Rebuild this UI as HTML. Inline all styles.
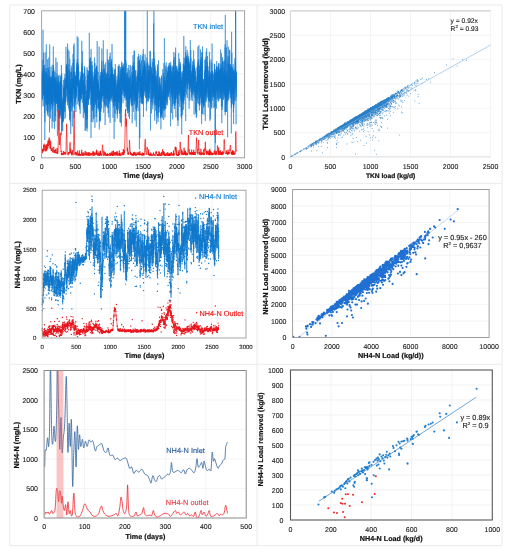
<!DOCTYPE html>
<html lang="en"><head><meta charset="utf-8"><title>Figure</title>
<style>html,body{margin:0;padding:0;background:#fff}svg{display:block}</style></head>
<body>
<svg width="510" height="550" viewBox="0 0 510 550" text-rendering="geometricPrecision" font-family='&quot;Liberation Sans&quot;, sans-serif'>
<rect width="510" height="550" fill="#fff"/>
<line x1="9.8" y1="5" x2="502" y2="5" stroke="#e9e9e9" stroke-width="0.9"/>
<line x1="9.8" y1="183.6" x2="502" y2="183.6" stroke="#e9e9e9" stroke-width="0.9"/>
<line x1="9.8" y1="364.3" x2="502" y2="364.3" stroke="#e9e9e9" stroke-width="0.9"/>
<line x1="9.8" y1="545.6" x2="502" y2="545.6" stroke="#e9e9e9" stroke-width="0.9"/>
<line x1="9.8" y1="5" x2="9.8" y2="545.6" stroke="#e9e9e9" stroke-width="0.9"/>
<line x1="257" y1="5" x2="257" y2="545.6" stroke="#e9e9e9" stroke-width="0.9"/>
<line x1="502" y1="5" x2="502" y2="545.6" stroke="#e9e9e9" stroke-width="0.9"/>
<line x1="75.4" y1="10.8" x2="75.4" y2="157.8" stroke="#ececec" stroke-width="0.7"/>
<line x1="109.3" y1="10.8" x2="109.3" y2="157.8" stroke="#ececec" stroke-width="0.7"/>
<line x1="143.1" y1="10.8" x2="143.1" y2="157.8" stroke="#ececec" stroke-width="0.7"/>
<line x1="176.9" y1="10.8" x2="176.9" y2="157.8" stroke="#ececec" stroke-width="0.7"/>
<line x1="210.8" y1="10.8" x2="210.8" y2="157.8" stroke="#ececec" stroke-width="0.7"/>
<line x1="41.6" y1="136.8" x2="244.6" y2="136.8" stroke="#ececec" stroke-width="0.7"/>
<line x1="41.6" y1="115.8" x2="244.6" y2="115.8" stroke="#ececec" stroke-width="0.7"/>
<line x1="41.6" y1="94.8" x2="244.6" y2="94.8" stroke="#ececec" stroke-width="0.7"/>
<line x1="41.6" y1="73.8" x2="244.6" y2="73.8" stroke="#ececec" stroke-width="0.7"/>
<line x1="41.6" y1="52.8" x2="244.6" y2="52.8" stroke="#ececec" stroke-width="0.7"/>
<line x1="41.6" y1="31.8" x2="244.6" y2="31.8" stroke="#ececec" stroke-width="0.7"/>
<clipPath id="c1"><rect x="41.6" y="10.8" width="203" height="147"/></clipPath>
<path d="M41.6,90.6 41.6,79.1 41.7,101.9 41.7,78.3 41.7,82.6 41.8,90.6 41.8,80.6 41.8,70.8 41.9,102 41.9,106.5 41.9,82 42,79.7 42,72.8 42,89.9 42.1,75.6 42.1,86.6 42.1,71.1 42.2,88.2 42.2,79.7 42.2,83.2 42.3,99.3 42.3,84.6 42.3,75.9 42.4,79.1 42.4,99.5 42.4,95.4 42.5,89.5 42.5,90.4 42.5,95.5 42.6,82.2 42.6,98.7 42.6,79.3 42.7,86.1 42.7,80 42.8,59.8 42.8,84.6 42.8,88.4 42.9,91.1 42.9,94.6 42.9,85.1 43,29.7 43,79.9 43,76.8 43.1,75.2 43.1,81.3 43.1,82.8 43.2,80.4 43.2,68.2 43.2,91.1 43.3,82.3 43.3,76.1 43.3,76.3 43.4,75 43.4,72.1 43.4,65.9 43.5,82.8 43.5,52.8 43.5,64.6 43.6,74.6 43.6,82.9 43.6,94.4 43.7,79.8 43.7,106.3 43.7,90.1 43.8,93.8 43.8,65.7 43.8,84.2 43.9,68.4 43.9,95.7 43.9,81.7 44,77.6 44,70.8 44,82 44.1,88.1 44.1,80.7 44.1,75.3 44.2,73.8 44.2,87.5 44.2,82.5 44.3,90.8 44.3,98.6 44.3,85.4 44.4,70.5 44.4,88.1 44.4,82.2 44.5,95.8 44.5,76.9 44.5,87.1 44.6,100.6 44.6,86.5 44.6,92.8 44.7,64.8 44.7,113 44.7,75.7 44.8,140 44.8,95.2 44.8,81.7 44.9,71.7 44.9,81 44.9,78.3 45,73 45,121.9 45.1,52.4 45.1,88.2 45.1,81.1 45.2,90.5 45.2,84.1 45.2,89 45.3,93.1 45.3,96.4 45.3,92.8 45.4,99.6 45.4,100.6 45.4,103.6 45.5,91.1 45.5,85.3 45.5,85.9 45.6,93.1 45.6,90.6 45.6,99.9 45.7,94.8 45.7,80.4 45.7,81.4 45.8,82.3 45.8,80.1 45.8,89.5 45.9,68.1 45.9,93.7 45.9,84.4 46,80.1 46,91.9 46,105.8 46.1,91.5 46.1,93.7 46.1,93.9 46.2,71.7 46.2,91.4 46.2,87.8 46.3,96.4 46.3,92.2 46.3,44.4 46.4,89.4 46.4,74.5 46.4,77.9 46.5,92.1 46.5,104.3 46.5,75.1 46.6,78 46.6,91.2 46.6,95.7 46.7,90.2 46.7,84.5 46.7,110.8 46.8,85 46.8,102.5 46.8,92.9 46.9,73.4 46.9,82.8 46.9,105 47,88.1 47,73 47,84.1 47.1,87.9 47.1,94.4 47.1,86.6 47.2,91.2 47.2,67.9 47.3,97.9 47.3,89.5 47.3,94.6 47.4,115.1 47.4,85.6 47.4,103.1 47.5,93.2 47.5,75.1 47.5,88.9 47.6,59.2 47.6,96.6 47.6,91.3 47.7,112.9 47.7,102 47.7,105.6 47.8,108.8 47.8,77.1 47.8,90.2 47.9,111.8 47.9,111.4 47.9,95.6 48,103.2 48,88.6 48,93.4 48.1,86.7 48.1,90.9 48.1,104.1 48.2,82.3 48.2,102.2 48.2,85.8 48.3,80.6 48.3,116.6 48.3,106.4 48.4,103.1 48.4,96.9 48.4,103.1 48.5,83.3 48.5,91.5 48.5,102.9 48.6,95 48.6,86.5 48.6,69.3 48.7,81 48.7,67.4 48.7,72.1 48.8,71.2 48.8,57.6 48.8,89.8 48.9,76.7 48.9,82.2 48.9,85 49,88 49,104.4 49,93.2 49.1,78.3 49.1,74.8 49.1,94.4 49.2,91.8 49.2,102 49.2,75.8 49.3,82.8 49.3,98.6 49.3,82.3 49.4,95.2 49.4,83.9 49.4,71.6 49.5,84 49.5,132.4 49.6,87.8 49.6,106.4 49.6,92.1 49.7,92.2 49.7,77.4 49.7,44.4 49.8,92 49.8,86 49.8,85.8 49.9,93.7 49.9,90.2 49.9,101.2 50,101.1 50,80.9 50,94.5 50.1,84.1 50.1,103.1 50.1,112.2 50.2,82 50.2,93.3 50.2,80.7 50.3,78 50.3,89.3 50.3,93.6 50.4,96.9 50.4,118.5 50.4,91.9 50.5,100.7 50.5,86 50.5,95.7 50.6,93.6 50.6,80.5 50.6,81.2 50.7,76.9 50.7,96.4 50.7,94.3 50.8,76.6 50.8,98.2 50.8,79.3 50.9,81.1 50.9,77 50.9,81.5 51,93.4 51,66.8 51,80.8 51.1,103.4 51.1,88.2 51.1,109.5 51.2,100.2 51.2,81.4 51.2,97.5 51.3,98.1 51.3,84.6 51.3,81.7 51.4,83.6 51.4,87.6 51.4,89.4 51.5,96.3 51.5,103.3 51.5,77.3 51.6,86.4 51.6,90 51.6,98.9 51.7,93.8 51.7,84.3 51.8,94.4 51.8,87.3 51.8,87.9 51.9,100.9 51.9,105 51.9,84.6 52,98.1 52,92.2 52,103.9 52.1,96.4 52.1,128.4 52.1,83.1 52.2,81.4 52.2,75.4 52.2,78 52.3,64.9 52.3,81.2 52.3,96.4 52.4,121.1 52.4,89.2 52.4,82.3 52.5,78 52.5,78.3 52.5,107.7 52.6,89.6 52.6,99.1 52.6,70.9 52.7,77.2 52.7,95.1 52.7,97.9 52.8,93.3 52.8,81.5 52.8,92.1 52.9,86.5 52.9,88.4 52.9,71.8 53,105.8 53,98.9 53,78.3 53.1,77.4 53.1,81.7 53.1,74.3 53.2,84.4 53.2,81.1 53.2,86.8 53.3,82 53.3,46.4 53.3,82.1 53.4,87.8 53.4,102.3 53.4,78.3 53.5,71.6 53.5,65.1 53.5,78 53.6,88.6 53.6,83.5 53.6,83.2 53.7,67.5 53.7,82.9 53.7,81.2 53.8,122.1 53.8,73 53.8,70 53.9,75.5 53.9,89.5 53.9,71.4 54,74.7 54,87.4 54.1,79.8 54.1,101.8 54.1,77.4 54.2,88.2 54.2,79.4 54.2,81.4 54.3,93 54.3,75.9 54.3,81 54.4,87.3 54.4,101.5 54.4,86.2 54.5,95.6 54.5,93.3 54.5,81 54.6,82.9 54.6,129 54.6,84.6 54.7,90.8 54.7,95.9 54.7,97.8 54.8,95.2 54.8,101.3 54.8,95.1 54.9,93.6 54.9,91.5 54.9,85.7 55,86.4 55,106 55,71.8 55.1,87.4 55.1,78.9 55.1,83 55.2,84.3 55.2,95.8 55.2,99.1 55.3,93 55.3,116.2 55.3,87.1 55.4,77.5 55.4,95.8 55.4,80.4 55.5,103.1 55.5,94.8 55.5,87.3 55.6,103.4 55.6,99.9 55.6,121.2 55.7,100.4 55.7,90.4 55.7,88.8 55.8,82.5 55.8,85 55.8,90.9 55.9,57.6 55.9,83.3 55.9,87.8 56,85.5 56,88.9 56,92.4 56.1,83.4 56.1,87.9 56.1,89.5 56.2,96.4 56.2,102.5 56.2,93.1 56.3,101.4 56.3,76.9 56.4,97 56.4,94 56.4,84.3 56.5,103.6 56.5,81.5 56.5,94.3 56.6,90.7 56.6,81.4 56.6,103.7 56.7,92.9 56.7,89.6 56.7,93.1 56.8,101.5 56.8,89.1 56.8,88.5 56.9,83.1 56.9,101.9 56.9,97.6 57,103.6 57,73.6 57,103.2 57.1,102.1 57.1,96.9 57.1,62.1 57.2,101.3 57.2,86.7 57.2,96.1 57.3,95.6 57.3,111.5 57.3,85.4 57.4,135.7 57.4,105.3 57.4,106.9 57.5,100.1 57.5,90.4 57.5,106.2 57.6,82.4 57.6,93.6 57.6,101.5 57.7,104 57.7,89.8 57.7,92 57.8,92.2 57.8,89.5 57.8,91.6 57.9,94.1 57.9,95.1 57.9,88.6 58,82.3 58,95.3 58,97.3 58.1,76.3 58.1,101.8 58.1,88.7 58.2,87.1 58.2,78.6 58.2,89.6 58.3,86 58.3,82 58.3,90 58.4,80.6 58.4,81.8 58.4,75.3 58.5,99.8 58.5,91 58.6,92.2 58.6,92.1 58.6,89 58.7,101.4 58.7,100.8 58.7,117.9 58.8,94.6 58.8,108.6 58.8,106.7 58.9,95.4 58.9,90.8 58.9,130.2 59,81.5 59,102.8 59,100.9 59.1,102.5 59.1,95 59.1,97.2 59.2,92.4 59.2,108.7 59.2,95 59.3,92.2 59.3,108.6 59.3,85.5 59.4,107.8 59.4,82.1 59.4,115.9 59.5,90.3 59.5,91.4 59.5,93.5 59.6,91.7 59.6,93.5 59.6,97.5 59.7,108.6 59.7,84.5 59.7,117 59.8,89.1 59.8,74.8 59.8,103.6 59.9,94.3 59.9,100.9 59.9,98.3 60,118.9 60,87.2 60,89.8 60.1,100.9 60.1,113.5 60.1,102.4 60.2,98.8 60.2,102.4 60.2,93.1 60.3,113.5 60.3,104.6 60.3,92.5 60.4,91.2 60.4,100.1 60.4,107.6 60.5,98.8 60.5,106.7 60.5,81.4 60.6,98.4 60.6,102.2 60.6,103.1 60.7,115.7 60.7,92.1 60.7,96.2 60.8,76.3 60.8,81.3 60.9,93.6 60.9,80.3 60.9,107.2 61,101.5 61,101 61,102.9 61.1,100.4 61.1,96.6 61.1,97.8 61.2,76 61.2,95.4 61.2,92.3 61.3,89.3 61.3,76.7 61.3,84.5 61.4,98.8 61.4,65 61.4,82.4 61.5,110.2 61.5,91.7 61.5,96.6 61.6,101.8 61.6,135.4 61.6,101.7 61.7,100.3 61.7,97 61.7,92.4 61.8,87.9 61.8,73.5 61.8,92.2 61.9,103.3 61.9,117.9 61.9,92.2 62,84.4 62,91.3 62,131.1 62.1,106.3 62.1,122 62.1,121.6 62.2,106.6 62.2,109.2 62.2,109.7 62.3,117.8 62.3,111.3 62.3,111.9 62.4,123.5 62.4,100.4 62.4,108.1 62.5,120.3 62.5,102.1 62.5,118.2 62.6,105.3 62.6,118.1 62.6,124.4 62.7,130.9 62.7,122.9 62.7,119.3 62.8,108.5 62.8,105.5 62.8,98.1 62.9,105.8 62.9,121.5 62.9,113.2 63,118 63,117.2 63.1,101.4 63.1,101.9 63.1,112.9 63.2,120.9 63.2,115 63.2,98.2 63.3,95.3 63.3,100.5 63.3,121.8 63.4,111.6 63.4,110.1 63.4,98.9 63.5,87.7 63.5,99.5 63.5,117.2 63.6,114.1 63.6,97.3 63.6,80 63.7,113.3 63.7,106.7 63.7,97 63.8,99.4 63.8,87.9 63.8,110.9 63.9,90 63.9,119.3 63.9,108 64,101.8 64,105.8 64,99.9 64.1,102.8 64.1,92.8 64.1,90.3 64.2,112.2 64.2,102.7 64.2,99.5 64.3,96.8 64.3,93.5 64.3,77.9 64.4,92.2 64.4,86.1 64.4,94.2 64.5,86.4 64.5,100.8 64.5,99.4 64.6,94 64.6,87.5 64.6,104.1 64.7,103.6 64.7,100.4 64.7,102.6 64.8,102.5 64.8,94.5 64.8,92.4 64.9,73.9 64.9,93.8 64.9,83.9 65,96.7 65,91.3 65,101.8 65.1,111.4 65.1,95.8 65.1,86.3 65.2,91.2 65.2,79.8 65.2,81.8 65.3,118.4 65.3,94.6 65.4,80.2 65.4,84.6 65.4,84.4 65.5,100.7 65.5,96.8 65.5,95.2 65.6,92 65.6,102.2 65.6,84 65.7,80.4 65.7,87.5 65.7,96 65.8,84.9 65.8,99.1 65.8,96 65.9,84.1 65.9,101.8 65.9,76 66,46.8 66,75.9 66,79.2 66.1,86.8 66.1,78.7 66.1,90.1 66.2,77.6 66.2,81.8 66.2,69.8 66.3,65.8 66.3,75.2 66.3,81.1 66.4,88.9 66.4,78.8 66.4,81.1 66.5,80.2 66.5,79.1 66.5,63.9 66.6,76 66.6,84.1 66.6,83.5 66.7,70.3 66.7,76 66.7,88.9 66.8,78.3 66.8,76.9 66.8,65.2 66.9,68.8 66.9,96.8 66.9,88.9 67,72.6 67,84.8 67,70.9 67.1,71.3 67.1,67.7 67.1,81.1 67.2,80.3 67.2,66.2 67.2,89.2 67.3,87.4 67.3,78.2 67.3,84.3 67.4,81.9 67.4,76.7 67.4,92.3 67.5,82.2 67.5,105.2 67.6,43.5 67.6,76.1 67.6,72.1 67.7,67.1 67.7,81.1 67.7,74.8 67.8,79.5 67.8,69.7 67.8,76.5 67.9,80.6 67.9,49.1 67.9,81.3 68,94.6 68,81.2 68,64.1 68.1,73.1 68.1,101.9 68.1,76.7 68.2,79.7 68.2,87.7 68.2,87.5 68.3,85.7 68.3,99.5 68.3,90.6 68.4,107.8 68.4,93.1 68.4,84 68.5,81 68.5,86.8 68.5,87.8 68.6,80.8 68.6,86.1 68.6,89 68.7,100.7 68.7,85.3 68.7,82.6 68.8,84.2 68.8,92.4 68.8,80.7 68.9,95.6 68.9,84.3 68.9,90 69,89.7 69,81.2 69,50.8 69.1,101.9 69.1,110.4 69.1,82.9 69.2,103.2 69.2,101.1 69.2,91.3 69.3,96.9 69.3,69.6 69.3,94.6 69.4,89.6 69.4,86.8 69.4,76 69.5,71.9 69.5,84.8 69.5,93.6 69.6,92.2 69.6,71.5 69.6,96.4 69.7,119 69.7,89.7 69.7,119.9 69.8,58.8 69.8,84.5 69.9,91.4 69.9,88.4 69.9,104.7 70,101.3 70,114.8 70,86.4 70.1,93 70.1,101.6 70.1,88.7 70.2,121.7 70.2,97.4 70.2,100.3 70.3,92.3 70.3,88.4 70.3,112 70.4,103.1 70.4,83.8 70.4,79.4 70.5,85.6 70.5,108.6 70.5,102.1 70.6,106.6 70.6,89.6 70.6,71.7 70.7,90.6 70.7,134.1 70.7,96.5 70.8,94.4 70.8,100.7 70.8,101.9 70.9,81.5 70.9,102.2 70.9,89.1 71,95.8 71,91.1 71,102.5 71.1,89.8 71.1,85.6 71.1,94.5 71.2,86.6 71.2,88.9 71.2,65.5 71.3,95.6 71.3,82.6 71.3,80.1 71.4,99.3 71.4,83.4 71.4,76.4 71.5,72.5 71.5,96.4 71.5,88.3 71.6,94.7 71.6,100.3 71.6,72.3 71.7,111.5 71.7,84.2 71.7,93.8 71.8,83.5 71.8,101.6 71.8,67.9 71.9,103.1 71.9,92.3 71.9,87.8 72,86.3 72,107.9 72,108.1 72.1,98.4 72.1,94.5 72.2,85.8 72.2,90.4 72.2,81.2 72.3,106.2 72.3,126.6 72.3,98 72.4,102.6 72.4,81.8 72.4,99.8 72.5,86.7 72.5,88.1 72.5,105.1 72.6,86.9 72.6,105.8 72.6,78.6 72.7,97.6 72.7,89.8 72.7,79.5 72.8,81.2 72.8,82.1 72.8,63 72.9,69.5 72.9,85.1 72.9,83.2 73,54.1 73,69.2 73,86.9 73.1,78.6 73.1,88.9 73.1,87.5 73.2,88.5 73.2,76.5 73.2,84.1 73.3,87.4 73.3,75.6 73.3,94.5 73.4,79.5 73.4,86.7 73.4,74.2 73.5,83.9 73.5,72.2 73.5,79.3 73.6,72.4 73.6,73.6 73.6,84.4 73.7,73.2 73.7,79.9 73.7,45.6 73.8,77.2 73.8,99.8 73.8,106.8 73.9,85.6 73.9,75.2 73.9,59.2 74,79.7 74,84.7 74,87.7 74.1,43.4 74.1,85.5 74.1,89.2 74.2,73.7 74.2,91.3 74.2,98.5 74.3,89 74.3,118.1 74.4,71.8 74.4,90.1 74.4,95.5 74.5,97.9 74.5,94 74.5,101.9 74.6,77.2 74.6,108.9 74.6,84.5 74.7,85.2 74.7,86.5 74.7,98.5 74.8,96.7 74.8,88.4 74.8,81.6 74.9,85.4 74.9,98.4 74.9,89.4 75,83.1 75,83.8 75,71.7 75.1,96.2 75.1,90.8 75.1,95.2 75.2,95.9 75.2,87.9 75.2,82.9 75.3,98.8 75.3,87.7 75.3,99.6 75.4,93.1 75.4,77.8 75.4,87.9 75.5,75.6 75.5,99.6 75.5,102.4 75.6,77.4 75.6,85.8 75.6,75.7 75.7,80.3 75.7,80.2 75.7,104.4 75.8,83.6 75.8,75.7 75.8,82.6 75.9,81.2 75.9,112 75.9,93.1 76,91.9 76,94.7 76,91.7 76.1,89.9 76.1,90.6 76.1,98.5 76.2,79 76.2,78.6 76.2,87 76.3,76.8 76.3,91.7 76.3,86.6 76.4,75.6 76.4,93.1 76.4,88.1 76.5,90 76.5,89.9 76.5,80.4 76.6,96.5 76.6,85 76.7,92.1 76.7,84.4 76.7,82.5 76.8,68.7 76.8,76.3 76.8,84.8 76.9,64.2 76.9,82.7 76.9,76 77,85.5 77,70.2 77,66.7 77.1,82.7 77.1,62.5 77.1,76.2 77.2,68.5 77.2,36.2 77.2,70.8 77.3,59 77.3,83.4 77.3,85.2 77.4,63.2 77.4,74.1 77.4,84.6 77.5,79.3 77.5,70.5 77.5,77.2 77.6,78.1 77.6,70.5 77.6,75.1 77.7,65.9 77.7,76 77.7,73 77.8,104.4 77.8,64.8 77.8,87.1 77.9,68.6 77.9,71.1 77.9,62.3 78,75.5 78,69.5 78,74.7 78.1,69.5 78.1,37.6 78.1,80.7 78.2,76.2 78.2,72 78.2,80 78.3,84.6 78.3,86.7 78.3,81 78.4,85.3 78.4,80.3 78.4,101.3 78.5,65.5 78.5,67.3 78.5,89.7 78.6,86.6 78.6,80.4 78.6,67.2 78.7,93.3 78.7,96.1 78.7,85.6 78.8,77.1 78.8,71.6 78.9,97.6 78.9,82.5 78.9,78.8 79,99.2 79,95.8 79,83.8 79.1,93.4 79.1,91.5 79.1,100.9 79.2,100.6 79.2,80.2 79.2,105.8 79.3,91.5 79.3,101.1 79.3,98.9 79.4,106.9 79.4,95.1 79.4,90.2 79.5,86 79.5,91 79.5,106.4 79.6,91.3 79.6,96.4 79.6,82.7 79.7,96.3 79.7,109.3 79.7,89.1 79.8,98.9 79.8,94.6 79.8,93.5 79.9,95.8 79.9,99 79.9,81.9 80,98.3 80,85.3 80,102.4 80.1,95.3 80.1,93.7 80.1,80.3 80.2,113.8 80.2,95.3 80.2,85.6 80.3,90.5 80.3,90 80.3,87.8 80.4,92.2 80.4,92.7 80.4,92.8 80.5,79.5 80.5,96.8 80.5,89.2 80.6,92.1 80.6,91.4 80.6,85.3 80.7,80.7 80.7,88.1 80.7,76.5 80.8,97.9 80.8,91 80.8,100.5 80.9,93.4 80.9,72.6 80.9,71.7 81,79.5 81,82.7 81,81.6 81.1,96.5 81.1,93.4 81.2,96.2 81.2,94.4 81.2,74.6 81.3,93.2 81.3,84 81.3,90.4 81.4,89.4 81.4,76.3 81.4,99.1 81.5,98.7 81.5,86 81.5,88.7 81.6,83 81.6,99 81.6,66.7 81.7,85 81.7,70.8 81.7,59 81.8,40.8 81.8,69.8 81.8,65.8 81.9,62.9 81.9,87.5 81.9,71.2 82,88.2 82,74.6 82,91.9 82.1,74.6 82.1,90.1 82.1,78.8 82.2,89.5 82.2,65.8 82.2,69.4 82.3,92.4 82.3,102.8 82.3,80.2 82.4,73 82.4,51.2 82.4,71.2 82.5,75.9 82.5,80.9 82.5,88.3 82.6,85.2 82.6,72.4 82.6,86.8 82.7,72.3 82.7,94.4 82.7,84.8 82.8,82.2 82.8,89 82.8,81.3 82.9,82.9 82.9,81.4 82.9,86.2 83,87.4 83,82 83,94.4 83.1,80.8 83.1,90.1 83.1,81.6 83.2,94.4 83.2,91.1 83.2,84.7 83.3,80.4 83.3,118.1 83.4,80.2 83.4,108.4 83.4,101.5 83.5,95.6 83.5,73.8 83.5,94.9 83.6,92.2 83.6,86.8 83.6,85.6 83.7,102.5 83.7,103.4 83.7,104.4 83.8,93.5 83.8,86.7 83.8,95.7 83.9,81.2 83.9,106.5 83.9,87.6 84,87.9 84,87.6 84,86.9 84.1,92.5 84.1,92.8 84.1,103.2 84.2,102.6 84.2,88.8 84.2,103.6 84.3,94 84.3,113.4 84.3,72.6 84.4,110.7 84.4,85.3 84.4,82.5 84.5,99.8 84.5,80.8 84.5,112.3 84.6,79.8 84.6,66.1 84.6,81.7 84.7,97.2 84.7,67.6 84.7,96 84.8,83.6 84.8,101.3 84.8,76.6 84.9,76.9 84.9,90.3 84.9,90.8 85,75.5 85,76.5 85,88.2 85.1,86.6 85.1,131 85.1,90.5 85.2,91.4 85.2,91.1 85.2,94.1 85.3,85.9 85.3,96.2 85.3,101 85.4,102.3 85.4,99.5 85.4,106.2 85.5,105.4 85.5,111.2 85.5,115.3 85.6,100.4 85.6,100 85.7,103.5 85.7,113.5 85.7,98.3 85.8,124.4 85.8,129.9 85.8,111.2 85.9,98.7 85.9,107 85.9,91.4 86,107 86,118.9 86,96.2 86.1,101.8 86.1,101.5 86.1,115.2 86.2,112.5 86.2,127.4 86.2,108.9 86.3,115.4 86.3,107.4 86.3,106.1 86.4,105.8 86.4,100.6 86.4,98.4 86.5,112.1 86.5,103.2 86.5,99.8 86.6,105.7 86.6,102.1 86.6,112.4 86.7,90.6 86.7,109.4 86.7,119.9 86.8,103.6 86.8,114 86.8,93.8 86.9,110.9 86.9,108.3 86.9,107.5 87,67.3 87,131.4 87,92.7 87.1,80 87.1,96.5 87.1,102 87.2,100.8 87.2,92.7 87.2,89.7 87.3,119.9 87.3,128.4 87.3,96.8 87.4,69.7 87.4,83.6 87.4,92.5 87.5,83.8 87.5,104.8 87.5,118.8 87.6,85.8 87.6,75.1 87.6,92.5 87.7,87.4 87.7,78.7 87.7,93.6 87.8,84.7 87.8,85 87.9,81.6 87.9,93.5 87.9,96.8 88,101.1 88,82.1 88,90.6 88.1,91.7 88.1,74 88.1,78.7 88.2,76.3 88.2,90 88.2,99.6 88.3,88.3 88.3,94.7 88.3,98.8 88.4,86.9 88.4,75.7 88.4,77.6 88.5,104.7 88.5,71.1 88.5,84.5 88.6,105 88.6,89.4 88.6,91.8 88.7,83.2 88.7,77.8 88.7,91.3 88.8,88.6 88.8,77 88.8,81.2 88.9,96.3 88.9,75.4 88.9,82.3 89,75 89,82.4 89,97.9 89.1,76.6 89.1,90.4 89.1,70.5 89.2,90 89.2,73.4 89.2,69.9 89.3,69.5 89.3,32.8 89.3,56.4 89.4,94.6 89.4,65.3 89.4,83.3 89.5,99.4 89.5,85 89.5,72.5 89.6,77.1 89.6,74.2 89.6,82.6 89.7,82.5 89.7,82.5 89.7,71.4 89.8,67.5 89.8,88.3 89.8,63.7 89.9,58.8 89.9,79.7 89.9,73 90,71.9 90,58.7 90,82.2 90.1,74.7 90.1,72.9 90.2,73.4 90.2,91.2 90.2,72.3 90.3,78.3 90.3,78.2 90.3,65.8 90.4,76.5 90.4,87.7 90.4,57.3 90.5,79.8 90.5,72.3 90.5,86.3 90.6,84.2 90.6,89.9 90.6,70.8 90.7,78.7 90.7,73.6 90.7,77.4 90.8,62.4 90.8,104.9 90.8,91.9 90.9,61.9 90.9,68.1 90.9,66.9 91,96.8 91,137.9 91,70.7 91.1,76.3 91.1,48.9 91.1,78.5 91.2,74.7 91.2,85 91.2,76.2 91.3,93.1 91.3,79.4 91.3,69.8 91.4,84.6 91.4,82.6 91.4,104.5 91.5,77 91.5,86.2 91.5,84.1 91.6,121.8 91.6,104.8 91.6,70.4 91.7,90.9 91.7,79.2 91.7,85.7 91.8,81.6 91.8,78.9 91.8,80.2 91.9,110.4 91.9,92.5 91.9,85.2 92,61.1 92,73.4 92,91.7 92.1,100.1 92.1,84.9 92.1,76.4 92.2,89.5 92.2,91.9 92.2,90.2 92.3,86.3 92.3,83.8 92.3,89.9 92.4,86 92.4,84.5 92.5,101.1 92.5,84.5 92.5,73.5 92.6,83.3 92.6,75.9 92.6,65.3 92.7,90.9 92.7,111.2 92.7,98.7 92.8,97.2 92.8,88.1 92.8,106.5 92.9,81.9 92.9,100.5 92.9,122.3 93,108.2 93,97.5 93,99.9 93.1,81 93.1,93.1 93.1,102.1 93.2,88.3 93.2,95.9 93.2,86.5 93.3,105.1 93.3,109.8 93.3,85.5 93.4,109 93.4,93.1 93.4,102 93.5,98.9 93.5,87.9 93.5,96.1 93.6,109.7 93.6,118.2 93.6,119.1 93.7,97.5 93.7,89.1 93.7,90.6 93.8,91.8 93.8,82.3 93.8,117.2 93.9,92.1 93.9,79.6 93.9,87.4 94,83.1 94,75.7 94,90.4 94.1,71.9 94.1,89.1 94.1,97.1 94.2,80.1 94.2,76.8 94.2,83.9 94.3,88.1 94.3,77.9 94.3,77.6 94.4,76.2 94.4,91 94.4,87.7 94.5,57.5 94.5,107.5 94.5,92.2 94.6,69.8 94.6,93.4 94.7,91.4 94.7,90 94.7,74 94.8,90.9 94.8,86.7 94.8,77.7 94.9,127.8 94.9,91.6 94.9,85.9 95,96.6 95,93.5 95,63.1 95.1,102.3 95.1,73.9 95.1,83.4 95.2,80.3 95.2,93 95.2,101.8 95.3,86.8 95.3,88.3 95.3,82.7 95.4,80.2 95.4,82.2 95.4,89.1 95.5,87.8 95.5,89 95.5,88.3 95.6,83.5 95.6,103.6 95.6,79.8 95.7,88.4 95.7,91.3 95.7,104.9 95.8,68 95.8,95.4 95.8,83.9 95.9,86.5 95.9,74.7 95.9,102.4 96,92.8 96,90.8 96,74.6 96.1,80.3 96.1,88.2 96.1,97 96.2,117 96.2,69 96.2,72.9 96.3,69.4 96.3,84.6 96.3,65.6 96.4,88.8 96.4,87.7 96.4,90 96.5,113.1 96.5,71.3 96.5,99.2 96.6,99.8 96.6,79.1 96.6,66.4 96.7,79.5 96.7,87.5 96.7,87.6 96.8,66.5 96.8,122.4 96.8,83.4 96.9,83.9 96.9,84.9 97,73.8 97,70.4 97,82.5 97.1,92.1 97.1,92.5 97.1,79.3 97.2,41.1 97.2,72.9 97.2,82.2 97.3,93.5 97.3,99.4 97.3,98.1 97.4,84.3 97.4,80.9 97.4,91.7 97.5,108.5 97.5,90 97.5,95.8 97.6,89 97.6,87 97.6,99.9 97.7,82.1 97.7,84.4 97.7,95.7 97.8,95.8 97.8,79.2 97.8,85.9 97.9,80 97.9,90.5 97.9,89.2 98,85.1 98,87.2 98,86.1 98.1,98.7 98.1,96.6 98.1,86.7 98.2,71.9 98.2,96.1 98.2,96.5 98.3,82.8 98.3,98 98.3,83.3 98.4,92 98.4,97 98.4,88.6 98.5,107.4 98.5,90.2 98.5,83.4 98.6,107.4 98.6,104.2 98.6,101.5 98.7,101.3 98.7,90.3 98.7,95.7 98.8,97.1 98.8,90.9 98.8,96.1 98.9,92.1 98.9,110.1 98.9,94.9 99,111.4 99,106.2 99,104.5 99.1,86.8 99.1,46.5 99.2,93.1 99.2,91.9 99.2,91.4 99.3,89.9 99.3,105 99.3,129.5 99.4,102.9 99.4,103.7 99.4,101.3 99.5,101 99.5,102.7 99.5,105.2 99.6,102.5 99.6,104 99.6,100.9 99.7,120.5 99.7,92.9 99.7,105 99.8,101 99.8,120.8 99.8,104.4 99.9,91 99.9,104.6 99.9,101 100,103.1 100,91.1 100,75.5 100.1,94.8 100.1,121.7 100.1,117.4 100.2,98.1 100.2,87.1 100.2,102.9 100.3,120.5 100.3,108.3 100.3,111.3 100.4,101.4 100.4,95.2 100.4,99.1 100.5,78.4 100.5,95.3 100.5,107.3 100.6,105.1 100.6,98.8 100.6,107.5 100.7,100.5 100.7,87.7 100.7,89.8 100.8,75.2 100.8,98.4 100.8,95.6 100.9,89.2 100.9,94 100.9,71.9 101,111.8 101,90.5 101,87.4 101.1,89.8 101.1,89.4 101.1,72.2 101.2,74.6 101.2,88.7 101.2,96.8 101.3,93.1 101.3,86.8 101.3,84 101.4,101.8 101.4,68.9 101.5,84.3 101.5,95.2 101.5,72.7 101.6,96.2 101.6,90.6 101.6,61.1 101.7,97.9 101.7,77.6 101.7,108.6 101.8,73.6 101.8,87.7 101.8,48.6 101.9,85.7 101.9,95.3 101.9,85.2 102,100.2 102,89.8 102,75.8 102.1,84.3 102.1,76.5 102.1,89.9 102.2,81.1 102.2,86.9 102.2,79.3 102.3,84.7 102.3,91 102.3,72 102.4,92.2 102.4,95.9 102.4,82 102.5,97.6 102.5,79.6 102.5,82.5 102.6,80.3 102.6,83.9 102.6,90.3 102.7,82.8 102.7,84.1 102.7,83.8 102.8,78.3 102.8,86.3 102.8,84.3 102.9,86.2 102.9,92 102.9,78.8 103,71.7 103,70.4 103,91.2 103.1,69 103.1,80.8 103.1,74.1 103.2,81.5 103.2,102 103.2,60.7 103.3,70.4 103.3,40.3 103.3,71.9 103.4,82.6 103.4,74.5 103.4,95.5 103.5,89 103.5,89.5 103.5,80.9 103.6,85.5 103.6,95.1 103.7,82.9 103.7,85.7 103.7,112.8 103.8,85.5 103.8,92.1 103.8,83.8 103.9,84.4 103.9,96 103.9,86.4 104,73.2 104,78.5 104,85 104.1,80.2 104.1,79.8 104.1,75 104.2,90.1 104.2,90.9 104.2,69.6 104.3,84.7 104.3,68.3 104.3,102.9 104.4,99.2 104.4,92.3 104.4,97 104.5,104.9 104.5,104.7 104.5,89.6 104.6,80.6 104.6,77.4 104.6,97.5 104.7,90.7 104.7,97.2 104.7,64.5 104.8,85.3 104.8,94.2 104.8,90.9 104.9,93.7 104.9,86.2 104.9,107.5 105,101.3 105,104.1 105,88.5 105.1,88 105.1,100.9 105.1,125.1 105.2,92.7 105.2,83.9 105.2,71.6 105.3,79.2 105.3,80.8 105.3,85.4 105.4,81.7 105.4,90.2 105.4,92 105.5,84.1 105.5,86.7 105.5,98.8 105.6,96.2 105.6,79.8 105.6,62.5 105.7,97 105.7,99.3 105.7,94.8 105.8,81.3 105.8,86.8 105.8,91.2 105.9,106 105.9,90.1 106,73.4 106,76.1 106,89.4 106.1,82.1 106.1,80.1 106.1,74.1 106.2,81.2 106.2,79.6 106.2,98.1 106.3,94 106.3,82.7 106.3,83.1 106.4,78.9 106.4,97.2 106.4,105.1 106.5,83.5 106.5,93.5 106.5,87.5 106.6,94.7 106.6,84 106.6,78.5 106.7,83.8 106.7,96.5 106.7,81.4 106.8,96.2 106.8,94.1 106.8,87.4 106.9,107.1 106.9,87.8 106.9,87.8 107,95.4 107,88 107,74.9 107.1,96.4 107.1,72.8 107.1,90 107.2,92.1 107.2,80.4 107.2,49.2 107.3,71.3 107.3,78.7 107.3,80.4 107.4,81 107.4,89.7 107.4,71.9 107.5,82.3 107.5,98.8 107.5,92.1 107.6,108.1 107.6,87.4 107.6,80.8 107.7,80.1 107.7,96.2 107.7,92.3 107.8,59.3 107.8,78.4 107.8,88.4 107.9,78.3 107.9,80.6 107.9,101.8 108,96.7 108,76 108,75.3 108.1,87.3 108.1,73 108.2,89.3 108.2,113.4 108.2,96.6 108.3,84.8 108.3,94.2 108.3,88.5 108.4,96.8 108.4,77.9 108.4,104.9 108.5,108 108.5,81.4 108.5,91.5 108.6,60.2 108.6,83.1 108.6,79.3 108.7,94.4 108.7,83.6 108.7,95.2 108.8,85.1 108.8,117.5 108.8,90.8 108.9,89 108.9,98.5 108.9,93.3 109,63 109,102 109,104 109.1,90.7 109.1,82.6 109.1,95.6 109.2,89.3 109.2,87.2 109.2,84.8 109.3,87.1 109.3,82.1 109.3,84.1 109.4,101.9 109.4,90.2 109.4,89.8 109.5,101.1 109.5,91.2 109.5,94 109.6,95.6 109.6,94.7 109.6,98.9 109.7,74.7 109.7,56.6 109.7,91.6 109.8,86.8 109.8,75.6 109.8,82.2 109.9,90.1 109.9,87.5 109.9,78.2 110,81.8 110,94.5 110,97.8 110.1,82.7 110.1,82.4 110.1,122.8 110.2,93.9 110.2,63.4 110.2,52.7 110.3,83.9 110.3,100.4 110.3,77.9 110.4,74.3 110.4,81.9 110.5,80.1 110.5,91.7 110.5,87.6 110.6,77.7 110.6,74.4 110.6,98.4 110.7,90.6 110.7,83 110.7,92.3 110.8,62 110.8,83.6 110.8,74.3 110.9,85.3 110.9,85.1 110.9,81.8 111,89.3 111,85.2 111,82.6 111.1,77.8 111.1,87.4 111.1,100.8 111.2,83.5 111.2,59 111.2,87.6 111.3,89.2 111.3,76.6 111.3,84.7 111.4,80.7 111.4,81.9 111.4,88.6 111.5,60.6 111.5,98.5 111.5,81 111.6,84.6 111.6,95.2 111.6,94.3 111.7,64.6 111.7,95.7 111.7,84.9 111.8,91.6 111.8,96.9 111.8,81.7 111.9,69.5 111.9,93.7 111.9,76.8 112,78.3 112,86.1 112,44.1 112.1,57.5 112.1,81.2 112.1,79.5 112.2,78.5 112.2,70.3 112.2,102.4 112.3,73.2 112.3,88.1 112.3,72.3 112.4,83.9 112.4,85.6 112.4,76.3 112.5,82.5 112.5,85.3 112.5,86.4 112.6,91.4 112.6,80.9 112.7,84.7 112.7,84.7 112.7,89.7 112.8,90.4 112.8,71.9 112.8,67.2 112.9,91.9 112.9,82.2 112.9,76.2 113,74.3 113,117.8 113,89.4 113.1,96.7 113.1,99.1 113.1,78.9 113.2,93.1 113.2,95.4 113.2,92.4 113.3,74.8 113.3,107.4 113.3,87.4 113.4,95.2 113.4,80.8 113.4,85.7 113.5,105.5 113.5,79.6 113.5,88.5 113.6,79.7 113.6,92 113.6,80.4 113.7,74.4 113.7,98.6 113.7,95.1 113.8,88 113.8,87.8 113.8,92.6 113.9,93.5 113.9,77.5 113.9,100.1 114,96.7 114,79.5 114,95.9 114.1,99 114.1,98.9 114.1,138.9 114.2,78 114.2,106 114.2,98.8 114.3,97.3 114.3,103 114.3,100.8 114.4,96 114.4,74.4 114.4,81.8 114.5,92.6 114.5,91.1 114.5,102 114.6,78.2 114.6,82.6 114.6,86.3 114.7,96.8 114.7,84.4 114.7,97.4 114.8,69.4 114.8,79.6 114.8,83.9 114.9,92.6 114.9,71.4 115,121.9 115,69.1 115,84.3 115.1,88.1 115.1,99.7 115.1,108 115.2,113.7 115.2,90.6 115.2,100.8 115.3,81.8 115.3,83.2 115.3,63.9 115.4,96.5 115.4,79.5 115.4,101 115.5,81.4 115.5,81.4 115.5,93.1 115.6,86.9 115.6,88.3 115.6,84.6 115.7,95.7 115.7,101.2 115.7,84.5 115.8,86.5 115.8,94.7 115.8,100.8 115.9,90 115.9,95.5 115.9,85.7 116,96.3 116,89.2 116,93.7 116.1,106.2 116.1,88 116.1,96.2 116.2,92.2 116.2,86.2 116.2,105.7 116.3,105.5 116.3,103.9 116.3,97.5 116.4,92.5 116.4,94.8 116.4,89.8 116.5,102.6 116.5,96.3 116.5,92.1 116.6,102.9 116.6,105.1 116.6,97.2 116.7,109.7 116.7,90 116.7,83.9 116.8,76.2 116.8,102.4 116.8,103.3 116.9,109.6 116.9,104 116.9,94.4 117,96.9 117,83.6 117,107.4 117.1,96.9 117.1,100 117.1,107.3 117.2,114.4 117.2,80.9 117.3,96 117.3,118.5 117.3,92.2 117.4,95.4 117.4,80.4 117.4,90.2 117.5,86.8 117.5,97.4 117.5,93.9 117.6,87 117.6,101.6 117.6,113.4 117.7,84.9 117.7,88.5 117.7,98.5 117.8,87 117.8,109.2 117.8,104.7 117.9,97.2 117.9,110.9 117.9,97.6 118,94.8 118,79.6 118,81.5 118.1,74.1 118.1,85.3 118.1,65.8 118.2,108.4 118.2,84.5 118.2,93.4 118.3,89.9 118.3,86.6 118.3,85.3 118.4,79.1 118.4,92.3 118.4,100.3 118.5,89 118.5,67.1 118.5,84.1 118.6,89.2 118.6,101.7 118.6,84.8 118.7,87.8 118.7,75 118.7,97.1 118.8,71 118.8,86.8 118.8,89.1 118.9,102.7 118.9,88.6 118.9,96.4 119,64.2 119,94.4 119,81.8 119.1,95.1 119.1,82.5 119.1,88.7 119.2,86.6 119.2,97 119.2,70.9 119.3,66 119.3,90.6 119.3,97.3 119.4,78 119.4,85.5 119.5,90.4 119.5,103.1 119.5,80.4 119.6,113.4 119.6,102 119.6,92.7 119.7,92.2 119.7,88.9 119.7,90.6 119.8,97.3 119.8,89.7 119.8,93.6 119.9,87.6 119.9,87.9 119.9,113.9 120,102.5 120,87.1 120,122.3 120.1,94.9 120.1,90.6 120.1,94.7 120.2,83.4 120.2,101.3 120.2,87.2 120.3,89.2 120.3,80.3 120.3,84.2 120.4,69.9 120.4,82.8 120.4,76.6 120.5,73.4 120.5,79.3 120.5,67.1 120.6,82.7 120.6,94.8 120.6,90.6 120.7,107.3 120.7,122.8 120.7,91.7 120.8,87.2 120.8,81.2 120.8,78.1 120.9,100.8 120.9,90.1 120.9,111.4 121,78.7 121,91.6 121,88.7 121.1,107.3 121.1,107.7 121.1,76.5 121.2,79.3 121.2,91 121.2,92.7 121.3,97.3 121.3,89.4 121.3,68.9 121.4,95.7 121.4,109.9 121.4,126.3 121.5,94.8 121.5,76.1 121.5,104.9 121.6,78.1 121.6,100.6 121.6,84.7 121.7,78.8 121.7,61.6 121.8,72.6 121.8,88.1 121.8,92.7 121.9,68.5 121.9,63 121.9,64.4 122,66.5 122,83.6 122,74.8 122.1,75 122.1,79.7 122.1,67.5 122.2,86.6 122.2,70.8 122.2,78.6 122.3,65.5 122.3,77.5 122.3,75.8 122.4,80.5 122.4,75 122.4,94.9 122.5,76.2 122.5,68.5 122.5,70.9 122.6,76.9 122.6,69.7 122.6,86 122.7,90.9 122.7,78.6 122.7,78.6 122.8,73.4 122.8,70.8 122.8,73.2 122.9,89.5 122.9,83 122.9,85.5 123,75.8 123,103.2 123,66.3 123.1,75.4 123.1,68.2 123.1,80 123.2,87.2 123.2,70.8 123.2,81.6 123.3,66.9 123.3,86.4 123.3,87.1 123.4,84 123.4,85.5 123.4,73.7 123.5,73.6 123.5,63.6 123.5,81.1 123.6,67 123.6,73.1 123.6,86.2 123.7,91.1 123.7,88.7 123.7,80.9 123.8,76.6 123.8,87.9 123.8,92.9 123.9,92.4 123.9,79.6 124,77.1 124,96 124,87.5 124.1,67.6 124.1,85.1 124.1,89.9 124.2,77.3 124.2,79.1 124.2,89.4 124.3,78.9 124.3,75.8 124.3,81.1 124.4,79.5 124.4,96.2 124.4,81.1 124.5,90.8 124.5,-1.8 124.5,78.1 124.6,72.2 124.6,79.8 124.6,81.1 124.7,88.4 124.7,97.9 124.7,92.4 124.8,82.6 124.8,93.2 124.8,74.1 124.9,97.7 124.9,96.7 124.9,90.7 125,-8.1 125,92.8 125,85.5 125.1,88.9 125.1,85.7 125.1,100.3 125.2,90.4 125.2,90.6 125.2,94 125.3,95.2 125.3,79.4 125.3,89.3 125.4,-1.8 125.4,90.9 125.4,89.7 125.5,87.7 125.5,74.2 125.5,84.5 125.6,87.1 125.6,89.1 125.6,89.6 125.7,88.6 125.7,80 125.7,87.5 125.8,6.6 125.8,82.9 125.8,60.6 125.9,79.3 125.9,77.5 125.9,85.2 126,63.3 126,70.7 126,79.2 126.1,80.4 126.1,96.5 126.1,74.5 126.2,106.9 126.2,103.1 126.3,92 126.3,81.1 126.3,76.9 126.4,79 126.4,93.7 126.4,81.7 126.5,80 126.5,82.3 126.5,78.4 126.6,95.7 126.6,100.2 126.6,87 126.7,90.3 126.7,90.6 126.7,86.3 126.8,77.3 126.8,73.5 126.8,99.8 126.9,73.5 126.9,86.7 126.9,91.7 127,79.5 127,82.4 127,89.2 127.1,84.8 127.1,103.1 127.1,111.1 127.2,95.1 127.2,83.4 127.2,88.2 127.3,77.2 127.3,90.2 127.3,109.1 127.4,101.4 127.4,89.2 127.4,86.4 127.5,99.2 127.5,101.9 127.5,82.8 127.6,90.6 127.6,72.3 127.6,88.6 127.7,113.4 127.7,95.9 127.7,97 127.8,101.9 127.8,68.1 127.8,109.4 127.9,76.4 127.9,103.9 127.9,89.4 128,97.5 128,108.6 128,93.2 128.1,107.8 128.1,104.4 128.1,86 128.2,84.5 128.2,89.3 128.2,112.7 128.3,92.4 128.3,83.6 128.3,96.4 128.4,78.1 128.4,81.6 128.5,87.8 128.5,96.2 128.5,79.4 128.6,89.4 128.6,80.1 128.6,84.5 128.7,97.2 128.7,87.6 128.7,69.5 128.8,65 128.8,77.9 128.8,116.8 128.9,93.4 128.9,100.3 128.9,88.9 129,112.3 129,101.5 129,89 129.1,104.5 129.1,99.4 129.1,97.9 129.2,96 129.2,94.6 129.2,105.6 129.3,70 129.3,93.7 129.3,92 129.4,79.4 129.4,86.5 129.4,98.9 129.5,96.3 129.5,119.1 129.5,97.3 129.6,77.1 129.6,89.7 129.6,96.9 129.7,82.8 129.7,80.1 129.7,103.9 129.8,87.9 129.8,83.3 129.8,83 129.9,97.3 129.9,81.4 129.9,92.6 130,96.6 130,94.4 130,98.1 130.1,83.8 130.1,78 130.1,96.6 130.2,92.1 130.2,90.7 130.2,88.5 130.3,64.9 130.3,68.1 130.3,92.5 130.4,87.4 130.4,85.6 130.4,92 130.5,91.3 130.5,89.4 130.5,85.1 130.6,87.9 130.6,84.1 130.6,75.6 130.7,75.3 130.7,94.9 130.8,84.2 130.8,87.7 130.8,93.5 130.9,87 130.9,92.7 130.9,96.7 131,94.1 131,78.7 131,99.5 131.1,90.7 131.1,86.2 131.1,102.3 131.2,66.5 131.2,99.5 131.2,92.9 131.3,95.2 131.3,106.1 131.3,94 131.4,88.8 131.4,91.7 131.4,101.8 131.5,87.8 131.5,97.3 131.5,94.4 131.6,89.3 131.6,84.2 131.6,89.1 131.7,91.1 131.7,105 131.7,71.9 131.8,88.3 131.8,93.4 131.8,91.1 131.9,83.1 131.9,98.1 131.9,95.6 132,98.9 132,102.5 132,97 132.1,96.6 132.1,94.3 132.1,93.2 132.2,99.6 132.2,123.3 132.2,88.3 132.3,88.3 132.3,83.3 132.3,106.4 132.4,86.1 132.4,88 132.4,85.9 132.5,94.1 132.5,74.4 132.5,96.5 132.6,99 132.6,92.1 132.6,79.6 132.7,65.2 132.7,86 132.7,78.9 132.8,73.4 132.8,93.5 132.8,93.5 132.9,77.1 132.9,87.6 132.9,84.7 133,84.7 133,55.2 133.1,104.6 133.1,82.4 133.1,74.4 133.2,76.6 133.2,76.3 133.2,94 133.3,111.9 133.3,73.3 133.3,87.5 133.4,66.4 133.4,91 133.4,62 133.5,90.7 133.5,73.1 133.5,89.8 133.6,89.2 133.6,74.3 133.6,82.5 133.7,90.4 133.7,100.6 133.7,68 133.8,94.6 133.8,77.5 133.8,95.3 133.9,80.9 133.9,67.7 133.9,79.3 134,72.4 134,64.6 134,72.7 134.1,77.4 134.1,78.5 134.1,90.9 134.2,51 134.2,85.8 134.2,67.5 134.3,101.5 134.3,85.6 134.3,80.7 134.4,50.4 134.4,90.6 134.4,67.5 134.5,69.4 134.5,68.3 134.5,104.5 134.6,101.2 134.6,78.2 134.6,90.2 134.7,76 134.7,80 134.7,72.1 134.8,89.2 134.8,97.9 134.8,98 134.9,75.8 134.9,80.3 134.9,85 135,89.5 135,120.5 135,83.6 135.1,89.8 135.1,77.6 135.1,78.2 135.2,79.3 135.2,77.9 135.3,96.7 135.3,82.4 135.3,83.8 135.4,90.3 135.4,101 135.4,80.5 135.5,70.6 135.5,73.4 135.5,85.5 135.6,87.8 135.6,90.5 135.6,97.4 135.7,94 135.7,94.3 135.7,101.1 135.8,91.5 135.8,89 135.8,89.7 135.9,109.5 135.9,94.7 135.9,69.9 136,96 136,88 136,84.7 136.1,81 136.1,90.3 136.1,100.7 136.2,77.3 136.2,107.3 136.2,98.9 136.3,93.9 136.3,126.8 136.3,88.6 136.4,83.5 136.4,95.9 136.4,86 136.5,104.7 136.5,89.3 136.5,111.2 136.6,81.8 136.6,83.4 136.6,90.1 136.7,96.9 136.7,101.1 136.7,94.1 136.8,90 136.8,88.7 136.8,94.5 136.9,86.3 136.9,81.4 136.9,75.9 137,86.1 137,81.3 137,96.7 137.1,83.1 137.1,102 137.1,98.8 137.2,94.7 137.2,105.4 137.2,101.5 137.3,97.1 137.3,90.3 137.3,82.8 137.4,83.1 137.4,108 137.4,87.3 137.5,89.8 137.5,79.5 137.6,74.8 137.6,84 137.6,80.3 137.7,91.5 137.7,91.7 137.7,84.7 137.8,90.6 137.8,56.8 137.8,83.2 137.9,90.4 137.9,93.8 137.9,76.4 138,79.9 138,98.1 138,73.2 138.1,83.2 138.1,111.1 138.1,70.8 138.2,85.7 138.2,84.9 138.2,62.7 138.3,78.1 138.3,78.5 138.3,83.7 138.4,86.3 138.4,73.8 138.4,92.5 138.5,72.6 138.5,60.4 138.5,77.5 138.6,53.8 138.6,60.8 138.6,73 138.7,72.3 138.7,69.4 138.7,85.3 138.8,63.4 138.8,65.5 138.8,61.1 138.9,85.3 138.9,56.3 138.9,61.9 139,65.9 139,75.4 139,68.7 139.1,60.7 139.1,62.7 139.1,68.5 139.2,68.3 139.2,61.6 139.2,65.5 139.3,80.3 139.3,72.6 139.3,77.3 139.4,79.1 139.4,69 139.4,149.4 139.5,70.3 139.5,69.7 139.5,73 139.6,69.3 139.6,66.2 139.6,59.5 139.7,84.7 139.7,75.4 139.8,74 139.8,78.9 139.8,80.2 139.9,137.9 139.9,83.8 139.9,91.4 140,91.8 140,85.9 140,78.9 140.1,86.1 140.1,87.1 140.1,72.8 140.2,69.4 140.2,91.8 140.2,69.5 140.3,77.4 140.3,70.8 140.3,81.6 140.4,73.8 140.4,63.4 140.4,76.3 140.5,83.5 140.5,91.4 140.5,69 140.6,97.5 140.6,71.4 140.6,84.6 140.7,76 140.7,81.8 140.7,55 140.8,88.4 140.8,94.9 140.8,85.4 140.9,76.5 140.9,102.7 140.9,82.1 141,72.7 141,83.8 141,89.4 141.1,89.3 141.1,95.5 141.1,90.4 141.2,95.8 141.2,95 141.2,87.5 141.3,76.5 141.3,84.2 141.3,103.1 141.4,103.6 141.4,76.7 141.4,81.3 141.5,98.8 141.5,60.4 141.5,72.9 141.6,85.4 141.6,94.5 141.6,98.7 141.7,78.3 141.7,86.9 141.7,83.6 141.8,90.2 141.8,86.8 141.8,82.8 141.9,75.7 141.9,89.5 141.9,87.4 142,103.4 142,76.5 142.1,82.9 142.1,78.7 142.1,95.4 142.2,97.3 142.2,84.3 142.2,103.1 142.3,86 142.3,65.2 142.3,56.4 142.4,104.2 142.4,77.9 142.4,85.4 142.5,89.5 142.5,95.7 142.5,76.6 142.6,92.1 142.6,79.7 142.6,95.3 142.7,98.5 142.7,70.9 142.7,102.7 142.8,80.1 142.8,83 142.8,100.1 142.9,103.5 142.9,88.2 142.9,86.4 143,75.6 143,85.3 143,53.9 143.1,84.3 143.1,87.7 143.1,88.2 143.2,98.1 143.2,92.3 143.2,70.2 143.3,75.7 143.3,49.1 143.3,95.5 143.4,66.7 143.4,82.6 143.4,69.7 143.5,81.9 143.5,116.8 143.5,81.6 143.6,94.1 143.6,85.4 143.6,82.8 143.7,87.8 143.7,78.8 143.7,79.6 143.8,83.7 143.8,77.7 143.8,75.3 143.9,84.6 143.9,90.3 143.9,88.7 144,92.6 144,87.9 144,91 144.1,88.6 144.1,83.5 144.1,60.2 144.2,95.7 144.2,91.3 144.3,66.1 144.3,86 144.3,86.1 144.4,91.3 144.4,71 144.4,62.7 144.5,72.3 144.5,68.9 144.5,83.6 144.6,83.2 144.6,67.4 144.6,75.5 144.7,67.4 144.7,79 144.7,64.7 144.8,66.4 144.8,77.5 144.8,61.1 144.9,86.9 144.9,64 144.9,76 145,75 145,77.9 145,77.9 145.1,76.1 145.1,54.4 145.1,63.9 145.2,83 145.2,77.2 145.2,70.8 145.3,80.9 145.3,90.3 145.3,69.5 145.4,79.2 145.4,67.6 145.4,76.6 145.5,71.1 145.5,76.8 145.5,73.6 145.6,69.8 145.6,75.1 145.6,84.5 145.7,66.5 145.7,69.6 145.7,97.9 145.8,76.3 145.8,92.7 145.8,97.6 145.9,89.4 145.9,85.8 145.9,87.3 146,84.6 146,91.5 146,91.8 146.1,93.1 146.1,84.9 146.1,90.8 146.2,86.4 146.2,83.3 146.2,92.5 146.3,87.1 146.3,80.3 146.3,88.2 146.4,86.2 146.4,82.6 146.4,111.2 146.5,77.7 146.5,92.6 146.6,84.6 146.6,87.7 146.6,94.1 146.7,85 146.7,103.7 146.7,81.1 146.8,85.8 146.8,57.5 146.8,75.1 146.9,73 146.9,97.8 146.9,86.7 147,79.5 147,74.9 147,63.1 147.1,79.1 147.1,70.1 147.1,78.7 147.2,78 147.2,76.7 147.2,82.6 147.3,75.1 147.3,-1.8 147.3,74.4 147.4,75.6 147.4,85.9 147.4,90.4 147.5,68.4 147.5,87 147.5,78 147.6,88 147.6,70.8 147.6,69.9 147.7,72 147.7,61.9 147.7,73.6 147.8,100.7 147.8,77.8 147.8,75.1 147.9,79.9 147.9,92.8 147.9,86.8 148,63.9 148,97.5 148,102.1 148.1,70.5 148.1,89.6 148.1,79.3 148.2,79.9 148.2,100.9 148.2,85 148.3,73.2 148.3,79.6 148.3,83.3 148.4,96.9 148.4,77.2 148.4,85.3 148.5,87.3 148.5,90.5 148.5,95.7 148.6,66 148.6,98.1 148.6,83.4 148.7,82.3 148.7,83.8 148.8,82 148.8,88.8 148.8,82.5 148.9,74.5 148.9,74.6 148.9,80.9 149,93.3 149,79.9 149,83.2 149.1,87.9 149.1,92.1 149.1,74.1 149.2,70 149.2,73.3 149.2,90.9 149.3,90.9 149.3,98.1 149.3,87 149.4,72.4 149.4,79.5 149.4,92.4 149.5,84.3 149.5,85.2 149.5,89.7 149.6,72.5 149.6,77.3 149.6,89.5 149.7,65.1 149.7,78.5 149.7,77.2 149.8,83.7 149.8,86.1 149.8,82.5 149.9,74 149.9,77.4 149.9,84.1 150,99.4 150,85.5 150,83.7 150.1,72.9 150.1,78.7 150.1,51.5 150.2,83.3 150.2,50.7 150.2,76.5 150.3,69.2 150.3,72.6 150.3,77.5 150.4,65.2 150.4,75 150.4,76.2 150.5,71.9 150.5,62 150.5,130.5 150.6,64 150.6,77.7 150.6,83.6 150.7,75.6 150.7,77.8 150.7,69.7 150.8,67.9 150.8,82.4 150.8,69.9 150.9,71.7 150.9,73.2 150.9,70 151,77 151,67.3 151.1,68.3 151.1,75.2 151.1,66.9 151.2,72.2 151.2,79.3 151.2,87.4 151.3,89.1 151.3,86 151.3,90.5 151.4,102 151.4,85.3 151.4,84 151.5,113.5 151.5,87 151.5,75.4 151.6,79.7 151.6,79.8 151.6,73 151.7,73.1 151.7,83.4 151.7,70.2 151.8,82.4 151.8,75.5 151.8,78 151.9,91 151.9,97.9 151.9,93.3 152,94.1 152,75.5 152,97.7 152.1,87.6 152.1,105.3 152.1,92.1 152.2,74.2 152.2,90.4 152.2,58.7 152.3,88.1 152.3,88.7 152.3,90.5 152.4,85.3 152.4,84.7 152.4,76.8 152.5,91.8 152.5,75.3 152.5,96.2 152.6,82.9 152.6,85.6 152.6,84.4 152.7,62.1 152.7,81.3 152.7,76.2 152.8,97.6 152.8,109.3 152.8,105.7 152.9,81.6 152.9,76.5 152.9,102.8 153,85.3 153,91.8 153,96.9 153.1,83.1 153.1,92.3 153.1,80.5 153.2,87.2 153.2,89.7 153.2,84.9 153.3,98.9 153.3,90.3 153.4,84.5 153.4,83.3 153.4,81 153.5,67.4 153.5,90.5 153.5,75.8 153.6,73.8 153.6,23.4 153.6,91 153.7,84.8 153.7,89.6 153.7,68.3 153.8,88.3 153.8,52.4 153.8,91 153.9,91.7 153.9,83.7 153.9,-1.8 154,87.9 154,89.3 154,78.9 154.1,77.5 154.1,80.3 154.1,83.9 154.2,105.2 154.2,84.8 154.2,69.1 154.3,62 154.3,84.9 154.3,73.3 154.4,80.3 154.4,94.5 154.4,77.6 154.5,80.4 154.5,78.1 154.5,84.1 154.6,77 154.6,58.5 154.6,79.2 154.7,120.7 154.7,94.4 154.7,89.1 154.8,76 154.8,83.8 154.8,75.6 154.9,76.1 154.9,81 154.9,85.3 155,83.7 155,81.2 155,96 155.1,82.1 155.1,65.5 155.1,103.8 155.2,68.7 155.2,97.3 155.2,84.2 155.3,101.3 155.3,84.3 155.3,83.6 155.4,78 155.4,95.7 155.4,80.8 155.5,83.5 155.5,82.5 155.6,92.3 155.6,98.2 155.6,88.7 155.7,84.2 155.7,110.6 155.7,91.8 155.8,91.1 155.8,92.8 155.8,91.1 155.9,99.7 155.9,105.6 155.9,91.4 156,97.6 156,75.8 156,84.4 156.1,87.2 156.1,70.8 156.1,93.8 156.2,98.1 156.2,95.7 156.2,95.2 156.3,88.4 156.3,104.7 156.3,76.4 156.4,93.6 156.4,98.9 156.4,111.8 156.5,114.2 156.5,105.3 156.5,86.2 156.6,99.1 156.6,101.5 156.6,124.2 156.7,111.4 156.7,97.6 156.7,90.4 156.8,104.3 156.8,86 156.8,86.2 156.9,93.7 156.9,84 156.9,80.2 157,91.4 157,81.2 157,115.9 157.1,93.1 157.1,86.8 157.1,93.1 157.2,85.8 157.2,78.2 157.2,80.5 157.3,91.1 157.3,74.4 157.3,92.5 157.4,86.5 157.4,75.6 157.4,64.4 157.5,84 157.5,85.8 157.5,89.3 157.6,83 157.6,92.3 157.6,103.3 157.7,84 157.7,88.9 157.7,66.9 157.8,92.4 157.8,87 157.9,107 157.9,103.5 157.9,92.9 158,92.9 158,122.1 158,104.3 158.1,92.6 158.1,93.9 158.1,118 158.2,109.3 158.2,96.6 158.2,93.1 158.3,113 158.3,94.6 158.3,107.2 158.4,89.2 158.4,98.3 158.4,95.5 158.5,93.9 158.5,60.2 158.5,108.6 158.6,105.3 158.6,100.7 158.6,86.4 158.7,85.3 158.7,93.2 158.7,96 158.8,88.8 158.8,89 158.8,99 158.9,94.3 158.9,96.4 158.9,96.2 159,90.9 159,88.8 159,100.8 159.1,79.5 159.1,94 159.1,93.2 159.2,95.9 159.2,92.7 159.2,87.4 159.3,112.3 159.3,97.6 159.3,100.7 159.4,98.3 159.4,106.8 159.4,89.5 159.5,77.7 159.5,76.6 159.5,86.3 159.6,95 159.6,97.4 159.6,84.1 159.7,94.9 159.7,78.4 159.7,94.9 159.8,94.1 159.8,100.4 159.8,96 159.9,100.8 159.9,92.3 159.9,81.9 160,91 160,78.4 160.1,94.9 160.1,92 160.1,85.9 160.2,88.5 160.2,98.3 160.2,86.6 160.3,95.4 160.3,99.8 160.3,98.2 160.4,93 160.4,100.3 160.4,107.1 160.5,94.3 160.5,118.3 160.5,99 160.6,109.1 160.6,104.8 160.6,96.3 160.7,114.1 160.7,105.5 160.7,111.4 160.8,115.1 160.8,113.7 160.8,101.1 160.9,108.9 160.9,84 160.9,129.4 161,111.3 161,111.8 161,99.2 161.1,93.5 161.1,86.6 161.1,100.1 161.2,108.1 161.2,109.3 161.2,106 161.3,95.6 161.3,113.3 161.3,99.3 161.4,116.7 161.4,76.7 161.4,117.1 161.5,115.4 161.5,95.7 161.5,100.7 161.6,98.6 161.6,75.4 161.6,104 161.7,96.1 161.7,87.4 161.7,107.1 161.8,107.5 161.8,106.8 161.8,103.2 161.9,113 161.9,100 161.9,106.3 162,111.8 162,114.5 162,110.5 162.1,97.3 162.1,103.2 162.1,95.9 162.2,106.6 162.2,110.9 162.2,97.6 162.3,109.9 162.3,100.3 162.4,92.8 162.4,109.4 162.4,100.4 162.5,118.4 162.5,114.6 162.5,103.1 162.6,104.4 162.6,107.8 162.6,95.7 162.7,106.3 162.7,95.5 162.7,91.6 162.8,93.4 162.8,69.2 162.8,75.8 162.9,83.4 162.9,97.1 162.9,104.8 163,107.3 163,89.2 163,92.8 163.1,102.4 163.1,90.4 163.1,92.4 163.2,90.4 163.2,77.6 163.2,88.3 163.3,85.2 163.3,93.6 163.3,88.8 163.4,97.1 163.4,94.3 163.4,73 163.5,97.3 163.5,80.5 163.5,95.8 163.6,108.4 163.6,86.8 163.6,86.5 163.7,81 163.7,120.1 163.7,81.9 163.8,110.8 163.8,92.3 163.8,80.8 163.9,90 163.9,63.2 163.9,79.4 164,84.6 164,85.1 164,98.4 164.1,82.2 164.1,99.1 164.1,105.3 164.2,96.4 164.2,107.5 164.2,107.8 164.3,87 164.3,95.5 164.3,95.7 164.4,108.6 164.4,38.1 164.4,103 164.5,76.2 164.5,101.3 164.6,107.4 164.6,107.8 164.6,93.1 164.7,87.2 164.7,110.2 164.7,107.9 164.8,89 164.8,94 164.8,98.3 164.9,92.2 164.9,96.8 164.9,96.8 165,117.4 165,91 165,88.9 165.1,100.2 165.1,91.9 165.1,101.8 165.2,80 165.2,103.7 165.2,109 165.3,106.6 165.3,108.1 165.3,109 165.4,80.5 165.4,90.8 165.4,89 165.5,86.3 165.5,96.2 165.5,94.3 165.6,94.8 165.6,96.9 165.6,98.5 165.7,101.7 165.7,85.6 165.7,101.1 165.8,108.8 165.8,84.7 165.8,65.5 165.9,92.3 165.9,68.8 165.9,99.1 166,91 166,92.6 166,85.6 166.1,86.3 166.1,94 166.1,96.2 166.2,62.3 166.2,90 166.2,97.8 166.3,85.4 166.3,99.1 166.3,92.8 166.4,87.1 166.4,84.6 166.4,93.9 166.5,82 166.5,93.1 166.5,100.9 166.6,76 166.6,85.2 166.6,104.8 166.7,86.8 166.7,83.1 166.7,93.8 166.8,96.1 166.8,91.7 166.9,85.2 166.9,81.6 166.9,82.3 167,94.1 167,85.9 167,84.3 167.1,97 167.1,77.9 167.1,81.1 167.2,88.7 167.2,77.5 167.2,105.5 167.3,66.9 167.3,85.6 167.3,79.7 167.4,73.9 167.4,89.5 167.4,79.7 167.5,87.2 167.5,93.5 167.5,88.3 167.6,73.4 167.6,74.9 167.6,103.1 167.7,91.8 167.7,71.2 167.7,90.9 167.8,90.4 167.8,91.1 167.8,71.7 167.9,76 167.9,90.9 167.9,93.8 168,82.7 168,81.5 168,89.4 168.1,88.6 168.1,77.1 168.1,74.9 168.2,82.4 168.2,86.8 168.2,70.4 168.3,92.7 168.3,96.6 168.3,85.7 168.4,95.7 168.4,73.3 168.4,65.9 168.5,65.3 168.5,67.9 168.5,78.4 168.6,67.2 168.6,76.6 168.6,92.5 168.7,71.8 168.7,74.9 168.7,87.8 168.8,87.3 168.8,97.4 168.8,74.9 168.9,70.9 168.9,75.6 168.9,71.7 169,76.9 169,80.4 169.1,78.5 169.1,91.2 169.1,62.8 169.2,90.5 169.2,66.6 169.2,79.6 169.3,76.5 169.3,70.2 169.3,67.9 169.4,77.3 169.4,67.3 169.4,78.8 169.5,77.6 169.5,69.7 169.5,85 169.6,71.8 169.6,78.9 169.6,93.9 169.7,71.6 169.7,68 169.7,76.2 169.8,67.7 169.8,78.3 169.8,63.3 169.9,75.8 169.9,81.7 169.9,100.3 170,76.6 170,69.8 170,74.7 170.1,73.4 170.1,91.2 170.1,82.7 170.2,86.9 170.2,84.7 170.2,76.8 170.3,73.7 170.3,74.3 170.3,64.9 170.4,82.4 170.4,83.3 170.4,80.8 170.5,82.7 170.5,69.7 170.5,118.6 170.6,126.3 170.6,66.7 170.6,83.8 170.7,61.7 170.7,70.2 170.7,75.4 170.8,79.6 170.8,74.6 170.8,71.8 170.9,74.6 170.9,81.6 170.9,93.2 171,81.5 171,75.5 171,83.1 171.1,96.7 171.1,86.3 171.1,84.8 171.2,81.1 171.2,66.5 171.2,71.4 171.3,79.6 171.3,76.4 171.4,87 171.4,83.7 171.4,71.6 171.5,71.1 171.5,82.5 171.5,113.1 171.6,82.3 171.6,79 171.6,82.6 171.7,94.2 171.7,93.1 171.7,93.4 171.8,83.4 171.8,88.3 171.8,82.6 171.9,87.5 171.9,80.5 171.9,94.8 172,89.7 172,85.4 172,88.4 172.1,97.9 172.1,86.9 172.1,75.9 172.2,84.6 172.2,71.4 172.2,79.2 172.3,65.4 172.3,74.9 172.3,76.9 172.4,87.6 172.4,84.2 172.4,91.3 172.5,87.5 172.5,86.5 172.5,80.6 172.6,68.1 172.6,82.1 172.6,106.3 172.7,103.3 172.7,84.9 172.7,119.4 172.8,102.9 172.8,78.8 172.8,103.8 172.9,87.4 172.9,86.5 172.9,99.4 173,93.7 173,77.5 173,85.4 173.1,79.9 173.1,92.8 173.1,86.9 173.2,67 173.2,87.2 173.2,83 173.3,75.7 173.3,92.9 173.3,82.4 173.4,72.7 173.4,83.6 173.4,80.7 173.5,70.2 173.5,59.8 173.5,85.7 173.6,76.7 173.6,78.5 173.7,79 173.7,78.8 173.7,85.7 173.8,52 173.8,80.2 173.8,77.6 173.9,83.3 173.9,76.6 173.9,104 174,81.3 174,80.6 174,80.2 174.1,90.6 174.1,96.1 174.1,77.7 174.2,94.7 174.2,101.3 174.2,93.7 174.3,97.2 174.3,57.3 174.3,84.6 174.4,83.6 174.4,86.7 174.4,87.6 174.5,108.9 174.5,85.8 174.5,84.8 174.6,105.8 174.6,79.5 174.6,66.3 174.7,105 174.7,90.7 174.7,105.7 174.8,75.1 174.8,81.2 174.8,84.3 174.9,103.3 174.9,99.6 174.9,75 175,75 175,95.7 175,77.5 175.1,73.7 175.1,77.8 175.1,70.7 175.2,96.7 175.2,85.4 175.2,72.8 175.3,53.1 175.3,76 175.3,87.3 175.4,97 175.4,85.3 175.4,60.5 175.5,89.3 175.5,87.3 175.5,99.3 175.6,47.6 175.6,102.8 175.6,83.9 175.7,84.1 175.7,79.9 175.7,87.3 175.8,98.7 175.8,111.4 175.9,117.3 175.9,87.7 175.9,77.2 176,94.9 176,86 176,97.9 176.1,80.8 176.1,88.3 176.1,77.1 176.2,79.6 176.2,70.3 176.2,79.9 176.3,87.1 176.3,82.4 176.3,71.2 176.4,88.3 176.4,95.5 176.4,85.5 176.5,76 176.5,86.6 176.5,75.7 176.6,79.6 176.6,75.9 176.6,78.6 176.7,65.7 176.7,68 176.7,98.9 176.8,97.6 176.8,91.3 176.8,66.6 176.9,83.4 176.9,68.6 176.9,71.4 177,79.8 177,92.1 177,84.6 177.1,87.5 177.1,69.6 177.1,76.2 177.2,89.4 177.2,88.6 177.2,75.3 177.3,88.8 177.3,81.5 177.3,102.8 177.4,71.4 177.4,75.8 177.4,83 177.5,94 177.5,85.9 177.5,83.7 177.6,87.8 177.6,95.4 177.6,90.9 177.7,88.2 177.7,93.2 177.7,103.3 177.8,120.1 177.8,81.9 177.8,120.5 177.9,91.6 177.9,90.5 177.9,70.5 178,126 178,86.8 178,86.7 178.1,100.2 178.1,104.1 178.2,91.7 178.2,94.3 178.2,89.3 178.3,87.5 178.3,83.5 178.3,80.3 178.4,87.8 178.4,82.1 178.4,72.2 178.5,81.6 178.5,78.2 178.5,85.7 178.6,81.3 178.6,78.7 178.6,75.7 178.7,68.2 178.7,70 178.7,53.1 178.8,90.8 178.8,75.9 178.8,86.3 178.9,91.9 178.9,72 178.9,75.4 179,73.3 179,76.1 179,76.7 179.1,66.3 179.1,64.5 179.1,85.2 179.2,71.1 179.2,83 179.2,93.6 179.3,80.3 179.3,95.6 179.3,84 179.4,74.5 179.4,92.4 179.4,58.8 179.5,91.5 179.5,79.4 179.5,71.2 179.6,77.8 179.6,85.1 179.6,86.3 179.7,82.1 179.7,78.2 179.7,87.8 179.8,106.1 179.8,106.9 179.8,85.5 179.9,82.2 179.9,82.5 179.9,85.5 180,88.6 180,89.8 180,82.9 180.1,83.7 180.1,83.5 180.1,78.7 180.2,68.6 180.2,80.5 180.2,90.9 180.3,81.1 180.3,64.2 180.4,87.1 180.4,99.1 180.4,62 180.5,72.7 180.5,78.1 180.5,77.7 180.6,90 180.6,66 180.6,77.6 180.7,77.4 180.7,87.5 180.7,80.8 180.8,93.1 180.8,77.9 180.8,76.7 180.9,80.8 180.9,91.7 180.9,87.8 181,77.5 181,100.7 181,84.1 181.1,82.3 181.1,116.9 181.1,108.6 181.2,103.3 181.2,93.6 181.2,80.5 181.3,111 181.3,93 181.3,91.1 181.4,104 181.4,92.3 181.4,95.4 181.5,95.5 181.5,118.4 181.5,85 181.6,87.8 181.6,72.3 181.6,91.8 181.7,81 181.7,94.6 181.7,134.4 181.8,110.7 181.8,81.7 181.8,81.5 181.9,95.3 181.9,95 181.9,112.1 182,85.8 182,89 182,83 182.1,93.9 182.1,94.9 182.1,87.9 182.2,93.6 182.2,78 182.2,88.3 182.3,91.1 182.3,97.8 182.3,102 182.4,86.1 182.4,70.9 182.4,76.9 182.5,92.9 182.5,96.9 182.5,81.5 182.6,115.1 182.6,97.9 182.7,96 182.7,77 182.7,98.9 182.8,73 182.8,75.4 182.8,79.7 182.9,87.4 182.9,95.5 182.9,80.9 183,102.2 183,80.5 183,97.5 183.1,85.5 183.1,99.8 183.1,76.2 183.2,73.8 183.2,90.4 183.2,63.6 183.3,84.3 183.3,102.3 183.3,88 183.4,89.7 183.4,101.3 183.4,91 183.5,89.7 183.5,75.6 183.5,64.5 183.6,109.8 183.6,105.3 183.6,83.4 183.7,97.8 183.7,93.4 183.7,84.9 183.8,87.3 183.8,104.3 183.8,36 183.9,72.1 183.9,98.3 183.9,69.1 184,67.9 184,91.4 184,77.6 184.1,84.3 184.1,99.9 184.1,100.5 184.2,92.9 184.2,87.3 184.2,57.5 184.3,70.6 184.3,80.7 184.3,95.3 184.4,65.5 184.4,94.9 184.4,75.6 184.5,78.7 184.5,66.6 184.5,71 184.6,70.7 184.6,85.1 184.6,79.7 184.7,68.7 184.7,90.5 184.7,78.5 184.8,74.5 184.8,80.1 184.9,88.1 184.9,73.2 184.9,85.5 185,97 185,78.7 185,67 185.1,77.7 185.1,69.6 185.1,86.9 185.2,76.9 185.2,80.2 185.2,68.5 185.3,63.3 185.3,82.6 185.3,88 185.4,59.2 185.4,92.3 185.4,58.6 185.5,77 185.5,62.2 185.5,66.7 185.6,69.3 185.6,52.3 185.6,67.3 185.7,64.1 185.7,77.7 185.7,121.1 185.8,58.6 185.8,46.2 185.8,55.4 185.9,58.6 185.9,59 185.9,62.4 186,61.3 186,60.5 186,81.8 186.1,60.8 186.1,59.6 186.1,67.6 186.2,69.2 186.2,63.2 186.2,58.6 186.3,72 186.3,71.6 186.3,73.6 186.4,57.1 186.4,55.7 186.4,83.7 186.5,82 186.5,70 186.5,74.2 186.6,70.5 186.6,79.3 186.6,94.8 186.7,66 186.7,86.6 186.7,79.6 186.8,58.3 186.8,69.8 186.8,56.2 186.9,75.1 186.9,76.8 186.9,67.2 187,75.9 187,64.1 187,67.7 187.1,71.7 187.1,65.2 187.2,79.3 187.2,50 187.2,69.1 187.3,65 187.3,98.1 187.3,73.3 187.4,58.1 187.4,79.6 187.4,89.4 187.5,88.8 187.5,83.1 187.5,82.3 187.6,88.1 187.6,75.7 187.6,61.6 187.7,84.6 187.7,79.5 187.7,73.3 187.8,75.3 187.8,75.1 187.8,53.3 187.9,84 187.9,73.4 187.9,66.7 188,80.1 188,78.4 188,66.1 188.1,64.4 188.1,74.5 188.1,70.2 188.2,59.5 188.2,72.8 188.2,64 188.3,64.5 188.3,77.8 188.3,68.6 188.4,82.2 188.4,78.3 188.4,81.3 188.5,66.1 188.5,66 188.5,68.9 188.6,56.4 188.6,75.2 188.6,64.2 188.7,65.4 188.7,69.3 188.7,73.3 188.8,75.8 188.8,72.7 188.8,71.7 188.9,59.3 188.9,65.6 188.9,61.8 189,84.4 189,71.4 189,73.7 189.1,108.8 189.1,80.7 189.1,67.1 189.2,76.8 189.2,89.7 189.2,62.4 189.3,65.3 189.3,100.4 189.4,64.8 189.4,71.1 189.4,75.8 189.5,73.7 189.5,80.4 189.5,68.1 189.6,77.3 189.6,80.3 189.6,88.2 189.7,79.6 189.7,74.2 189.7,76 189.8,78.6 189.8,81.3 189.8,74.1 189.9,75.3 189.9,79.8 189.9,82.9 190,79.6 190,73.2 190,67.3 190.1,79.9 190.1,80 190.1,92.1 190.2,86.5 190.2,71.6 190.2,83.4 190.3,68.8 190.3,86.1 190.3,40 190.4,84.1 190.4,81 190.4,86.7 190.5,81.7 190.5,84.2 190.5,76.8 190.6,71.6 190.6,81.3 190.6,64.1 190.7,67.8 190.7,84.3 190.7,88.6 190.8,75.3 190.8,50 190.8,80.9 190.9,72.2 190.9,58.3 190.9,78.2 191,83.1 191,84.2 191,73.5 191.1,76.4 191.1,100.5 191.1,73.7 191.2,76 191.2,76.6 191.2,84 191.3,74.1 191.3,79.9 191.3,77.9 191.4,86.1 191.4,89.4 191.4,75.9 191.5,91.8 191.5,84.4 191.5,78.3 191.6,73.2 191.6,92.5 191.7,74.9 191.7,70.6 191.7,97.4 191.8,82.1 191.8,87.6 191.8,80.6 191.9,93.9 191.9,89.9 191.9,92 192,76.3 192,82.3 192,85.3 192.1,78.8 192.1,92.4 192.1,94.7 192.2,73.3 192.2,85.5 192.2,86.1 192.3,90.4 192.3,97.3 192.3,101 192.4,78.5 192.4,80.3 192.4,64.8 192.5,75.1 192.5,84.9 192.5,83.8 192.6,75.7 192.6,85.1 192.6,78.6 192.7,68 192.7,80.3 192.7,66.4 192.8,66.2 192.8,61 192.8,76.4 192.9,82.6 192.9,91.9 192.9,85.6 193,94 193,72.4 193,76.3 193.1,75.2 193.1,67.2 193.1,88.2 193.2,78.8 193.2,84.2 193.2,61.6 193.3,77.5 193.3,87.5 193.3,68.4 193.4,81.5 193.4,90 193.4,78.2 193.5,78.5 193.5,81.3 193.5,69.1 193.6,90.7 193.6,50.3 193.6,72.6 193.7,87.1 193.7,91.8 193.7,76.9 193.8,87.4 193.8,87.1 193.8,86.7 193.9,68.9 193.9,95.5 194,86.7 194,81 194,82.1 194.1,77.9 194.1,114.7 194.1,75.2 194.2,80.1 194.2,66.8 194.2,76.6 194.3,86 194.3,59.4 194.3,68.9 194.4,78.9 194.4,71 194.4,77.8 194.5,65.1 194.5,71.1 194.5,91.2 194.6,75.4 194.6,66.6 194.6,73.7 194.7,75.9 194.7,75.5 194.7,73.4 194.8,79.1 194.8,80.2 194.8,73.1 194.9,74 194.9,71.2 194.9,91.5 195,84.4 195,97.7 195,68.6 195.1,82.6 195.1,77.9 195.1,79.4 195.2,70.6 195.2,79.8 195.2,75.2 195.3,88.9 195.3,98.6 195.3,95.5 195.4,84 195.4,95.2 195.4,85.9 195.5,88.7 195.5,77 195.5,113.6 195.6,96.1 195.6,98 195.6,87.3 195.7,89.3 195.7,89.6 195.7,80.7 195.8,96 195.8,98.4 195.8,110.3 195.9,103.7 195.9,93.6 195.9,84.1 196,98 196,91.4 196,86.3 196.1,86.5 196.1,94 196.2,110.6 196.2,111.6 196.2,109 196.3,118 196.3,97.6 196.3,84.4 196.4,82.9 196.4,82.1 196.4,84.5 196.5,89.6 196.5,81.9 196.5,93.2 196.6,91.9 196.6,84.6 196.6,85.8 196.7,86.7 196.7,95.3 196.7,116.3 196.8,91.1 196.8,91.6 196.8,87.7 196.9,93.2 196.9,82.8 196.9,95.1 197,67.2 197,86.1 197,82.9 197.1,90.4 197.1,76.4 197.1,84.2 197.2,100.7 197.2,95 197.2,79.8 197.3,76.6 197.3,92.9 197.3,82.2 197.4,76.1 197.4,66.4 197.4,89.6 197.5,90 197.5,69.1 197.5,91.4 197.6,78.6 197.6,84.1 197.6,86.8 197.7,78.4 197.7,95.1 197.7,79 197.8,103.4 197.8,81.5 197.8,86.9 197.9,46.6 197.9,90 197.9,76.5 198,88.1 198,79.2 198,61.4 198.1,80.6 198.1,98.9 198.1,93 198.2,64.4 198.2,78.9 198.2,88 198.3,59.3 198.3,85 198.3,78.5 198.4,91.1 198.4,75.8 198.5,92.1 198.5,62.3 198.5,90.6 198.6,81.4 198.6,90.9 198.6,90.5 198.7,76.2 198.7,77.2 198.7,87.7 198.8,71.2 198.8,84 198.8,104.1 198.9,94.5 198.9,80.3 198.9,45.1 199,80.7 199,89.1 199,79 199.1,81.1 199.1,83.7 199.1,66 199.2,93.3 199.2,96.5 199.2,95.4 199.3,92.6 199.3,94.6 199.3,105.9 199.4,96.9 199.4,81.4 199.4,110.5 199.5,78.3 199.5,70 199.5,75.8 199.6,79.8 199.6,100.6 199.6,91.6 199.7,83.4 199.7,78.7 199.7,74.2 199.8,78.2 199.8,79.5 199.8,78.8 199.9,105.4 199.9,83.3 199.9,64.7 200,81.6 200,83.6 200,71.9 200.1,72.4 200.1,82.9 200.1,77.4 200.2,70.1 200.2,75.8 200.2,78.9 200.3,81.8 200.3,59.5 200.3,81.4 200.4,75.3 200.4,65.9 200.4,84.3 200.5,49.6 200.5,77.5 200.5,96 200.6,70.3 200.6,81.4 200.7,98.1 200.7,90.5 200.7,80 200.8,60.8 200.8,79.2 200.8,69.2 200.9,88.1 200.9,76.6 200.9,94.2 201,98.6 201,86.9 201,86.9 201.1,62 201.1,92.2 201.1,103.4 201.2,95 201.2,64.2 201.2,93.8 201.3,78.2 201.3,81.2 201.3,94.8 201.4,74.2 201.4,102.3 201.4,57.4 201.5,88.2 201.5,85.2 201.5,100.2 201.6,91.4 201.6,124.1 201.6,89.4 201.7,78.2 201.7,82.4 201.7,103.3 201.8,85.1 201.8,114.2 201.8,86.4 201.9,87.4 201.9,52.1 201.9,94 202,80.4 202,52.3 202,84.8 202.1,80.9 202.1,89.2 202.1,101.6 202.2,84.1 202.2,86.1 202.2,88.4 202.3,93.8 202.3,96.9 202.3,84.2 202.4,101.7 202.4,57 202.4,100.7 202.5,68.5 202.5,46.5 202.5,114.1 202.6,95.5 202.6,99.3 202.6,98.4 202.7,96.9 202.7,94.2 202.7,90.3 202.8,82.9 202.8,104.5 202.8,104.4 202.9,94.5 202.9,83.4 203,97.3 203,88.2 203,104.1 203.1,88.2 203.1,101.5 203.1,99.6 203.2,94.3 203.2,94.6 203.2,81 203.3,87.4 203.3,79.3 203.3,99.9 203.4,96.3 203.4,89.6 203.4,79.2 203.5,84.3 203.5,89.7 203.5,81.9 203.6,94.4 203.6,96.1 203.6,94.5 203.7,101.6 203.7,107.8 203.7,104.4 203.8,96.1 203.8,97.8 203.8,104.2 203.9,104.9 203.9,106 203.9,100.8 204,91.4 204,114.6 204,78.9 204.1,96.2 204.1,83.7 204.1,103.3 204.2,87.6 204.2,84 204.2,92.8 204.3,90.2 204.3,106.2 204.3,86 204.4,77.2 204.4,70 204.4,81.6 204.5,84.7 204.5,89.7 204.5,94.7 204.6,95.4 204.6,73.8 204.6,91.3 204.7,87 204.7,86.6 204.7,96.5 204.8,90.2 204.8,95.7 204.8,101.8 204.9,88.9 204.9,83.6 204.9,87.4 205,91.3 205,60.2 205,75.3 205.1,91 205.1,83.8 205.2,78.4 205.2,59.4 205.2,79.1 205.3,88.8 205.3,88.9 205.3,120.9 205.4,82.7 205.4,87 205.4,87.8 205.5,96.1 205.5,87.6 205.5,86.7 205.6,86.9 205.6,97.3 205.6,69 205.7,75.1 205.7,85.5 205.7,75.4 205.8,56.9 205.8,94.7 205.8,91.1 205.9,66.7 205.9,97.2 205.9,100.5 206,83.7 206,87.6 206,102.4 206.1,66.2 206.1,71.2 206.1,99.6 206.2,51.5 206.2,90.1 206.2,75.5 206.3,91.5 206.3,75.7 206.3,87 206.4,85.5 206.4,78.3 206.4,77.3 206.5,94.8 206.5,94.9 206.5,85.4 206.6,81.4 206.6,91.8 206.6,79.8 206.7,89.4 206.7,76.1 206.7,48.3 206.8,88.1 206.8,93.1 206.8,78.6 206.9,83.2 206.9,65.9 206.9,75.3 207,86.1 207,72.3 207,83.5 207.1,80.5 207.1,75.6 207.1,86 207.2,67.8 207.2,67 207.2,97.1 207.3,78.2 207.3,79.4 207.3,88.5 207.4,62.1 207.4,70.7 207.5,56 207.5,81.6 207.5,68.1 207.6,71.9 207.6,77.5 207.6,76.8 207.7,87.5 207.7,88.9 207.7,66 207.8,75.5 207.8,80.8 207.8,71.4 207.9,66.6 207.9,67.9 207.9,92.5 208,98.5 208,90.3 208,92.9 208.1,71.5 208.1,83.4 208.1,70.4 208.2,79.1 208.2,83.1 208.2,84.3 208.3,107.6 208.3,81.3 208.3,77.4 208.4,86.3 208.4,78.3 208.4,86.8 208.5,77.9 208.5,79.5 208.5,100.3 208.6,98.7 208.6,95.6 208.6,76.7 208.7,86.6 208.7,85.3 208.7,85.4 208.8,84.8 208.8,91 208.8,80.2 208.9,96.4 208.9,84.8 208.9,87.7 209,79.5 209,93.1 209,87.8 209.1,102 209.1,99.2 209.1,82.9 209.2,75.8 209.2,84.5 209.2,91.4 209.3,101.3 209.3,98.1 209.3,92.6 209.4,88 209.4,51.8 209.4,78.2 209.5,96.5 209.5,91.5 209.5,96.4 209.6,75.9 209.6,86.4 209.7,93.3 209.7,74.5 209.7,73.1 209.8,81.5 209.8,120.7 209.8,61.5 209.9,76 209.9,81.3 209.9,71.7 210,92 210,79.9 210,90.9 210.1,101.5 210.1,90.7 210.1,96.6 210.2,90.1 210.2,91.9 210.2,72.8 210.3,102.4 210.3,95.4 210.3,88.6 210.4,77.9 210.4,98.1 210.4,77.3 210.5,93.3 210.5,119.2 210.5,102.1 210.6,88.5 210.6,77.4 210.6,77.4 210.7,94.1 210.7,91.8 210.7,89.6 210.8,90.6 210.8,86.1 210.8,104.7 210.9,79.2 210.9,97.9 210.9,93.6 211,85 211,87.9 211,96.9 211.1,72.1 211.1,69 211.1,59.4 211.2,90.8 211.2,94.5 211.2,87.9 211.3,75.1 211.3,73.9 211.3,78.6 211.4,82.4 211.4,78.6 211.4,78.4 211.5,88.8 211.5,91.1 211.5,89.9 211.6,93.1 211.6,76.5 211.6,74.1 211.7,108.8 211.7,78.7 211.7,81.1 211.8,107.1 211.8,89.4 211.8,92.1 211.9,90 211.9,63 212,85.3 212,78 212,69.7 212.1,43.6 212.1,86.4 212.1,82.6 212.2,70.9 212.2,83.3 212.2,78 212.3,78.3 212.3,89.1 212.3,70.9 212.4,84.3 212.4,79.3 212.4,75.1 212.5,85 212.5,79.5 212.5,85.7 212.6,86.8 212.6,90.6 212.6,72 212.7,81.1 212.7,100.7 212.7,73.7 212.8,93.4 212.8,81.7 212.8,86.3 212.9,96.6 212.9,88.3 212.9,89 213,87.2 213,91.8 213,84.3 213.1,84.8 213.1,73.6 213.1,97.5 213.2,95.7 213.2,81.6 213.2,90.1 213.3,87.1 213.3,82.6 213.3,92.7 213.4,92.1 213.4,91.4 213.4,88.7 213.5,90.1 213.5,89.1 213.5,84.8 213.6,90.8 213.6,82.8 213.6,80.1 213.7,80.8 213.7,88 213.7,84 213.8,98.7 213.8,108.1 213.8,99.1 213.9,90.2 213.9,77 213.9,74.3 214,91.2 214,95.4 214,89.6 214.1,83.4 214.1,94.3 214.2,93 214.2,81.8 214.2,96.7 214.3,71.5 214.3,73.8 214.3,73.8 214.4,64 214.4,81.2 214.4,99.4 214.5,73.2 214.5,82.3 214.5,75.8 214.6,73.9 214.6,63.8 214.6,76.8 214.7,82 214.7,97.6 214.7,92.3 214.8,72.1 214.8,84 214.8,83.8 214.9,78.7 214.9,107.3 214.9,87 215,151.5 215,69.2 215,76.8 215.1,70 215.1,69.7 215.1,78 215.2,89 215.2,82.7 215.2,77.5 215.3,95.2 215.3,87.8 215.3,86.3 215.4,82.1 215.4,82.9 215.4,76.8 215.5,107.2 215.5,143.1 215.5,72.2 215.6,82.9 215.6,84.9 215.6,94.7 215.7,75.3 215.7,98.3 215.7,78.9 215.8,88 215.8,84.9 215.8,90.3 215.9,78.7 215.9,85 215.9,81.5 216,76.1 216,89.6 216,84.1 216.1,84.7 216.1,84.3 216.1,74.7 216.2,74.6 216.2,89.3 216.2,80.8 216.3,88.7 216.3,73.8 216.3,74.3 216.4,66.3 216.4,82.5 216.5,75.3 216.5,80.6 216.5,108.6 216.6,68.8 216.6,92.3 216.6,75.1 216.7,65.9 216.7,65 216.7,61 216.8,78.7 216.8,74.5 216.8,90.9 216.9,67 216.9,69.7 216.9,70.1 217,75.2 217,73 217,72.4 217.1,85.8 217.1,83.2 217.1,71.3 217.2,68.8 217.2,66.7 217.2,99.2 217.3,70.6 217.3,71.7 217.3,82.8 217.4,72.3 217.4,78.3 217.4,94.3 217.5,76.3 217.5,83 217.5,92.2 217.6,92.7 217.6,79.7 217.6,90 217.7,97.6 217.7,94 217.7,74.3 217.8,90.7 217.8,74.6 217.8,77.2 217.9,72.4 217.9,85.7 217.9,80.1 218,88 218,99.9 218,93 218.1,77 218.1,71 218.1,79 218.2,101.8 218.2,71.3 218.2,77.1 218.3,83.5 218.3,88.7 218.3,65.4 218.4,83.8 218.4,79.4 218.4,74.9 218.5,63.2 218.5,86 218.5,77.1 218.6,78.7 218.6,88.9 218.6,73.1 218.7,81 218.7,77.3 218.8,84.1 218.8,85.9 218.8,67 218.9,100.7 218.9,91.5 218.9,74.8 219,91 219,82.1 219,83.4 219.1,76.6 219.1,80.5 219.1,87.8 219.2,84.7 219.2,63.4 219.2,85.4 219.3,94.2 219.3,79.4 219.3,75.1 219.4,81.3 219.4,74.1 219.4,82.4 219.5,85.1 219.5,70.8 219.5,74.1 219.6,71.1 219.6,86.9 219.6,68.9 219.7,87.7 219.7,74.6 219.7,83.1 219.8,85.6 219.8,73.9 219.8,85.1 219.9,86.5 219.9,74.8 219.9,98.2 220,94.9 220,83.4 220,69.4 220.1,98.6 220.1,81 220.1,98.6 220.2,86.9 220.2,80.7 220.2,93.9 220.3,94.8 220.3,97.5 220.3,75.4 220.4,89.9 220.4,85.4 220.4,69.7 220.5,78.7 220.5,93.5 220.5,75.1 220.6,49.6 220.6,78.1 220.6,72.6 220.7,78.8 220.7,91.9 220.7,70.8 220.8,80.6 220.8,87.9 220.8,68.9 220.9,73.2 220.9,68.1 221,80.6 221,63.8 221,78.2 221.1,74.1 221.1,72.3 221.1,70 221.2,77.6 221.2,76.2 221.2,86.6 221.3,92.8 221.3,71.3 221.3,90.9 221.4,72 221.4,106.3 221.4,84.5 221.5,85.9 221.5,92.4 221.5,53.3 221.6,90.2 221.6,83.3 221.6,90 221.7,97.6 221.7,76.7 221.7,76.5 221.8,89.7 221.8,123.2 221.8,65.6 221.9,91.5 221.9,84.2 221.9,83.9 222,81.5 222,92.1 222,83.1 222.1,80.1 222.1,109.9 222.1,71.9 222.2,89.1 222.2,87.8 222.2,76.6 222.3,69.7 222.3,73.1 222.3,106.7 222.4,68.7 222.4,70 222.4,67 222.5,57.2 222.5,71 222.5,84.1 222.6,62 222.6,73.2 222.6,81.2 222.7,75.1 222.7,60.7 222.7,63.8 222.8,73.7 222.8,73.2 222.8,62.6 222.9,77.1 222.9,93.6 222.9,80.5 223,77.6 223,98.6 223,100 223.1,85.2 223.1,82.5 223.1,74.1 223.2,89.3 223.2,84.9 223.3,85.1 223.3,84.5 223.3,73.9 223.4,80.7 223.4,87.3 223.4,74.8 223.5,88.7 223.5,75.1 223.5,71.4 223.6,79.1 223.6,89.4 223.6,82 223.7,87 223.7,99.8 223.7,83.2 223.8,91.2 223.8,61.3 223.8,90.6 223.9,93.8 223.9,74.7 223.9,87.2 224,91.7 224,93 224,80.4 224.1,84.7 224.1,90 224.1,66.9 224.2,97.5 224.2,81.6 224.2,71.8 224.3,65.9 224.3,59.9 224.3,74.6 224.4,87.2 224.4,77.1 224.4,95.6 224.5,84.5 224.5,84.5 224.5,75.7 224.6,73.7 224.6,85.3 224.6,72 224.7,70.6 224.7,84.4 224.7,77.6 224.8,94 224.8,74.3 224.8,77.4 224.9,81.1 224.9,84.2 224.9,85.9 225,94.1 225,75.3 225,111.9 225.1,80.8 225.1,82.9 225.1,44.3 225.2,115.1 225.2,47.6 225.2,88.2 225.3,90.7 225.3,15 225.3,76.3 225.4,94.4 225.4,71 225.5,87.5 225.5,95.1 225.5,77.6 225.6,112.1 225.6,77.1 225.6,82.8 225.7,81.8 225.7,88.7 225.7,93.5 225.8,90.8 225.8,95.7 225.8,75.9 225.9,97.2 225.9,85.7 225.9,83.8 226,77.1 226,83.6 226,61.2 226.1,85.3 226.1,81.7 226.1,99.3 226.2,89.7 226.2,107 226.2,112 226.3,80.7 226.3,82.1 226.3,101.8 226.4,112 226.4,79.8 226.4,82.1 226.5,73.3 226.5,80.2 226.5,86.8 226.6,47.5 226.6,77 226.6,88.2 226.7,77.5 226.7,74.8 226.7,81.1 226.8,80.8 226.8,104.7 226.8,77 226.9,85.7 226.9,102 226.9,95.3 227,80.5 227,40.2 227,74.2 227.1,72.8 227.1,88.8 227.1,84.8 227.2,79.9 227.2,95.7 227.2,88 227.3,75.7 227.3,96.5 227.3,70.4 227.4,90.1 227.4,80.9 227.4,95.1 227.5,83 227.5,99.7 227.5,88.6 227.6,89 227.6,137.2 227.6,87.3 227.7,84.2 227.7,98.7 227.8,101.2 227.8,85.6 227.8,96.7 227.9,97.2 227.9,87.9 227.9,77.8 228,85.9 228,55.9 228,85.3 228.1,97.8 228.1,64.1 228.1,74.3 228.2,57.3 228.2,89.5 228.2,85.7 228.3,82.2 228.3,87.8 228.3,92.4 228.4,46.7 228.4,82.3 228.4,63.8 228.5,74.8 228.5,83.7 228.5,72.5 228.6,94.2 228.6,77.1 228.6,64 228.7,82.3 228.7,77.6 228.7,100.1 228.8,94.2 228.8,94.3 228.8,84.6 228.9,87.1 228.9,94.2 228.9,93 229,78.6 229,84.1 229,76.3 229.1,69.3 229.1,65.2 229.1,77.7 229.2,63.6 229.2,67.6 229.2,67.5 229.3,85.6 229.3,76.6 229.3,82.3 229.4,81.4 229.4,91.6 229.4,77.8 229.5,85.7 229.5,70.7 229.5,49.8 229.6,75.3 229.6,88.8 229.6,76.1 229.7,85.1 229.7,76.7 229.7,86.6 229.8,63 229.8,50.2 229.8,89.5 229.9,76.5 229.9,82.7 230,88.6 230,77.1 230,82.3 230.1,95.5 230.1,98.4 230.1,96.6 230.2,74.3 230.2,86.9 230.2,66.8 230.3,75.1 230.3,71.8 230.3,88.6 230.4,70.9 230.4,88 230.4,93.6 230.5,64.3 230.5,90.3 230.5,78.7 230.6,84.8 230.6,83 230.6,94.4 230.7,87.8 230.7,79.2 230.7,74.8 230.8,67.3 230.8,76.1 230.8,69.3 230.9,79.1 230.9,67.5 230.9,97.6 231,64.8 231,91.8 231,76.7 231.1,67.4 231.1,87.2 231.1,89.4 231.2,102.5 231.2,92.5 231.2,77.6 231.3,96.5 231.3,91.1 231.3,133.5 231.4,94 231.4,108.2 231.4,98.4 231.5,87.6 231.5,104.8 231.5,105.6 231.6,68.6 231.6,31.8 231.6,84.3 231.7,102.2 231.7,80.4 231.7,104.1 231.8,100 231.8,105.3 231.8,93.6 231.9,88.2 231.9,98.2 231.9,52.9 232,90 232,80.3 232,74 232.1,83.1 232.1,92.3 232.1,86.4 232.2,103.7 232.2,70.3 232.3,82.9 232.3,81.9 232.3,72 232.4,80.5 232.4,85.4 232.4,77.9 232.5,89.7 232.5,67.1 232.5,70.1 232.6,73.5 232.6,88.5 232.6,71.3 232.7,77.4 232.7,81.7 232.7,94 232.8,69 232.8,84.3 232.8,75.9 232.9,95 232.9,92.7 232.9,100 233,85.4 233,90.9 233,71.3 233.1,75.6 233.1,78.5 233.1,92.6 233.2,64.2 233.2,81.6 233.2,81.8 233.3,85.5 233.3,85.1 233.3,80.5 233.4,89.6 233.4,112.6 233.4,102.6 233.5,84.1 233.5,79.7 233.5,105.7 233.6,88.1 233.6,70 233.6,124.2 233.7,82.6 233.7,86.3 233.7,108.1 233.8,78.4 233.8,84.8 233.8,86.4 233.9,92.2 233.9,88.3 233.9,89.1 234,88.1 234,79.3 234,88.2 234.1,71.1 234.1,85.3 234.1,94.5 234.2,82.9 234.2,75.6 234.2,104.8 234.3,100.3 234.3,90.2 234.3,82.7 234.4,84.8 234.4,84.6 234.4,72.3 234.5,77 234.5,71.8 234.6,82.6 234.6,82.1 234.6,75.7 234.7,101 234.7,74.7 234.7,75.5 234.8,85.3 234.8,82.8 234.8,90.7 234.9,66.5 234.9,58.1 234.9,60 235,72.8 235,67.2 235,78.9 235.1,69.1 235.1,85.3 235.1,81 235.2,77.7 235.2,93.1 235.2,74.9 235.3,82.9 235.3,79.2 235.3,75.7 235.4,63.3 235.4,61.1 235.4,64.9 235.5,68.3 235.5,70 235.5,10.8 235.6,78.8 235.6,81.3 235.6,63.3 235.7,72.2 235.7,72.1 235.7,-6 235.8,55.9 235.8,100.7 235.8,90.7 235.9,85.2 235.9,77.5 235.9,88.8 236,81 236,79.5 236,99.2 236.1,124.2 236.1,84.7 236.1,72.9 236.2,79.5 236.2,78.9 236.2,81.3 236.3,82 236.3,82.3 236.3,72.9 236.4,97.3 236.4,71.4 236.4,79" fill="none" stroke="#1078ce" stroke-width="0.5" stroke-linejoin="round" clip-path="url(#c1)"/>
<path d="M41.6,152.5 41.7,152.7 41.9,149 42,150.7 42.1,149.7 42.3,151.7 42.4,153.1 42.5,151.9 42.7,149.1 42.8,151 43,148.5 43.1,150.9 43.2,151.6 43.4,151.5 43.5,148.5 43.6,146.3 43.8,145 43.9,148.5 44,149.9 44.2,143.7 44.3,146.4 44.4,145.5 44.6,145.9 44.7,147.3 44.8,150.5 45,151.3 45.1,150.8 45.3,150 45.4,145.5 45.5,146.7 45.7,148.9 45.8,150.5 45.9,151.3 46.1,149.1 46.2,150.4 46.3,144.3 46.5,144.6 46.6,150.4 46.7,150.5 46.9,147.2 47,149.4 47.1,146.6 47.3,144.5 47.4,143.5 47.6,146.6 47.7,146.2 47.8,148.4 48,140.6 48.1,144.7 48.2,146 48.4,145.5 48.5,146.1 48.6,140.8 48.8,142.3 48.9,139.3 49,138.4 49.2,137.6 49.3,144.1 49.4,145.2 49.6,144 49.7,139.4 49.9,140.6 50,145.8 50.1,148.9 50.3,145.8 50.4,147.9 50.5,146.4 50.7,141.2 50.8,145.4 50.9,149.2 51.1,149.1 51.2,150.9 51.3,149.9 51.5,150.6 51.6,149.5 51.8,148.4 51.9,150.2 52,149.7 52.2,147.7 52.3,150.7 52.4,150.9 52.6,151.1 52.7,152.2 52.8,151.2 53,150.3 53.1,152.5 53.2,150.3 53.4,150.4 53.5,149.4 53.6,148.2 53.8,146.8 53.9,150.6 54.1,150.1 54.2,152.7 54.3,151.1 54.5,150.7 54.6,150.8 54.7,152.6 54.9,151.7 55,150.4 55.1,150.2 55.3,153.3 55.4,152.2 55.5,152.9 55.7,148.8 55.8,150.9 55.9,149.7 56.1,151.2 56.2,151.5 56.4,152.8 56.5,152.4 56.6,153 56.8,152.1 56.9,153.8 57,153.5 57.2,147.9 57.3,150.4 57.4,152 57.6,151.7 57.7,153.9 57.8,152.4 58,150.8 58.1,150.3 58.2,145.8 58.4,135.7 58.5,127.8 58.7,118.7 58.8,110 58.9,110.1 59.1,116.8 59.2,126.1 59.3,136.5 59.5,140.4 59.6,145 59.7,144 59.9,139.2 60,138 60.1,133.9 60.3,132.8 60.4,137.3 60.5,141.7 60.7,143.8 60.8,148.2 61,149.1 61.1,151.7 61.2,150.7 61.4,154.5 61.5,153 61.6,155.1 61.8,154.6 61.9,154 62,153.9 62.2,154.8 62.3,154.1 62.4,154.5 62.6,153.2 62.7,154.9 62.8,153.9 63,153.6 63.1,154.5 63.3,151.1 63.4,153.4 63.5,153.8 63.7,154.3 63.8,155.2 63.9,154.3 64.1,151.7 64.2,153.7 64.3,152.8 64.5,153.4 64.6,152.1 64.7,152.2 64.9,152.6 65,152.9 65.1,154.3 65.3,152.4 65.4,153.5 65.6,154.2 65.7,154.7 65.8,154.5 66,151.5 66.1,148.5 66.2,140.5 66.4,136.2 66.5,124.6 66.6,123.8 66.8,126.1 66.9,134.6 67,142.3 67.2,149.4 67.3,152.6 67.4,153.4 67.6,153 67.7,154 67.9,154 68,154.3 68.1,155.3 68.3,153.6 68.4,152.3 68.5,153.9 68.7,152.4 68.8,153.3 68.9,154.2 69.1,153.5 69.2,152.9 69.3,152.2 69.5,153.1 69.6,150.2 69.7,146.6 69.9,143.9 70,142.8 70.2,142.3 70.3,146.8 70.4,151.3 70.6,153.1 70.7,148.8 70.8,149 71,152.4 71.1,151.5 71.2,153.5 71.4,151.9 71.5,154.6 71.6,153.6 71.8,155.3 71.9,155.1 72,154.7 72.2,152.6 72.3,153.6 72.5,152.4 72.6,150.1 72.7,151.7 72.9,153.2 73,154.1 73.1,155.3 73.3,152.3 73.4,152 73.5,148.2 73.7,138.9 73.8,127.8 73.9,113.8 74.1,110.8 74.2,116.4 74.4,128.6 74.5,139 74.6,146.7 74.8,152.4 74.9,153.2 75,154.8 75.2,152.7 75.3,154.1 75.4,152.2 75.6,153.1 75.7,152.3 75.8,153.4 76,152.9 76.1,154.5 76.2,155.5 76.4,153.7 76.5,152.5 76.7,152.8 76.8,154.4 76.9,154.4 77.1,154.6 77.2,154.8 77.3,151.5 77.5,150.7 77.6,153.6 77.7,155.6 77.9,155.1 78,154.2 78.1,153.6 78.3,153.1 78.4,155.6 78.5,154.7 78.7,154.5 78.8,153.7 79,155.6 79.1,153.9 79.2,151.4 79.4,150.5 79.5,155.4 79.6,154.6 79.8,154 79.9,155.1 80,155.3 80.2,154.5 80.3,155.4 80.4,154.3 80.6,155.6 80.7,154.3 80.8,154.2 81,154.8 81.1,155.6 81.3,153.2 81.4,152.1 81.5,152.6 81.7,149.7 81.8,153.6 81.9,152.4 82.1,154.6 82.2,155.6 82.3,153.5 82.5,153.9 82.6,155.5 82.7,154.9 82.9,155.2 83,155.2 83.1,152.6 83.3,154.7 83.4,154 83.6,155.7 83.7,152.7 83.8,155.2 84,155.5 84.1,155 84.2,154.7 84.4,153.9 84.5,154.2 84.6,153.6 84.8,153.9 84.9,154.7 85,153.7 85.2,151.1 85.3,155.1 85.4,154.9 85.6,154.5 85.7,154.7 85.9,154.3 86,151.8 86.1,155.7 86.3,155.7 86.4,154.4 86.5,154.5 86.7,152.7 86.8,153.4 86.9,155 87.1,154.5 87.2,154.2 87.3,154.4 87.5,155.2 87.6,154 87.7,154.2 87.9,152.6 88,155.7 88.2,152.5 88.3,154.2 88.4,155.4 88.6,154.7 88.7,155.5 88.8,155.5 89,153.2 89.1,154.2 89.2,152 89.4,154.3 89.5,155.4 89.6,155.7 89.8,155.5 89.9,155.1 90,153.6 90.2,153.9 90.3,155.4 90.5,153.6 90.6,153.4 90.7,153.6 90.9,154.2 91,152.9 91.1,155.4 91.3,154.8 91.4,154.8 91.5,155 91.7,153.3 91.8,153.3 91.9,153.6 92.1,154.3 92.2,153.8 92.3,155.1 92.5,155.4 92.6,155.5 92.8,155.2 92.9,151.8 93,154.1 93.2,151 93.3,154.3 93.4,155.8 93.6,155.7 93.7,155.7 93.8,153.6 94,155.2 94.1,152.1 94.2,154.6 94.4,155.6 94.5,155.5 94.7,153.2 94.8,153.3 94.9,153.7 95.1,153.2 95.2,152.9 95.3,153.7 95.5,154.2 95.6,155.1 95.7,154.3 95.9,154.3 96,152.2 96.1,152.3 96.3,151 96.4,153.4 96.5,154.6 96.7,149.7 96.8,154.3 97,153.6 97.1,153.3 97.2,154.8 97.4,153.7 97.5,155.3 97.6,155.1 97.8,155.4 97.9,155.7 98,151.5 98.2,153 98.3,154.6 98.4,154.5 98.6,154.7 98.7,155.6 98.8,153.2 99,154.7 99.1,155.5 99.3,155 99.4,155.6 99.5,152.7 99.7,154.8 99.8,153.9 99.9,154.6 100.1,155.5 100.2,150.7 100.3,153.8 100.5,151 100.6,155.1 100.7,154.3 100.9,155.1 101,154.7 101.1,154.8 101.3,155.1 101.4,153.6 101.6,155.8 101.7,154.9 101.8,154.5 102,153.1 102.1,152.5 102.2,148.8 102.4,146.9 102.5,144.8 102.6,146.3 102.8,147.6 102.9,152.1 103,153.5 103.2,155.2 103.3,155.3 103.4,155.7 103.6,154.8 103.7,154.6 103.9,150.7 104,153.9 104.1,155.5 104.3,155 104.4,153.8 104.5,154.9 104.7,152.1 104.8,153.5 104.9,155.2 105.1,154 105.2,152.8 105.3,152.4 105.5,155.3 105.6,154.8 105.7,154.4 105.9,155.7 106,155.7 106.2,154.4 106.3,153.8 106.4,155.4 106.6,154.8 106.7,155.7 106.8,155.5 107,155.4 107.1,153.7 107.2,154.6 107.4,155.8 107.5,153.4 107.6,154.7 107.8,154.3 107.9,155.6 108,155 108.2,154 108.3,154.8 108.5,154.2 108.6,154.6 108.7,154.6 108.9,154.7 109,155.7 109.1,154.6 109.3,154.7 109.4,153.2 109.5,154.1 109.7,155.2 109.8,155.3 109.9,155.2 110.1,154.5 110.2,155.3 110.3,152.7 110.5,154.3 110.6,155.7 110.8,155 110.9,155.1 111,154 111.2,153.4 111.3,155 111.4,153.6 111.6,154 111.7,153.3 111.8,151.6 112,155.6 112.1,154.2 112.2,155.4 112.4,153.7 112.5,155.8 112.7,153.7 112.8,154.3 112.9,153.9 113.1,150.9 113.2,154.1 113.3,150.7 113.5,155.4 113.6,154.6 113.7,155.1 113.9,155.1 114,155.7 114.1,154.5 114.3,154.1 114.4,153.4 114.5,153.9 114.7,154.7 114.8,151.9 115,154.4 115.1,154.9 115.2,152.5 115.4,152.3 115.5,153.4 115.6,153.5 115.8,155.7 115.9,154 116,152.5 116.2,153.6 116.3,153.7 116.4,154.9 116.6,151.5 116.7,155.3 116.8,155.5 117,154.6 117.1,153.4 117.3,152.5 117.4,151.5 117.5,154 117.7,155.7 117.8,154.9 117.9,153.9 118.1,154.5 118.2,153.8 118.3,153.3 118.5,153.5 118.6,155.3 118.7,154.6 118.9,154.9 119,155.1 119.1,153.9 119.3,150.5 119.4,155.4 119.6,153 119.7,155.3 119.8,153.9 120,153.8 120.1,155.6 120.2,154.3 120.4,155.1 120.5,155.5 120.6,154.7 120.8,155 120.9,154.5 121,152.6 121.2,155.2 121.3,155 121.4,155.2 121.6,155.5 121.7,155.4 121.9,155.3 122,154.6 122.1,154.5 122.3,153.9 122.4,152.1 122.5,154.9 122.7,154.6 122.8,155.1 122.9,153.1 123.1,152.3 123.2,153.4 123.3,149 123.5,154.6 123.6,153.3 123.7,155.1 123.9,154.8 124,154.7 124.2,152.7 124.3,150.1 124.4,153.2 124.6,149.8 124.7,148 124.8,142.4 125,136.6 125.1,130.3 125.2,120.5 125.4,112.3 125.5,109.3 125.6,115.3 125.8,114.2 125.9,124.5 126,126.3 126.2,126.6 126.3,118.7 126.5,124.1 126.6,123.4 126.7,129 126.9,137.7 127,143.9 127.1,148.1 127.3,151.4 127.4,147.8 127.5,150 127.7,152.1 127.8,152.8 127.9,154.4 128.1,152.6 128.2,154.4 128.3,152.7 128.5,153.6 128.6,154.6 128.8,153.6 128.9,151.3 129,151.3 129.2,149.5 129.3,145.4 129.4,140 129.6,140.5 129.7,142.6 129.8,146.1 130,149.3 130.1,152.6 130.2,151.8 130.4,154.2 130.5,152 130.6,152.8 130.8,154.7 130.9,153.1 131.1,155.3 131.2,155.2 131.3,153.2 131.5,153.4 131.6,154.9 131.7,155.2 131.9,155 132,155.2 132.1,155.4 132.3,154.5 132.4,153.9 132.5,155.1 132.7,155.6 132.8,153.7 132.9,155 133.1,154.7 133.2,155.6 133.4,153.1 133.5,152 133.6,155.4 133.8,153.1 133.9,155.1 134,153.3 134.2,154.3 134.3,153.7 134.4,151.8 134.6,151.9 134.7,154.6 134.8,153.4 135,155.3 135.1,155.3 135.3,155 135.4,152.6 135.5,154.8 135.7,155.3 135.8,154.4 135.9,155.6 136.1,154.4 136.2,155.4 136.3,155.2 136.5,155.1 136.6,154.4 136.7,155.1 136.9,153.8 137,154.9 137.1,152.1 137.3,154.6 137.4,154.1 137.6,154.3 137.7,154.3 137.8,154.8 138,153.2 138.1,153.6 138.2,154.6 138.4,154.1 138.5,154.2 138.6,155 138.8,151.8 138.9,153.1 139,155.1 139.2,154.1 139.3,153.1 139.4,153.3 139.6,155.3 139.7,152.3 139.9,151.5 140,151.3 140.1,154.5 140.3,155 140.4,155.1 140.5,154 140.7,154.2 140.8,154.9 140.9,153.3 141.1,154.3 141.2,154.2 141.3,155.2 141.5,155.2 141.6,155 141.7,155.3 141.9,154 142,154.6 142.2,155 142.3,152.7 142.4,155.6 142.6,153.6 142.7,152.9 142.8,154.4 143,153.5 143.1,153.7 143.2,153 143.4,155.3 143.5,154.2 143.6,153.2 143.8,155.2 143.9,154.7 144,155.4 144.2,155 144.3,154.7 144.5,152.8 144.6,150.7 144.7,147.6 144.9,142.7 145,142 145.1,141 145.3,139.1 145.4,143.1 145.5,148 145.7,151.7 145.8,151.8 145.9,152.2 146.1,152.6 146.2,154.8 146.3,154 146.5,152.5 146.6,150.6 146.8,149.9 146.9,146.9 147,147.1 147.2,147.2 147.3,147.3 147.4,147.6 147.6,149.2 147.7,148.8 147.8,150.3 148,153.7 148.1,154.9 148.2,153.4 148.4,149.7 148.5,154.5 148.6,151.4 148.8,154.1 148.9,155 149.1,155.1 149.2,154.1 149.3,155.7 149.5,155.6 149.6,154.3 149.7,155.1 149.9,153.5 150,154.4 150.1,155.2 150.3,153.8 150.4,154 150.5,155.7 150.7,154.9 150.8,152.6 150.9,153.2 151.1,155.5 151.2,153.9 151.4,153.8 151.5,154.1 151.6,155.7 151.8,155.6 151.9,155.8 152,155.4 152.2,155.1 152.3,155.1 152.4,155.7 152.6,154.9 152.7,154.5 152.8,153.8 153,155 153.1,155.1 153.2,155.3 153.4,154.3 153.5,152.4 153.7,155.4 153.8,154.8 153.9,153.8 154.1,154.8 154.2,154.5 154.3,154.2 154.5,154.6 154.6,154.6 154.7,154.7 154.9,155.7 155,154.8 155.1,155.4 155.3,155.6 155.4,155.7 155.6,154.7 155.7,153.3 155.8,151.5 156,153.2 156.1,153.7 156.2,154 156.4,151.5 156.5,153.5 156.6,154.1 156.8,154.4 156.9,155.3 157,155.7 157.2,154.5 157.3,154.7 157.4,154.6 157.6,155.5 157.7,154.1 157.9,155.8 158,155.9 158.1,155.4 158.3,154.4 158.4,155.6 158.5,154.5 158.7,154.5 158.8,155.6 158.9,151.2 159.1,155.3 159.2,155.7 159.3,152.2 159.5,153.9 159.6,154.2 159.7,155.6 159.9,154.3 160,154.3 160.2,155.3 160.3,155.3 160.4,155.6 160.6,155.5 160.7,155.5 160.8,154.7 161,155.9 161.1,153 161.2,155.5 161.4,151.9 161.5,153.8 161.6,154.7 161.8,155.6 161.9,154.5 162,154.2 162.2,154.4 162.3,154.4 162.5,152 162.6,149.3 162.7,153.2 162.9,154.7 163,155.3 163.1,152.6 163.3,151.8 163.4,151.1 163.5,154 163.7,154.2 163.8,152.9 163.9,154.9 164.1,155.3 164.2,151.8 164.3,155.4 164.5,155.8 164.6,155.2 164.8,153.8 164.9,154.8 165,155.4 165.2,153.8 165.3,155.5 165.4,155.3 165.6,155 165.7,155.8 165.8,154.7 166,155.8 166.1,155.6 166.2,155.5 166.4,153.6 166.5,154.5 166.6,153.2 166.8,153.9 166.9,153.8 167.1,153.7 167.2,155.7 167.3,155.7 167.5,156 167.6,155.5 167.7,152 167.9,154.8 168,155.7 168.1,153.2 168.3,156 168.4,155.7 168.5,154.9 168.7,154.3 168.8,156 168.9,154.1 169.1,154.6 169.2,155.8 169.4,153.1 169.5,153.6 169.6,155.4 169.8,154.6 169.9,156 170,154 170.2,154.5 170.3,153.2 170.4,154.7 170.6,155.5 170.7,155.5 170.8,155.5 171,152.6 171.1,154.4 171.2,154.2 171.4,155.2 171.5,152 171.7,153.8 171.8,153.9 171.9,155 172.1,154.7 172.2,155.2 172.3,155.4 172.5,154.8 172.6,154.7 172.7,153.9 172.9,155.3 173,154 173.1,153.3 173.3,155.3 173.4,154.2 173.5,150.5 173.7,153.2 173.8,155.8 174,153.2 174.1,153.7 174.2,154.3 174.4,154.5 174.5,154.9 174.6,154.6 174.8,154 174.9,154 175,153.3 175.2,146.7 175.3,150.1 175.4,149.7 175.6,147.5 175.7,149.9 175.9,150.2 176,151.2 176.1,147.4 176.3,154.3 176.4,154.3 176.5,155.3 176.7,151.1 176.8,154.1 176.9,155.3 177.1,155.5 177.2,154.4 177.3,155 177.5,155.7 177.6,154.8 177.7,154.3 177.9,154.1 178,154.6 178.2,155.8 178.3,154.4 178.4,155.9 178.6,152.7 178.7,152.2 178.8,154.7 179,150.1 179.1,153.7 179.2,154.7 179.4,154 179.5,154.1 179.6,154.8 179.8,152.8 179.9,152.2 180,148.7 180.2,141.9 180.3,146.7 180.5,146.8 180.6,149.5 180.7,149.6 180.9,153.1 181,153.4 181.1,154.1 181.3,154.7 181.4,154.2 181.5,154.4 181.7,149.5 181.8,153.6 181.9,154.1 182.1,151.1 182.2,151.5 182.3,153.1 182.5,154.7 182.6,154.2 182.8,154.8 182.9,155 183,152.4 183.2,152.7 183.3,155.1 183.4,153.8 183.6,154.9 183.7,154.8 183.8,154.7 184,152.9 184.1,147.7 184.2,153.5 184.4,154.9 184.5,152.3 184.6,153.5 184.8,154 184.9,153 185.1,150.4 185.2,153.7 185.3,154.7 185.5,150.9 185.6,153.4 185.7,155.2 185.9,154.5 186,152.6 186.1,155.2 186.3,154.9 186.4,153.6 186.5,152.8 186.7,155.1 186.8,153.6 186.9,154.5 187.1,153.3 187.2,155.1 187.4,155 187.5,154.3 187.6,154.9 187.8,152.7 187.9,149.1 188,146.9 188.2,141.8 188.3,138.8 188.4,135.1 188.6,139.1 188.7,143.1 188.8,149.3 189,152.3 189.1,149.2 189.2,153.8 189.4,152.3 189.5,154.4 189.7,153.6 189.8,153.3 189.9,154.2 190.1,153.4 190.2,153.3 190.3,153 190.5,154.2 190.6,153.7 190.7,152.1 190.9,153.6 191,154.4 191.1,155.1 191.3,152.6 191.4,154.4 191.5,153.7 191.7,149.6 191.8,152.4 192,154 192.1,153.6 192.2,154.1 192.4,154.6 192.5,152.1 192.6,154.1 192.8,154.1 192.9,154.1 193,154.6 193.2,152.3 193.3,153.8 193.4,154.5 193.6,154.1 193.7,149.8 193.8,154.8 194,153.1 194.1,154.7 194.3,154.1 194.4,154.7 194.5,153.5 194.7,151.9 194.8,154 194.9,152.1 195.1,154.3 195.2,154.1 195.3,154.6 195.5,154.7 195.6,153.4 195.7,151.9 195.9,151.8 196,149.2 196.2,145.6 196.3,144.1 196.4,139.9 196.6,137.7 196.7,141.5 196.8,143.2 197,144.9 197.1,150.2 197.2,152.8 197.4,152.3 197.5,152.1 197.6,152.1 197.8,154.5 197.9,149 198,150 198.2,150.5 198.3,146.4 198.5,142.8 198.6,141.5 198.7,140 198.9,147.4 199,149.1 199.1,153.4 199.3,151.8 199.4,153.2 199.5,152.1 199.7,154.9 199.8,152.4 199.9,153.4 200.1,153.8 200.2,154.5 200.3,155.1 200.5,153.7 200.6,153.7 200.8,154.2 200.9,148.9 201,154.8 201.2,154.5 201.3,154.3 201.4,153.8 201.6,155.1 201.7,154.7 201.8,151.9 202,154.3 202.1,153.2 202.2,153.5 202.4,153 202.5,152.8 202.6,153.5 202.8,154.2 202.9,154.3 203.1,153.9 203.2,153 203.3,155.2 203.5,150.8 203.6,149.4 203.7,151.8 203.9,152.5 204,153.5 204.1,153.8 204.3,154.4 204.4,153 204.5,154.7 204.7,152.6 204.8,148.2 204.9,150.9 205.1,147.2 205.2,144.3 205.4,141.8 205.5,146.2 205.6,148.5 205.8,148.8 205.9,149.2 206,153 206.2,152.9 206.3,152.2 206.4,151.1 206.6,155 206.7,154.3 206.8,153.5 207,150.7 207.1,153.4 207.2,151.6 207.4,153.1 207.5,151.8 207.7,152.3 207.8,152.7 207.9,153.5 208.1,153 208.2,155 208.3,153.3 208.5,154.4 208.6,151.5 208.7,151.5 208.9,150.8 209,153 209.1,155 209.3,149.9 209.4,155.2 209.5,154.1 209.7,154.8 209.8,148.9 210,154.3 210.1,155.1 210.2,154.2 210.4,153.9 210.5,151.4 210.6,153.5 210.8,152.8 210.9,151.7 211,155 211.2,152.8 211.3,153.8 211.4,155.1 211.6,154.9 211.7,153.1 211.8,152.5 212,153.6 212.1,155 212.3,153.6 212.4,155.1 212.5,154 212.7,153.5 212.8,155 212.9,152.9 213.1,153.6 213.2,153.7 213.3,154.2 213.5,153.9 213.6,154.1 213.7,154.2 213.9,153.5 214,153.8 214.2,154.1 214.3,150.9 214.4,152.6 214.6,151.4 214.7,154.2 214.8,152.3 215,150.6 215.1,151.3 215.2,152.9 215.4,154.6 215.5,155 215.6,153.1 215.8,152.7 215.9,154.2 216,155.1 216.2,153 216.3,151.1 216.5,153.3 216.6,154 216.7,153.1 216.9,154.5 217,152.7 217.1,151.6 217.3,149.5 217.4,146.6 217.5,145.4 217.7,147.2 217.8,149.6 217.9,151.3 218.1,151.7 218.2,152.5 218.3,150.2 218.5,154.8 218.6,151.9 218.8,147.4 218.9,154.7 219,155 219.2,154 219.3,154.1 219.4,154.3 219.6,151 219.7,153.7 219.8,152.1 220,154.2 220.1,154.6 220.2,154.6 220.4,153.4 220.5,154.4 220.6,150.4 220.8,154.1 220.9,154.2 221.1,154.4 221.2,152.9 221.3,154 221.5,154.8 221.6,152.2 221.7,153.7 221.9,154.6 222,155.1 222.1,152.1 222.3,154.7 222.4,151.7 222.5,153.8 222.7,153.9 222.8,151.9 222.9,151.4 223.1,153.4 223.2,154.3 223.4,154.5 223.5,153.9 223.6,152.3 223.8,152.8 223.9,146.5 224,140 224.2,140.2 224.3,139.4 224.4,140.5 224.6,144.4 224.7,147.7 224.8,149.8 225,151.2 225.1,151.9 225.2,152.2 225.4,154 225.5,153.9 225.7,154 225.8,153.8 225.9,153.4 226.1,153.9 226.2,152.4 226.3,151.6 226.5,152.8 226.6,150.5 226.7,152.9 226.9,153.8 227,152.9 227.1,154.1 227.3,154.3 227.4,153 227.5,154.3 227.7,154 227.8,152.1 228,154.5 228.1,149.7 228.2,153.5 228.4,154.2 228.5,152.2 228.6,153.5 228.8,152 228.9,153.4 229,153.3 229.2,152.4 229.3,153.2 229.4,153.7 229.6,152.5 229.7,151.8 229.8,149.6 230,150.8 230.1,146.3 230.3,146.3 230.4,145 230.5,146.2 230.7,146.3 230.8,150.5 230.9,150.8 231.1,153.1 231.2,153.8 231.3,153.1 231.5,151.7 231.6,154.5 231.7,152.8 231.9,152.5 232,154.2 232.1,152.7 232.3,154.5 232.4,154.7 232.6,150.3 232.7,154.9 232.8,154.9 233,150.6 233.1,154.5 233.2,154.2 233.4,154.3 233.5,151.8 233.6,154.1 233.8,153.5 233.9,151.3 234,154.3 234.2,154.6 234.3,154.4 234.4,154.3 234.6,152.8 234.7,154.4 234.9,154.5 235,154.5 235.1,154.1 235.3,153.7 235.4,150.1 235.5,145.2 235.7,136.3 235.8,131.5 235.9,136.5 236.1,144.8 236.2,151.5 236.3,150.7" fill="none" stroke="#ee1010" stroke-width="0.7" stroke-linejoin="round" clip-path="url(#c1)"/>
<rect x="41.6" y="10.8" width="203" height="147" fill="none" stroke="#9c9c9c" stroke-width="0.9"/>
<text x="35" y="161" font-size="7" text-anchor="end" fill="#222" stroke="#222" stroke-width="0.12">0</text>
<text x="35" y="140" font-size="7" text-anchor="end" fill="#222" stroke="#222" stroke-width="0.12">100</text>
<text x="35" y="119" font-size="7" text-anchor="end" fill="#222" stroke="#222" stroke-width="0.12">200</text>
<text x="35" y="98" font-size="7" text-anchor="end" fill="#222" stroke="#222" stroke-width="0.12">300</text>
<text x="35" y="77" font-size="7" text-anchor="end" fill="#222" stroke="#222" stroke-width="0.12">400</text>
<text x="35" y="56" font-size="7" text-anchor="end" fill="#222" stroke="#222" stroke-width="0.12">500</text>
<text x="35" y="35" font-size="7" text-anchor="end" fill="#222" stroke="#222" stroke-width="0.12">600</text>
<text x="35" y="14" font-size="7" text-anchor="end" fill="#222" stroke="#222" stroke-width="0.12">700</text>
<text x="41.6" y="169.3" font-size="7" text-anchor="middle" fill="#222" stroke="#222" stroke-width="0.12">0</text>
<text x="75.4" y="169.3" font-size="7" text-anchor="middle" fill="#222" stroke="#222" stroke-width="0.12">500</text>
<text x="109.3" y="169.3" font-size="7" text-anchor="middle" fill="#222" stroke="#222" stroke-width="0.12">1000</text>
<text x="143.1" y="169.3" font-size="7" text-anchor="middle" fill="#222" stroke="#222" stroke-width="0.12">1500</text>
<text x="176.9" y="169.3" font-size="7" text-anchor="middle" fill="#222" stroke="#222" stroke-width="0.12">2000</text>
<text x="210.8" y="169.3" font-size="7" text-anchor="middle" fill="#222" stroke="#222" stroke-width="0.12">2500</text>
<text x="244.6" y="169.3" font-size="7" text-anchor="middle" fill="#222" stroke="#222" stroke-width="0.12">3000</text>
<text x="20.6" y="84" font-size="7.3" text-anchor="middle" fill="#111" font-weight="bold" stroke="#111" stroke-width="0.2" transform="rotate(-90 20.6 84)">TKN (mg/L)</text>
<text x="143.2" y="178" font-size="7.3" text-anchor="middle" fill="#111" font-weight="bold" stroke="#111" stroke-width="0.2">Time (days)</text>
<text x="208" y="28.9" font-size="7.3" text-anchor="middle" fill="#1080d4" stroke="#1080d4" stroke-width="0.15">TKN inlet</text>
<text x="206" y="135.2" font-size="7.3" text-anchor="middle" fill="#ee1414" stroke="#ee1414" stroke-width="0.15">TKN outlet</text>
<line x1="330.4" y1="10.9" x2="330.4" y2="156.9" stroke="#efefef" stroke-width="0.7"/>
<line x1="370.5" y1="10.9" x2="370.5" y2="156.9" stroke="#efefef" stroke-width="0.7"/>
<line x1="410.5" y1="10.9" x2="410.5" y2="156.9" stroke="#efefef" stroke-width="0.7"/>
<line x1="450.6" y1="10.9" x2="450.6" y2="156.9" stroke="#efefef" stroke-width="0.7"/>
<line x1="490.6" y1="10.9" x2="490.6" y2="156.9" stroke="#efefef" stroke-width="0.7"/>
<line x1="290.4" y1="132.6" x2="490.6" y2="132.6" stroke="#efefef" stroke-width="0.7"/>
<line x1="290.4" y1="108.2" x2="490.6" y2="108.2" stroke="#efefef" stroke-width="0.7"/>
<line x1="290.4" y1="83.9" x2="490.6" y2="83.9" stroke="#efefef" stroke-width="0.7"/>
<line x1="290.4" y1="59.6" x2="490.6" y2="59.6" stroke="#efefef" stroke-width="0.7"/>
<line x1="290.4" y1="35.2" x2="490.6" y2="35.2" stroke="#efefef" stroke-width="0.7"/>
<line x1="290.4" y1="10.9" x2="290.4" y2="156.9" stroke="#c8c8c8" stroke-width="0.8"/>
<line x1="290.4" y1="156.9" x2="490.6" y2="156.9" stroke="#d0d0d0" stroke-width="0.8"/>
<line x1="290.4" y1="10.9" x2="490.6" y2="10.9" stroke="#c2c2c2" stroke-width="1"/>
<path d="M376.4,112.1h0M404.7,92.5h0M382.5,113.8h0M345,124.7h0M353.9,122.5h0M380.7,104.9h0M364.1,113.3h0M386.8,99.1h0M329.1,135.2h0M403.8,90.8h0M399.6,93.4h0M338.2,131.2h0M359.4,115.5h0M353.8,119.7h0M358.1,118.6h0M383.2,106.1h0M355.9,119.1h0M348.5,121.9h0M378.8,140.8h0M390.8,97.1h0M357.7,128.7h0M371.5,114.8h0M339.3,128.6h0M384.8,102.8h0M408.9,96.2h0M377.5,115.6h0M365.2,112.8h0M328,134.2h0M360.4,117.4h0M327.6,134.4h0M381,106.7h0M400,92.7h0M392.7,106.7h0M369.5,115h0M375.7,122.2h0M353.5,120.2h0M370.6,109.2h0M370.6,108.2h0M366,119.8h0M315.5,141.8h0M371,112.4h0M374.5,107h0M351.4,121.4h0M373.8,113.2h0M380.9,104.5h0M324.5,136.9h0M382.5,105.3h0M355.3,118.6h0M342.7,126.4h0M367.3,123.9h0M349.1,129.7h0M354.9,121.5h0M344.5,127h0M350.9,125.1h0M340.6,129.1h0M352.4,121.1h0M342.9,126.1h0M338,129.4h0M384.2,103.9h0M364.5,117.7h0M372.1,115.9h0M397,96.7h0M376.9,104.8h0M364.5,112.5h0M343.4,124.5h0M379.5,105.3h0M373.4,122.4h0M384.1,102h0M362,114.9h0M357.4,116.3h0M324.6,136.3h0M374.9,109.9h0M334.9,131.9h0M354.7,119h0M373.4,111.2h0M365.2,112.6h0M362.1,117.1h0M372.4,118.1h0M330,133.5h0M364.7,121.4h0M387.8,99.9h0M385.8,101.3h0M335.2,130.5h0M381.8,101.8h0M372.1,110.2h0M344.9,123.6h0M337.8,130.1h0M360.9,115.8h0M390.1,99.8h0M372.9,108.8h0M345.6,124.1h0M365.7,113.1h0M383.7,101h0M362,113.9h0M354.9,120h0M372.5,114.6h0M323.9,139.6h0M372,112.1h0M337.6,128.1h0M362,114.7h0M370.5,137.8h0M360.9,126h0M349.3,121.1h0M356.3,117.1h0M379.2,107.6h0M337.8,128.2h0M346.6,132.6h0M369.7,109.7h0M378.9,108.4h0M363.4,131.5h0M353.6,123.7h0M377.1,112.2h0M356.3,118.8h0M402.8,102.6h0M389.1,99.7h0M399.7,94h0M345.6,124h0M354.7,122.8h0M358.6,116.2h0M340.1,127.9h0M353.8,121.5h0M382,101.5h0M344.6,132.2h0M358.3,119.2h0M392.5,96.3h0M369.8,114h0M373.6,110.2h0M364.3,114.7h0M352,122.4h0M357,116.5h0M369,111.3h0M352.8,121.2h0M364.9,116.7h0M355.4,118.5h0M362.4,115h0M393.9,107.1h0M375.8,111.7h0M339.2,127.2h0M360.5,117h0M399.2,96.8h0M398.8,92.3h0M341.9,126.8h0M372.5,115.3h0M364.3,116.2h0M316.1,142.7h0M369.8,112.3h0M402.2,100.7h0M350.5,127h0M358.4,127.8h0M382.4,118h0M355.7,123.5h0M355.7,117.1h0M369.5,111.7h0M336.7,147.4h0M373.6,112.4h0M339.1,127.6h0M365.2,111.6h0M379.8,105.4h0M395.8,98.9h0M349.4,123.2h0M368.7,110.6h0M368.9,110.1h0M329.9,135.1h0M362.4,117.5h0M368.7,110.8h0M374.7,114.4h0M402,91h0M366.5,112.8h0M363.3,113h0M362.8,115.7h0M364.1,114.2h0M373.5,108.1h0M394.3,101.4h0M344.5,126.5h0M364.8,114.5h0M318.9,140.1h0M332.6,136.7h0M367.2,114.7h0M324,137.7h0M370.5,107.6h0M388.6,99.2h0M347.8,125.3h0M350.5,124.1h0M364.2,115.1h0M354.1,121.8h0M362.9,122.1h0M350.6,120.9h0M380.4,105.1h0M369.8,110.9h0M362.7,115.9h0M321.3,140.7h0M350.6,122h0M364.7,116.7h0M377.2,107.5h0M351.4,123h0M375.3,111.7h0M379.9,104.9h0M352.6,126.3h0M377.7,108.9h0M360.5,115h0M343,128.5h0M363,114h0M388.6,101.9h0M371.3,114.9h0M364.3,120.6h0M379.7,102.7h0M377.4,108.3h0M367.7,112.7h0M329.3,134.8h0M316.3,144.5h0M333.1,134.2h0M394.7,96.8h0M376.5,105.8h0M334.2,130.2h0M378,104.6h0M336.7,130h0M366.5,110.8h0M380.2,104.4h0M360.6,118.8h0M377.8,111.7h0M379,109.5h0M330.9,134.2h0M360.8,115.1h0M371.3,111.6h0M352.5,119.5h0M336.5,128.7h0M389.1,98.3h0M366.6,115.2h0M350.9,121.5h0M345,127.2h0M360.7,114.3h0M383.6,103.9h0M352.6,120.6h0M371.1,116.7h0M367.4,110.2h0M357.9,117.2h0M362.3,115.3h0M363.3,116.4h0M344.6,123.7h0M335.6,130.1h0M375.2,106.1h0M389,100h0M373.1,111.9h0M346.8,126.7h0M363.1,117.8h0M352.8,119.2h0M337,130.8h0M343.9,124.9h0M352.2,130.8h0M372.7,107.8h0M341.8,130.4h0M383.7,100.9h0M363.4,114.9h0M384.9,100.9h0M381.2,102.6h0M366.6,113.6h0M365.3,113.5h0M369,115.4h0M368.8,110.1h0M376.6,120.2h0M397.3,93.4h0M375.3,106.1h0M392.8,97.4h0M381.3,102.6h0M357.2,118.2h0M373.1,108.6h0M375.7,105.1h0M380,104.2h0M356.9,118.3h0M383.8,100.4h0M352.9,121.9h0M360.6,114.8h0M375.8,109h0M366.8,111.9h0M347.9,123.7h0M340.1,129h0M354.2,119.3h0M350.8,121.4h0M402.9,91.4h0M344.4,122.9h0M337.5,130.3h0M404,95.6h0M332.9,134.6h0M352.7,125.2h0M372.7,106.9h0M363.8,115.6h0M369.3,135h0M392,100.9h0M406.5,88h0M367.6,111h0M370.2,120.3h0M357.8,118.2h0M353.6,121.1h0M355.2,120.3h0M367.2,112.2h0M354.1,120.4h0M368.3,116.6h0M354.2,120.3h0M342.7,125.8h0M356.2,117.5h0M357.6,117.4h0M352.8,121.3h0M354.2,119.5h0M371.8,110h0M338,129.2h0M378.8,106.6h0M350.8,119.6h0M359.4,117.3h0M384.8,101h0M379,109.2h0M328.2,136h0M368.2,113.3h0M386.7,99.6h0M344.4,125.1h0M353.5,128.9h0M386.7,105.3h0M338.4,129.2h0M394.4,95.4h0M337.4,130.9h0M348.8,125h0M351.9,123h0M354,121.7h0M376.1,108.2h0M369.7,119h0M365.2,111h0M366,111.7h0M332.2,133.2h0M350.3,122.3h0M381.9,117.3h0M339.9,126.7h0M387.8,103.4h0M358.7,115.7h0M343,125.5h0M376.4,107.2h0M375.8,120h0M349.6,122.1h0M351.4,128.3h0M346.1,124.1h0M350.4,120.2h0M319.3,139.4h0M349.3,123.5h0M385.4,110.1h0M352.6,121.4h0M369.1,108.8h0M377.3,106.1h0M365.1,119.7h0M353.2,125.1h0M352.1,120.5h0M352,120.7h0M368.2,114.7h0M355.3,121.4h0M376.2,112.5h0M395.2,94.1h0M371.9,110.7h0M336.2,129.4h0M368.9,108.7h0M359,115.7h0M355.1,120.5h0M349,125.2h0M357.7,117.8h0M422,83.7h0M420.4,79.6h0M395.2,93.3h0M346.1,124.7h0M366,111.5h0M382.9,103.3h0M356.8,117h0M374.4,112.4h0M383.6,102.8h0M391.8,95h0M371.3,122h0M369.3,110h0M358.6,120.1h0M356.8,118.9h0M365.5,115h0M360.7,118.1h0M377.3,107.2h0M368.7,111.1h0M358.7,118.1h0M390.1,99.8h0M356.7,117.3h0M373.9,106.4h0M372,110.6h0M351.9,142.1h0M362.6,115.7h0M367.2,110h0M352.3,124h0M338.4,129h0M411.2,87.9h0M350.8,135.6h0M356.6,117.7h0M357.8,116.6h0M362.3,124.3h0M378.4,114.4h0M377.3,109h0M351.7,120.9h0M369.1,115.3h0M374.9,105.6h0M359.1,115.7h0M383.2,106.2h0M367.5,111.7h0M379.7,106.2h0M344,126.6h0M395.7,93.7h0M360.3,115.4h0M345.1,124.7h0M347.4,124.6h0M349.6,124.2h0M369.9,109.2h0M322.7,137.2h0M346.5,127.9h0M384.5,101.7h0M387.3,100h0M345.1,128.4h0M367.7,109h0M369.4,126h0M361.2,116h0M355.2,121.3h0M380.7,126.2h0M361,117.3h0M369.7,110h0M380.6,112.1h0M348.8,121.7h0M349.5,124.2h0M407.3,87.1h0M347.8,125.9h0M387.1,107.5h0M388.2,99h0M368.3,112.4h0M360.7,114.6h0M365,111h0M352.8,121.3h0M366.8,112.2h0M362.5,114.1h0M356.7,121.3h0M359.8,118.1h0M381.8,102.4h0M366.6,113.4h0M362.5,115.6h0M401.5,90.7h0M366,112.1h0M377.7,107.1h0M350.3,121.6h0M347.1,124h0M375.1,109.6h0M384,103.8h0M311.6,146h0M378.6,104.9h0M380.4,105.4h0M366.6,116.9h0M377.8,107.5h0M346.7,123.7h0M373,114.4h0M345.4,124.6h0M361.2,116.8h0M358.6,119.5h0M368.2,111.8h0M340.7,126.4h0M370.2,109.7h0M371.8,114.3h0M386.1,100h0M354.4,119.5h0M374.1,106.1h0M352.9,121.1h0M374.2,108.4h0M353.1,138.6h0M345.2,124.3h0M353.9,118h0M393.3,100.4h0M391.4,97.8h0M366.3,117.2h0M367,111h0M371.9,108.1h0M337.8,128.7h0M401.2,90.2h0M347.9,123.5h0M343,131.2h0M361.8,115.9h0M347.4,124.8h0M370.8,110.1h0M376.8,109.7h0M359,117.7h0M368,111.1h0M353.9,122h0M334.1,131.1h0M342.1,126.8h0M401.2,95.9h0M362.9,117.1h0M331.5,133.5h0M344.4,125.6h0M349.3,122.4h0M378.4,103.9h0M367,111.9h0M391.1,103.1h0M399.5,97.7h0M376.1,123h0M374.9,106.3h0M387.6,128.1h0M357.6,122.9h0M360.1,116.2h0M334.7,137.5h0M379.3,130.6h0M349.1,121.5h0M370.1,111.1h0M409,90.9h0M340.5,126.7h0M355.9,119.2h0M346.2,123.9h0M344,124.7h0M377.8,104.7h0M335.2,132.7h0M370,111.6h0M366.1,119.7h0M383.8,104h0M331.9,132.1h0M341.4,126.5h0M382.4,105.2h0M330.7,133.3h0M367.3,113.2h0M384.7,101.7h0M336.1,131h0M344.4,126.7h0M380,108.7h0M340.5,127.9h0M379,111.3h0M385.3,103.2h0M364.4,124.1h0M362.2,121.4h0M362.8,120.4h0M351.3,120.7h0M378.3,107.3h0M376.7,113.6h0M363.4,116.2h0M369,110.2h0M338,128.9h0M345.9,126.3h0M323.9,136.6h0M352.5,122.2h0M379.1,104.9h0M368.2,112.4h0M353.8,119.9h0M356,119.8h0M355.7,121.2h0M382.5,101h0M341.8,129.2h0M385.5,99.9h0M373,107.9h0M336.1,130.5h0M374.7,115.8h0M377,115.2h0M356.1,122.3h0M396.7,95.4h0M349,122.6h0M356.7,119.6h0M367.7,113.3h0M373.2,110.6h0M360.6,116.1h0M380.7,118.6h0M352.6,126.9h0M373.3,112.7h0M361.1,126.6h0M364.2,115.5h0M345.7,124.5h0M361.6,114.1h0M335.8,130.9h0M337,132.1h0M360.6,118.8h0M378.6,105.2h0M344.6,125h0M372.1,107.2h0M404.5,89.1h0M373.6,106.7h0M374.7,123.2h0M360.7,115.8h0M328,134.4h0M355.7,121.6h0M364.7,113.1h0M342.9,125.3h0M366.9,113.4h0M350,128.1h0M379.1,103.1h0M365.5,117.4h0M368.2,112h0M371,119h0M360.8,125.3h0M392.8,96.8h0M343.3,125.2h0M348.6,122.1h0M362.8,115.8h0M366.2,112.9h0M339.4,129.3h0M381.9,103.7h0M360.2,115.8h0M375.7,105h0M353.4,120.1h0M354.7,119.2h0M369.1,110.9h0M355.9,119.5h0M351.8,121.9h0M369.5,113.8h0M378.2,104.3h0M359.8,115.5h0M371.8,114.8h0M349.5,123.2h0M371.4,108.6h0M348.4,125.3h0M369.9,109.1h0M345.1,123.3h0M368.2,115.8h0M381.6,101.8h0M365.6,111.1h0M333.8,135.9h0M390.2,95.9h0M351.9,123.3h0M323.5,139.6h0M397,97.7h0M352,120.4h0M375.7,137.3h0M367.8,112.6h0M397.9,95.7h0M392.4,99.2h0M331.6,137h0M371.4,108.6h0M343.8,128.7h0M361.7,115.3h0M359.5,118.3h0M359.9,115.3h0M340.8,127.8h0M374.6,105.9h0M378,106.4h0M377.7,107.4h0M397.5,95.3h0M359.8,120.5h0M346.6,125.7h0M364.8,111.8h0M316.6,141.2h0M358,120.2h0M340.3,127.2h0M342,128.8h0M338.6,128.8h0M339.9,131.7h0M366.9,116h0M330.9,132.4h0M343.5,130.8h0M362.7,114.5h0M356.5,117.3h0M385.4,99.5h0M362.7,113.8h0M397.8,108.9h0M376.8,107h0M342.1,129h0M358.4,118.2h0M389.7,113.3h0M337.1,129.2h0M343.7,125h0M327.8,136.2h0M359.5,116.2h0M378.8,110.1h0M382.1,104.6h0M358.2,121.5h0M337.1,140.6h0M365.9,115.3h0M358.6,117.5h0M376.3,105.5h0M366,115h0M383.8,100.5h0M351.5,122.2h0M363,113.8h0M360.2,118.6h0M354.2,121.6h0M370.6,107.5h0M331.2,132.2h0M334.8,131.3h0M316.8,143.7h0M363.2,115.3h0M376.9,106.4h0M370.3,110.7h0M391.8,100.9h0M364.9,112.1h0M346.3,126.7h0M369.2,110.4h0M366.5,117.4h0M366.6,115.4h0M383.4,107.8h0M347.8,123.2h0M348.9,122.1h0M362.5,121.4h0M385.5,106.3h0M349.7,123.7h0M388.1,110.9h0M388.8,100h0M357,121.6h0M352.6,122.2h0M362.5,125.3h0M335.8,129.1h0M392.3,95.7h0M367.5,112.8h0M384.3,106.5h0M352.7,124.7h0M367.8,110.2h0M361.4,114.5h0M393.9,94.2h0M344.8,124h0M386.4,106.6h0M365.1,113.1h0M363.6,129h0M332.5,132.5h0M361.6,119.7h0M356.6,116.7h0M374.7,106h0M355.2,120.9h0M352.7,120.9h0M380.8,109.3h0M368.2,113.3h0M356,120.4h0M367.7,125.3h0M373.7,131.2h0M360.9,118.6h0M362.5,114h0M391.9,106.5h0M363.3,114.6h0M324.5,136.8h0M379.3,104.9h0M388.1,98.8h0M382.9,105.5h0M381.3,102.8h0M326.9,135.8h0M347.5,124.2h0M365.3,116.1h0M366.5,110.7h0M363,120.1h0M340,132.1h0M350.8,128h0M356.4,119.5h0M380.2,112.1h0M401.8,92.8h0M334.3,130.6h0M364.4,115.8h0M345.9,125.3h0M380.2,104.4h0M367.2,112.1h0M371.1,110h0M364.6,116.1h0M350.6,124.9h0M350,126.4h0M357.5,117.7h0M379.7,102.9h0M399,93h0M381.8,126.9h0M359,118.2h0M391.8,96.9h0M369.4,123.8h0M364.1,115.7h0M364.5,117.1h0M346,124.1h0M336.3,129.5h0M350.1,120.8h0M359.2,116.9h0M366.2,111.8h0M340.5,128.2h0M359.3,117.9h0M330.7,134.1h0M386.4,110.6h0M352.9,120h0M344.2,126.8h0M375.4,106.1h0M364,116.2h0M344.6,126.2h0M394.8,96.6h0M348.3,122.8h0M371.6,108.5h0M353.4,121.5h0M377.8,104.6h0M377.9,114h0M351.3,123.7h0M350.8,122.8h0M385.2,101h0M368.5,112.5h0M380.8,108h0M370.5,109.4h0M384.3,108.4h0M375.5,114.6h0M355.8,120.6h0M393.2,95.1h0M364.1,113.3h0M366.9,111.9h0M370.1,110h0M387.5,98.4h0M351.2,122.8h0M366.1,112.8h0M363,117.1h0M360.6,121.1h0M345.8,124.9h0M315.5,142.9h0M351,120.9h0M382.3,107.5h0M362.6,116.6h0M356.7,122h0M360.8,118.5h0M380,108.1h0M361.8,130h0M358.7,118.2h0M373.2,115.6h0M383.4,101.5h0M371,124.6h0M367.9,114h0M333.8,131.1h0M334.6,131.1h0M364.6,116.7h0M353.7,119.7h0M353.7,120.7h0M368,110.8h0M376.5,110.3h0M414.6,82.2h0M347.1,123.6h0M367.4,114.4h0M406.2,93.6h0M350,129.3h0M374.4,112.3h0M344.4,126.5h0M386.1,103h0M350.8,123.2h0M374.8,108.2h0M378.7,106.9h0M356,119.2h0M337.9,128.6h0M349.1,122.6h0M366.7,113.1h0M373.9,108.9h0M378.1,106.4h0M348,122.9h0M388.8,97.6h0M372.8,110.7h0M364,116h0M352.8,119.4h0M346.3,122.3h0M324.4,136.7h0M353.7,124.8h0M362.3,114h0M391.4,97.1h0M377.3,103.5h0M342.7,125.7h0M375.5,108.1h0M344.4,125.2h0M401.9,90.4h0M411.6,84.2h0M371.4,108.6h0M355.1,119.3h0M389.8,98.8h0M373.1,110.6h0M375,107.2h0M370.3,122.7h0M353.3,122.8h0M377.2,107.8h0M387.9,100h0M369.5,111.7h0M359.6,115.7h0M359,116.1h0M378.6,105.3h0M384,103.8h0M360.5,117.4h0M343.2,126.5h0M372.6,111.1h0M359.7,116.2h0M368.9,117h0M400.7,95.5h0M390.3,98.1h0M330.1,134h0M348.6,124.8h0M366,114.7h0M334.6,131.9h0M329.3,134.5h0M357.5,121.3h0M355.8,119.4h0M358.4,118.5h0M368.7,114.3h0M351,122.7h0M359.5,115.4h0M360.5,122.5h0M381.4,103.4h0M327,136.9h0M370.8,109.1h0M328.5,135.3h0M335.1,132.4h0M368.4,118.1h0M368.8,112.7h0M368.1,115.2h0M361,115.1h0M363.4,113h0M348.5,123.3h0M365.5,115.6h0M386.9,100.7h0M324.5,137.8h0M357.5,121.5h0M348.5,123.3h0M333.6,129.8h0M356.5,119.1h0M359.7,116.2h0M311.4,146.7h0M320.9,139.1h0M361.6,116.6h0M358.3,121.6h0M388,99.4h0M355.4,119.4h0M384.8,106.8h0M355.5,118h0M342,126.8h0M367.6,112.1h0M356.9,118.4h0M361.7,121.4h0M318.2,141.8h0M370.9,111.6h0M361.6,123.2h0M368.2,115h0M371.6,111.6h0M394.4,97.6h0M362.8,114h0M361.7,117.1h0M381.5,107.1h0M384.7,100.8h0M370.2,117.7h0M358.9,116h0M355.5,117.9h0M352.7,128.3h0M351.4,122h0M379.6,103.9h0M355.2,128.2h0M375.3,106.9h0M349.5,121.7h0M381.6,102.6h0M362.9,113.5h0M389.1,101.7h0M375.1,121.1h0M371.2,108.3h0M353.2,119.2h0M355.1,120.9h0M358.1,116.4h0M360.8,116.8h0M351.3,123.3h0M374.9,111.2h0M375.9,112.6h0M360,118.1h0M394,98.6h0M364.7,113.8h0M338.4,134.3h0M360.4,115h0M366.1,111.6h0M358.5,119h0M369.3,112.7h0M347.6,126.2h0M361.6,114.7h0M362.2,113.5h0M370.1,111.3h0M354.9,123.3h0M351.3,120.4h0M362.4,113.7h0M369,109.6h0M358.5,115.8h0M360.4,115.3h0M341.6,127.2h0M390.1,108.6h0M344.7,128.1h0M411.9,84.4h0M360.7,115.2h0M388.3,97.8h0M356.1,117.7h0M373,108.1h0M367.5,118.6h0M358.5,116.6h0M342.1,125.5h0M355.9,119h0M338.7,128.9h0M391.1,96.7h0M347,123.2h0M396.5,95.9h0M360.9,115h0M332.9,132.4h0M399.8,95.7h0M384.9,101.8h0M357.9,122.8h0M354.6,118.7h0M353.6,126.8h0M383.8,103.6h0M339.9,127.8h0M355.2,117.7h0M383.4,102.6h0M400.4,96.1h0M353.4,125.6h0M355.6,127.1h0M350.8,123.9h0M381.5,101.7h0M350,123.2h0M360.3,117h0M373.1,109.9h0M376.5,108h0M379.3,108h0M350.1,121.6h0M367.1,110.5h0M371.4,108.9h0M379.8,105.5h0M391.6,100h0M382.1,101.5h0M351.7,124.8h0M369.2,116.3h0M345.2,124.5h0M391,104.1h0M361.9,117.5h0M362.8,112.9h0M371.2,110.1h0M355.7,127.6h0M378.3,106.8h0M378.8,104.5h0M369.7,109.3h0M366.1,116.8h0M305.1,148.6h0M357.6,120.1h0M374.6,110.2h0M370.1,110.4h0M300.5,151.6h0M376.5,115.2h0M381.8,103.3h0M351.4,123.6h0M346.8,124.2h0M365,118.5h0M344.3,124h0M343.7,124.4h0M338,128.3h0M385.6,99.9h0M363.4,116.6h0M350.6,121h0M341.2,129.2h0M373.3,135.7h0M354,120.9h0M356.1,117.3h0M359.4,119.3h0M355.2,118.4h0M369.2,110.4h0M381.8,105.4h0M338.3,128.4h0M344.5,126h0M370.1,109.3h0M346.3,129.2h0M361.6,115.7h0M389.2,110.9h0M372.4,107.5h0M383.3,101.8h0M384.8,115.9h0M384,107.6h0M369,112.3h0M392,97.9h0M353.5,120.1h0M353.5,125.9h0M375.7,106.4h0M349.2,131.7h0M366.8,115.4h0M355.5,120.2h0M384,106.4h0M375.4,107.9h0M385,101.7h0M355.9,121.3h0M332.5,131.6h0M386.7,104h0M394.5,95.1h0M349.9,125.2h0M344.8,128.3h0M331.8,131.7h0M386,105.9h0M341.7,128.1h0M368.8,110.6h0M368.7,113h0M353.5,123.1h0M359.9,116.7h0M355.1,118.4h0M378.3,104.3h0M389.4,109.4h0M388.2,98.2h0M337,129.9h0M340.5,127.1h0M354.3,118.5h0M370.7,110.2h0M376.8,104.7h0M324.9,136.2h0M365.4,114h0M379,105.5h0M363.8,117h0M361.2,118.5h0M329.9,133.4h0M390.4,102.2h0M372.7,112.7h0M356.6,119h0M354.4,130.9h0M378.7,108.6h0M386.5,99.9h0M359.8,115.1h0M339.1,132.3h0M373.1,109.8h0M350.6,121.3h0M361.2,115h0M358.5,121.2h0M343.5,126.7h0M387.3,104.5h0M341.2,137.8h0M389.5,104.7h0M348.1,121.7h0M359.8,131.2h0M364,114.8h0M371.8,113.2h0M345.9,123.9h0M397.8,91h0M361.7,114.3h0M395.2,96.6h0M381.1,101.3h0M365.2,113.4h0M352.1,122.3h0M374.1,116.3h0M373.9,116.3h0M351.8,127.5h0M363.8,114h0M378.6,105.2h0M386,102.5h0M364.3,116.4h0M363.2,116.9h0M351.3,120.5h0M343.2,126.5h0M382.9,118.3h0M369.9,111.5h0M360.7,120.6h0M388,103.8h0M381.6,101.2h0M334.7,130.5h0M323,137.8h0M366.7,110.9h0M354.7,118.5h0M381.8,105.5h0M342.7,126.8h0M376.5,107.2h0M375.1,106.4h0M344.2,129.4h0M403.7,93.2h0M350.8,120.8h0M366.6,111.1h0M356.3,122.1h0M357,116.7h0M347.6,125.4h0M351.2,121.3h0M372.3,108.5h0M334.1,132h0M361.9,115.2h0M364.6,114.5h0M365.7,111.2h0M364.7,112.9h0M400.3,90.6h0M365.1,112.3h0M362.6,114.4h0M351.5,122.4h0M389.5,107.9h0M388.5,101.2h0M347.2,126.9h0M345.9,123.2h0M346,123.7h0M382.5,103.2h0M368.9,110.3h0M378.1,130h0M347,123.6h0M363.7,114.3h0M364.8,114.3h0M384.7,101h0M349.8,131.4h0M316,142.2h0M359.5,119.3h0M384.7,101.4h0M397.5,92.5h0M325.9,135.2h0M374.2,107.1h0M379.7,117.1h0M368.7,109.2h0M356.8,116.7h0M373.7,107.6h0M364.2,119.4h0M393.3,102.5h0M353.8,119.6h0M398.8,105h0M364.9,114.5h0M354.8,119.3h0M384.4,101.2h0M365.8,111.8h0M381.2,102.5h0M375.6,106.1h0M357.3,118.3h0M360.9,114.3h0M401.8,89.6h0M345.2,126.6h0M373.1,107.9h0M387.3,99.7h0M377.9,107.9h0M388.6,98.8h0M349.9,121.7h0M380.2,111.5h0M385.9,101.9h0M335.2,131.4h0M374,107.7h0M357.2,117.2h0M353.8,120.8h0M380.1,104.2h0M371.7,108.6h0M389.8,103.4h0M373.1,106.7h0M332.6,133.1h0M354.4,118.9h0M371.8,107.8h0M379.1,104.5h0M354.2,119.7h0M375.2,110.8h0M352.6,120.2h0M387.8,106.9h0M369.8,111.1h0M372.4,107.8h0M316.3,143.6h0M365.9,112.3h0M368,111.7h0M350.6,121.9h0M354,120h0M377.6,113.6h0M352.6,133.8h0M367.7,112.9h0M326.7,134.8h0M375.3,105.8h0M328.6,133.2h0M328.3,135.8h0M364,113.6h0M349,124h0M339.7,132h0M369.9,114.7h0M357.4,117.7h0M389.1,99.4h0M365.3,113.6h0M385.1,101.4h0M347.3,121.5h0M368.1,111.5h0M417.2,81.3h0M372.8,109.9h0M349.4,124.8h0M355.7,117.6h0M357.7,116.7h0M374,109.7h0M326.2,137h0M379.9,113.2h0M371,118.5h0M358.8,119.6h0M379.5,107.7h0M321.3,142.8h0M396.1,95.9h0M367.3,112.2h0M382.2,103.5h0M347.8,122.6h0M372.3,107h0M364.9,112.8h0M383.1,112.3h0M341.7,126.4h0M405.4,87.9h0M371.2,112.4h0M395.6,103.6h0M369.2,111.7h0M367,112.5h0M367.3,114.4h0M384.5,101.7h0M378.7,105.4h0M349.6,122.3h0M355.4,119.2h0M375.1,109.9h0M344.8,124.9h0M374.5,108.8h0M353.5,124.1h0M383.2,105.9h0M374.8,112.2h0M375.8,111.3h0M361.6,113.9h0M386,103.4h0M360.6,117.1h0M392.9,97.7h0M344.7,125.6h0M371.8,109.3h0M357.7,123.1h0M393.8,102.6h0M380.8,102.2h0M380.9,106.9h0M354.9,117.7h0M365.7,111.7h0M347.2,125.2h0M351.6,120.9h0M391.4,96.2h0M345.1,127.3h0M372.6,107.6h0M383.3,101.5h0M378.6,107.2h0M396.3,97.2h0M335.5,131.4h0M385.4,99.8h0M397.4,95.3h0M347.4,130h0M365.1,113.3h0M360.8,115.8h0M352.2,121.8h0M379.1,104.4h0M351,120.6h0M370.7,109.1h0M374.6,106.9h0M336.4,129.8h0M349.9,123.8h0M360.4,115.7h0M390.2,98.5h0M364.2,112.6h0M369.6,112.3h0M333.6,131.8h0M406.8,93h0M369.7,111.8h0M379.3,107.3h0M391,101.9h0M376.1,122h0M354.4,119.6h0M350.4,122.8h0M394.5,96.6h0M338.4,128h0M386.4,100.3h0M402.4,91.3h0M358.5,116.5h0M359.7,122.5h0M380.5,108h0M379,103.8h0M373,111h0M422.2,78.1h0M361.4,117.8h0M393.7,96.7h0M418.1,94.5h0M373.7,109.7h0M356,121.6h0M412.9,83.2h0M363,112.6h0M393,102.1h0M342.6,126.2h0M373.8,109.1h0M327.3,143.3h0M339.2,128.3h0M341.3,127.8h0M363.7,126.2h0M380.2,103.8h0M387.5,103.5h0M357.4,118h0M331.9,132.8h0M300.9,150.7h0M369.9,116.5h0M358.5,117.3h0M354.7,118.7h0M382.7,106.7h0M380.8,107.7h0M395.9,96.3h0M394.1,107.5h0M395.3,101.5h0M367.4,111.7h0M352.5,128.7h0M348.8,122.5h0M361.8,115.9h0M371.8,112.7h0M333.7,131.7h0M361,115.1h0M372,112.9h0M393.9,98.2h0M359.3,116.1h0M359,117h0M357.7,117.9h0M389.6,98.2h0M331.4,133.4h0M379,105.2h0M340.7,130.1h0M360.6,140.3h0M385.6,105.9h0M359.4,116.6h0M365.6,113.1h0M348.2,125.9h0M335.7,129h0M393,96.8h0M361.4,123h0M370.6,111.4h0M358.4,117.3h0M364.8,113.7h0M368.1,124.6h0M374.8,109.5h0M347.4,123.7h0M357,118.3h0M372.7,115.3h0M362.4,120.3h0M368.1,131.6h0M357.2,117h0M372.5,107.2h0M361.1,116.3h0M327.3,142.3h0M348.5,122.5h0M377,107.5h0M418.2,96.6h0M353.3,119.5h0M330.5,138.2h0M379.9,103.8h0M412.1,88.4h0M354.1,118.9h0M363.3,113.3h0M363.1,113.5h0M393.1,96.3h0M330.5,136.3h0M383.4,101.6h0M368.9,109.4h0M367.2,113.9h0M364.2,112.2h0M380.8,103.2h0M387.2,102.2h0M341.3,126.5h0M362.4,116.3h0M382.9,107.6h0M342.8,125.2h0M385.5,100.2h0M383.9,104h0M367.2,111.4h0M338.8,130h0M348.8,123h0M357.7,141.7h0M375.3,107.3h0M367.3,119.6h0M366.6,114.8h0M381.2,104.1h0M365.9,113.9h0M362.9,114h0M366.7,113.7h0M370.2,117.6h0M357.4,117.7h0M349.5,121.6h0M359.2,115.4h0M368,113.1h0M335.3,138.2h0M358.2,122.8h0M353.5,120.5h0M338.4,127.8h0M384.1,101.5h0M357,121.8h0M320,140h0M387.1,105.6h0M372,113.7h0M312.2,143.8h0M375.2,105.7h0M372.3,111.7h0M363.9,113h0M380,111.3h0M353.5,120.8h0M383.2,109.9h0M350.8,121.4h0M366.3,114.6h0M358.8,118.1h0M365,115.6h0M359.6,115.5h0M343.2,125.8h0M367.5,110.8h0M356.4,116.9h0M367.8,123.4h0M336.2,129.7h0M377.5,107.5h0M337.5,132.1h0M337.6,129h0M350.4,121.9h0M382.6,104.8h0M363.9,114.9h0M360.5,115.1h0M369.2,112.7h0M349.8,121.4h0M363.1,116.5h0M375.2,113.3h0M361.5,120.2h0M338.4,127.7h0M394.3,97h0M365.4,116.7h0M333.7,131.1h0M348.5,121.5h0M428.5,78.9h0M369.3,110.1h0M345.1,125.6h0M332,133.1h0M337.6,130.3h0M363.7,112.6h0M382.5,105.2h0M378.3,105.4h0M369.4,110.1h0M372.4,112.5h0M369.6,110.7h0M364.9,116h0M380.7,102.8h0M359.8,115.3h0M377.5,111.8h0M318.8,141h0M331.6,133.2h0M375.1,106.8h0M361.1,114.7h0M335.9,131.3h0M396.4,93.5h0M404,90.7h0M363.7,116.4h0M367.8,116.1h0M347.1,131.1h0M329.3,135.7h0M358.5,117.7h0M346.4,124.9h0M360.9,117.6h0M356.8,118.3h0M352.7,122.9h0M362.2,115.4h0M390,97.9h0M341.1,126.9h0M363,113h0M385.9,105.6h0M371.3,109.1h0M364.5,112.5h0M357.7,121.6h0M345.3,134.1h0M349.1,121.6h0M379.4,105.2h0M355.7,119.1h0M391.8,97.3h0M384.4,99.7h0M374.5,105.7h0M384.9,103h0M363,114.3h0M401.1,101.6h0M357.9,121.3h0M380.1,105.6h0M369.4,109.7h0M368.1,119.7h0M354.1,121.6h0M370.8,113.1h0M352.4,121.3h0M387,104.3h0M368.6,110.8h0M379.8,109.3h0M360.3,115.9h0M366,113.8h0M366.7,116h0M354.5,119.6h0M364.3,114h0M341.6,126.4h0M350.9,120.5h0M375.6,113.1h0M336.6,132.5h0M315.8,141.9h0M366.2,125.2h0M391.9,97.6h0M353.3,125.1h0M359.8,116.3h0M359.5,118h0M380.4,102.8h0M340.5,127.2h0M362,129.5h0M361.7,114.5h0M395.5,98.9h0M366.1,117.9h0M355,120.1h0M345.1,125.9h0M342.9,127.3h0M326.9,136.1h0M337.9,130h0M351.8,123.7h0M361.9,115.1h0M345.6,122.7h0M373.5,113.8h0M359.2,115.3h0M365,113.2h0M402.3,89.3h0M353,124.1h0M369.7,110.3h0M383.7,103.5h0M346.9,126.9h0M352.4,119.8h0M363.8,115.1h0M362.6,117.1h0M367.3,118h0M366.9,111.1h0M375.8,114.2h0M354.3,124.9h0M346.6,123.9h0M364,115.3h0M375.6,112.7h0M346,126.5h0M369.3,109.5h0M364.6,113.9h0M359.5,116.5h0M359.2,115.4h0M373.3,106.6h0M370.9,126.2h0M373.6,108.4h0M356.9,117.3h0M367.1,110.8h0M369.6,109.7h0M365.8,111.6h0M344.9,123.8h0M384.3,105h0M382.4,110.5h0M362.6,114h0M386.3,105.1h0M346,125.8h0M364.2,114.1h0M345,132.4h0M328.5,137h0M363.3,113h0M353.1,119.1h0M360.6,117.1h0M381,103.9h0M387.8,98.3h0M367.7,110.7h0M371.2,112.8h0M378.3,110.5h0M367.8,114.6h0M349,122.2h0M372.5,109.3h0M366.2,112.2h0M405.4,88.4h0M352.8,120.5h0M384,103.3h0M384.8,100.8h0M358.8,116.7h0M396.2,94.1h0M390.7,102.5h0M394.2,95.2h0M392.6,95.1h0M369.7,114.4h0M341.9,126.5h0M385.9,102.4h0M376.9,106.9h0M336.3,133.1h0M336.2,144h0M347.7,127.5h0M353.9,121.5h0M347.5,124.9h0M342.5,130.4h0M346.3,126.1h0M366.7,111.2h0M372.7,107.2h0M349.7,121.9h0M372.6,107.5h0M341.6,128.4h0M325.4,135.8h0M364.4,114.5h0M353.1,118.7h0M349,122.2h0M357.9,119.4h0M378.8,105.1h0M384,100.6h0M362.5,116.7h0M361.3,114.6h0M386.1,103.9h0M369.4,118h0M356.3,128.6h0M349.8,123.1h0M353.5,120.2h0M354.7,121h0M356.9,119.2h0M342.9,125.2h0M387.6,100.6h0M404.3,100.6h0M362.2,115.6h0M346.6,125.5h0M373.8,112.5h0M319.1,140h0M341.5,128.7h0M355.3,120.6h0M375.9,105.4h0M382.3,102.3h0M365,118.2h0M379.5,104.6h0M350,123.5h0M351.8,123.5h0M359.3,116.8h0M378,105h0M363.6,118.5h0M384.2,104.4h0M346.3,126h0M372.1,108.1h0M381.6,122.6h0M352.1,123.3h0M385.5,100.4h0M363.9,115.5h0M353,120.8h0M377.2,105.5h0M358.3,117h0M379.3,104.1h0M329.1,138h0M365.2,115.2h0M381.6,127.3h0M334.7,130.9h0M397.9,98.4h0M358.2,117.7h0M391.5,104h0M358.3,122.3h0M381.5,107.8h0M379.5,103.2h0M374.1,106.7h0M337.3,129.5h0M376.3,106.3h0M335,131.4h0M370.4,111h0M369.1,115.4h0M360.1,114.5h0M364.6,113.1h0M347.9,122.4h0M387.5,100.9h0M363,114.5h0M387.3,98.6h0M403.6,89h0M383.3,110.2h0M390.2,105.2h0M349.1,126.3h0M344.8,126.5h0M378.9,108.6h0M344.7,125.3h0M388.1,99.3h0M360.9,115.3h0M401.1,90.3h0M370.8,125.2h0M371.3,108.1h0M406.5,90.9h0M385.6,103.5h0M380.8,102.5h0M386.2,105.1h0M354.6,121.6h0M341.7,127.5h0M399.2,93.2h0M354.5,117.7h0M365,120.1h0M343.1,128.9h0M379.3,106.2h0M332.2,134.6h0M365.1,111.5h0M379.8,104.3h0M383.9,101.5h0M384.4,103h0M359.8,115.1h0M374.4,113.9h0M351.2,121.4h0M379.2,103h0M390.7,111.4h0M365.1,112.5h0M387.9,98.3h0M373,107.1h0M361.8,123.1h0M372.1,112.9h0M364.3,116.9h0M363,116.8h0M362.4,125.1h0M411,84.7h0M356.4,118.5h0M366.1,112.2h0M387.7,104.5h0M353.3,122.4h0M362.6,116.5h0M379.1,109.1h0M357.5,116.6h0M365,116.4h0M354.1,121.5h0M355.5,122.3h0M350.6,122.6h0M332.1,131.9h0M377.9,105h0M361.7,115.9h0M354.8,118.5h0M342.4,125.2h0M352,120h0M355.1,117.9h0M320.2,138.7h0M377.6,109.1h0M359.3,115.3h0M344,127.7h0M356.2,118.2h0M359.1,118.7h0M371,111.3h0M356.8,117.3h0M381.5,102.8h0M351,121.7h0M376.2,109.1h0M354.5,119.1h0M357.4,119.9h0M376.4,108.1h0M370.8,116h0M360.5,117h0M373.2,117h0M356.1,117.9h0M345.9,126.5h0M382.9,100.8h0M363.9,120.8h0M325.8,136h0M366.1,136.4h0M358.3,120.7h0M379.2,103.1h0M364.5,114.4h0M386.7,101h0M378.8,107h0M328.9,133.7h0M399.8,93.1h0M373,110.3h0M373.7,107.6h0M394.4,95.8h0M353.6,118.2h0M364.1,119.1h0M345.6,125.1h0M388.7,105.8h0M382.1,109h0M385.7,103h0M332.1,132.2h0M326.2,135.1h0M372.1,128.6h0M402.7,96.4h0M378,108.3h0M365.1,113.9h0M365.7,119h0M338.7,129.1h0M386.6,99.5h0M360,115.2h0M356.7,117.6h0M362.6,117.7h0M351.8,122.3h0M339,135h0M354.2,122.2h0M369.1,110.8h0M353,122.7h0M355,117.8h0M386.7,98.7h0M383.6,101.1h0M364.5,114.5h0M368.6,113.4h0M414.3,82.9h0M321.1,138.8h0M421.9,79h0M379,103.7h0M357.9,119.8h0M353.6,119.1h0M346.8,123.6h0M350.3,132.8h0M360,115.3h0M389.9,106.7h0M380.3,104.7h0M364.8,115.1h0M392.5,97.9h0M352.4,119.4h0M380.7,117.5h0M362.5,113.9h0M386.6,101.3h0M342.7,128.2h0M351.5,123h0M393.8,97h0M360.3,115h0M377.9,109.4h0M371.5,117.8h0M377.9,105.9h0M331.2,133.2h0M337.8,129.1h0M322.1,138.1h0M362.6,122.9h0M321.3,139.8h0M376.4,107.3h0M339.7,128.7h0M342.4,126.8h0M370.4,107.6h0M394.7,95.1h0M370.1,110h0M354.2,123h0M391.2,98.6h0M357.5,120.8h0M352.8,121.3h0M343.7,124.9h0M352.2,122.4h0M376.7,107.3h0M343.8,135.2h0M367.1,115.7h0M341.7,125.7h0M372.5,107.1h0M331.6,132.2h0M365.8,120.9h0M377.4,106.9h0M331.4,131.5h0M353.3,119h0M346.7,123.5h0M361.2,119.8h0M379.5,109.8h0M352.2,120.5h0M337.7,128h0M417.7,81.4h0M359,117.5h0M361.2,114.2h0M368.4,109.8h0M384.4,100.8h0M349.2,124.1h0M368.8,112.4h0M365,112.2h0M378.4,111.4h0M349.3,122.2h0M351.3,119.9h0M342.5,128.9h0M378.3,108h0M361.9,115h0M392,98.2h0M345.4,124.9h0M400.7,96.7h0M345.4,126.4h0M365.6,111.6h0M386.3,99.9h0M351.8,119.5h0M376.9,105.2h0M391.4,103.5h0M317.2,142.5h0M338.7,131.9h0M362.6,114.3h0M358.5,120.5h0M370.1,109.9h0M376.2,106.4h0M328.9,133.8h0M378.7,104.9h0M372.6,140h0M348.8,122.6h0M373.8,107.6h0M379.9,112.9h0M354.4,119h0M352.1,122.8h0M370.1,110.7h0M369.5,112.2h0M396.4,93.8h0M346.4,123.9h0M344.4,126.1h0M353.1,120.3h0M391.2,99.5h0M379,106.6h0M401.5,106.8h0M340.9,126.8h0M350.4,122.9h0M362.4,115h0M384.5,105.3h0M344.5,125.4h0M366.8,113.1h0M365,114.7h0M360.9,116.9h0M361.6,115.7h0M375.9,110.5h0M381,103.8h0M352.2,122.1h0M382,103.2h0M378.7,104.3h0M371.5,116.1h0M347.5,125.4h0M379.5,104.6h0M351.1,121.3h0M356,127.4h0M388.6,97.8h0M385.1,105.5h0M378,109.5h0M372.7,125.3h0M387.8,101.4h0M371.7,111.2h0M381,111.4h0M340.9,126.6h0M326.9,134.3h0M363.4,114.7h0M360,116.1h0M346.9,144h0M379,108.5h0M351.7,130.5h0M379.5,108.1h0M398.2,99.2h0M355.9,121.9h0M361.9,114.6h0M355.5,117.4h0M323.2,137.6h0M356.7,120.1h0M351.5,120.8h0M354.2,118h0M350.5,120.7h0M351.8,121.4h0M381.2,118.3h0M359,116.5h0M327.7,136.3h0M380.8,103.2h0M379.3,104.6h0M387.9,103.6h0M367.2,115.8h0M363.2,119.6h0M379,129.3h0M377.9,109h0M362.6,113.8h0M375.6,104.9h0M381.7,102.1h0M407.4,90.6h0M372.1,109.5h0M377.3,108.2h0M335.1,136.2h0M356.4,122.6h0M349.9,124.4h0M343.4,126.4h0M327.8,137.6h0M390.4,115.8h0M391.5,96.9h0M370.4,109.1h0M354.3,122.1h0M359.9,115.9h0M379.1,105.7h0M363.7,114.2h0M340.5,126.8h0M359.9,115.6h0M347.5,123.4h0M363.8,114.6h0M362,116.1h0M377.7,104.8h0M376.5,108.5h0M354.3,120h0M367.2,116.2h0M358.6,119h0M392,101h0M379.7,110.4h0M370.8,114h0M366.5,115.2h0M348.1,123.7h0M353.2,118.8h0M341.9,127.8h0M390.8,106h0M391.7,96.8h0M386,101.3h0M356.6,120.2h0M327.4,135.5h0M390.1,106.3h0M371.9,107.7h0M361.1,117h0M356.7,119.5h0M383.2,101h0M363.5,116h0M377.3,106.1h0M324.7,137.1h0M370,122.5h0M351.7,119.4h0M371.8,109.3h0M381.1,101.8h0M393.2,94.9h0M358.5,115.8h0M368.6,116.3h0M382.7,101.3h0M355.9,119.5h0M371.5,115.5h0M354.8,121.6h0M345.6,124h0M388.9,101.7h0M357,119h0M359.4,116.3h0M373.8,107.1h0M364,114.4h0M351.4,127.1h0M416.7,83.8h0M387.3,99.6h0M358,116.7h0M375.7,105.9h0M333.8,131.5h0M337.8,130.2h0M384.9,101.2h0M381.1,104.4h0M372.1,114.4h0M365,112.1h0M373.5,106.9h0M360.6,114.4h0M379.9,103.3h0M385.2,104.2h0M354.5,119.3h0M381.2,112h0M365.4,113.1h0M362.3,114.8h0M357.7,118.3h0M377.4,105.1h0M361.1,114.7h0M370.1,112h0M366.3,113.9h0M341.7,131.7h0M339.3,131.7h0M387.1,104.2h0M358.2,115.7h0M378.1,114.7h0M360.7,115.3h0M378.5,105.6h0M364.4,114h0M373.4,111.2h0M373.2,108.3h0M384.7,104.7h0M388.5,108.5h0M398.9,93.3h0M341,129.5h0M384.2,105.4h0M341.5,127.1h0M357.9,119.3h0M357,120h0M379.3,115.3h0M389.8,98.8h0M367,119.2h0M387.9,98.2h0M368.1,115.9h0M377.8,113h0M355.4,119.5h0M371.1,110.1h0M361.8,114.7h0M327.7,134.1h0M378.2,111.8h0M384.6,105h0M325.8,138.5h0M369.7,111.1h0M376.3,154.3h0M393.5,100.8h0M357.9,123.4h0M390.7,98.6h0M377.9,108.3h0M398.3,91.9h0M364.1,145.5h0M346.8,124.7h0M372.3,114.8h0M367.3,112.6h0M343.8,128.7h0M349.9,120.6h0M374.8,107.9h0M367.9,114.5h0M377.6,106.5h0M389.2,101.4h0M358.4,116.9h0M344.3,126.5h0M341.3,128.1h0M369,112.8h0M378.8,110.1h0M361.8,113.8h0M365.6,114.1h0M347.4,133.7h0M319.3,140.6h0M344,126.1h0M378.7,107.1h0M378.5,103.3h0M357.4,117.8h0M380.3,115.3h0M403.9,94.5h0M387.9,99.2h0M379.8,104.7h0M419.1,103.4h0M357.1,126.9h0M369.7,109.4h0M384.4,104.5h0M327,135h0M342.9,126.4h0M368.2,109.7h0M404.7,92.8h0M380.8,113.2h0M367.8,109.9h0M376.9,122.9h0M359.6,118h0M356.3,118.2h0M353,120.6h0M397.2,95.5h0M365.9,111.4h0M373,107.6h0M339.6,126.4h0M355.7,119.6h0M350.8,121.9h0M372,108.2h0M375,109.4h0M355.2,123.7h0M368.2,110.5h0M366.3,112.3h0M342,128.6h0M353.8,119.8h0M371.4,122.7h0M391.7,98.7h0M356.3,119.8h0M348.1,122.7h0M381.7,104.8h0M366.3,113.2h0M393.3,95h0M358.2,116.2h0M392.3,96.9h0M380.6,104.9h0M351.9,122.9h0M378,105.2h0M369.3,111.1h0M369.7,112.5h0M391.9,96.9h0M326.5,135.9h0M342.3,126.9h0M364.9,113.2h0M344.2,126.6h0M363.5,114.5h0M347.4,126h0M383,107.6h0M340.1,127.1h0M374.1,110.8h0M378.9,104.3h0M368.4,118.5h0M390.7,101.1h0M351.5,120.7h0M350.2,123.5h0M363.7,115.5h0M338.3,130.2h0M407.7,89.2h0M355.9,116.8h0M363,124.8h0M345.1,127.8h0M334.2,130.7h0M381.5,105h0M361.1,124.1h0M353.2,118.9h0M400.1,96.5h0M373.1,109.7h0M384.3,103.1h0M344.6,127.2h0M401.8,93.5h0M361.5,119.1h0M370,110.2h0M374.8,106.5h0M350.2,128.3h0M364.3,115.5h0M377.1,110.3h0M353.1,142.5h0M381.5,109.7h0M393.3,112.3h0M338.9,128.2h0M373.6,109.2h0M340.2,126.5h0M369.6,109.1h0M366.8,111.5h0M395.2,108.7h0M376.2,106.6h0M382.4,109.6h0M391.9,98h0M374.4,107.4h0M362,121h0M391.9,97.3h0M324.2,139h0M348.7,125.2h0M363,112.6h0M410,85.6h0M407.9,86.5h0M363.1,119.7h0M364,113.9h0M355.3,120.4h0M384.3,101.8h0M358.1,117.9h0M370.2,112.9h0M359.9,125.8h0M363.8,112.2h0M340.3,135.1h0M381.3,104.3h0M355.1,118.6h0M392.9,96h0M381.9,104.9h0M401.4,90.2h0M382.3,101.6h0M361.1,115.7h0M351.2,126.5h0M336.5,144.5h0M357,116.9h0M374.7,109.9h0M383,104.8h0M373.4,110.1h0M376,108.5h0M338,129.5h0M346.1,124.6h0M361,116.7h0M364.1,117.9h0M371.7,109.3h0M373.9,107.7h0M371.5,107.8h0M366.9,119.2h0M389.1,98h0M382.1,109.8h0M345.2,128.6h0M324.6,137h0M380.1,107.4h0M325,136.2h0M376.7,110.7h0M392.8,95.7h0M375.7,107h0M358,115.9h0M368.1,113.8h0M381.1,106.9h0M357.1,118h0M384.5,105.8h0M358.7,119.3h0M347.8,123h0M339,128.3h0M352.6,120.3h0M390.4,99.7h0M359.3,118.5h0M377.8,107h0M400.1,96.1h0M336.3,130.2h0M353.1,120.5h0M360,117.1h0M372.3,137.3h0M380.2,104.8h0M338.7,129.4h0M372,109.1h0M345.3,126.3h0M370.5,109.6h0M334.3,132.8h0M347.3,124.3h0M381.2,105.2h0M362.7,116.2h0M367.6,110.5h0M350.1,121.6h0M394.3,94.6h0M355,119h0M346.1,127.4h0M369.8,109.3h0M400.1,95.9h0M355.7,124.2h0M359.8,115.2h0M336.1,130.5h0M355.9,119.9h0M379.5,106.1h0M333.8,131.1h0M408.1,87.4h0M387.9,100.7h0M346.8,124.7h0M359.7,118h0M377.6,106.2h0M367.2,120.5h0M379.9,109.4h0M363.8,115.1h0M341,128.7h0M369.7,109.2h0M376.8,107.4h0M368,120.8h0M370.3,109.2h0M391.6,95.5h0M373.2,109.1h0M356.7,118.5h0M387.6,119.3h0M391.7,96.8h0M383.7,102.4h0M334.3,131.2h0M336.8,132.5h0M381.7,101.4h0M348.1,124.3h0M385.3,107.4h0M357.9,116.9h0M402.1,94.1h0M359.1,118.4h0M359.1,121.3h0M353.5,123.3h0M359.4,119.6h0M356.2,120.4h0M369.9,116.8h0M369.2,111.2h0M363.2,114h0M378,109.2h0M378,104.4h0M385.8,102h0M382.9,105.8h0M382.1,102.5h0M354.2,117.9h0M362.9,123.6h0M332.8,133.1h0M362.8,114h0M363.3,121.2h0M385,104.3h0M360.8,115.3h0M356.9,118.2h0M362.9,118.6h0M356.3,118.8h0M352,121.5h0M331.9,132.8h0M358.2,116.8h0M395,97.3h0M375.4,124.4h0M344.2,126.7h0M402,91.2h0M359.8,118.2h0M359.6,115.2h0M366.6,117.5h0M386.4,107.4h0M351,123.2h0M399.7,135.1h0M390.6,98.3h0M331.6,133.2h0M364.4,116.5h0M381.3,103.7h0M408.2,85.4h0M379.1,108.2h0M351.4,121.7h0M333.9,130.7h0M330.4,133.3h0M401.7,112.2h0M335.1,135.2h0M370.8,109h0M369.7,112.3h0M382.2,108.3h0M357.8,121h0M365.3,115.8h0M348.6,123.3h0M335.8,133.1h0M352,134.2h0M340.2,128.6h0M384.2,101.8h0M375.9,105.7h0M334.2,134.1h0M359,115.4h0M382.3,101.7h0M351.6,122.9h0M327.1,135.7h0M360.1,114.6h0M362,121.2h0M357.3,119.8h0M374,107.7h0M362.6,114.2h0M362.5,118.7h0M349.3,122h0M369.9,110.7h0M383.1,104.2h0M375.7,105.7h0M385.9,100.4h0M363.9,113.5h0M361.1,116.7h0M344.6,125.5h0M381,102.8h0M357.1,121h0M378.3,111.5h0M354.2,119.9h0M376,106.3h0M352.9,120h0M360,116.6h0M356.3,137.5h0M348.4,123.7h0M355.3,118.9h0M354,119.9h0M386.7,115.2h0M356.7,120.7h0M357,118.2h0M360.7,116.6h0M372.8,106.6h0M343.2,125.1h0M372,114.8h0M359.2,117.5h0M398.3,92.1h0M359.1,121.8h0M358.2,118.6h0M336.5,131h0M376.2,106.7h0M349.6,122.4h0M342.9,127h0M331.7,131.6h0M343,127.4h0M366.4,111.5h0M349.4,120.9h0M382.8,101.5h0M386.7,100h0M350.3,122.9h0M351.9,121h0M379.6,113.4h0M405.8,92.5h0M379.2,104.6h0M385.8,111.7h0M323,139.6h0M337.8,137.9h0M360.6,117.4h0M351.6,121h0M357.2,124.9h0M373,109.1h0M356.1,129h0M374.5,112.6h0M388.1,100h0M366.6,113.4h0M352.5,120h0M342.5,127h0M356.4,123.5h0M371.8,112.5h0M361.8,122h0M390.6,107h0M321.5,141.6h0M346.2,124.2h0M386,102.3h0M343.2,126.3h0M339.2,134.2h0M355.6,118.9h0M365.7,114.3h0M361.1,116.1h0M357.2,117.7h0M331.9,134.5h0M396,102.7h0M392,96h0M343.1,125.6h0M375.1,109h0M362.3,114.7h0M354.6,118.1h0M381,102.4h0M347.8,122.6h0M357.4,118.1h0M385.1,99.8h0M376.5,106h0M353.8,120.9h0M377.6,108.3h0M411,89.7h0M356.3,122.6h0M360.3,117h0M378.9,104.3h0M364.3,111.8h0M375.5,111h0M341.9,126.4h0M373.8,106.5h0M357.7,117.2h0M348.5,121.5h0M384.3,111.4h0M353.4,120.3h0M398.2,92h0M371,108.2h0M348.2,124.3h0M356,117h0M353.5,120.8h0M361.1,116.7h0M372.8,108.7h0M368.3,120.3h0M380.1,105.4h0M348.9,121.6h0M377.7,108.7h0M368.7,111.7h0M386,101h0M376.9,105.2h0M400.9,93h0M357.5,120.2h0M393.6,100.8h0M360.6,120h0M386.6,106.1h0M377.7,103.5h0M338,142.5h0M400.5,91.9h0M384.1,102.2h0M348.7,122.9h0M347.6,134.1h0M322.6,139h0M394.6,96.8h0M355.7,123.3h0M369.9,108.9h0M338.3,128.6h0M373.7,110.8h0M386.4,101.8h0M387.6,98.1h0M370.2,110.6h0M355.6,117h0M367.1,114h0M351.2,120.9h0M333.5,134.2h0M329.4,133.3h0M370.4,108.4h0M392.3,95.2h0M369.2,115.1h0M374.2,109.8h0M367.7,127.7h0M342.9,125.1h0M390.8,106.4h0M349.2,123h0M393.8,95.7h0M353.8,121.7h0M332.4,132.1h0M371.6,118h0M347.1,123.3h0M397.5,94.3h0M363.3,117.2h0M354.7,118.6h0M375.4,106.3h0M388.8,104.4h0M349.2,121.9h0M376.2,107.1h0M353.7,125.7h0M368.9,112.8h0M355.7,118.1h0M350.5,123.2h0M363.6,113.7h0M371.6,109.8h0M350.7,125.3h0M359.3,115.5h0M350,121.3h0M346.5,127.6h0M320.9,139.1h0M341.8,126h0M387.5,102h0M377.6,125.3h0M399.9,94.9h0M349.7,121.3h0M375.1,109.5h0M361.2,118.9h0M376.1,105.5h0M355.8,119h0M389.2,97.4h0M389.7,98.8h0M318.7,146.5h0M400.6,91.6h0M399.1,96.1h0M338.5,130.9h0M369.8,116.3h0M345.2,123.7h0M362.6,115.9h0M379,108.2h0M367.7,111.4h0M358.3,117.2h0M366.5,143.1h0M398.9,91.7h0M345,125.1h0M344.8,125.6h0M376.7,106.2h0M374.7,108.3h0M368.7,114.3h0M386.6,105.6h0M363.1,115.2h0M340.8,128.6h0M337.6,129.3h0M374.7,150.3h0M367.1,117.1h0M348.7,121.5h0M363.3,115.1h0M374,110.6h0M375.3,105.5h0M342.4,125.4h0M345.1,125.2h0M364.9,112.7h0M367.1,114.5h0M387.8,100.3h0M363.4,113.2h0M354.7,120.7h0M366,115h0M358,118.5h0M384.2,101.3h0M357.5,120.8h0M379,104.3h0M381.9,102.4h0M344.1,124.4h0M380.6,102.1h0M367.3,111.3h0M362.2,118.8h0M398.9,95.8h0M359.3,116.6h0M367,110.8h0M337.3,130.5h0M380.5,106h0M361.4,115.6h0M354.6,121.6h0M380,105.9h0M397.6,96h0M366,112.1h0M407.3,86.6h0M376,105h0M359.6,124.4h0M386.6,104.1h0M358.7,118.8h0M392.3,99.9h0M372.7,112.3h0M356.1,120.2h0M360.6,116.2h0M363.3,113.5h0M380.9,102.9h0M354.3,120.5h0M379.7,113.7h0M371.8,109h0M363.5,113.8h0M386.8,100.8h0M362.3,113.9h0M378.9,105.8h0M360.8,119.1h0M372.4,110.6h0M344.6,127.4h0M358.6,117.7h0M367.5,112.1h0M363.6,112.8h0M337.4,129.3h0M351.3,119.8h0M364.8,115.5h0M352.4,119.6h0M369.6,109.4h0M329.2,135.5h0M358.9,117.1h0M379.3,104.9h0M367.1,111.3h0M381.5,103.6h0M343.1,130.2h0M357.7,122.4h0M354.3,119.5h0M363.8,113.8h0M340.1,128.8h0M365.4,120.4h0M382.8,105.1h0M392,97.5h0M400,95.1h0M342.2,125.6h0M353.3,119h0M344.3,129.4h0M345.4,123.9h0M368.7,111h0M395.6,93.3h0M369.7,116.6h0M371,111.9h0M374.2,110h0M369.8,110.4h0M364.8,130.3h0M353.4,123h0M361,115h0M345.5,123.7h0M352.8,120.3h0M380.3,101.9h0M349.3,121.4h0M341,126.5h0M375.4,105.8h0M351.8,122.2h0M369.2,112.5h0M357.2,121h0M365.9,111.7h0M349.7,122.8h0M347,123.2h0M357.7,118.2h0M389.7,100.5h0M374.4,110.3h0M354.2,120.5h0M369.1,109.7h0M366.2,115h0M348.1,122.9h0M363.9,119.1h0M379.7,103.7h0M350.7,120.5h0M350.7,129.6h0M340.2,128.5h0M330.1,133.5h0M347.2,124h0M347.4,126.1h0M348.1,122h0M345.1,125h0M383.6,102.9h0M362.2,114h0M359.4,118.4h0M361.1,115.5h0M382.4,106.5h0M374.6,106.5h0M346.5,123.4h0M381.6,105.7h0M348.8,122.2h0M375.7,113.4h0M372.9,107.1h0M332.2,132.6h0M341.9,126.1h0M389.2,98.1h0M369.4,113.1h0M363.3,115.6h0M383.6,104.6h0M383.4,101.7h0M359.8,116.8h0M388.1,100.5h0M370.7,119.2h0M336.7,143.4h0M384.9,101.5h0M342.8,125.6h0M348.4,121.6h0M380.2,106.5h0M338.4,127.6h0M365.9,112.5h0M377.3,110.6h0M358.1,120.7h0M374.6,107.4h0M354.2,130.1h0M376.9,104.6h0M383.8,102.8h0M378.7,102.9h0M365.6,115.1h0M344.5,124.8h0M356.8,119.9h0M341.5,127.5h0M344.5,127.5h0M350.2,121.4h0M372.6,109.9h0M372.8,111.2h0M324,136.8h0M375.4,107.4h0M362.6,118.7h0M360.3,115.9h0M357.9,117.1h0M373.4,107.3h0M342.4,125.6h0M377.9,107.1h0M386.5,99.1h0M348.2,125.7h0M360.2,117.3h0M350.9,123.3h0M355.5,154h0M334.1,134.1h0M377,107.6h0M387.6,100.5h0M344.5,125.3h0M386.3,105.2h0M336.2,132.9h0M331.6,132h0M386.1,104.3h0M381.6,103.9h0M347.6,130.7h0M370.7,112.1h0M344,127.1h0M370.8,111.7h0M395.9,98.1h0M357.1,118.4h0M311.6,145.2h0M292,156.1h0M297.6,152.8h0M299.8,151.5h0M292.9,155.4h0M306.6,147.8h0M300.2,151.5h0M311.5,145.4h0M296.3,153.6h0M309,146.2h0M301.1,150.6h0M307.9,146.9h0M301.9,150.3h0M300.1,151.6h0M307.6,148.5h0M311.3,144.8h0M291.6,156.6h0M291.8,156.1h0M297.3,152.8h0M294.7,154.5h0M306,148.5h0M308.9,147.3h0M306.5,148.5h0M309.7,145.4h0M295.1,154.7h0M290.8,156.7h0M314.1,142.7h0M294.8,154.3h0M294.9,154.3h0M306.3,149h0M305.4,148h0M308.5,146h0M303.8,149h0M311.1,145.5h0M296.7,153.1h0M303.9,148.8h0M306.6,149.2h0M296,153.6h0M310.1,145.2h0M312.2,143.9h0M326.4,136.5h0M327.9,137.1h0M312.4,144h0M345.6,126h0M337.5,131.9h0M325.4,137h0M318.6,143.2h0M319.7,140h0M316.9,141.7h0M331.4,134.4h0M340.3,128.7h0M337.4,129h0M315.9,142.1h0M324.4,136.5h0M338.7,135.5h0M345.9,126.4h0M331.2,136.1h0M322.8,138.4h0M320.7,140.1h0M340.6,127.5h0M337.2,130.6h0M313.1,144.8h0M338.1,128.6h0M317.5,140.9h0M341.2,127.4h0M314.2,143h0M326,136.6h0M334.1,133.5h0M330.9,132.5h0M325.8,136.1h0M325.4,136.4h0M316.6,142.1h0M319.5,140.4h0M341.1,133.5h0M315.2,142.7h0M339.8,127.9h0M335.4,131.1h0M344.5,127.3h0M311.6,151h0M329.3,137.3h0M327.9,135.4h0M342.7,127.5h0M336.2,133h0M343.3,130.8h0M338,129.1h0M344.1,125.8h0M321.4,140.1h0M334.3,129.8h0M321.4,138.2h0M316.6,141.2h0M322.3,139h0M315.6,141.7h0M321.3,146.2h0M336.6,130.7h0M320.5,138.9h0M336.1,131h0M329.6,134.5h0M312.1,144.8h0M324.5,137.4h0M338.4,129h0M338.4,130.2h0M310.5,146.8h0M336.4,131.6h0M325.3,138.8h0M336.7,131.7h0M312.3,145.2h0M324.1,139h0M311.8,144.2h0M312.1,144.7h0M315.5,143.2h0M333.9,131.3h0M334.2,130.5h0M311.9,144.6h0M314.2,144.8h0M334.6,130.7h0M328.4,135.2h0M336.5,133h0M324.4,137.5h0M340.1,128h0M327.8,139.2h0M319.7,139.9h0M335.1,130.9h0M326.3,135.6h0M342.9,127.7h0M329.2,137.1h0M332.1,132.1h0M326.8,135.8h0M336.4,131.3h0M329,133.7h0M333,133.3h0M341.3,128h0M339.8,131.5h0M335.6,129.8h0M322.2,140.8h0M328.6,138.3h0M327.1,135.4h0M315.7,143.1h0M329.2,136.2h0M312.4,144h0M337.3,128.3h0M345.5,123.5h0M313.2,144.2h0M344.6,127.2h0M329.7,136.2h0M338.2,129.1h0M332.1,132.9h0M340.7,127.7h0M310.6,144.9h0M332.6,132.7h0M327.4,147.6h0M319.2,142.2h0M339.5,130.6h0M313.2,145.6h0M315.5,144h0M345.6,123.5h0M322.3,152.7h0M317.2,141.3h0M342.9,127.3h0M342.5,128.1h0M326.1,140.5h0M325.2,137.1h0M343.8,128.6h0M319.2,139.9h0M323.7,142.4h0M338.1,130.6h0M321.5,138.6h0M329.5,133.7h0M315.7,141.2h0M336.1,130.8h0M344.4,125.9h0M341.6,126h0M342.6,137.1h0M335.6,129.6h0M336.4,131.7h0M331,135.6h0M340.2,125.9h0M322.3,139h0M341.3,127.6h0M311.4,146.4h0M314.8,142.7h0M330.1,134.5h0M337.4,132.8h0M318.6,140.8h0M326.2,137.1h0M315.8,142.5h0M341.5,126.2h0M313.5,143.7h0M323.3,137.8h0M340.5,128.5h0M311.8,144.1h0M316,143.6h0M342.4,128.8h0M334.2,136.5h0M345.7,127.3h0M337.5,130.9h0M331.4,133.1h0M327.9,134.3h0M334.5,131.4h0M328,139.9h0M311.7,144.6h0M317.3,141.8h0M337.9,132.6h0M327,135.8h0M317.1,140.8h0M334.7,131.9h0M337.4,129.1h0M318.3,142.6h0M341,131.5h0M316.9,150.6h0M319.2,140h0M313.5,147.1h0M315.3,142.2h0M324.6,138.5h0M327.9,136.1h0M313.9,142.9h0M336.3,133.6h0M344.1,129.6h0M310.5,145h0M326.3,136.4h0M322.8,137.6h0M319.8,140.1h0M338.6,128.7h0M329.6,133.9h0M320,138.7h0M335.1,130.5h0M314.5,142.5h0M333.2,132.2h0M345.1,123.5h0M338.8,132.2h0M339.7,129.5h0M312.7,144.1h0M313.6,144.9h0M336.5,130.5h0M317.3,140.8h0M313.7,143.2h0M310.7,145.4h0M319.7,140.7h0M339,127.9h0M331.2,132.9h0M337.7,128.3h0M390.7,96.5h0M407.3,86h0M406.2,89.6h0M405.8,87.2h0M395.3,106.7h0M398.2,91.2h0M395.6,94.8h0M414.8,101h0M414.1,90.3h0M409,90.6h0M387,110.9h0M386.8,106.4h0M409.2,87.1h0M401.7,89.6h0M398.4,91.7h0M408.8,88.2h0M410.5,93.6h0M414.7,84.2h0M418.3,80.8h0M402.3,112.9h0M399.2,106h0M417.1,79.8h0M387,98.8h0M408.2,91.4h0M401.9,89.9h0M400.6,95.5h0M400.4,95.1h0M388.2,99.2h0M407.2,95.2h0M387,99.4h0M392.3,99.1h0M415.8,85.5h0M387.1,100.2h0M415.8,90.7h0M396.2,93.5h0M395.1,100.9h0M396.8,103.2h0M396.5,96.2h0M412.5,85.6h0M392.8,98.5h0M388.2,100.6h0M416.8,86.6h0M417.3,80.2h0M415.4,89.8h0M392.8,96.9h0M415.1,82.9h0M400.8,100.3h0M416,81h0M390.4,97h0M388.3,100.6h0M404.8,87.4h0M405.7,87.9h0M394.9,97.9h0M402.6,95h0M387,99.5h0M388.8,103.6h0M417.9,83.1h0M399.8,95.3h0M396.9,92.1h0M403.9,88.2h0M446.6,64.9h0M453,59h0M457,66.1h0M462.6,59.6h0M466.6,60.2h0M434.5,72.5h0M430.5,82.1h0M426.5,79.5h0" fill="none" stroke="#2b82c8" stroke-width="0.90" stroke-linecap="round" opacity="0.9"/>
<line x1="290.4" y1="156.9" x2="490.6" y2="45" stroke="#7fb2de" stroke-width="0.6"/>
<text x="285.2" y="160" font-size="7" text-anchor="end" fill="#222" stroke="#222" stroke-width="0.12">0</text>
<text x="285.2" y="135" font-size="7" text-anchor="end" fill="#222" stroke="#222" stroke-width="0.12">500</text>
<text x="285.2" y="111" font-size="7" text-anchor="end" fill="#222" stroke="#222" stroke-width="0.12">1000</text>
<text x="285.2" y="87" font-size="7" text-anchor="end" fill="#222" stroke="#222" stroke-width="0.12">1500</text>
<text x="285.2" y="62" font-size="7" text-anchor="end" fill="#222" stroke="#222" stroke-width="0.12">2000</text>
<text x="285.2" y="38" font-size="7" text-anchor="end" fill="#222" stroke="#222" stroke-width="0.12">2500</text>
<text x="285.2" y="14" font-size="7" text-anchor="end" fill="#222" stroke="#222" stroke-width="0.12">3000</text>
<text x="290.4" y="169" font-size="7" text-anchor="middle" fill="#222" stroke="#222" stroke-width="0.12">0</text>
<text x="330.4" y="169" font-size="7" text-anchor="middle" fill="#222" stroke="#222" stroke-width="0.12">500</text>
<text x="370.5" y="169" font-size="7" text-anchor="middle" fill="#222" stroke="#222" stroke-width="0.12">1000</text>
<text x="410.5" y="169" font-size="7" text-anchor="middle" fill="#222" stroke="#222" stroke-width="0.12">1500</text>
<text x="450.6" y="169" font-size="7" text-anchor="middle" fill="#222" stroke="#222" stroke-width="0.12">2000</text>
<text x="490.6" y="169" font-size="7" text-anchor="middle" fill="#222" stroke="#222" stroke-width="0.12">2500</text>
<text x="267.7" y="83.8" font-size="7.55" text-anchor="middle" fill="#111" font-weight="bold" stroke="#111" stroke-width="0.2" transform="rotate(-90 267.7 83.8)">TKN Load removed (kg/d)</text>
<text x="390.6" y="178" font-size="6.7" text-anchor="middle" fill="#111" font-weight="bold" stroke="#111" stroke-width="0.2">TKN load (kg/d)</text>
<text x="450.6" y="22.5" font-size="6.7" text-anchor="start" fill="#222" stroke="#222" stroke-width="0.12">y = 0.92x</text>
<text x="450.6" y="30.6" font-size="6.7" text-anchor="start" fill="#222" stroke="#222" stroke-width="0.12">R<tspan dy="-2.6" font-size="4.4">2</tspan><tspan dy="2.6"> = 0.93</tspan></text>
<line x1="76.2" y1="190.2" x2="76.2" y2="338" stroke="#ececec" stroke-width="0.7"/>
<line x1="110.1" y1="190.2" x2="110.1" y2="338" stroke="#ececec" stroke-width="0.7"/>
<line x1="144.1" y1="190.2" x2="144.1" y2="338" stroke="#ececec" stroke-width="0.7"/>
<line x1="178.1" y1="190.2" x2="178.1" y2="338" stroke="#ececec" stroke-width="0.7"/>
<line x1="212" y1="190.2" x2="212" y2="338" stroke="#ececec" stroke-width="0.7"/>
<line x1="42.2" y1="308.4" x2="246" y2="308.4" stroke="#ececec" stroke-width="0.7"/>
<line x1="42.2" y1="278.9" x2="246" y2="278.9" stroke="#ececec" stroke-width="0.7"/>
<line x1="42.2" y1="249.3" x2="246" y2="249.3" stroke="#ececec" stroke-width="0.7"/>
<line x1="42.2" y1="219.8" x2="246" y2="219.8" stroke="#ececec" stroke-width="0.7"/>
<clipPath id="c3"><rect x="42.2" y="190.2" width="203.8" height="147.8"/></clipPath>
<path d="M42.2,307.5 42.3,307.5 42.3,299.2 42.4,302.2 42.5,297.3 42.5,300.5 42.6,298 42.7,303.3 42.7,299.7 42.8,299.7 42.9,300.2 42.9,303.2 43,298.7 43.1,295.6 43.2,296.1 43.2,286.2 43.3,287.3 43.4,287.2 43.4,285.5 43.5,283.7 43.6,286.9 43.6,290.3 43.7,286 43.8,273.3 43.8,277.3 43.9,278 44,287 44,285.7 44.1,282.9 44.2,283.1 44.2,273.1 44.3,275 44.4,270.7 44.4,275.6 44.5,276.5 44.6,282.9 44.6,282.9 44.7,277.8 44.8,278.9 44.8,277.8 44.9,274.7 45,282.1 45.1,281 45.1,277.8 45.2,285.6 45.3,285.4 45.3,281.4 45.4,275.3 45.5,276 45.5,272.5 45.6,276.7 45.7,281.7 45.7,277.5 45.8,285.1 45.9,283.1 45.9,281.8 46,281.5 46.1,283.4 46.1,278.3 46.2,278.4 46.3,275.9 46.3,279.7 46.4,278.6 46.5,273.9 46.5,275.6 46.6,282.1 46.7,279 46.8,278.3 46.8,281.6 46.9,284.4 47,285.8 47,272.8 47.1,275.4 47.2,274.7 47.2,277.8 47.3,276.6 47.4,278.6 47.4,281.8 47.5,275.4 47.6,271.6 47.6,278.7 47.7,276 47.8,271.1 47.8,270.6 47.9,278.3 48,280.4 48,275.7 48.1,280 48.2,286.9 48.2,280.1 48.3,284.2 48.4,273.3 48.4,273.4 48.5,281.4 48.6,276.8 48.7,282.9 48.7,288.2 48.8,279.9 48.9,282.2 48.9,290.6 49,288.7 49.1,285.4 49.1,290.9 49.2,288.1 49.3,286.2 49.3,282.4 49.4,287.1 49.5,286.2 49.5,281 49.6,280.6 49.7,282.8 49.7,287.5 49.8,276 49.9,276.2 49.9,268.9 50,268.3 50.1,277.7 50.1,276.5 50.2,281.3 50.3,275.8 50.4,271.7 50.4,267.5 50.5,268.8 50.6,266.4 50.6,274.3 50.7,269.8 50.8,278.3 50.8,276.6 50.9,282.4 51,277 51,284.6 51.1,276.5 51.2,285.7 51.2,278.6 51.3,277.5 51.4,279 51.4,276.9 51.5,276.9 51.6,277.9 51.6,282.4 51.7,283.5 51.8,281.4 51.8,280.3 51.9,281.7 52,274.8 52.1,279.2 52.1,284.5 52.2,290.4 52.3,282.3 52.3,281.3 52.4,276.5 52.5,285.5 52.5,287.9 52.6,288.5 52.7,283.4 52.7,278.1 52.8,281.4 52.9,283.8 52.9,272.9 53,268.9 53.1,269 53.1,272.3 53.2,276.5 53.3,275.9 53.3,279.8 53.4,282.4 53.5,283.1 53.5,281.9 53.6,276.8 53.7,284.2 53.7,283.6 53.8,283.6 53.9,283.3 54,292.7 54,291 54.1,290.8 54.2,292 54.2,283.4 54.3,288 54.4,287.3 54.4,289.9 54.5,285.5 54.6,291.7 54.6,287.7 54.7,287.7 54.8,287.5 54.8,287.9 54.9,282.6 55,281.8 55,283.4 55.1,277.1 55.2,278.1 55.2,277.1 55.3,276.3 55.4,278.1 55.4,276.6 55.5,274.6 55.6,281.8 55.7,287.8 55.7,287.3 55.8,293.9 55.9,286.9 55.9,286 56,292.7 56.1,293.8 56.1,290.7 56.2,295.5 56.3,292.5 56.3,294.6 56.4,286.4 56.5,292.4 56.5,280 56.6,271.7 56.7,270 56.7,269.8 56.8,270.8 56.9,274.1 56.9,279.9 57,278.7 57.1,283.1 57.1,276 57.2,276.6 57.3,285.4 57.3,280.2 57.4,290.3 57.5,290.5 57.6,288.3 57.6,287.3 57.7,284.1 57.8,284.2 57.8,290.5 57.9,291.9 58,291.9 58,293.5 58.1,281.6 58.2,288 58.2,294.3 58.3,283.5 58.4,283.6 58.4,279.9 58.5,281.2 58.6,282 58.6,278.7 58.7,285.4 58.8,273.4 58.8,273.5 58.9,283.7 59,287 59,285.2 59.1,285.3 59.2,278.5 59.3,283.7 59.3,286 59.4,289.4 59.5,288.7 59.5,281.5 59.6,287.9 59.7,285.7 59.7,291.1 59.8,296.4 59.9,293.8 59.9,288.6 60,288 60.1,280.3 60.1,285.9 60.2,285 60.3,284.6 60.3,283 60.4,288.7 60.5,295.9 60.5,288.7 60.6,294.4 60.7,290.6 60.7,283.8 60.8,288.3 60.9,285.2 60.9,284.8 61,278.4 61.1,273.3 61.2,275.7 61.2,270.3 61.3,270.3 61.4,277.3 61.4,282.3 61.5,279.2 61.6,282.4 61.6,279.2 61.7,286.4 61.8,283.8 61.8,284.6 61.9,287.7 62,286 62,283.1 62.1,284.7 62.2,284.7 62.2,282.5 62.3,284.4 62.4,290.3 62.4,298.6 62.5,301.7 62.6,300.7 62.6,302.6 62.7,304.4 62.8,299.9 62.9,296.4 62.9,290.1 63,287.4 63.1,286.2 63.1,282 63.2,278 63.3,284.6 63.3,281.4 63.4,288.1 63.5,281.8 63.5,291.5 63.6,289.1 63.7,282.7 63.7,285.8 63.8,286.8 63.9,285.4 63.9,292.8 64,293.2 64.1,288 64.1,287.6 64.2,293.6 64.3,290.2 64.3,286.9 64.4,279.7 64.5,284.7 64.6,274.4 64.6,276 64.7,280.5 64.8,274.9 64.8,271.1 64.9,263.1 65,273.5 65,269.1 65.1,261.9 65.2,266.7 65.2,255.1 65.3,259.9 65.4,257.3 65.4,267.5 65.5,269.3 65.6,269.3 65.6,273.9 65.7,270 65.8,270.9 65.8,273.2 65.9,275.6 66,272 66,282.5 66.1,280.5 66.2,278.5 66.2,274.6 66.3,284.6 66.4,276 66.5,279.5 66.5,275.7 66.6,279.2 66.7,279.2 66.7,275.5 66.8,286.9 66.9,289.5 66.9,278.3 67,275.4 67.1,279.6 67.1,269.9 67.2,268.7 67.3,268.8 67.3,272.3 67.4,266.1 67.5,267.9 67.5,277.2 67.6,271.4 67.7,269.4 67.7,273.3 67.8,278.4 67.9,271.8 67.9,268.7 68,269.2 68.1,259.4 68.2,271.7 68.2,273 68.3,265.6 68.4,268.5 68.4,272.7 68.5,272.7 68.6,277.9 68.6,270.2 68.7,270.9 68.8,263.6 68.8,267 68.9,271.1 69,266.4 69,277.1 69.1,273.2 69.2,274.5 69.2,276.6 69.3,284.6 69.4,268.7 69.4,274.2 69.5,268.2 69.6,266 69.6,261.1 69.7,266.3 69.8,271.9 69.8,268 69.9,264.8 70,260.3 70.1,270.1 70.1,260 70.2,257.1 70.3,266.4 70.3,269.8 70.4,276.8 70.5,283.7 70.5,277.3 70.6,277.4 70.7,280.2 70.7,284 70.8,283.8 70.9,279 70.9,272.1 71,270 71.1,267.5 71.1,264.6 71.2,276 71.3,263.3 71.3,261.2 71.4,270.4 71.5,272.2 71.5,279 71.6,277.3 71.7,272.1 71.8,278.5 71.8,270.3 71.9,266.2 72,272.6 72,274.4 72.1,284.3 72.2,281.4 72.2,265.5 72.3,265.5 72.4,257.8 72.4,270.9 72.5,269.7 72.6,259.7 72.6,272.5 72.7,271.2 72.8,264.9 72.8,265.2 72.9,265.3 73,279.8 73,272.1 73.1,275.2 73.2,272.9 73.2,262 73.3,263.4 73.4,268 73.4,259.4 73.5,276.7 73.6,271.1 73.7,263.6 73.7,260.7 73.8,269.9 73.9,260.2 73.9,259.2 74,269 74.1,268.8 74.1,269.4 74.2,270.9 74.3,267.7 74.3,265.8 74.4,264.6 74.5,265.4 74.5,270.2 74.6,269.5 74.7,260.3 74.7,271.3 74.8,266.3 74.9,270.1 74.9,281.6 75,271.3 75.1,267.4 75.1,261.3 75.2,266.5 75.3,255.2 75.4,260.7 75.4,258.6 75.5,264.7 75.6,265.8 75.6,260.7 75.7,253.7 75.8,260.9 75.8,256.1 75.9,252.9 76,260.7 76,264.4 76.1,263.3 76.2,270.8 76.2,264.1 76.3,263.8 76.4,272.9 76.4,276.6 76.5,267 76.6,263.5 76.6,269.1 76.7,268.8 76.8,269 76.8,263.6 76.9,259.8 77,258.8 77,269 77.1,262.9 77.2,257.5 77.3,259.6 77.3,270.8 77.4,261.9 77.5,261.1 77.5,261.9 77.6,261.4 77.7,253.2 77.7,252.5 77.8,259.8 77.9,263.2 77.9,256.1 78,261.5 78.1,260.6 78.1,260.6 78.2,258.8 78.3,260.7 78.3,258.1 78.4,255 78.5,254.6 78.5,254 78.6,260 78.7,255.2 78.7,256.9 78.8,254.1 78.9,254.3 79,255.3 79,261.1 79.1,261 79.2,257.5 79.2,260.4 79.3,261.1 79.4,263.4 79.4,261.7 79.5,262.1 79.6,261.1 79.6,262 79.7,258.2 79.8,261 79.8,258.9 79.9,261.7 80,261.7 80,261.9 80.1,263.3 80.2,261.9 80.2,260.2 80.3,258 80.4,258.9 80.4,258.8 80.5,259.1 80.6,259.1 80.7,260.1 80.7,260.8 80.8,262.4 80.9,263.1 80.9,261.3 81,259.6 81.1,260.1 81.1,258.7 81.2,257.2 81.3,257.4 81.3,259.3 81.4,260.5 81.5,260.9 81.5,260 81.6,259.9 81.7,257.9 81.7,256.8 81.8,259.3 81.9,258.1 81.9,258.5 82,255.5 82.1,258.6 82.1,258 82.2,261.6 82.3,260.1 82.3,260.4 82.4,259.2 82.5,260 82.6,259 82.6,260.5 82.7,262.9 82.8,261.6 82.8,262.6 82.9,259.6 83,259.1 83,257.3 83.1,258.4 83.2,258.2 83.2,259 83.3,262.2 83.4,260.8 83.4,260.3 83.5,260.9 83.6,258.7 83.6,260.5 83.7,258.9 83.8,259.9 83.8,258.9 83.9,257.9 84,258.2 84,258.2 84.1,259.2 84.2,259.3 84.3,260.7 84.3,260.6 84.4,258.5 84.5,257.5 84.5,258.3 84.6,257.4 84.7,259.3 84.7,260.7 84.8,260.8 84.9,258.6 84.9,258.8 85,257.8 85.1,256.5 85.1,257.5 85.2,257.3 85.3,255.9 85.3,256.2 85.4,255.6 85.5,256 85.5,256.1 85.6,256.6 85.7,258.5 85.7,256.1 85.8,256.5 85.9,257.9 85.9,253.9 86,254.9 86.1,257.9 86.2,257.8 86.2,247.7 86.3,246.9 86.4,245.5 86.4,254.7 86.5,244.8 86.6,246.1 86.6,247.2 86.7,237.8 86.8,234.9 86.8,231.5 86.9,235.7 87,234 87,229.6 87.1,237.6 87.2,235.4 87.2,231.4 87.3,231.7 87.4,230.4 87.4,241.9 87.5,230 87.6,227.4 87.6,228 87.7,239.6 87.8,241.4 87.9,225.7 87.9,219.4 88,221.6 88.1,233.7 88.1,231.7 88.2,236.8 88.3,232.3 88.3,218.7 88.4,231.4 88.5,229.3 88.5,220.5 88.6,237 88.7,238.5 88.7,238.1 88.8,244.3 88.9,255.7 88.9,246.1 89,249.9 89.1,234 89.1,228.9 89.2,232.6 89.3,235.6 89.3,247.5 89.4,255.3 89.5,260 89.5,248.5 89.6,231 89.7,225.4 89.8,225 89.8,234.9 89.9,232.3 90,223.9 90,216.5 90.1,217.3 90.2,222.8 90.2,225.4 90.3,222.6 90.4,242.5 90.4,230.6 90.5,237.5 90.6,228.1 90.6,215.6 90.7,227.9 90.8,228.9 90.8,247.8 90.9,238.5 91,226.3 91,228.4 91.1,239.5 91.2,250.7 91.2,241.7 91.3,245.7 91.4,235.4 91.5,228.1 91.5,223 91.6,217.9 91.7,225 91.7,230.6 91.8,222.8 91.9,215.6 91.9,210.7 92,206.5 92.1,222.2 92.1,219.4 92.2,235.3 92.3,216.5 92.3,219.9 92.4,235.7 92.5,236.9 92.5,228.7 92.6,230.7 92.7,226.2 92.7,227.3 92.8,235.3 92.9,231.7 92.9,235.7 93,241.5 93.1,239.9 93.2,248.2 93.2,228 93.3,248.2 93.4,251.7 93.4,258.8 93.5,253.1 93.6,243.3 93.6,251.2 93.7,248.6 93.8,248.2 93.8,252.4 93.9,254.9 94,242.9 94,248 94.1,249.3 94.2,253.4 94.2,248.7 94.3,246.3 94.4,253.2 94.4,265.2 94.5,261.8 94.6,250.7 94.6,255.5 94.7,244.6 94.8,253.8 94.8,234.6 94.9,245.2 95,244.7 95.1,246.7 95.1,239.7 95.2,250.8 95.3,244.5 95.3,243.2 95.4,245.6 95.5,255.6 95.5,253 95.6,255.6 95.7,243.4 95.7,243 95.8,246.8 95.9,253.3 95.9,237.4 96,246.1 96.1,233.8 96.1,233.5 96.2,212.4 96.3,237.1 96.3,241.7 96.4,244.2 96.5,250.9 96.5,244.1 96.6,246.2 96.7,228.5 96.8,231.4 96.8,230.2 96.9,228.7 97,223.8 97,245.7 97.1,233.9 97.2,233.8 97.2,245.2 97.3,259.9 97.4,254 97.4,257 97.5,257.7 97.6,256.9 97.6,255.6 97.7,255.9 97.8,243.5 97.8,251.2 97.9,253 98,255.5 98,257.1 98.1,263 98.2,263.2 98.2,256 98.3,255.5 98.4,245.7 98.4,239.1 98.5,241.2 98.6,235.7 98.7,234.1 98.7,251.8 98.8,253.1 98.9,257 98.9,247 99,243.2 99.1,248.8 99.1,256.9 99.2,246.4 99.3,252 99.3,254.3 99.4,249.1 99.5,252 99.5,238.5 99.6,258.6 99.7,273.3 99.7,272.9 99.8,260.9 99.9,262.5 99.9,254 100,259.6 100.1,257.8 100.1,240.4 100.2,254.5 100.3,251.9 100.4,252.7 100.4,262.1 100.5,254.4 100.6,268.7 100.6,270.4 100.7,290.4 100.8,287.8 100.8,297.7 100.9,284.6 101,288.2 101,298.1 101.1,279.7 101.2,276.6 101.2,274.8 101.3,263.5 101.4,269.8 101.4,270.1 101.5,273.6 101.6,271.1 101.6,268 101.7,273.5 101.8,283.5 101.8,280.5 101.9,282.7 102,216.8 102,274.1 102.1,285.7 102.2,271.2 102.3,268.7 102.3,271.4 102.4,263.2 102.5,272.8 102.5,278.4 102.6,269.4 102.7,271 102.7,252.9 102.8,262.8 102.9,261.5 102.9,267.8 103,242.7 103.1,245.1 103.1,248.2 103.2,243 103.3,236.5 103.3,238.9 103.4,245.6 103.5,248.8 103.5,240.1 103.6,242.5 103.7,236.3 103.7,241.1 103.8,241.8 103.9,249.6 104,241.7 104,247.6 104.1,234.6 104.2,252.1 104.2,235.2 104.3,243.2 104.4,249.1 104.4,240 104.5,245.6 104.6,238.4 104.6,241 104.7,234.9 104.8,244.5 104.8,235.9 104.9,259 105,235 105,231.5 105.1,241 105.2,234.4 105.2,227.8 105.3,238.9 105.4,234 105.4,237.8 105.5,229.9 105.6,228.7 105.6,231.8 105.7,233.3 105.8,238.5 105.9,246 105.9,243.4 106,239.4 106.1,243.9 106.1,250.6 106.2,251.2 106.3,236.1 106.3,242.5 106.4,253.7 106.5,249.2 106.5,258.1 106.6,248.1 106.7,235.8 106.7,220.4 106.8,225.1 106.9,227.7 106.9,224.9 107,230.3 107.1,225.2 107.1,228.1 107.2,216.8 107.3,223.7 107.3,228.3 107.4,219.8 107.5,225.4 107.6,232.3 107.6,234.1 107.7,228.7 107.8,233.7 107.8,246.8 107.9,244.6 108,253.1 108,237.4 108.1,239.5 108.2,242 108.2,238.7 108.3,233.8 108.4,239.6 108.4,231.4 108.5,231.5 108.6,233.2 108.6,240.7 108.7,228.6 108.8,231 108.8,237.6 108.9,248.8 109,241.6 109,255.2 109.1,254.2 109.2,276.2 109.3,263.3 109.3,267.5 109.4,268.7 109.5,262.7 109.5,250.3 109.6,271.4 109.7,253.2 109.7,254.9 109.8,259.1 109.9,267 109.9,261.9 110,261.1 110.1,256.2 110.1,266.6 110.2,258.4 110.3,263 110.3,265.9 110.4,248.1 110.5,244.6 110.5,249.8 110.6,260.1 110.7,276.1 110.7,287.8 110.8,274.9 110.9,262.8 110.9,268.3 111,267.9 111.1,267.9 111.2,273.8 111.2,277.7 111.3,277.8 111.4,273.4 111.4,270.7 111.5,264.5 111.6,264.9 111.6,267 111.7,257 111.8,251.6 111.8,257.1 111.9,255.7 112,249.6 112,240.2 112.1,234.8 112.2,244.3 112.2,233.8 112.3,250.6 112.4,251.1 112.4,236.4 112.5,249.9 112.6,235.3 112.6,247.9 112.7,254.5 112.8,260.1 112.9,270.8 112.9,273 113,256 113.1,270.7 113.1,250.5 113.2,257.6 113.3,253.7 113.3,256.6 113.4,253.2 113.5,262.6 113.5,251 113.6,242.7 113.7,242.1 113.7,237.9 113.8,236.2 113.9,231.5 113.9,237.1 114,262.6 114.1,264.1 114.1,274.4 114.2,272.1 114.3,254.1 114.3,238.1 114.4,244.9 114.5,243.5 114.5,230.8 114.6,237.5 114.7,249.1 114.8,252.3 114.8,253.1 114.9,234.6 115,230.4 115,234.4 115.1,232.3 115.2,235 115.2,230.1 115.3,235 115.4,236.1 115.4,240.2 115.5,230.8 115.6,225.6 115.6,230.6 115.7,229 115.8,245.9 115.8,244.4 115.9,253.4 116,256.6 116,234.1 116.1,230.4 116.2,231.3 116.2,233.4 116.3,227.9 116.4,248.6 116.5,228 116.5,243.1 116.6,240.8 116.7,244.5 116.7,254 116.8,251.9 116.9,250.8 116.9,251.3 117,251.1 117.1,246.3 117.1,239.7 117.2,238.6 117.3,219.8 117.3,237.5 117.4,252.6 117.5,243.1 117.5,247.7 117.6,243.5 117.7,237.8 117.7,229.2 117.8,224.8 117.9,228.9 117.9,228.9 118,244.5 118.1,245.7 118.1,232.4 118.2,243.7 118.3,244.2 118.4,230.9 118.4,237.1 118.5,252 118.6,242.8 118.6,229.4 118.7,228.1 118.8,229.6 118.8,237.9 118.9,232 119,230.6 119,240.3 119.1,249.7 119.2,241.3 119.2,244 119.3,245.7 119.4,258.5 119.4,240.4 119.5,249.2 119.6,244.4 119.6,246 119.7,240.3 119.8,249.2 119.8,233.8 119.9,226.8 120,237.7 120.1,242.4 120.1,229 120.2,239.3 120.3,245.6 120.3,261.6 120.4,271.1 120.5,253.4 120.5,254.3 120.6,255.2 120.7,242.5 120.7,239.2 120.8,241.6 120.9,245.5 120.9,240.6 121,248 121.1,244.9 121.1,226.3 121.2,227.6 121.3,225 121.3,214.4 121.4,228.7 121.5,241 121.5,233.3 121.6,233.5 121.7,248.4 121.7,232.9 121.8,239.5 121.9,235.5 122,222.1 122,239.8 122.1,236.1 122.2,238.6 122.2,237.7 122.3,234.3 122.4,228.7 122.4,239.6 122.5,245.8 122.6,245.4 122.6,251.6 122.7,237.4 122.8,236.3 122.8,231.1 122.9,237.9 123,239.2 123,241.7 123.1,243.7 123.2,248.2 123.2,252.3 123.3,263.4 123.4,252 123.4,267.2 123.5,260.5 123.6,257.9 123.7,270.7 123.7,253.5 123.8,261.5 123.9,238.4 123.9,234.1 124,248.4 124.1,252.5 124.1,254.4 124.2,245.5 124.3,210.9 124.3,254.3 124.4,254 124.5,260.6 124.5,260.3 124.6,250 124.7,257.1 124.7,256.5 124.8,258.8 124.9,252 124.9,243.8 125,247.5 125.1,256 125.1,253.9 125.2,254.2 125.3,248.1 125.4,241.6 125.4,260.6 125.5,244 125.6,280.1 125.6,261.7 125.7,259 125.8,269.3 125.8,260.3 125.9,256.9 126,269.5 126,266.8 126.1,266.5 126.2,275.6 126.2,271.4 126.3,264.1 126.4,260.7 126.4,270.6 126.5,265 126.6,281.3 126.6,271 126.7,262.6 126.8,252.9 126.8,262.7 126.9,258.9 127,258.3 127,261.7 127.1,268.9 127.2,254.9 127.3,270.6 127.3,259.7 127.4,251.6 127.5,252.9 127.5,242.9 127.6,240.1 127.7,232.3 127.7,249 127.8,247.1 127.9,243 127.9,232.1 128,236.3 128.1,243.4 128.1,238.8 128.2,239.6 128.3,252 128.3,251.6 128.4,250.2 128.5,244.8 128.5,251.3 128.6,247.7 128.7,243.2 128.7,253.9 128.8,253.7 128.9,250 129,251.7 129,256.1 129.1,258.3 129.2,243.6 129.2,228.8 129.3,232.8 129.4,233.5 129.4,241.1 129.5,252 129.6,254.8 129.6,249.1 129.7,246.8 129.8,245.1 129.8,231.1 129.9,239.7 130,243.7 130,249.5 130.1,235 130.2,256.9 130.2,239 130.3,245.3 130.4,230.5 130.4,249.7 130.5,246 130.6,229.5 130.6,235.4 130.7,237.8 130.8,237.3 130.9,255.5 130.9,244.1 131,244.9 131.1,238 131.1,231.7 131.2,242.5 131.3,243.6 131.3,240.3 131.4,259.6 131.5,259.3 131.5,240.4 131.6,251.1 131.7,248.3 131.7,253 131.8,245.1 131.9,240.1 131.9,231.9 132,233.1 132.1,244 132.1,222.9 132.2,232 132.3,243.8 132.3,244.6 132.4,244.4 132.5,231.8 132.6,229.7 132.6,232.3 132.7,238.1 132.8,232.7 132.8,236.6 132.9,240.1 133,233.9 133,240.5 133.1,244.8 133.2,233.9 133.2,235.5 133.3,233.7 133.4,236 133.4,234.7 133.5,249.6 133.6,237.9 133.6,242.3 133.7,243.5 133.8,251.1 133.8,227.4 133.9,230 134,231.3 134,244.7 134.1,237.7 134.2,238.5 134.2,242.9 134.3,229.9 134.4,244.5 134.5,235.9 134.5,239.9 134.6,241.1 134.7,256.7 134.7,237.7 134.8,245.6 134.9,250.9 134.9,252.7 135,242.3 135.1,260.7 135.1,261.3 135.2,261.2 135.3,253.4 135.3,255.9 135.4,256.5 135.5,236 135.5,238 135.6,239.7 135.7,232.4 135.7,231.8 135.8,238.3 135.9,225.6 135.9,237.4 136,219.9 136.1,227.2 136.2,226.9 136.2,236.8 136.3,242.7 136.4,250.1 136.4,259.5 136.5,265.1 136.6,262.7 136.6,254.7 136.7,248 136.8,241.6 136.8,251.9 136.9,258.9 137,266.2 137,259.4 137.1,263.7 137.2,247.3 137.2,257.1 137.3,264 137.4,249.3 137.4,241.9 137.5,246.6 137.6,240 137.6,237.7 137.7,252.8 137.8,239.1 137.9,252.8 137.9,239.1 138,238.9 138.1,242.7 138.1,232.5 138.2,230.1 138.3,232.7 138.3,235.1 138.4,246.1 138.5,244.6 138.5,235.5 138.6,238 138.7,244.7 138.7,243.4 138.8,253.1 138.9,257.7 138.9,251.1 139,252.3 139.1,252.5 139.1,235.5 139.2,236.1 139.3,240.9 139.3,251.8 139.4,256.3 139.5,251.3 139.5,258.6 139.6,259.6 139.7,258.6 139.8,262.9 139.8,251.8 139.9,246.1 140,254.8 140,259.1 140.1,262.3 140.2,267.9 140.2,277.8 140.3,266.8 140.4,263 140.4,250.7 140.5,255.4 140.6,250.4 140.6,236.9 140.7,242.5 140.8,244.9 140.8,249.8 140.9,246.2 141,239.1 141,232.7 141.1,240.9 141.2,240.6 141.2,256.6 141.3,255.6 141.4,263.1 141.5,256.1 141.5,257.4 141.6,254.2 141.7,250.3 141.7,251.1 141.8,250.1 141.9,241.5 141.9,263.2 142,256.1 142.1,262.8 142.1,255.5 142.2,262 142.3,240.4 142.3,241.2 142.4,252.8 142.5,249.1 142.5,247.4 142.6,254.4 142.7,246.2 142.7,234.2 142.8,255.9 142.9,257.9 142.9,261.6 143,256.2 143.1,253.8 143.1,248.9 143.2,268 143.3,263 143.4,261.1 143.4,253.9 143.5,252.9 143.6,266.8 143.6,274.1 143.7,267.8 143.8,263.3 143.8,267.3 143.9,247.6 144,241.5 144,244 144.1,256.8 144.2,250.6 144.2,246.5 144.3,238.4 144.4,234.7 144.4,237.4 144.5,249.2 144.6,240.2 144.6,236.7 144.7,235.6 144.8,257.6 144.8,249.9 144.9,253.6 145,254.6 145.1,257.6 145.1,267 145.2,247.7 145.3,245.8 145.3,257.3 145.4,259.7 145.5,259.9 145.5,271.3 145.6,245.6 145.7,270.8 145.7,264 145.8,271.9 145.9,271.5 145.9,276.4 146,275.8 146.1,262.9 146.1,259.8 146.2,267.8 146.3,255.5 146.3,245.7 146.4,272.4 146.5,253 146.5,239.9 146.6,247 146.7,247.7 146.7,261.1 146.8,261.6 146.9,251.7 147,243.6 147,245.7 147.1,245.2 147.2,239.3 147.2,243.3 147.3,236.4 147.4,243 147.4,244.8 147.5,249.9 147.6,228.3 147.6,231.4 147.7,227.1 147.8,221.3 147.8,232.7 147.9,234 148,239.9 148,242.8 148.1,259.9 148.2,244.3 148.2,248.2 148.3,245.8 148.4,248.9 148.4,248.8 148.5,252.9 148.6,246.2 148.7,236.5 148.7,257.1 148.8,263.2 148.9,259.3 148.9,268 149,261.3 149.1,256.3 149.1,254 149.2,264.3 149.3,260.8 149.3,261.7 149.4,260.9 149.5,273 149.5,260.3 149.6,244.1 149.7,252.4 149.7,255.7 149.8,260.7 149.9,261.6 149.9,269.6 150,264.3 150.1,257.7 150.1,259.2 150.2,250.9 150.3,256.3 150.3,244.5 150.4,247.5 150.5,248.1 150.6,246 150.6,243.3 150.7,256.3 150.8,260.2 150.8,256.8 150.9,262.2 151,265.6 151,250.8 151.1,255.5 151.2,244.5 151.2,255.1 151.3,253.7 151.4,235.2 151.4,243.1 151.5,248 151.6,243.4 151.6,245.3 151.7,235.9 151.8,236 151.8,238.2 151.9,235.7 152,252.5 152,241.2 152.1,260.4 152.2,240.4 152.3,244.8 152.3,263.8 152.4,239.7 152.5,244 152.5,243.4 152.6,234.7 152.7,250.3 152.7,252.5 152.8,265.5 152.9,263.1 152.9,258.2 153,256.1 153.1,262.4 153.1,243.2 153.2,252.1 153.3,245.7 153.3,250.6 153.4,254.7 153.5,239.7 153.5,251.1 153.6,245.3 153.7,244.7 153.7,255.7 153.8,257.9 153.9,250.8 154,233.6 154,240.4 154.1,231 154.2,232.5 154.2,239.6 154.3,226.5 154.4,235.5 154.4,231.1 154.5,241.1 154.6,238 154.6,235.3 154.7,234.8 154.8,227.6 154.8,242.6 154.9,249.9 155,247.7 155,237.3 155.1,233.1 155.2,239.8 155.2,229 155.3,238.1 155.4,245.1 155.4,246.3 155.5,253.5 155.6,265 155.6,265.8 155.7,250.2 155.8,256.2 155.9,251.2 155.9,248.1 156,247.5 156.1,230.3 156.1,234.2 156.2,245 156.3,241.7 156.3,263.8 156.4,245.3 156.5,256.8 156.5,259.3 156.6,258 156.7,256.7 156.7,263.4 156.8,256.1 156.9,264.5 156.9,257.9 157,264.6 157.1,255.3 157.1,255.5 157.2,251.7 157.3,254 157.3,263 157.4,277.4 157.5,266.5 157.6,274.5 157.6,270.5 157.7,264 157.8,262.5 157.8,270.9 157.9,253.3 158,265.3 158,249.9 158.1,249.4 158.2,252.3 158.2,247.7 158.3,244.3 158.4,245.1 158.4,250.1 158.5,248.8 158.6,223.7 158.6,222.5 158.7,231.8 158.8,240.4 158.8,242.5 158.9,246.7 159,246.5 159,245.8 159.1,239.5 159.2,234.1 159.2,237.5 159.3,231.6 159.4,233.5 159.5,253.1 159.5,262.1 159.6,248.1 159.7,235.2 159.7,245.2 159.8,235.5 159.9,240.4 159.9,237.1 160,242.3 160.1,231.6 160.1,245.8 160.2,238.7 160.3,248 160.3,256.7 160.4,241 160.5,247.6 160.5,257.7 160.6,245.3 160.7,235.9 160.7,254.6 160.8,241.5 160.9,240.4 160.9,258.2 161,251.3 161.1,240.6 161.2,239.5 161.2,237.8 161.3,253.8 161.4,243.3 161.4,252.1 161.5,237.3 161.6,235.7 161.6,239.1 161.7,241.6 161.8,230.6 161.8,235 161.9,234.7 162,228.1 162,224.5 162.1,236.6 162.2,237 162.2,216.1 162.3,242.8 162.4,245.8 162.4,241.7 162.5,223 162.6,235 162.6,243.4 162.7,238.4 162.8,240.9 162.8,240.4 162.9,225.9 163,236.2 163.1,224.3 163.1,231.8 163.2,239.5 163.3,233.4 163.3,236.2 163.4,243.3 163.5,252.9 163.5,247.3 163.6,253.1 163.7,254 163.7,242.3 163.8,203.8 163.9,207.9 163.9,243.3 164,243.4 164.1,240.6 164.1,251.4 164.2,255 164.3,242.4 164.3,249.8 164.4,246.3 164.5,276.6 164.5,262.4 164.6,243.2 164.7,245.3 164.8,236.5 164.8,232.1 164.9,240 165,257.2 165,245.8 165.1,234.8 165.2,235.8 165.2,229.6 165.3,220.9 165.4,246.7 165.4,230.3 165.5,232.9 165.6,234.3 165.6,240.6 165.7,254.1 165.8,239 165.8,246.1 165.9,250 166,242.3 166,232.6 166.1,243.6 166.2,243.4 166.2,247.2 166.3,260.2 166.4,254.2 166.5,248.4 166.5,249.5 166.6,253.7 166.7,254.7 166.7,251.8 166.8,251.4 166.9,243.1 166.9,244.8 167,239.8 167.1,247.9 167.1,261.3 167.2,255.5 167.3,247.7 167.3,246.1 167.4,251.3 167.5,244.6 167.5,253.7 167.6,261.5 167.7,256.5 167.7,262.1 167.8,252.4 167.9,248 167.9,238.7 168,250.9 168.1,254.7 168.1,267.8 168.2,270.8 168.3,266.2 168.4,254.2 168.4,257.3 168.5,264.8 168.6,246.5 168.6,240 168.7,243.1 168.8,245.1 168.8,231.5 168.9,251 169,242.2 169,258.2 169.1,236.5 169.2,244.6 169.2,239.1 169.3,246.6 169.4,254 169.4,263.2 169.5,270.5 169.6,267.9 169.6,254.3 169.7,273.4 169.8,268.4 169.8,262.6 169.9,254.8 170,263.3 170.1,248.8 170.1,258.2 170.2,269.7 170.3,275.7 170.3,284.5 170.4,285.7 170.5,284.2 170.5,285 170.6,286.7 170.7,281.6 170.7,286.9 170.8,283.9 170.9,288.7 170.9,283.3 171,297.7 171.1,290.9 171.1,259.6 171.2,254.9 171.3,259.9 171.3,274.3 171.4,268.1 171.5,266.8 171.5,271.6 171.6,267.1 171.7,267.9 171.7,266.4 171.8,263.3 171.9,262.2 172,272.9 172,277.8 172.1,277.3 172.2,270.4 172.2,270 172.3,270.6 172.4,266.4 172.4,267 172.5,266.3 172.6,257.7 172.6,245.9 172.7,250.8 172.8,249.1 172.8,246.4 172.9,235 173,257 173,260.9 173.1,266.4 173.2,273.1 173.2,260.9 173.3,263.3 173.4,257.3 173.4,247.8 173.5,247.9 173.6,263.5 173.7,251.8 173.7,254.4 173.8,247.8 173.9,243.6 173.9,250.4 174,259.8 174.1,255.2 174.1,244.8 174.2,247.9 174.3,239.6 174.3,252.3 174.4,237 174.5,248 174.5,251.6 174.6,232.2 174.7,235.9 174.7,233.6 174.8,223.3 174.9,227.8 174.9,234.9 175,251.2 175.1,251.5 175.1,253.9 175.2,249.1 175.3,236.6 175.3,232.9 175.4,235 175.5,244.2 175.6,236.7 175.6,230.2 175.7,224.6 175.8,213.8 175.8,218.6 175.9,223.5 176,223.5 176,241.9 176.1,226.6 176.2,240.6 176.2,243.7 176.3,257.5 176.4,252.5 176.4,239.9 176.5,227 176.6,250.4 176.6,249 176.7,245.6 176.8,234.5 176.8,227.5 176.9,248 177,243.5 177,248.7 177.1,251.1 177.2,232.6 177.3,232.9 177.3,245.6 177.4,249.2 177.5,244.1 177.5,236.9 177.6,235.2 177.7,236 177.7,257.9 177.8,266.8 177.9,263.4 177.9,263.6 178,274.8 178.1,261.6 178.1,247.8 178.2,243.2 178.3,249.1 178.3,243.1 178.4,246.6 178.5,245.6 178.5,251.5 178.6,244.6 178.7,252.7 178.7,247.3 178.8,232.3 178.9,235.1 178.9,233.5 179,215.4 179.1,223.7 179.2,222.4 179.2,236.4 179.3,251 179.4,256.2 179.4,261.9 179.5,256 179.6,252.4 179.6,259.4 179.7,249.4 179.8,263.3 179.8,259.9 179.9,260.8 180,259.4 180,266.9 180.1,255.6 180.2,263.2 180.2,258.7 180.3,263.7 180.4,269.2 180.4,264 180.5,260.4 180.6,251 180.6,256.2 180.7,263 180.8,250.3 180.9,252.3 180.9,254.6 181,244.7 181.1,254.7 181.1,248.4 181.2,250.9 181.3,251.4 181.3,238.8 181.4,232.8 181.5,233.8 181.5,223.5 181.6,225.9 181.7,224.8 181.7,239.9 181.8,227.8 181.9,247.8 181.9,242.8 182,262.1 182.1,250.6 182.1,242.6 182.2,235.1 182.3,252.2 182.3,248.1 182.4,251.7 182.5,246.5 182.6,247.4 182.6,228.4 182.7,219.4 182.8,211.7 182.8,228.5 182.9,239.2 183,244.5 183,246.2 183.1,239.6 183.2,238.9 183.2,254.8 183.3,259.2 183.4,250.1 183.4,256.1 183.5,248.1 183.6,240.8 183.6,242.5 183.7,235.6 183.8,243.3 183.8,234 183.9,238.7 184,231.9 184,250.4 184.1,234.3 184.2,245.4 184.2,238.5 184.3,238.5 184.4,225.9 184.5,236.5 184.5,247.7 184.6,257.1 184.7,265.2 184.7,262.9 184.8,264.4 184.9,269.3 184.9,253.8 185,231.2 185.1,235.9 185.1,226.5 185.2,233.3 185.3,231.1 185.3,228.9 185.4,228.9 185.5,234.4 185.5,236.5 185.6,240.6 185.7,249.8 185.7,224 185.8,238.2 185.9,246.2 185.9,229 186,238.9 186.1,240.3 186.2,231.5 186.2,225.2 186.3,235.2 186.4,235.2 186.4,224 186.5,232.6 186.6,237.4 186.6,242.9 186.7,273 186.8,249.2 186.8,259.8 186.9,244.1 187,235.7 187,231.3 187.1,228.4 187.2,241.9 187.2,250 187.3,253.8 187.4,248.7 187.4,245.2 187.5,240.4 187.6,230.1 187.6,212.5 187.7,209.5 187.8,221.7 187.8,218 187.9,223.7 188,232.6 188.1,237.6 188.1,235.4 188.2,231.2 188.3,238.2 188.3,238.6 188.4,231.9 188.5,222.5 188.5,220 188.6,229.7 188.7,227.6 188.7,224.9 188.8,217.7 188.9,223.3 188.9,240.4 189,238.8 189.1,225.5 189.1,225.6 189.2,233.5 189.3,233.7 189.3,235.5 189.4,220.7 189.5,222.4 189.5,218.2 189.6,223.7 189.7,220.7 189.8,222.1 189.8,217 189.9,212.9 190,208.3 190,209.2 190.1,211 190.2,217.9 190.2,216.5 190.3,224.6 190.4,230.3 190.4,215.3 190.5,216 190.6,229 190.6,235.5 190.7,241.1 190.8,249.9 190.8,235.3 190.9,244.6 191,242.5 191,241 191.1,251.9 191.2,252.8 191.2,250.5 191.3,250.2 191.4,247.9 191.4,249.3 191.5,239.6 191.6,226.4 191.7,223.2 191.7,227.2 191.8,230.6 191.9,223.7 191.9,214.5 192,230.2 192.1,226.5 192.1,234.2 192.2,239.5 192.3,229.2 192.3,235.5 192.4,233.2 192.5,234.5 192.5,233.8 192.6,222.4 192.7,215.1 192.7,220.8 192.8,235.3 192.9,226.4 192.9,244.5 193,227.4 193.1,240.9 193.1,227.7 193.2,217.8 193.3,242.9 193.4,231.6 193.4,223.7 193.5,242.3 193.6,261.7 193.6,250.2 193.7,236.7 193.8,246.9 193.8,241.1 193.9,239.6 194,237.1 194,231.7 194.1,225.3 194.2,230.1 194.2,229.8 194.3,225.5 194.4,224.5 194.4,230.8 194.5,237.8 194.6,241.3 194.6,234 194.7,232.4 194.8,220.4 194.8,223 194.9,234.9 195,235.9 195.1,219.6 195.1,219.3 195.2,216 195.3,223.2 195.3,225.8 195.4,223.8 195.5,224.8 195.5,227.7 195.6,236.9 195.7,227.2 195.7,247.7 195.8,231.9 195.9,224.8 195.9,244.3 196,236.3 196.1,229.9 196.1,229.2 196.2,223.9 196.3,213.3 196.3,218.9 196.4,231.7 196.5,243.8 196.5,230.5 196.6,253.1 196.7,245.5 196.7,228.6 196.8,223.5 196.9,226.5 197,234.1 197,245.4 197.1,245.7 197.2,237.5 197.2,220.6 197.3,229.3 197.4,229.9 197.4,240.1 197.5,240.7 197.6,244.2 197.6,234.5 197.7,247 197.8,252.5 197.8,239.2 197.9,239.6 198,241.9 198,251.2 198.1,220.2 198.2,227.3 198.2,224.4 198.3,223.3 198.4,218.3 198.4,217.3 198.5,225.8 198.6,239.1 198.7,232.3 198.7,225.9 198.8,243 198.9,251.6 198.9,249.8 199,252.6 199.1,253.1 199.1,262.8 199.2,254.5 199.3,257.8 199.3,251.3 199.4,246.8 199.5,235.8 199.5,242.9 199.6,260.9 199.7,244.5 199.7,234 199.8,239.7 199.9,256.6 199.9,252.9 200,253.1 200.1,250.8 200.1,256.1 200.2,257 200.3,251.8 200.3,244.6 200.4,247.8 200.5,251.6 200.6,259.2 200.6,230.8 200.7,236.8 200.8,251.4 200.8,227.4 200.9,225 201,241.8 201,240.4 201.1,238.1 201.2,237.2 201.2,240.6 201.3,243 201.4,241.5 201.4,245.1 201.5,243.7 201.6,251.3 201.6,247.6 201.7,248.5 201.8,251.3 201.8,242.9 201.9,247.1 202,242.5 202,239.5 202.1,243.5 202.2,239.6 202.3,229.8 202.3,237.4 202.4,247 202.5,244.2 202.5,245.6 202.6,231.3 202.7,233.2 202.7,221.5 202.8,236.3 202.9,258.3 202.9,235.4 203,242 203.1,238 203.1,230.3 203.2,226.4 203.3,233.3 203.3,221.9 203.4,229 203.5,232.5 203.5,223.5 203.6,225 203.7,229.8 203.7,240.2 203.8,225.3 203.9,236.5 203.9,234.8 204,241.6 204.1,229.9 204.2,231.7 204.2,239.6 204.3,245.2 204.4,256.2 204.4,236.6 204.5,251.8 204.6,253.2 204.6,243.1 204.7,245 204.8,238.3 204.8,248.4 204.9,247 205,245.4 205,249.6 205.1,243.1 205.2,249.9 205.2,241.1 205.3,236.8 205.4,229.7 205.4,231.5 205.5,233.4 205.6,246.1 205.6,249.8 205.7,254.8 205.8,240 205.9,243.5 205.9,250.2 206,245.3 206.1,246.8 206.1,258.8 206.2,242.9 206.3,253.1 206.3,241 206.4,235.9 206.5,233.4 206.5,225.5 206.6,229 206.7,226.5 206.7,238.1 206.8,248.8 206.9,251.3 206.9,257.9 207,256.2 207.1,250.8 207.1,246.1 207.2,231.2 207.3,233.1 207.3,223.1 207.4,217.7 207.5,232.4 207.5,246.6 207.6,239.3 207.7,230.8 207.8,233.1 207.8,238.9 207.9,239.7 208,232.7 208,231.2 208.1,230.9 208.2,233.8 208.2,238.1 208.3,230.1 208.4,228.2 208.4,232.9 208.5,229.4 208.6,226.4 208.6,239.4 208.7,232.3 208.8,225.6 208.8,217.7 208.9,213 209,217.6 209,216.2 209.1,224.1 209.2,209.2 209.2,215.7 209.3,208 209.4,208.1 209.5,211.7 209.5,221.6 209.6,219.4 209.7,234.6 209.7,226.1 209.8,236.3 209.9,234.5 209.9,233.4 210,232.3 210.1,233.7 210.1,237.2 210.2,237.1 210.3,241.1 210.3,243 210.4,241.2 210.5,243.3 210.5,252.3 210.6,249 210.7,246.6 210.7,242 210.8,232.5 210.9,236.8 210.9,218.5 211,217.6 211.1,216.8 211.2,224.7 211.2,217.2 211.3,235.8 211.4,239.4 211.4,242.6 211.5,235 211.6,233.6 211.6,236.4 211.7,247.1 211.8,243.8 211.8,251.7 211.9,249.6 212,245.1 212,244.6 212.1,228.2 212.2,240.1 212.2,226.2 212.3,220.4 212.4,245.8 212.4,234.9 212.5,242.4 212.6,246.8 212.6,248.4 212.7,234.5 212.8,245.3 212.8,254 212.9,251.2 213,235.7 213.1,237.5 213.1,235 213.2,241.9 213.3,232.4 213.3,228.8 213.4,228.9 213.5,220.1 213.5,223 213.6,236.5 213.7,235.9 213.7,250.4 213.8,250.2 213.9,252.9 213.9,240.1 214,259.7 214.1,244.6 214.1,248.6 214.2,238.8 214.3,240.8 214.3,260.6 214.4,264.9 214.5,262 214.5,256.7 214.6,245.6 214.7,266.2 214.8,253 214.8,244.2 214.9,253.8 215,260.2 215,246.3 215.1,240.6 215.2,241.4 215.2,239.6 215.3,231.1 215.4,230.9 215.4,235.5 215.5,226.3 215.6,233.7 215.6,240.6 215.7,227.7 215.8,251.1 215.8,244.2 215.9,233.6 216,243.1 216,243.2 216.1,245.8 216.2,225.9 216.2,229.8 216.3,239.9 216.4,242.7 216.4,232.3 216.5,241.5 216.6,235.4 216.7,231 216.7,234.1 216.8,233.5 216.9,245.2 216.9,247.6 217,235.1 217.1,232.1 217.1,228.3 217.2,222.8 217.3,237.2 217.3,247.7 217.4,236.2 217.5,229.5 217.5,227 217.6,233.1 217.7,224.2 217.7,231.2 217.8,220.6 217.9,212.4 217.9,220.9 218,215 218.1,227.2 218.1,239.9 218.2,241.7 218.3,227.3 218.4,229.7 218.4,253.6 218.5,250.9 218.6,245.2 218.6,259 218.7,247.1 218.8,236" fill="none" stroke="#0f78cd" stroke-width="0.6" stroke-linejoin="round" clip-path="url(#c3)"/>
<path d="M42.2,304.4h0M42.3,310.4h0M42.3,295.6h0M42.4,299h0M42.5,303h0M42.8,301h0M42.9,301.7h0M43,293.3h0M43.1,293.1h0M43.2,283.4h0M43.2,278.7h0M43.4,283.9h0M43.4,279.8h0M43.6,290.6h0M43.6,294.7h0M43.7,282.4h0M43.8,308.6h0M43.8,286.9h0M44,287.4h0M44,291.1h0M44.2,285.9h0M44.2,274.8h0M44.3,277.2h0M44.4,266.1h0M44.4,277.5h0M44.6,285h0M44.6,282.7h0M44.7,279.8h0M44.8,276h0M44.9,297.9h0M45,280.1h0M45.1,281.2h0M45.2,284.3h0M45.3,283h0M45.3,288.1h0M45.4,271.1h0M45.5,267.6h0M45.6,276.8h0M45.7,284.7h0M45.7,278.4h0M45.8,283.7h0M45.9,273.8h0M45.9,273.6h0M46,277.9h0M46.1,281.4h0M46.2,280.4h0M46.3,276.8h0M46.3,271.9h0M46.5,281.5h0M46.6,279.9h0M46.8,276h0M46.8,295h0M46.9,283.8h0M47,256.3h0M47,277.5h0M47.1,277.7h0M47.2,273.3h0M47.2,277.6h0M47.4,250.8h0M47.4,283.8h0M47.5,273.5h0M47.7,281.3h0M47.8,272.9h0M47.8,270.1h0M47.9,278.8h0M48,272.7h0M48.1,290.1h0M48.2,285h0M48.2,283.3h0M48.4,270.4h0M48.5,292.9h0M48.6,279.8h0M48.7,283.3h0M48.7,285.1h0M48.8,279.9h0M48.9,271.3h0M48.9,293.7h0M49,281.5h0M49.1,283.4h0M49.3,285.2h0M49.3,273.4h0M49.4,298h0M49.5,290.8h0M49.6,279.1h0M49.7,281.6h0M49.7,280.9h0M49.9,266.9h0M50,261.5h0M50.1,277.6h0M50.2,284.7h0M50.3,277.7h0M50.4,277.1h0M50.5,280.4h0M50.6,259h0M50.6,276.2h0M50.7,274.2h0M50.8,275.8h0M50.9,277.4h0M51,268.4h0M51.1,284.1h0M51.2,290.7h0M51.2,276.9h0M51.3,287.6h0M51.4,281.8h0M51.4,290.3h0M51.5,281.9h0M51.6,284.5h0M51.6,298h0M51.7,280.2h0M51.8,278.3h0M51.9,285.3h0M52.1,281.7h0M52.1,285.4h0M52.2,281.3h0M52.3,254.9h0M52.4,276.9h0M52.6,280.8h0M52.7,279.3h0M52.8,278.6h0M52.9,291.7h0M52.9,277.6h0M53,263.7h0M53.1,282.9h0M53.1,271h0M53.2,285h0M53.3,272.8h0M53.3,284.7h0M53.4,276.2h0M53.5,276.2h0M53.6,279.3h0M53.7,286.7h0M53.7,291.4h0M53.8,280.6h0M53.9,289h0M54,293.7h0M54,294.9h0M54.2,295.5h0M54.2,281.8h0M54.3,287.2h0M54.4,292.5h0M54.6,288.1h0M54.6,294.9h0M54.8,290.3h0M54.8,292.3h0M54.9,282.9h0M55,281.7h0M55,280.3h0M55.1,279.6h0M55.2,274.1h0M55.2,278.4h0M55.3,264.8h0M55.4,273.2h0M55.5,276.9h0M55.6,280.9h0M55.7,300.3h0M55.7,292.8h0M55.9,284.2h0M55.9,284.7h0M56,299.7h0M56.1,287.8h0M56.1,290.4h0M56.2,296.1h0M56.3,287.7h0M56.3,288.1h0M56.4,284.9h0M56.5,285.2h0M56.5,273.8h0M56.6,272.5h0M56.7,266.3h0M56.8,267h0M56.9,272.3h0M57,279.3h0M57.1,285.3h0M57.1,280.4h0M57.3,295.4h0M57.3,277.2h0M57.4,300.6h0M57.5,280.8h0M57.6,293.6h0M57.6,293.6h0M57.7,288.3h0M57.8,287.2h0M57.9,294.5h0M58,296.2h0M58.1,283.7h0M58.2,300.8h0M58.2,304.8h0M58.3,277.8h0M58.4,292.8h0M58.6,273.2h0M58.7,285.6h0M58.8,272.7h0M58.9,276.6h0M59,286.9h0M59,286.7h0M59.1,290.3h0M59.2,281.1h0M59.3,282.3h0M59.3,286.4h0M59.4,294.8h0M59.5,280.9h0M59.6,293.3h0M59.7,285.4h0M59.9,291.9h0M59.9,286.8h0M60,282.1h0M60.1,274.3h0M60.1,290h0M60.2,282h0M60.3,286.5h0M60.3,283.2h0M60.4,286.4h0M60.5,297.1h0M60.5,282.5h0M60.6,294.9h0M60.7,284.2h0M60.8,293.4h0M60.9,290.6h0M60.9,276.5h0M61.1,278.6h0M61.2,275.2h0M61.2,273.3h0M61.3,278.6h0M61.4,281.2h0M61.5,283.7h0M61.6,279.2h0M61.6,278.3h0M61.7,290.8h0M61.8,279.5h0M62,290.1h0M62,288.6h0M62.1,281.7h0M62.2,277.6h0M62.2,281.7h0M62.3,285.2h0M62.4,291.6h0M62.5,308.8h0M62.6,301h0M62.6,298.4h0M62.8,295.8h0M62.9,295.7h0M63.1,278.6h0M63.1,292.4h0M63.2,269.3h0M63.3,282.9h0M63.4,284.3h0M63.5,282.6h0M63.5,296.2h0M63.6,297.9h0M63.7,282.8h0M63.7,292.7h0M63.8,282.7h0M63.9,298.9h0M64,289.4h0M64.1,291.5h0M64.1,283.4h0M64.3,288.8h0M64.3,284.2h0M64.4,284.7h0M64.5,288h0M64.6,274.6h0M64.7,284h0M64.8,278.6h0M64.9,263.3h0M65,275.8h0M65,275.1h0M65.2,254.9h0M65.3,260.6h0M65.4,251.9h0M65.4,274.5h0M65.5,272.9h0M65.6,263.8h0M65.6,267.9h0M65.7,270.3h0M65.8,290.2h0M65.8,273.9h0M66.1,293.9h0M66.2,277h0M66.3,290.7h0M66.5,283.5h0M66.5,278.4h0M66.7,287.4h0M66.7,274.6h0M66.8,280h0M66.9,286.7h0M67,282.3h0M67.1,285.9h0M67.1,279.6h0M67.2,261.3h0M67.3,277.7h0M67.4,263.7h0M67.5,267.9h0M67.5,277.2h0M67.6,261.8h0M67.7,268.2h0M67.8,275.1h0M68,276.7h0M68.1,263.5h0M68.2,267.4h0M68.2,280.8h0M68.3,270h0M68.4,269.8h0M68.4,268h0M68.5,272h0M68.6,288.5h0M68.7,274.4h0M68.8,269.1h0M68.8,268.6h0M68.9,267.9h0M69,264.3h0M69.1,274.3h0M69.2,273.3h0M69.3,275.9h0M69.4,284h0M69.4,267.1h0M69.5,270.7h0M69.6,272.8h0M69.6,254.1h0M69.8,264.1h0M69.8,267.2h0M70.1,272.7h0M70.1,254.5h0M70.3,279.1h0M70.3,274.4h0M70.5,282h0M70.5,275.7h0M70.6,279.7h0M70.7,280.3h0M70.7,287h0M70.8,293h0M70.9,278.6h0M70.9,277.8h0M71,262.1h0M71.3,258.6h0M71.3,253.2h0M71.4,271h0M71.5,276.6h0M71.5,280.1h0M71.7,267.2h0M71.8,274.1h0M71.9,308.9h0M72,278.1h0M72,281h0M72.1,286.9h0M72.2,283h0M72.2,266.9h0M72.4,261.4h0M72.5,274.6h0M72.6,261.6h0M72.7,259.4h0M72.8,267.9h0M72.8,271.8h0M72.9,271.1h0M73,278.5h0M73.1,280.1h0M73.2,264.4h0M73.3,270h0M73.4,260.1h0M73.4,260h0M73.5,274h0M73.6,272.9h0M73.7,270.2h0M73.8,258h0M73.9,253h0M73.9,260.2h0M74.1,268.6h0M74.1,265.3h0M74.3,272.2h0M74.3,265.3h0M74.4,265.6h0M74.5,261.8h0M74.7,255.4h0M74.7,267.5h0M74.8,270.1h0M74.9,276.7h0M74.9,276.2h0M75,268.5h0M75.1,268.1h0M75.1,259.6h0M75.2,265.3h0M75.3,248.9h0M75.4,261h0M75.5,263.1h0M75.6,279.3h0M75.6,248.7h0M75.7,250.1h0M75.8,263.3h0M75.8,257.8h0M75.9,202.4h0M76,256h0M76,265h0M76.1,264.5h0M76.2,265.3h0M76.2,274.5h0M76.3,269.3h0M76.4,274h0M76.6,271.1h0M76.6,262.5h0M76.7,267.2h0M77,252.8h0M77,272.1h0M77.1,260.8h0M77.4,263.1h0M77.5,259.1h0M77.5,261h0M77.6,261.4h0M77.7,255.6h0M77.8,261.6h0M77.9,262.6h0M78,258.5h0M78.1,264.7h0M78.1,263h0M78.2,260.8h0M78.3,262.4h0M78.3,263.4h0M78.4,253.9h0M78.5,252.1h0M78.5,252.2h0M78.6,254.9h0M78.7,256.9h0M79,255.6h0M79,261h0M79.1,260.4h0M79.2,265.6h0M79.3,262.5h0M79.4,255.8h0M79.4,259h0M79.5,264.2h0M79.6,261.9h0M79.6,262.2h0M79.7,262.1h0M79.8,257.3h0M79.9,261.3h0M80,264.9h0M80,262.9h0M80.1,264.6h0M80.2,260.1h0M80.3,283.2h0M80.4,258.9h0M80.4,258.6h0M80.5,258.6h0M80.6,258.7h0M80.7,260.5h0M80.8,261.6h0M80.9,263.6h0M81.1,262h0M81.1,261h0M81.2,257.1h0M81.3,258h0M81.3,259.8h0M81.5,261.3h0M81.6,260.9h0M81.7,260h0M81.8,259.6h0M81.9,260.9h0M81.9,259.5h0M82,255.5h0M82.1,259.6h0M82.1,257.9h0M82.2,260.5h0M82.3,259.2h0M82.3,261h0M82.4,260.5h0M82.6,260.3h0M82.7,255h0M82.8,264.5h0M82.9,259.9h0M83,262.3h0M83,255.6h0M83.1,257.2h0M83.2,257.7h0M83.2,258.4h0M83.3,261.5h0M83.4,259.8h0M83.4,259.6h0M83.5,264.7h0M83.6,259h0M83.7,256.8h0M83.8,260.1h0M84,259.3h0M84,259.2h0M84.3,260.3h0M84.6,258h0M84.7,259.6h0M84.7,259.8h0M84.8,261.9h0M84.9,257.9h0M85.1,258.1h0M85.2,258.1h0M85.3,256h0M85.3,255.7h0M85.4,253.8h0M85.5,254.5h0M85.5,255.9h0M85.6,256.1h0M85.7,259.3h0M85.9,256.7h0M85.9,257.4h0M86,256.4h0M86.2,254.3h0M86.2,247.3h0M86.4,243.6h0M86.4,258.5h0M86.6,241.1h0M86.7,232.8h0M86.8,229.1h0M86.8,230.9h0M86.9,216.7h0M87,238h0M87,229.5h0M87.2,219.1h0M87.3,227.7h0M87.4,234.2h0M87.4,250.8h0M87.5,227.7h0M87.6,224.2h0M87.7,230.4h0M87.8,246.2h0M87.9,211.8h0M88,236.8h0M88.1,233.4h0M88.1,221.5h0M88.2,238.5h0M88.3,216.2h0M88.4,227.4h0M88.5,241.9h0M88.5,212.7h0M88.6,232.5h0M88.7,223.7h0M88.7,249.9h0M88.9,251.6h0M88.9,250.1h0M89,225.9h0M89.1,232h0M89.3,227.3h0M89.4,255.8h0M89.5,254.8h0M89.5,237.5h0M89.6,227.1h0M89.7,225.4h0M89.8,234.6h0M89.8,233.6h0M89.9,231.5h0M90,241.7h0M90.1,220.7h0M90.2,209.5h0M90.2,221.4h0M90.4,248.2h0M90.5,262.1h0M90.6,223.4h0M90.7,244.7h0M90.8,252.6h0M90.9,250h0M91,224h0M91,219.1h0M91.1,236.2h0M91.2,241.8h0M91.2,244.4h0M91.3,239.8h0M91.4,229.6h0M91.5,225.7h0M91.6,217.9h0M91.7,214h0M91.7,217.8h0M91.8,215.3h0M91.9,196.2h0M92,199.5h0M92.1,222.3h0M92.2,238.4h0M92.3,201.3h0M92.3,218.7h0M92.4,239h0M92.5,225.8h0M92.5,233.2h0M92.6,233.5h0M92.7,231.7h0M92.7,229.6h0M92.8,233.5h0M92.9,227.2h0M92.9,250.6h0M93,231.9h0M93.1,245.2h0M93.2,265.2h0M93.2,223.3h0M93.3,246.2h0M93.4,262.9h0M93.4,235.4h0M93.5,253.7h0M93.6,243.9h0M93.6,244.5h0M93.7,246.6h0M93.8,249.2h0M93.8,258.2h0M93.9,252.1h0M94,251.9h0M94,243.1h0M94.2,246.1h0M94.2,242.4h0M94.3,260.4h0M94.4,265h0M94.4,293.9h0M94.5,273.5h0M94.6,269.1h0M94.6,266.5h0M94.7,239.4h0M94.8,262h0M94.8,230h0M95,238.4h0M95.1,244.9h0M95.1,236h0M95.3,245.4h0M95.6,244.3h0M95.7,241.8h0M95.7,238.8h0M95.8,240.7h0M95.9,257.5h0M95.9,230.9h0M96,255.1h0M96.1,239h0M96.2,213.8h0M96.3,243h0M96.3,255.5h0M96.4,248.2h0M96.5,257.3h0M96.8,236.7h0M96.8,241.7h0M96.9,221.7h0M97,236.1h0M97,237.9h0M97.1,241.4h0M97.2,236.3h0M97.3,254.8h0M97.4,249.2h0M97.4,239.7h0M97.5,262.8h0M97.6,258.8h0M97.6,261.4h0M97.7,259.6h0M97.8,240.9h0M97.8,257.9h0M97.9,230.1h0M98,229.5h0M98.1,259.1h0M98.2,270.2h0M98.2,285.5h0M98.3,258.8h0M98.4,242.6h0M98.4,234.5h0M98.6,238h0M98.7,254.8h0M98.7,251h0M98.8,258.5h0M98.9,282.1h0M99,256.6h0M99.1,246.8h0M99.2,252.8h0M99.3,273h0M99.4,266.5h0M99.5,245.7h0M99.5,251.3h0M99.7,270.1h0M99.8,235.1h0M100,268.2h0M100.1,269.7h0M100.1,242.3h0M100.2,256.7h0M100.3,243.1h0M100.4,253.8h0M100.4,266.4h0M100.5,246.4h0M100.6,258.2h0M100.6,258.5h0M100.7,296.5h0M100.8,277.4h0M100.9,279.5h0M101.1,286.3h0M101.2,285h0M101.2,277.8h0M101.4,283.5h0M101.5,273.7h0M101.6,269.3h0M101.7,284.8h0M101.8,279h0M101.9,279.5h0M102,272.4h0M102.3,289.8h0M102.3,275.7h0M102.5,286.4h0M102.6,278.7h0M102.7,277.1h0M102.7,254.8h0M102.9,258.6h0M102.9,255h0M103,242.8h0M103.2,232.5h0M103.3,248.6h0M103.3,250h0M103.4,260.5h0M103.5,247.7h0M103.5,246.2h0M103.6,235.4h0M103.7,231.9h0M103.8,247h0M103.9,235.7h0M104,246.9h0M104,233.8h0M104.1,235.4h0M104.2,254.8h0M104.2,247.8h0M104.4,236.7h0M104.6,242h0M104.7,237.5h0M104.8,266.9h0M104.8,240h0M104.9,273.4h0M105.1,253.4h0M105.2,239.5h0M105.2,233.1h0M105.3,238.6h0M105.4,223.4h0M105.5,228.2h0M105.6,219.2h0M105.6,228.5h0M105.7,233.3h0M105.8,221.9h0M105.9,256.3h0M106,251.8h0M106.1,254.5h0M106.2,254.8h0M106.3,243.5h0M106.3,235.6h0M106.5,249.5h0M106.5,244.8h0M106.6,248.2h0M106.7,229.7h0M106.8,234.2h0M106.9,219.5h0M107,217.8h0M107.1,216.7h0M107.1,217.3h0M107.3,226.1h0M107.4,231.6h0M107.6,244.7h0M107.6,259.2h0M107.7,226.9h0M107.8,244h0M107.8,232.1h0M107.9,234.5h0M108,256.4h0M108,231.3h0M108.1,234.5h0M108.2,257.4h0M108.2,231.6h0M108.4,241.7h0M108.4,221.2h0M108.5,224.5h0M108.6,222.1h0M108.6,235.8h0M108.8,240h0M108.9,247.5h0M109,228.6h0M109.1,265h0M109.2,279h0M109.3,256.3h0M109.5,280.8h0M109.5,248.2h0M109.6,263.1h0M109.7,275.7h0M109.7,253h0M109.9,267.9h0M109.9,255.7h0M110.1,252.6h0M110.1,273.3h0M110.2,249.8h0M110.3,258.9h0M110.3,278.7h0M110.4,236.6h0M110.5,255.7h0M110.6,248.4h0M110.7,285h0M110.7,271.5h0M110.9,255.1h0M110.9,271.2h0M111,285h0M111.1,271.7h0M111.2,285.8h0M111.3,274h0M111.4,273.1h0M111.4,281h0M111.5,267.2h0M111.6,257.8h0M111.6,261.3h0M111.7,263.1h0M111.8,256.4h0M111.9,264h0M112,254.3h0M112.1,224h0M112.2,232.8h0M112.2,221.7h0M112.3,264.8h0M112.4,245.3h0M112.4,244.2h0M112.5,255.3h0M112.6,239.5h0M112.6,237.2h0M112.7,270.6h0M112.8,266.2h0M113,250.2h0M113.1,277.7h0M113.1,241.2h0M113.3,246.1h0M113.3,259.8h0M113.5,274.7h0M113.5,268.3h0M113.6,260.4h0M113.7,244.6h0M113.7,244.9h0M113.9,238.3h0M114,250.9h0M114.1,265.2h0M114.1,269.1h0M114.3,243.4h0M114.3,231.1h0M114.4,233.1h0M114.5,260.2h0M114.5,216.9h0M114.6,229.8h0M114.7,253.3h0M114.8,238.8h0M114.9,247.1h0M115,220.2h0M115,239.9h0M115.1,219h0M115.2,241h0M115.3,234.6h0M115.4,219.1h0M115.4,229.3h0M115.5,234.8h0M115.6,213.1h0M115.6,224.9h0M115.7,230.3h0M115.8,228.6h0M115.8,244.2h0M116,263.8h0M116,233.2h0M116.1,236h0M116.2,230.3h0M116.2,220.8h0M116.3,216.7h0M116.4,246.5h0M116.5,243.1h0M116.5,233.4h0M116.7,246.4h0M116.9,248.3h0M116.9,253.5h0M117,241.9h0M117.1,257.4h0M117.1,235.8h0M117.3,206.4h0M117.3,242.5h0M117.4,245.9h0M117.5,241.7h0M117.5,262.8h0M117.7,234.8h0M117.8,233.4h0M117.9,229.4h0M117.9,222.2h0M118,234.3h0M118.1,238.3h0M118.1,231.5h0M118.2,256.3h0M118.4,246.8h0M118.4,239.5h0M118.6,224.7h0M118.8,241h0M118.8,231.2h0M119,229.9h0M119.1,256h0M119.2,245.8h0M119.3,233.4h0M119.4,245.8h0M119.4,230.7h0M119.6,239.1h0M119.6,240.3h0M119.7,246.4h0M119.8,245.6h0M119.8,225.2h0M119.9,224.5h0M120,230.4h0M120.1,227.1h0M120.1,233.1h0M120.2,240.6h0M120.3,230.5h0M120.3,258.1h0M120.4,261.6h0M120.5,269.2h0M120.5,265.2h0M120.7,243.3h0M120.7,256.2h0M120.8,260.5h0M120.9,248.3h0M120.9,237.6h0M121.1,243.2h0M121.1,256.8h0M121.2,232.7h0M121.3,222.4h0M121.3,222.4h0M121.4,228.3h0M121.5,229.6h0M121.6,221.8h0M121.7,220h0M121.8,260.2h0M121.9,225.2h0M122,234.7h0M122.2,241.1h0M122.3,229.3h0M122.4,257h0M122.5,244h0M122.6,251.2h0M122.8,241.7h0M122.9,240.1h0M123,233.5h0M123,250.4h0M123.1,242.3h0M123.2,239.2h0M123.3,261.3h0M123.5,253h0M123.7,261.5h0M123.7,257.1h0M123.8,271.7h0M123.9,230.7h0M123.9,235.4h0M124,239.6h0M124.1,256.2h0M124.1,248.7h0M124.3,205.7h0M124.3,240h0M124.5,263.6h0M124.5,249.6h0M124.6,250.1h0M124.7,249.5h0M124.7,254.2h0M125,240.7h0M125.1,258.1h0M125.1,247.7h0M125.2,267.4h0M125.3,254h0M125.4,240.9h0M125.4,265.7h0M125.5,240.8h0M125.6,284.1h0M125.6,263.3h0M125.7,257.3h0M125.8,256.6h0M125.8,266.1h0M125.9,241.1h0M126,272h0M126,263.1h0M126.1,269.8h0M126.2,275.6h0M126.2,266.8h0M126.3,264.8h0M126.4,264.7h0M126.4,279.3h0M126.5,255.9h0M126.6,276.8h0M126.8,260.1h0M126.8,259.9h0M126.9,259.7h0M127,262.4h0M127.2,269h0M127.3,271.1h0M127.3,259.9h0M127.4,263h0M127.5,230.6h0M127.6,233.5h0M127.7,246.3h0M127.7,257.6h0M127.9,232.3h0M128,239.7h0M128.1,245h0M128.2,261.6h0M128.3,259.9h0M128.3,245.5h0M128.5,228.3h0M128.5,250.9h0M128.6,251.6h0M128.7,246.1h0M128.7,263.7h0M129.1,267.9h0M129.2,249.9h0M129.2,233.4h0M129.3,255.1h0M129.5,258.4h0M129.6,261.4h0M129.6,258.8h0M129.7,235.3h0M129.9,231.5h0M130,247.2h0M130,253.2h0M130.1,226.4h0M130.2,260.3h0M130.2,243.2h0M130.3,241h0M130.4,225.1h0M130.5,243.5h0M130.6,230.5h0M130.7,237h0M130.9,249.4h0M130.9,233.2h0M131.1,224.3h0M131.1,224h0M131.2,243h0M131.4,260.5h0M131.5,248.3h0M131.5,248h0M131.6,251.3h0M131.7,258.8h0M131.7,270.5h0M131.8,238.8h0M132.1,255.1h0M132.1,218.8h0M132.2,226.5h0M132.3,241.5h0M132.3,241.1h0M132.5,215h0M132.6,243.2h0M132.8,230.6h0M132.9,219.7h0M133,231.6h0M133,246.9h0M133.1,229.7h0M133.2,251.4h0M133.2,230.6h0M133.3,245.4h0M133.4,236h0M133.5,258.3h0M133.6,228.8h0M133.6,263.2h0M133.7,233.5h0M133.8,241.2h0M133.8,224.5h0M133.9,230.8h0M134,224.7h0M134,235.1h0M134.1,222.6h0M134.2,239h0M134.2,255.9h0M134.3,230.8h0M134.5,229h0M134.5,235.6h0M134.6,234.5h0M134.7,242h0M134.8,248.6h0M134.9,261h0M134.9,254h0M135.1,266.2h0M135.1,276.3h0M135.2,286.4h0M135.3,250h0M135.4,248.2h0M135.5,241.2h0M135.6,222.5h0M135.7,237h0M135.7,237.1h0M135.9,215.8h0M136,222.5h0M136.1,218.6h0M136.2,228.1h0M136.2,241.7h0M136.4,233.8h0M136.4,264.6h0M136.6,286.3h0M136.6,261.4h0M136.7,253.7h0M136.9,253.2h0M137,277.3h0M137,247.6h0M137.2,265.6h0M137.4,237.7h0M137.4,233.2h0M137.6,240.2h0M137.6,240.4h0M137.7,248.7h0M137.8,236.4h0M137.9,239.4h0M137.9,235.8h0M138,247.1h0M138.2,221.2h0M138.3,232.7h0M138.4,231.1h0M138.5,237h0M138.6,246.3h0M138.7,249.7h0M138.7,246h0M138.8,254.7h0M138.9,252.2h0M138.9,254.7h0M139,253.5h0M139.1,260h0M139.1,241.3h0M139.2,239.9h0M139.3,234.7h0M139.3,251.9h0M139.4,260.8h0M139.5,262.9h0M139.5,258.1h0M139.6,241h0M139.7,251.1h0M139.8,270.9h0M139.8,275.4h0M139.9,248.8h0M140,260.5h0M140.1,272.7h0M140.2,287.1h0M140.2,285.6h0M140.3,251.3h0M140.4,273.7h0M140.5,242.9h0M140.6,260.2h0M140.6,231.9h0M140.8,234.1h0M140.8,225.8h0M141,250.5h0M141,219.2h0M141.2,245h0M141.3,269.6h0M141.4,266.6h0M141.5,250.3h0M141.5,268.5h0M141.6,266.6h0M141.7,254.9h0M141.8,246.8h0M141.9,246.2h0M141.9,251.7h0M142.1,273.8h0M142.1,247.8h0M142.2,264h0M142.3,235.1h0M142.4,245.7h0M142.5,252.4h0M142.5,245.6h0M142.7,240.6h0M142.7,234.7h0M142.8,260.3h0M142.9,275.3h0M143,254.4h0M143.1,261.6h0M143.1,254h0M143.2,278.6h0M143.3,255.8h0M143.4,258.9h0M143.4,255h0M143.5,261h0M143.6,290.6h0M143.6,282.8h0M143.7,254.3h0M143.8,243.2h0M143.9,246.7h0M144,247.9h0M144,246.4h0M144.2,235.2h0M144.2,244.3h0M144.3,230.4h0M144.4,223.7h0M144.5,247.6h0M144.6,220.2h0M144.7,223h0M144.8,264.2h0M144.8,245.4h0M144.9,248h0M145,236.4h0M145.1,248.6h0M145.1,269.9h0M145.2,250.9h0M145.3,238.1h0M145.3,262.6h0M145.4,262.6h0M145.5,257.2h0M145.5,267.6h0M145.7,268.6h0M145.8,267h0M145.9,270.6h0M145.9,277.2h0M146,265.7h0M146.3,250.4h0M146.4,259.1h0M146.5,257.5h0M146.5,249.3h0M146.6,264.7h0M146.7,245.1h0M146.7,254.8h0M146.8,258.7h0M146.9,264.6h0M147,231.2h0M147,224.4h0M147.2,236.3h0M147.3,225h0M147.4,276.7h0M147.4,249.7h0M147.5,255.3h0M147.8,223.2h0M148,246.7h0M148,248.4h0M148.1,265.2h0M148.2,249.3h0M148.2,251h0M148.3,240.4h0M148.4,270h0M148.4,255.1h0M148.5,265.1h0M148.6,237.7h0M148.7,238.7h0M148.7,270.3h0M148.8,255.3h0M148.9,275.8h0M148.9,245.7h0M149,265.8h0M149.1,256.7h0M149.1,243.4h0M149.2,270.8h0M149.3,247.8h0M149.3,259.7h0M149.5,248.5h0M149.6,251.9h0M149.7,253.4h0M149.8,247.4h0M149.9,262.4h0M149.9,272.2h0M150,277.7h0M150.1,259.1h0M150.1,272.3h0M150.2,247.3h0M150.3,267.8h0M150.4,240.4h0M150.5,246.6h0M150.6,267.3h0M150.7,253.8h0M150.8,272.9h0M150.9,261.7h0M151,270h0M151.2,255.8h0M151.2,236.3h0M151.3,253.8h0M151.4,237.9h0M151.6,236.4h0M151.7,237.2h0M151.8,234.4h0M151.8,229.3h0M151.9,237.3h0M152,250.2h0M152,230.6h0M152.1,248.4h0M152.2,246.7h0M152.3,242.4h0M152.3,265.8h0M152.5,246.9h0M153,256.2h0M153.1,271.2h0M153.1,227.1h0M153.2,259.2h0M153.3,268.2h0M153.3,240.8h0M153.4,248.8h0M153.5,250.1h0M153.5,247.1h0M153.6,229.6h0M153.7,234.2h0M153.7,262h0M153.8,252.4h0M153.9,245.7h0M154,231.4h0M154,228.2h0M154.1,236.1h0M154.2,246h0M154.3,237.2h0M154.4,228.7h0M154.6,236.2h0M154.6,238.2h0M154.7,229.3h0M154.8,218.5h0M154.8,241.9h0M154.9,227.8h0M155,235.5h0M155,239.7h0M155.1,244.7h0M155.2,218.7h0M155.3,229.8h0M155.4,254h0M155.6,266.1h0M155.6,263.9h0M155.7,263.1h0M155.8,254.5h0M155.9,238.1h0M156,244.2h0M156.1,235.8h0M156.1,236.7h0M156.3,245.6h0M156.5,256.8h0M156.5,267h0M156.7,258.8h0M156.7,256h0M156.8,240h0M156.9,255.3h0M157,270.7h0M157.1,247.2h0M157.1,243.7h0M157.3,254.3h0M157.3,254.4h0M157.4,291.3h0M157.6,274.5h0M157.6,266.9h0M157.7,277.8h0M157.8,253h0M157.8,284h0M157.9,234.8h0M158,265.4h0M158,247.2h0M158.1,242.5h0M158.2,250.2h0M158.2,236.7h0M158.4,230.8h0M158.4,228.6h0M158.6,232.1h0M158.6,223.2h0M158.7,244.5h0M158.8,224.9h0M159,251.8h0M159,242.1h0M159.1,245h0M159.2,261.3h0M159.2,240.7h0M159.3,238h0M159.4,250.5h0M159.5,269.9h0M159.6,250.3h0M159.7,241.2h0M159.8,225.4h0M160,210.6h0M160.1,224.5h0M160.1,245h0M160.2,235.4h0M160.3,265.3h0M160.4,251.3h0M160.5,272.9h0M160.5,260.6h0M160.6,235.9h0M160.7,249.7h0M160.8,241.1h0M160.9,254.1h0M160.9,252.2h0M161,257.4h0M161.2,237.7h0M161.4,233.1h0M161.5,220.6h0M161.7,248.5h0M161.8,224.5h0M161.8,240.3h0M161.9,228.9h0M162.1,266.1h0M162.2,230.6h0M162.3,243.8h0M162.4,240.3h0M162.5,226.4h0M162.6,239.7h0M162.6,247.5h0M162.7,238.3h0M162.8,235.7h0M162.8,249.4h0M162.9,229.9h0M163,239.1h0M163.1,228.4h0M163.2,242.1h0M163.3,229.8h0M163.3,250.6h0M163.4,239h0M163.5,238h0M163.7,248.4h0M163.7,238.3h0M163.8,196.5h0M163.9,204h0M163.9,238.2h0M164,246.7h0M164.2,240h0M164.3,253.8h0M164.3,256.2h0M164.4,254.4h0M164.5,261.5h0M164.6,249.7h0M164.7,225.4h0M164.8,236.3h0M164.9,232.9h0M165,259.1h0M165,254.7h0M165.1,233.5h0M165.2,240.7h0M165.2,209.1h0M165.3,204h0M165.4,249.9h0M165.4,236.7h0M165.5,234.6h0M165.6,239.4h0M165.6,240.9h0M165.7,263.5h0M165.8,265.6h0M166,250.4h0M166,232h0M166.2,234.8h0M166.3,252.1h0M166.4,244.1h0M166.5,261h0M166.5,266.2h0M166.6,259.6h0M166.7,248h0M166.7,263.9h0M166.8,256.2h0M166.9,232.6h0M166.9,264.8h0M167,248.1h0M167.1,264.5h0M167.1,276.8h0M167.3,246.1h0M167.3,223.4h0M167.4,251.5h0M167.5,230.8h0M167.5,271h0M167.6,260.5h0M167.7,239.5h0M167.7,273.7h0M167.8,244.6h0M167.9,255.7h0M167.9,244.7h0M168,248.6h0M168.1,251.3h0M168.1,285.5h0M168.2,265.9h0M168.3,267h0M168.4,271.5h0M168.5,268.3h0M168.6,254.6h0M168.6,233.8h0M168.7,263.7h0M168.8,247.6h0M168.8,216.5h0M168.9,250.9h0M169,204.4h0M169,252h0M169.1,226.2h0M169.2,258.7h0M169.3,242.7h0M169.4,260.6h0M169.4,251.4h0M169.5,282.8h0M169.6,247.8h0M169.7,276.9h0M169.8,279.8h0M169.8,276.9h0M169.9,248.2h0M170.1,242.2h0M170.1,242.6h0M170.2,265.6h0M170.3,282.2h0M170.6,300.4h0M170.7,268.9h0M170.7,273.1h0M170.8,291.8h0M170.9,286.5h0M171,290.9h0M171.1,292.7h0M171.2,251.7h0M171.3,266.5h0M171.3,262.1h0M171.4,253.4h0M171.5,270.6h0M171.7,254.6h0M171.8,261h0M171.9,240.3h0M172,280h0M172.2,276.4h0M172.2,264.2h0M172.3,272.4h0M172.4,260.9h0M172.4,264h0M172.5,267.7h0M172.6,251.7h0M172.6,242.7h0M172.7,257.3h0M172.8,231h0M172.9,224h0M173,258.7h0M173.1,266.8h0M173.2,270.2h0M173.2,265.8h0M173.3,257.9h0M173.4,277.1h0M173.4,254.8h0M173.5,251.6h0M173.7,259.8h0M173.8,256.5h0M173.9,236.6h0M173.9,252.2h0M174.1,248.6h0M174.1,253.6h0M174.2,237.1h0M174.3,226.9h0M174.4,237.5h0M174.5,237.2h0M174.5,241.3h0M174.6,241h0M174.7,246.1h0M174.9,228.1h0M175,234.9h0M175.1,236.9h0M175.3,234.1h0M175.3,226.6h0M175.4,246.1h0M175.5,241.5h0M175.6,237.2h0M175.6,224.5h0M175.7,224.6h0M175.8,239.1h0M175.9,243.5h0M176,219.4h0M176,251.8h0M176.1,228.1h0M176.2,240.1h0M176.2,240.5h0M176.3,260.2h0M176.4,250.5h0M176.4,238.6h0M176.5,216.8h0M176.6,260.5h0M176.6,228.8h0M176.7,250.2h0M176.8,234.7h0M176.9,248h0M177,254.4h0M177,248.5h0M177.2,257.8h0M177.3,246.3h0M177.3,238.9h0M177.4,264.1h0M177.5,240.4h0M177.6,235.9h0M177.7,224.4h0M177.9,274.5h0M177.9,269.1h0M178.1,266.5h0M178.1,288.6h0M178.2,247.6h0M178.3,259.3h0M178.4,250.2h0M178.5,261.7h0M178.6,243.4h0M178.7,246.6h0M178.8,232.7h0M178.9,230.9h0M178.9,234.3h0M179,205.5h0M179.1,224.5h0M179.2,245.3h0M179.3,248.6h0M179.6,249.5h0M179.8,270h0M179.9,257.9h0M180,292.9h0M180,266.9h0M180.2,263.9h0M180.4,270.3h0M180.4,248.3h0M180.5,258.2h0M180.6,253.4h0M180.8,247.5h0M180.9,248.5h0M181,246.4h0M181.1,253.8h0M181.2,248.7h0M181.3,248.7h0M181.3,256.9h0M181.5,220.3h0M181.6,221h0M181.7,233.5h0M181.7,246.7h0M181.8,240.1h0M181.9,246.3h0M182,263.7h0M182.1,259.3h0M182.1,236.4h0M182.2,227.9h0M182.3,249.3h0M182.3,253.4h0M182.4,261.5h0M182.5,270.7h0M182.6,244.6h0M182.6,213.3h0M182.7,244h0M182.8,219.3h0M183,233.7h0M183,259.9h0M183.1,238.2h0M183.2,254.1h0M183.3,250.2h0M183.4,257.6h0M183.5,236.3h0M183.6,245.2h0M183.6,244.5h0M183.8,227.4h0M183.9,227h0M184,222.3h0M184.1,228h0M184.2,256.6h0M184.2,238.2h0M184.3,230.6h0M184.5,250.3h0M184.5,249.9h0M184.6,262h0M184.7,262.5h0M184.7,256.5h0M184.9,263.4h0M185,233.3h0M185.3,235.7h0M185.3,240.1h0M185.4,221.9h0M185.5,222h0M185.5,226.7h0M185.6,238.6h0M185.7,253.5h0M185.7,221.4h0M185.9,231.3h0M186,250.6h0M186.2,241.5h0M186.3,238.2h0M186.4,252h0M186.4,221.5h0M186.5,247.2h0M186.7,282.9h0M186.8,252.2h0M186.8,281.5h0M186.9,242.4h0M187,233.7h0M187,226.7h0M187.1,236.1h0M187.2,242.1h0M187.2,255.4h0M187.3,271.5h0M187.4,259.5h0M187.4,254.2h0M187.5,235h0M187.6,228h0M187.7,208.9h0M188,238.8h0M188.2,232.1h0M188.3,222h0M188.3,233.6h0M188.4,227.3h0M188.5,232.5h0M188.7,238.7h0M188.7,248.1h0M188.8,237.9h0M188.9,219.9h0M188.9,228.6h0M189,248.9h0M189.1,221.3h0M189.1,228.1h0M189.3,232.8h0M189.4,225.7h0M189.6,229.7h0M189.7,240.4h0M189.8,215.6h0M189.8,239.9h0M190,209.4h0M190,222.1h0M190.2,214.7h0M190.2,208.3h0M190.4,239.5h0M190.5,224.7h0M190.6,230.5h0M190.6,241.9h0M190.7,249.8h0M190.8,237.5h0M191,235.5h0M191,237.6h0M191.1,262.4h0M191.2,236.2h0M191.3,233.3h0M191.4,225.3h0M191.4,263.8h0M191.6,243.6h0M191.7,218.3h0M191.7,238.6h0M191.8,240.3h0M191.9,226.5h0M191.9,215h0M192,229.2h0M192.2,254.3h0M192.3,230.7h0M192.6,241.8h0M192.7,217.9h0M192.7,222.6h0M192.8,237.2h0M192.9,241.6h0M193,221.2h0M193.1,238.6h0M193.2,234.6h0M193.3,250.7h0M193.4,229.5h0M193.6,261.1h0M193.6,246.9h0M193.7,238.8h0M193.8,247.3h0M193.9,248.6h0M194,241.4h0M194,234.6h0M194.1,230h0M194.2,235.1h0M194.3,228.7h0M194.4,231.5h0M194.4,232.4h0M194.5,217.2h0M194.7,236.3h0M194.8,227.7h0M194.8,224h0M195,238h0M195.1,226.7h0M195.2,211.4h0M195.3,213.1h0M195.3,234.4h0M195.4,207.6h0M195.5,238h0M195.6,236.6h0M195.7,232.8h0M195.9,217.5h0M196,240.6h0M196.1,230.1h0M196.1,226.8h0M196.2,220.5h0M196.3,232.2h0M196.3,226.9h0M196.4,240.3h0M196.5,225.2h0M196.7,257.3h0M196.7,233h0M196.8,222.2h0M196.9,210.6h0M197,236.8h0M197,231.6h0M197.1,247.6h0M197.2,220.1h0M197.3,231.4h0M197.4,232.6h0M197.4,238.4h0M197.5,229.7h0M197.6,239.1h0M197.7,258.3h0M197.8,256.4h0M197.9,228.6h0M198,237.7h0M198.1,214.8h0M198.2,237.3h0M198.2,218.3h0M198.4,217.3h0M198.4,215.7h0M198.5,239.9h0M198.6,235.7h0M198.8,242.6h0M198.9,252.4h0M198.9,247h0M199,265.6h0M199.1,238.7h0M199.1,265.4h0M199.4,259h0M199.5,244.5h0M199.7,256.7h0M199.7,246h0M199.8,255.5h0M199.9,244.9h0M199.9,240h0M200.1,247.1h0M200.1,245.2h0M200.2,248.3h0M200.3,268.2h0M200.3,239.3h0M200.5,244.5h0M200.6,243.7h0M200.6,213.8h0M200.8,252.5h0M200.9,218.4h0M201,240.6h0M201.2,242.2h0M201.2,242h0M201.3,240.7h0M201.4,229.4h0M201.4,221.9h0M201.5,246h0M201.6,263h0M201.6,235.4h0M201.8,244.9h0M201.8,246h0M201.9,248.9h0M202,254.8h0M202.2,242.7h0M202.3,250.2h0M202.4,252.5h0M202.5,236.2h0M202.5,236.1h0M202.6,226.3h0M202.7,232.1h0M202.7,214h0M202.8,239.9h0M202.9,247.3h0M202.9,232.9h0M203,238.9h0M203.1,230.4h0M203.2,227h0M203.3,225.8h0M203.4,229.2h0M203.5,238h0M203.5,218.1h0M203.6,225.8h0M203.7,252.1h0M203.9,231.3h0M203.9,241.1h0M204,245.1h0M204.1,212.6h0M204.2,228.4h0M204.2,242.1h0M204.3,256.2h0M204.4,251.9h0M204.6,252.1h0M204.7,241.1h0M204.8,224.7h0M204.8,240h0M205,247.3h0M205,260.9h0M205.1,232.9h0M205.2,246h0M205.2,239.9h0M205.3,253h0M205.4,211.5h0M205.5,233.2h0M205.6,269.1h0M205.7,256.6h0M205.8,231.3h0M205.9,247.2h0M205.9,252h0M206,236.4h0M206.1,254h0M206.3,258h0M206.3,239.3h0M206.4,236.9h0M206.5,233.6h0M206.5,214.4h0M206.6,237.9h0M206.7,224.4h0M206.7,246.1h0M206.8,229.3h0M206.9,252.3h0M207,268.8h0M207.1,245.2h0M207.2,223.7h0M207.3,239.8h0M207.3,211.5h0M207.4,220.6h0M207.5,238.8h0M207.6,227.4h0M207.7,250.5h0M207.8,230.6h0M207.8,255.1h0M207.9,236.2h0M208,231.1h0M208,220.7h0M208.2,245.1h0M208.2,248h0M208.3,258.9h0M208.4,233.2h0M208.4,242.4h0M208.5,223.7h0M208.6,221h0M208.6,247.2h0M208.7,263.4h0M208.8,238.6h0M208.8,214.7h0M209,214.4h0M209,212.5h0M209.1,239.9h0M209.2,218.8h0M209.3,208.4h0M209.5,213.3h0M209.6,216.4h0M209.8,251.6h0M209.9,240.5h0M209.9,246h0M210.1,250h0M210.3,249.4h0M210.3,245.6h0M210.4,252.4h0M210.5,259h0M210.5,252.2h0M210.6,246.4h0M210.7,247.2h0M210.7,245.5h0M210.8,240.2h0M210.9,241.3h0M211,222.1h0M211.2,221.5h0M211.3,212.5h0M211.4,231h0M211.5,243.2h0M211.6,228h0M211.6,233.5h0M211.8,250.8h0M212,242h0M212.1,244.5h0M212.2,248.8h0M212.3,223.7h0M212.4,248.1h0M212.5,248.2h0M212.6,238.4h0M212.7,228.1h0M212.8,240.2h0M212.8,250h0M212.9,246.5h0M213,240.6h0M213.1,242.5h0M213.1,242.6h0M213.2,237h0M213.3,236.6h0M213.4,216h0M213.5,209.5h0M213.6,246.4h0M213.9,254.8h0M213.9,235.7h0M214,275.5h0M214.3,257h0M214.4,258h0M214.5,258.3h0M214.5,251.8h0M214.6,245.5h0M214.7,263.6h0M214.8,252.4h0M215,251.6h0M215,258.8h0M215.2,219.2h0M215.3,238h0M215.4,225.4h0M215.4,220.6h0M215.5,242.2h0M215.7,227.1h0M215.8,231.5h0M215.8,233.6h0M215.9,241.3h0M216,228.3h0M216.1,246.6h0M216.2,226.2h0M216.3,245.6h0M216.4,237.6h0M216.4,235.3h0M216.5,260.8h0M216.7,235.6h0M216.8,235.4h0M217.1,217.6h0M217.1,215.4h0M217.2,225.6h0M217.3,212.8h0M217.3,247.8h0M217.4,233.6h0M217.5,218.3h0M217.6,231.5h0M217.7,231.4h0M217.7,230.5h0M218,209h0M218.1,225.1h0M218.1,243.7h0M218.2,233.9h0M218.4,238.1h0M218.5,260.4h0M218.6,255.7h0M218.7,235.7h0M218.8,231.6h0" fill="none" stroke="#0f78cd" stroke-width="1.4" stroke-linecap="round"/>
<path d="M42.2,334.5 42.3,332.4 42.3,331.4 42.4,332.8 42.5,331.9 42.5,331.8 42.6,332.7 42.7,332.6 42.7,334.1 42.8,333.9 42.9,333.1 42.9,335.3 43,336.6 43.1,333.9 43.2,333.9 43.2,335.5 43.3,334.4 43.4,334.8 43.4,333.7 43.5,334.1 43.6,334 43.6,334 43.7,334 43.8,331.7 43.8,333.1 43.9,333 44,332.8 44,332.4 44.1,331 44.2,332 44.2,332.3 44.3,332.5 44.4,330.6 44.4,332 44.5,330.4 44.6,332.5 44.6,331.9 44.7,332.4 44.8,332.3 44.8,333.1 44.9,332.8 45,333.4 45.1,331.2 45.1,330.9 45.2,331.4 45.3,331.9 45.3,333 45.4,334.6 45.5,333.3 45.5,332.2 45.6,333.2 45.7,332.6 45.7,332.2 45.8,334.6 45.9,334 45.9,332.2 46,332.3 46.1,335.5 46.1,335.6 46.2,335.4 46.3,335.6 46.3,335 46.4,333 46.5,332.7 46.5,331.3 46.6,332.2 46.7,334.2 46.8,335.1 46.8,333.4 46.9,332.4 47,333.6 47,330.9 47.1,332.7 47.2,331.8 47.2,331.5 47.3,333.2 47.4,332.8 47.4,332.1 47.5,331.5 47.6,332.3 47.6,333.1 47.7,332.9 47.8,332.7 47.8,332.8 47.9,335 48,335.4 48,334.4 48.1,334.2 48.2,335 48.2,334 48.3,332.4 48.4,331.7 48.4,331.6 48.5,331.7 48.6,330.7 48.7,332.8 48.7,330.5 48.8,332.4 48.9,331.5 48.9,331.2 49,330.6 49.1,331.2 49.1,330.5 49.2,331.5 49.3,331.9 49.3,332.5 49.4,331.2 49.5,328.2 49.5,328.1 49.6,328.4 49.7,329.4 49.7,329.5 49.8,330.1 49.9,332.1 49.9,330.1 50,330.1 50.1,329.9 50.1,330.5 50.2,328.3 50.3,328.5 50.4,330.4 50.4,331.7 50.5,332.3 50.6,332 50.6,330.1 50.7,328.1 50.8,328.1 50.8,327.9 50.9,329.4 51,329.8 51,329.7 51.1,331.8 51.2,332.3 51.2,334 51.3,333 51.4,330.4 51.4,333.1 51.5,332.9 51.6,332.3 51.6,329.7 51.7,328.5 51.8,328 51.8,330.8 51.9,330.5 52,328.8 52.1,329.6 52.1,328.9 52.2,329.3 52.3,329.1 52.3,327.9 52.4,328.3 52.5,326.5 52.5,326.1 52.6,326.7 52.7,328.8 52.7,329.4 52.8,329.1 52.9,328.5 52.9,328.4 53,329.2 53.1,327.3 53.1,326.2 53.2,327.8 53.3,329.2 53.3,329.9 53.4,330.7 53.5,332.5 53.5,331 53.6,331 53.7,329.5 53.7,330.1 53.8,332.1 53.9,332.2 54,330.8 54,331.2 54.1,331.7 54.2,330.2 54.2,331.8 54.3,330.7 54.4,331 54.4,329.4 54.5,328.6 54.6,330.4 54.6,330 54.7,329.5 54.8,329.3 54.8,329.8 54.9,331 55,332 55,331.8 55.1,331.1 55.2,329.3 55.2,330.9 55.3,331.1 55.4,330.3 55.4,329.1 55.5,328.9 55.6,328.3 55.7,329.1 55.7,329.4 55.8,329.6 55.9,329.5 55.9,330.2 56,330.5 56.1,331.2 56.1,330.3 56.2,329.4 56.3,329.7 56.3,331.9 56.4,330.5 56.5,331.7 56.5,332.1 56.6,333.1 56.7,332.3 56.7,332.2 56.8,330.6 56.9,330.1 56.9,328.1 57,328.7 57.1,328 57.1,328.1 57.2,326 57.3,326.5 57.3,327.3 57.4,327.7 57.5,330.8 57.6,332.1 57.6,331.7 57.7,330 57.8,328.6 57.8,327.9 57.9,327.8 58,326.8 58,329.9 58.1,329 58.2,330.1 58.2,330.8 58.3,331.4 58.4,330.4 58.4,330 58.5,329.3 58.6,329.3 58.6,329.2 58.7,327.9 58.8,330 58.8,330.9 58.9,332.2 59,329.6 59,328.1 59.1,331.5 59.2,332.2 59.3,332 59.3,329.6 59.4,330.9 59.5,330.3 59.5,331.8 59.6,329.9 59.7,328.8 59.7,325.9 59.8,326.5 59.9,327 59.9,327.5 60,328 60.1,326.8 60.1,326.6 60.2,328.3 60.3,329.4 60.3,330.3 60.4,331.3 60.5,330.3 60.5,330.8 60.6,330.8 60.7,330.8 60.7,330.2 60.8,330.8 60.9,328.9 60.9,329.2 61,331.9 61.1,331.8 61.2,332.1 61.2,332.2 61.3,331.2 61.4,332.8 61.4,331.1 61.5,331.1 61.6,331.3 61.6,330.9 61.7,332.9 61.8,334.3 61.8,334.4 61.9,332 62,334.6 62,332 62.1,332.1 62.2,329.6 62.2,331.4 62.3,327.5 62.4,328.5 62.4,325.2 62.5,327.2 62.6,327.8 62.6,325.2 62.7,327 62.8,326.3 62.9,327.6 62.9,328.2 63,328.2 63.1,330.2 63.1,328.2 63.2,330.3 63.3,328.8 63.3,328.4 63.4,328.1 63.5,328.4 63.5,328 63.6,326.8 63.7,327 63.7,328.4 63.8,326.3 63.9,326.1 63.9,327.2 64,326.5 64.1,326.2 64.1,324.9 64.2,323.9 64.3,322.4 64.3,323.5 64.4,324.9 64.5,325.8 64.6,324.6 64.6,326.1 64.7,324.6 64.8,326 64.8,324.7 64.9,325.8 65,326.6 65,328 65.1,327.6 65.2,327.5 65.2,327.1 65.3,325.4 65.4,325 65.4,325.9 65.5,325.3 65.6,326.7 65.6,325.3 65.7,325.4 65.8,326.6 65.8,325.9 65.9,327.2 66,327.9 66,325.2 66.1,325.8 66.2,326.1 66.2,324.7 66.3,325.3 66.4,326.6 66.5,325.6 66.5,324.7 66.6,324.5 66.7,325.9 66.7,326.8 66.8,326.9 66.9,325.6 66.9,325.9 67,325.9 67.1,324.9 67.1,324.6 67.2,324.7 67.3,326 67.3,326.7 67.4,325.9 67.5,324.2 67.5,326.5 67.6,326.8 67.7,326.5 67.7,327.4 67.8,328.5 67.9,325.1 67.9,325.7 68,326.5 68.1,326.4 68.2,325.8 68.2,325.6 68.3,324.4 68.4,324 68.4,325.1 68.5,325.2 68.6,322.9 68.6,321.7 68.7,321 68.8,323.5 68.8,323.5 68.9,323.7 69,324.4 69,324.4 69.1,325.2 69.2,324.2 69.2,323.1 69.3,323.3 69.4,323.8 69.4,322.8 69.5,323.2 69.6,322.2 69.6,322.5 69.7,321.8 69.8,324 69.8,322.5 69.9,322.3 70,321.9 70.1,322.4 70.1,322.5 70.2,323.3 70.3,323.6 70.3,323.4 70.4,324 70.5,323.7 70.5,324 70.6,325.2 70.7,327.5 70.7,328.3 70.8,325.8 70.9,324.6 70.9,324.6 71,326 71.1,324.1 71.1,324.3 71.2,324.3 71.3,322.9 71.3,324.7 71.4,324.9 71.5,323.5 71.5,326.3 71.6,326.5 71.7,328 71.8,326.7 71.8,325 71.9,323.2 72,324.4 72,325.5 72.1,323.4 72.2,320.9 72.2,321.6 72.3,323.5 72.4,323.8 72.4,322.1 72.5,321.4 72.6,322.3 72.6,320.4 72.7,322.6 72.8,324.3 72.8,324.3 72.9,324.7 73,324.1 73,324.9 73.1,323.6 73.2,323.8 73.2,322.4 73.3,321.8 73.4,321.9 73.4,323.3 73.5,324.4 73.6,324.6 73.7,326.3 73.7,328 73.8,328.1 73.9,329.3 73.9,328.4 74,328.8 74.1,330.5 74.1,331.1 74.2,330.2 74.3,328.8 74.3,327.3 74.4,328.6 74.5,326.1 74.5,328.2 74.6,328.9 74.7,330.7 74.7,330.2 74.8,330 74.9,329.2 74.9,329.7 75,328.6 75.1,326.6 75.1,327.6 75.2,328.6 75.3,329 75.4,329.4 75.4,329.6 75.5,329.3 75.6,329.2 75.6,329.5 75.7,326.4 75.8,325.8 75.8,326.7 75.9,327 76,328.2 76,328.3 76.1,327.9 76.2,329.6 76.2,330.4 76.3,331.2 76.4,331.5 76.4,332.6 76.5,333.5 76.6,334 76.6,332.6 76.7,333.1 76.8,333.8 76.8,333.2 76.9,333.3 77,333.9 77,334.6 77.1,333.7 77.2,334.7 77.3,333.8 77.3,333.7 77.4,333 77.5,330.7 77.5,331.2 77.6,332.8 77.7,333 77.7,332.9 77.8,330.7 77.9,330.8 77.9,330.7 78,329.8 78.1,329.9 78.1,331.4 78.2,329.7 78.3,329.1 78.3,329.2 78.4,329.4 78.5,329.1 78.5,329.8 78.6,330.6 78.7,330.5 78.7,331.3 78.8,331.9 78.9,333.4 79,332.9 79,333.4 79.1,332.9 79.2,333.1 79.2,332.3 79.3,332.2 79.4,332.2 79.4,332 79.5,331.9 79.6,331.7 79.6,331.7 79.7,331 79.8,331.1 79.8,331.5 79.9,331.6 80,331.5 80,331.2 80.1,331.2 80.2,331.9 80.2,331.6 80.3,331.7 80.4,331.5 80.4,331 80.5,330.7 80.6,331 80.7,331.4 80.7,331.8 80.8,331.9 80.9,332.2 80.9,332.6 81,332 81.1,331.6 81.1,330.9 81.2,331.2 81.3,330.9 81.3,330.7 81.4,331 81.5,331 81.5,330.9 81.6,330.8 81.7,331.8 81.7,331.9 81.8,331.1 81.9,330.7 81.9,331.3 82,331.9 82.1,331.8 82.1,331.3 82.2,331 82.3,332 82.3,331.6 82.4,332.1 82.5,331.9 82.6,332.5 82.6,332.1 82.7,331.6 82.8,333.1 82.8,332.7 82.9,331.6 83,331.4 83,330.9 83.1,331.2 83.2,331.1 83.2,331.4 83.3,331.8 83.4,331.4 83.4,330.8 83.5,330.4 83.6,329.9 83.6,330.3 83.7,331.4 83.8,330.9 83.8,330.4 83.9,330.9 84,331.6 84,331.2 84.1,330.8 84.2,329.5 84.3,330.1 84.3,329.6 84.4,330.5 84.5,331.8 84.5,331.4 84.6,331.5 84.7,330.8 84.7,329.9 84.8,330.7 84.9,330.3 84.9,331.6 85,331 85.1,331.1 85.1,331.2 85.2,331.9 85.3,332.5 85.3,332.4 85.4,332 85.5,332.6 85.5,331.4 85.6,331.3 85.7,329.6 85.7,331.1 85.8,330.8 85.9,332.4 85.9,332.6 86,332.2 86.1,330.9 86.2,330.6 86.2,332.2 86.3,332 86.4,330.4 86.4,329.2 86.5,328.1 86.6,330.2 86.6,330 86.7,329.8 86.8,330.6 86.8,330.5 86.9,329.1 87,328.9 87,329.2 87.1,329.3 87.2,329 87.2,330 87.3,329.9 87.4,330.4 87.4,330.6 87.5,330.5 87.6,330.1 87.6,330 87.7,329.4 87.8,329.7 87.9,330.2 87.9,330.7 88,331 88.1,330.1 88.1,329.5 88.2,328.4 88.3,329.2 88.3,330.6 88.4,331.2 88.5,331.3 88.5,329.2 88.6,328.1 88.7,327.6 88.7,326.6 88.8,326.2 88.9,327.1 88.9,325.4 89,325.5 89.1,324.9 89.1,327.4 89.2,326.9 89.3,328.7 89.3,328.1 89.4,328.7 89.5,329.1 89.5,329.3 89.6,328.6 89.7,328.2 89.8,328.1 89.8,327.7 89.9,326.4 90,325.3 90,325.6 90.1,325.6 90.2,326.2 90.2,325.9 90.3,327.5 90.4,328.6 90.4,327.6 90.5,327.5 90.6,328.2 90.6,327.4 90.7,326.8 90.8,327.8 90.8,328.2 90.9,327.3 91,328.1 91,328.3 91.1,329.2 91.2,329.5 91.2,329.8 91.3,329.6 91.4,329.4 91.5,329.3 91.5,328.1 91.6,327 91.7,327.6 91.7,326.5 91.8,327.4 91.9,329.1 91.9,329 92,328.1 92.1,329.1 92.1,327.2 92.2,327.1 92.3,326.7 92.3,326.9 92.4,327.5 92.5,327.4 92.5,327.8 92.6,328.7 92.7,328.4 92.7,327.2 92.8,327.4 92.9,328 92.9,328.3 93,327.9 93.1,328.9 93.2,329 93.2,329.6 93.3,328.9 93.4,329.5 93.4,328.5 93.5,328.7 93.6,328.6 93.6,330 93.7,329.1 93.8,329.5 93.8,329.5 93.9,328.5 94,328.2 94,328.3 94.1,327.7 94.2,327.2 94.2,328 94.3,327.7 94.4,328.1 94.4,326.4 94.5,325.6 94.6,325.8 94.6,326.3 94.7,326.9 94.8,326.5 94.8,327.5 94.9,328.3 95,327.4 95.1,327.3 95.1,328.1 95.2,327.1 95.3,327.6 95.3,326.6 95.4,326.1 95.5,326.5 95.5,325.1 95.6,325.7 95.7,326.2 95.7,324.4 95.8,325.2 95.9,324.2 95.9,325.2 96,326 96.1,326.9 96.1,325.4 96.2,325.3 96.3,325.6 96.3,326.8 96.4,327.7 96.5,327.3 96.5,327.5 96.6,327.6 96.7,327.3 96.8,327.8 96.8,329 96.9,328.5 97,328 97,327.8 97.1,327 97.2,327.8 97.2,327.5 97.3,327.8 97.4,327.4 97.4,328.1 97.5,327.5 97.6,328.4 97.6,327.9 97.7,328.3 97.8,328.9 97.8,327.3 97.9,328.7 98,329.2 98,328.5 98.1,329.1 98.2,329.4 98.2,329.5 98.3,329.1 98.4,328.5 98.4,327.8 98.5,328.7 98.6,327.9 98.7,327.5 98.7,327.3 98.8,327.3 98.9,329 98.9,329.7 99,329.4 99.1,328.1 99.1,328 99.2,328 99.3,328.8 99.3,330 99.4,330 99.5,328.2 99.5,328.5 99.6,328.3 99.7,329.1 99.7,328.3 99.8,327.8 99.9,327.4 99.9,327.4 100,326.8 100.1,328.1 100.1,328.6 100.2,329 100.3,328.7 100.4,328.7 100.4,329.1 100.5,329.5 100.6,329.5 100.6,329.5 100.7,330 100.8,329.3 100.8,328.6 100.9,330 101,329.7 101,330.9 101.1,330 101.2,330.1 101.2,329.6 101.3,329.4 101.4,330.2 101.4,330.6 101.5,329.7 101.6,330.5 101.6,331.5 101.7,332.3 101.8,331.7 101.8,333.4 101.9,333.5 102,332.8 102,330.8 102.1,330.4 102.2,331.5 102.3,330.7 102.3,331 102.4,331.2 102.5,331.3 102.5,331 102.6,331.2 102.7,331.2 102.7,331.2 102.8,331 102.9,332.5 102.9,331.6 103,331.8 103.1,331.3 103.1,331.3 103.2,331 103.3,331.6 103.3,331.7 103.4,331.7 103.5,331.8 103.5,332 103.6,331.6 103.7,331.9 103.7,331.6 103.8,331.6 103.9,331.5 104,331.8 104,332.1 104.1,332 104.2,332.2 104.2,332.3 104.3,332.6 104.4,332.5 104.4,331.9 104.5,331.9 104.6,331.9 104.6,332.2 104.7,332.1 104.8,332.2 104.8,332.2 104.9,332.1 105,332 105,332 105.1,331.6 105.2,331.9 105.2,332 105.3,332.1 105.4,332.1 105.4,332 105.5,331.7 105.6,331.6 105.6,331.6 105.7,331.8 105.8,332 105.9,332.2 105.9,331.8 106,331.5 106.1,331.6 106.1,331.7 106.2,332 106.3,331.6 106.3,331.3 106.4,331.4 106.5,331.6 106.5,331.8 106.6,331.9 106.7,331.8 106.7,331.9 106.8,331.7 106.9,331.6 106.9,331.4 107,331.3 107.1,331.3 107.1,331.2 107.2,331.5 107.3,331.3 107.3,331.3 107.4,331.2 107.5,331.1 107.6,331.5 107.6,331.4 107.7,331.7 107.8,331.3 107.8,331.6 107.9,331.8 108,331.6 108,331.8 108.1,332 108.2,332.3 108.2,332.2 108.3,332 108.4,331.9 108.4,331.4 108.5,331.8 108.6,331.9 108.6,331.7 108.7,331.8 108.8,331.7 108.8,331.5 108.9,331.4 109,331.4 109,331.5 109.1,331.4 109.2,331.7 109.3,331.8 109.3,331.9 109.4,331.8 109.5,331.7 109.5,331.6 109.6,331.5 109.7,331.7 109.7,331.9 109.8,332.1 109.9,331.6 109.9,331.4 110,331.4 110.1,331.4 110.1,331.4 110.2,331.3 110.3,331.1 110.3,331.3 110.4,331.2 110.5,331.1 110.5,331 110.6,331.3 110.7,331 110.7,330.9 110.8,330.8 110.9,330.9 110.9,331.1 111,330.7 111.1,330.5 111.2,330.6 111.2,330.6 111.3,330.7 111.4,330.7 111.4,330.8 111.5,330.3 111.6,330 111.6,330.3 111.7,330.5 111.8,330.1 111.8,330.4 111.9,330.2 112,330 112,329.9 112.1,329.4 112.2,329.6 112.2,329.9 112.3,329.8 112.4,329.8 112.4,329.9 112.5,329.9 112.6,330.3 112.6,330 112.7,330.4 112.8,329.9 112.9,329.3 112.9,328.3 113,327.2 113.1,326.4 113.1,325.5 113.2,324.7 113.3,323.4 113.3,322.6 113.4,322.2 113.5,321.7 113.5,320.3 113.6,319.6 113.7,318.8 113.7,318 113.8,317.7 113.9,316.8 113.9,315.8 114,315.2 114.1,313.9 114.1,313 114.2,312.2 114.3,311.4 114.3,310.6 114.4,309.7 114.5,308.9 114.5,308.1 114.6,308.5 114.7,308.3 114.8,308.7 114.8,308.6 114.9,308.8 115,308.5 115,308.6 115.1,308.9 115.2,309 115.2,309 115.3,309 115.4,308.8 115.4,308.9 115.5,309.5 115.6,309.9 115.6,310.5 115.7,311.1 115.8,311.6 115.8,312.6 115.9,313.4 116,314.2 116,314.9 116.1,315.8 116.2,316.3 116.2,316.9 116.3,317.4 116.4,317.5 116.5,318 116.5,318.7 116.6,319.9 116.7,320.5 116.7,321.1 116.8,321.7 116.9,322.1 116.9,322.9 117,323.8 117.1,324.4 117.1,325 117.2,325.7 117.3,326.1 117.3,326.6 117.4,327.4 117.5,328.5 117.5,329.1 117.6,329.7 117.7,330.1 117.7,329.6 117.8,329.7 117.9,329.7 117.9,330.1 118,329.9 118.1,330.3 118.1,330.2 118.2,330.3 118.3,329.8 118.4,330 118.4,330.3 118.5,330.3 118.6,330 118.6,329.7 118.7,329.7 118.8,329.7 118.8,329.8 118.9,330.3 119,330.2 119,330.1 119.1,330.1 119.2,330.6 119.2,330.4 119.3,330.5 119.4,330.2 119.4,330 119.5,330.2 119.6,330.1 119.6,330.5 119.7,330.4 119.8,330.4 119.8,330 119.9,330 120,330 120.1,329.9 120.1,330.2 120.2,330.3 120.3,329.9 120.3,330.3 120.4,330.5 120.5,330.4 120.5,330.5 120.6,330.6 120.7,330.5 120.7,330.7 120.8,330.4 120.9,330.6 120.9,330.8 121,331 121.1,330.9 121.1,330.4 121.2,330.8 121.3,330.6 121.3,330.7 121.4,330.6 121.5,330.7 121.5,330.6 121.6,330.6 121.7,330.2 121.7,330 121.8,330.4 121.9,330.5 122,330.4 122,330.6 122.1,330.9 122.2,330.8 122.2,330.8 122.3,331 122.4,331 122.4,330.8 122.5,330.6 122.6,330.5 122.6,330.7 122.7,330.6 122.8,330.6 122.8,330.3 122.9,330.1 123,330.2 123,330.3 123.1,330.2 123.2,330.4 123.2,330.6 123.3,330.5 123.4,330.5 123.4,330.5 123.5,330.6 123.6,330.6 123.7,330.8 123.7,330.8 123.8,330.6 123.9,330.7 123.9,330.8 124,330.7 124.1,331 124.1,330.9 124.2,331.1 124.3,331.3 124.3,331.1 124.4,330.9 124.5,330.8 124.5,330.6 124.6,330.5 124.7,330.7 124.7,330.9 124.8,330.7 124.9,330.8 124.9,330.6 125,330.4 125.1,330.9 125.1,331 125.2,331 125.3,330.8 125.4,331.4 125.4,330.9 125.5,331.3 125.6,330.9 125.6,330.8 125.7,330.6 125.8,330.3 125.8,330.5 125.9,330.3 126,330.5 126,330.5 126.1,330.1 126.2,329.7 126.2,330.1 126.3,330.3 126.4,330.7 126.4,330.8 126.5,330.9 126.6,330.9 126.6,331 126.7,330.7 126.8,330.5 126.8,330.6 126.9,330.5 127,330.6 127,330.7 127.1,330.9 127.2,330.6 127.3,330.7 127.3,330.1 127.4,330.1 127.5,330.2 127.5,330.3 127.6,330.3 127.7,330.6 127.7,330.7 127.8,330.7 127.9,330.7 127.9,330.4 128,330.6 128.1,330.9 128.1,330.7 128.2,331 128.3,330.9 128.3,331.3 128.4,331 128.5,331 128.5,330.9 128.6,331 128.7,331.4 128.7,331.1 128.8,330.9 128.9,330.9 129,330.8 129,330.7 129.1,330.4 129.2,330.6 129.2,330.5 129.3,330.2 129.4,330.5 129.4,330.9 129.5,331.1 129.6,330.9 129.6,330.9 129.7,330.7 129.8,330.5 129.8,330.6 129.9,330.5 130,330.4 130,330.7 130.1,330.4 130.2,330.4 130.2,330.6 130.3,330.3 130.4,330.3 130.4,330.1 130.5,330.3 130.6,330.1 130.6,330.1 130.7,330 130.8,330.5 130.9,330.9 130.9,330.8 131,331.1 131.1,330.9 131.1,331.1 131.2,331 131.3,331.2 131.3,331.1 131.4,331 131.5,331 131.5,330.9 131.6,331 131.7,330.6 131.7,330.9 131.8,331.1 131.9,331.1 131.9,331 132,331.2 132.1,331.2 132.1,331.5 132.2,331.4 132.3,331 132.3,331 132.4,331.3 132.5,331.2 132.6,331 132.6,330.6 132.7,330.5 132.8,330.3 132.8,330.4 132.9,330.9 133,331 133,330.9 133.1,331 133.2,331.4 133.2,331.1 133.3,330.9 133.4,331.2 133.4,331.1 133.5,330.6 133.6,330.7 133.6,330.9 133.7,330.9 133.8,330.7 133.8,330.6 133.9,330.6 134,330.6 134,330.5 134.1,330.6 134.2,330.7 134.2,330.8 134.3,330.9 134.4,331 134.5,330.8 134.5,330.8 134.6,331.1 134.7,331.3 134.7,331 134.8,330.9 134.9,330.8 134.9,330.8 135,330.8 135.1,330.8 135.1,330.7 135.2,330.4 135.3,330.5 135.3,330.3 135.4,330.5 135.5,330.5 135.5,330.4 135.6,330.5 135.7,330.5 135.7,330.6 135.8,331.1 135.9,331.3 135.9,330.9 136,330.8 136.1,330.8 136.2,330.7 136.2,330.6 136.3,330.7 136.4,330.5 136.4,330.9 136.5,330.9 136.6,330.7 136.6,330.7 136.7,330.8 136.8,330.7 136.8,330.5 136.9,330.5 137,330.3 137,330.4 137.1,330.1 137.2,330.3 137.2,329.9 137.3,330 137.4,330.1 137.4,330.1 137.5,330.1 137.6,330.5 137.6,330.4 137.7,330.5 137.8,330.4 137.9,330.7 137.9,331.1 138,331.3 138.1,331.4 138.1,331.4 138.2,331.2 138.3,331.2 138.3,331.2 138.4,331.3 138.5,330.9 138.5,330.6 138.6,330.8 138.7,330.7 138.7,330.7 138.8,330.7 138.9,330.6 138.9,331 139,331 139.1,331 139.1,331.1 139.2,330.9 139.3,331.1 139.3,331.1 139.4,331.4 139.5,331.3 139.5,331 139.6,331 139.7,330.9 139.8,331 139.8,331 139.9,330.9 140,331.1 140,331.1 140.1,331.3 140.2,330.9 140.2,331 140.3,330.8 140.4,330.8 140.4,330.6 140.5,330.2 140.6,330.5 140.6,330.9 140.7,331.1 140.8,330.4 140.8,330.4 140.9,330.3 141,330.2 141,330.4 141.1,330.7 141.2,330.2 141.2,330.6 141.3,330.8 141.4,330.6 141.5,330.7 141.5,331 141.6,330.6 141.7,330.2 141.7,330.4 141.8,330.5 141.9,330.7 141.9,330.5 142,330.4 142.1,330.3 142.1,330.1 142.2,330.2 142.3,330.6 142.3,330.8 142.4,330.8 142.5,330.4 142.5,330.5 142.6,331.1 142.7,330.9 142.7,331.1 142.8,330.9 142.9,331.1 142.9,330.8 143,331 143.1,330.9 143.1,330.8 143.2,330.8 143.3,330.8 143.4,331 143.4,331.1 143.5,331.1 143.6,331.1 143.6,330.9 143.7,330.9 143.8,330.8 143.8,330.7 143.9,330.7 144,330.5 144,330.3 144.1,330.1 144.2,330.1 144.2,330.3 144.3,330.4 144.4,330.8 144.4,331 144.5,331.4 144.6,331.3 144.6,331.2 144.7,331 144.8,330.6 144.8,330.5 144.9,330.5 145,330.7 145.1,330.8 145.1,330.7 145.2,331 145.3,330.8 145.3,330.8 145.4,331 145.5,330.9 145.5,330.8 145.6,331.3 145.7,331.3 145.7,331.1 145.8,330.9 145.9,331.1 145.9,331.3 146,331.1 146.1,331 146.1,330.5 146.2,330.8 146.3,330.9 146.3,330.9 146.4,330.7 146.5,330.9 146.5,330.8 146.6,331.3 146.7,331.2 146.7,330.9 146.8,330.7 146.9,330.8 147,330.4 147,330.5 147.1,330.4 147.2,330.5 147.2,330.6 147.3,330.8 147.4,330.8 147.4,330.9 147.5,331.1 147.6,330.7 147.6,331.3 147.7,331.1 147.8,331 147.8,330.8 147.9,330.8 148,330.7 148,330.7 148.1,331.2 148.2,331.7 148.2,331.4 148.3,331.2 148.4,331.5 148.4,331.6 148.5,331.4 148.6,331.4 148.7,331.1 148.7,330.9 148.8,330.8 148.9,330.7 148.9,330.9 149,330.9 149.1,330.8 149.1,330.9 149.2,330.6 149.3,330.5 149.3,330.7 149.4,330.5 149.5,330.3 149.5,330.2 149.6,330.7 149.7,330.5 149.7,330.7 149.8,330.7 149.9,330.9 149.9,330.8 150,330.8 150.1,330.9 150.1,330.9 150.2,330.9 150.3,331.1 150.3,330.9 150.4,331.1 150.5,331 150.6,330.6 150.6,330.8 150.7,330.7 150.8,330.6 150.8,331 150.9,331.1 151,330.8 151,330.9 151.1,331 151.2,331.1 151.2,331.2 151.3,331.4 151.4,330.9 151.4,331.2 151.5,331 151.6,330.6 151.6,330.5 151.7,330.5 151.8,330.8 151.8,330.3 151.9,330.5 152,330.3 152,329.9 152.1,330.2 152.2,330.1 152.3,330.2 152.3,330.1 152.4,330.2 152.5,330.3 152.5,330.2 152.6,330.4 152.7,330 152.7,330.4 152.8,331 152.9,330.7 152.9,331.1 153,331.1 153.1,331.1 153.1,331 153.2,331 153.3,331.1 153.3,331 153.4,330.6 153.5,330.3 153.5,330.5 153.6,330.2 153.7,330.2 153.7,330.2 153.8,330.3 153.9,330.4 154,330.6 154,330.5 154.1,330.4 154.2,330 154.2,329.9 154.3,329.9 154.4,330 154.4,330.2 154.5,330.2 154.6,330.1 154.6,330 154.7,329.9 154.8,330 154.8,329.3 154.9,329.7 155,329.7 155,329.4 155.1,329.5 155.2,329.3 155.2,329.2 155.3,329.3 155.4,329.3 155.4,329.4 155.5,329.9 155.6,330.2 155.6,330 155.7,330.1 155.8,329.7 155.9,329.6 155.9,329.6 156,329.9 156.1,329.9 156.1,329.3 156.2,329.7 156.3,329.5 156.3,329.1 156.4,329.2 156.5,329.1 156.5,329.2 156.6,329 156.7,328.8 156.7,328.5 156.8,328.3 156.9,328.1 156.9,328.1 157,328 157.1,328.4 157.1,328.5 157.2,328.4 157.3,328.4 157.3,328.5 157.4,328.9 157.5,328.8 157.6,328.5 157.6,328.8 157.7,328.6 157.8,328.1 157.8,328 157.9,327.9 158,328.4 158,328 158.1,327.6 158.2,327.1 158.2,326.2 158.3,326.1 158.4,325.6 158.4,326.1 158.5,326.2 158.6,325.7 158.6,326.3 158.7,326.1 158.8,325.2 158.8,325.1 158.9,325.6 159,325.7 159,324.7 159.1,324.2 159.2,322.9 159.2,323.8 159.3,324.6 159.4,323.8 159.5,323.8 159.5,322.6 159.6,323.1 159.7,324.3 159.7,323.4 159.8,321.5 159.9,321.7 159.9,320.3 160,321.3 160.1,321.8 160.1,322.2 160.2,322.9 160.3,322.8 160.3,323 160.4,322.7 160.5,323.1 160.5,322.1 160.6,322.7 160.7,322.7 160.7,321.2 160.8,319.7 160.9,318.8 160.9,319.3 161,320.8 161.1,320.1 161.2,321 161.2,320.7 161.3,322.2 161.4,319.7 161.4,315.6 161.5,317.8 161.6,315.9 161.6,317.1 161.7,315.5 161.8,316.5 161.8,317 161.9,318.3 162,315.8 162,317.4 162.1,316.9 162.2,317.3 162.2,316.5 162.3,317.5 162.4,319.1 162.4,319.8 162.5,319 162.6,320.3 162.6,321 162.7,319 162.8,320 162.8,319.6 162.9,319.8 163,321.3 163.1,321.2 163.1,321.3 163.2,320.8 163.3,320.5 163.3,319 163.4,321.9 163.5,322 163.5,322 163.6,322.9 163.7,321.9 163.7,323.9 163.8,324.7 163.9,324.1 163.9,324.7 164,321.4 164.1,323 164.1,321.6 164.2,322.9 164.3,321.9 164.3,321.5 164.4,324 164.5,324.2 164.5,321.3 164.6,323 164.7,321.8 164.8,321.6 164.8,319.3 164.9,319.4 165,321.7 165,322.1 165.1,321.2 165.2,324 165.2,321.7 165.3,320.9 165.4,321 165.4,319.9 165.5,318.4 165.6,320.4 165.6,318.3 165.7,316.5 165.8,317.4 165.8,315.7 165.9,316.8 166,317.5 166,318.1 166.1,315.5 166.2,315.5 166.2,315.2 166.3,315.4 166.4,315.5 166.5,313.8 166.5,315.1 166.6,314.6 166.7,313.6 166.7,319.8 166.8,320.1 166.9,318.5 166.9,316.8 167,319.1 167.1,317 167.1,317.3 167.2,317.9 167.3,317.2 167.3,313.7 167.4,315 167.5,315.9 167.5,312.3 167.6,314.1 167.7,313.3 167.7,312.9 167.8,310.6 167.9,309.3 167.9,309.7 168,309.9 168.1,312.1 168.1,315.5 168.2,311.7 168.3,311.7 168.4,310.8 168.4,313.4 168.5,312.3 168.6,309.6 168.6,307.6 168.7,307.8 168.8,308.8 168.8,308.2 168.9,309.3 169,309.6 169,307.2 169.1,305.7 169.2,305.5 169.2,307.1 169.3,311.4 169.4,309 169.4,309.8 169.5,311.5 169.6,309 169.6,308.2 169.7,307.2 169.8,306.3 169.8,305.8 169.9,308.1 170,307.3 170.1,306.4 170.1,307.7 170.2,307.1 170.3,308 170.3,309.8 170.4,311.3 170.5,312.2 170.5,310.6 170.6,311.7 170.7,315.7 170.7,312.7 170.8,313.3 170.9,314.7 170.9,312.1 171,312.5 171.1,310.5 171.1,311.4 171.2,314.2 171.3,312.9 171.3,315.2 171.4,317.2 171.5,315.2 171.5,315 171.6,316.7 171.7,316.1 171.7,319.6 171.8,321.7 171.9,319.2 172,319 172,319.8 172.1,317.1 172.2,316.6 172.2,318.8 172.3,321.2 172.4,323.4 172.4,320 172.5,320.5 172.6,322.7 172.6,322.5 172.7,322.2 172.8,321 172.8,320 172.9,320.9 173,321.4 173,322.6 173.1,323.6 173.2,322.9 173.2,322.6 173.3,323.2 173.4,325.1 173.4,324.7 173.5,326.4 173.6,326.1 173.7,324.9 173.7,324.6 173.8,327.2 173.9,324.8 173.9,322.9 174,325.8 174.1,328.6 174.1,326.5 174.2,327 174.3,325.3 174.3,324.1 174.4,324.5 174.5,325.9 174.5,326.4 174.6,329.9 174.7,330 174.7,331.4 174.8,329.4 174.9,327.9 174.9,325 175,324.3 175.1,323.6 175.1,323.1 175.2,324.6 175.3,326 175.3,323.9 175.4,324.6 175.5,326.1 175.6,324.9 175.6,326 175.7,327.8 175.8,329.4 175.8,330.1 175.9,331.2 176,330.5 176,329.1 176.1,327 176.2,326.7 176.2,326 176.3,326.1 176.4,329 176.4,327.5 176.5,327.8 176.6,329 176.6,329.7 176.7,330.1 176.8,327.6 176.8,328.3 176.9,329.5 177,329.9 177,328.8 177.1,328.4 177.2,328.9 177.3,329.2 177.3,327.8 177.4,327.4 177.5,327.7 177.5,327.9 177.6,327.4 177.7,327 177.7,326.6 177.8,326.7 177.9,327.4 177.9,327.5 178,327.5 178.1,328 178.1,328.2 178.2,327.8 178.3,327.9 178.3,328.3 178.4,328.2 178.5,327.9 178.5,329 178.6,328.8 178.7,329 178.7,328.5 178.8,328.5 178.9,328.5 178.9,328.6 179,328.2 179.1,328 179.2,327.3 179.2,327.6 179.3,328.8 179.4,328.5 179.4,328.6 179.5,329.1 179.6,329.4 179.6,328.4 179.7,328.4 179.8,328.4 179.8,328.9 179.9,328.7 180,328.5 180,328.8 180.1,328.3 180.2,327.9 180.2,328.1 180.3,329 180.4,328.3 180.4,328.6 180.5,328.2 180.6,328.8 180.6,329.1 180.7,329.5 180.8,329.9 180.9,329.4 180.9,329.8 181,331 181.1,330.9 181.1,331 181.2,331.1 181.3,330.9 181.3,331.8 181.4,332.6 181.5,332.5 181.5,331.4 181.6,330.6 181.7,330 181.7,330.4 181.8,330.6 181.9,331.5 181.9,331.2 182,330.7 182.1,330.2 182.1,330.6 182.2,331.3 182.3,330.6 182.3,331.2 182.4,330.8 182.5,330.6 182.6,330.7 182.6,330.6 182.7,329.3 182.8,329.4 182.8,329.8 182.9,330 183,331.1 183,331 183.1,331.1 183.2,330.2 183.2,330.4 183.3,331.2 183.4,331.4 183.4,331.4 183.5,330.7 183.6,331.1 183.6,331.4 183.7,330.9 183.8,331 183.8,330.5 183.9,330.8 184,330.3 184,330.7 184.1,330.6 184.2,331.8 184.2,331.6 184.3,330.9 184.4,330 184.5,331.2 184.5,330.7 184.6,330.7 184.7,330.4 184.7,331 184.8,330 184.9,329.7 184.9,329.6 185,329.7 185.1,329.6 185.1,329.3 185.2,329.4 185.3,330.1 185.3,329.5 185.4,330 185.5,330.3 185.5,330.6 185.6,330.4 185.7,331.1 185.7,330.8 185.8,331.1 185.9,331 185.9,331.1 186,331.1 186.1,331.3 186.2,330.2 186.2,329.7 186.3,330.5 186.4,329.6 186.4,330.2 186.5,329.5 186.6,330.4 186.6,330.4 186.7,329.8 186.8,329.7 186.8,329.7 186.9,329.8 187,329.2 187,328.1 187.1,328.7 187.2,327.7 187.2,328 187.3,328.3 187.4,328.7 187.4,327.6 187.5,327.9 187.6,328.7 187.6,329.1 187.7,329.7 187.8,329.6 187.8,328.9 187.9,329.5 188,329.9 188.1,330.2 188.1,329.8 188.2,329.8 188.3,329.8 188.3,328.2 188.4,328.9 188.5,329.6 188.5,329.2 188.6,330.2 188.7,330.4 188.7,330.6 188.8,329.8 188.9,329.9 188.9,329.6 189,328.9 189.1,329.1 189.1,329.9 189.2,329.9 189.3,329.2 189.3,328.7 189.4,328.7 189.5,329.4 189.5,329.7 189.6,330 189.7,330.4 189.8,330.3 189.8,330.1 189.9,330 190,329.6 190,329.1 190.1,328.8 190.2,329.7 190.2,329 190.3,329.3 190.4,329.4 190.4,329.2 190.5,329 190.6,328.9 190.6,328.8 190.7,329.4 190.8,330.3 190.8,330.7 190.9,329.7 191,328.1 191,328.3 191.1,327.9 191.2,328.2 191.2,329.1 191.3,329.2 191.4,329 191.4,329.1 191.5,329.4 191.6,329.3 191.7,328.6 191.7,328.4 191.8,328.1 191.9,328 191.9,328.1 192,327.8 192.1,328.3 192.1,328.5 192.2,328.8 192.3,329 192.3,329.6 192.4,329.2 192.5,329.1 192.5,328.6 192.6,328.6 192.7,328.3 192.7,327.9 192.8,327 192.9,327.4 192.9,326.9 193,327.9 193.1,327.8 193.1,328.3 193.2,328.2 193.3,327.5 193.4,328 193.4,327.2 193.5,327.6 193.6,327.2 193.6,327.1 193.7,326.6 193.8,326.7 193.8,324.8 193.9,325.5 194,325.6 194,326.3 194.1,326.3 194.2,326.6 194.2,327.2 194.3,327.2 194.4,326.8 194.4,326.8 194.5,327.2 194.6,327.8 194.6,328.2 194.7,327.2 194.8,326.8 194.8,326.7 194.9,326.5 195,326.1 195.1,325 195.1,325.9 195.2,326.4 195.3,326.5 195.3,325.9 195.4,325.7 195.5,324.9 195.5,324.8 195.6,325.5 195.7,326.5 195.7,325.6 195.8,325.7 195.9,326.3 195.9,325.4 196,325.1 196.1,324.9 196.1,326.5 196.2,326.3 196.3,326.8 196.3,326.6 196.4,326.7 196.5,326.5 196.5,325.9 196.6,326 196.7,326.5 196.7,327.2 196.8,326.6 196.9,326.7 197,327.1 197,327.8 197.1,328.2 197.2,328.6 197.2,328.8 197.3,328.5 197.4,328.6 197.4,327.7 197.5,328.1 197.6,328.1 197.6,327.8 197.7,329 197.8,327.2 197.8,327 197.9,327 198,327.3 198,327.7 198.1,328.3 198.2,328.5 198.2,328.7 198.3,327.6 198.4,327.9 198.4,327 198.5,327.5 198.6,327.8 198.7,329 198.7,328.7 198.8,328.6 198.9,328.4 198.9,328.5 199,329.1 199.1,329.1 199.1,330 199.2,330.3 199.3,330.3 199.3,329.8 199.4,329.8 199.5,329.9 199.5,328.8 199.6,329 199.7,329.6 199.7,329.9 199.8,330.3 199.9,329.6 199.9,330.8 200,330.4 200.1,330.3 200.1,330.3 200.2,329.6 200.3,329.5 200.3,330.1 200.4,330.6 200.5,331 200.6,331.7 200.6,331.9 200.7,331.6 200.8,330.8 200.8,330.3 200.9,331.3 201,330.3 201,329.6 201.1,329.8 201.2,330.2 201.2,329.7 201.3,329.5 201.4,330.3 201.4,329 201.5,329.6 201.6,330.1 201.6,330.7 201.7,331.1 201.8,330.8 201.8,330.2 201.9,329.6 202,329 202,328.2 202.1,327.5 202.2,328.1 202.3,330.1 202.3,329.6 202.4,330.5 202.5,330.4 202.5,330.9 202.6,330.6 202.7,331.4 202.7,332 202.8,332.2 202.9,331.7 202.9,331.4 203,331 203.1,331.2 203.1,330.8 203.2,329.9 203.3,330.2 203.3,331.4 203.4,330.1 203.5,331.4 203.5,330.8 203.6,331.4 203.7,330.9 203.7,330.9 203.8,330.4 203.9,331 203.9,331.1 204,329.7 204.1,329.7 204.2,328.9 204.2,329 204.3,328.9 204.4,329.4 204.4,329.9 204.5,329.3 204.6,330.1 204.6,329.8 204.7,330.2 204.8,329.8 204.8,330 204.9,330 205,329.8 205,329.5 205.1,330.4 205.2,330.2 205.2,329.7 205.3,329.9 205.4,330 205.4,329.8 205.5,329.6 205.6,329.7 205.6,329.3 205.7,329.5 205.8,330.3 205.9,331 205.9,329.9 206,330.1 206.1,330 206.1,330.1 206.2,329.3 206.3,328 206.3,327.9 206.4,328 206.5,327.9 206.5,328.4 206.6,328.7 206.7,329.1 206.7,328.5 206.8,329.5 206.9,329.6 206.9,330 207,330.4 207.1,329.8 207.1,328.8 207.2,328.2 207.3,328 207.3,328.2 207.4,328.4 207.5,328.7 207.5,328.6 207.6,328.7 207.7,329.8 207.8,331.3 207.8,331 207.9,331.4 208,331.8 208,331.4 208.1,331.1 208.2,329.8 208.2,329 208.3,328.6 208.4,328.7 208.4,328.6 208.5,329.5 208.6,328.9 208.6,330.1 208.7,329.8 208.8,330.5 208.8,330.5 208.9,330.3 209,329.6 209,329.6 209.1,329.3 209.2,328.8 209.2,329.4 209.3,330.2 209.4,330.5 209.5,330.2 209.5,330.9 209.6,330.5 209.7,329.6 209.7,330.5 209.8,330.5 209.9,329.8 209.9,330.6 210,331.2 210.1,329.8 210.1,329.6 210.2,330.3 210.3,329.5 210.3,330.1 210.4,329.7 210.5,330.1 210.5,329.5 210.6,329.5 210.7,328.5 210.7,328.4 210.8,328.6 210.9,329 210.9,328.3 211,328.6 211.1,327.7 211.2,327.5 211.2,327.8 211.3,327.7 211.4,327.8 211.4,327.7 211.5,327.9 211.6,329 211.6,329 211.7,330.2 211.8,329.7 211.8,328.8 211.9,329 212,330 212,329.9 212.1,330.8 212.2,330.8 212.2,331.6 212.3,330.7 212.4,330.3 212.4,330.2 212.5,331 212.6,330.6 212.6,331 212.7,330.9 212.8,330.6 212.8,329.5 212.9,329.9 213,329.9 213.1,329.3 213.1,329 213.2,329.1 213.3,329.6 213.3,329.1 213.4,329.4 213.5,329.7 213.5,329.8 213.6,329.6 213.7,329.1 213.7,329.9 213.8,328.9 213.9,328.2 213.9,329.4 214,328.8 214.1,328.8 214.1,329.2 214.2,328.8 214.3,329.7 214.3,330.1 214.4,329 214.5,329.1 214.5,329 214.6,329.1 214.7,329.2 214.8,329 214.8,328.1 214.9,327.1 215,327.8 215,328.1 215.1,328.2 215.2,328.1 215.2,329 215.3,329.6 215.4,329.5 215.4,329 215.5,329.7 215.6,329.5 215.6,330 215.7,329.6 215.8,329.7 215.8,330.4 215.9,330.3 216,330.8 216,330.3 216.1,330.2 216.2,330.3 216.2,330.3 216.3,330.9 216.4,330.2 216.4,329.8 216.5,329.5 216.6,329.9 216.7,329.9 216.7,329.8 216.8,330.3 216.9,330.3 216.9,330.2 217,330.3 217.1,329.8 217.1,329.5 217.2,328.6 217.3,329.1 217.3,329.9 217.4,329.4 217.5,328.9 217.5,329.1 217.6,329.2 217.7,329 217.7,329 217.8,328 217.9,328.4 217.9,327.9 218,328 218.1,327.3 218.1,327.1 218.2,327.5 218.3,327.2 218.4,327.6 218.4,328.3 218.5,327.7 218.6,328.8 218.6,328.3 218.7,328.1 218.8,328.2" fill="none" stroke="#e8141c" stroke-width="0.6" stroke-linejoin="round" clip-path="url(#c3)"/>
<path d="M42.3,330.3h0M42.4,328.4h0M42.7,331.9h0M43.2,333.7h0M43.8,329.6h0M43.8,335.9h0M44,334.4h0M44.3,329.5h0M44.4,324.7h0M44.5,332.6h0M44.6,328.6h0M44.7,334.4h0M44.8,333.5h0M44.8,335.7h0M45.1,336.3h0M45.4,334.3h0M45.6,330.6h0M45.7,332.3h0M45.9,335h0M45.9,330.7h0M46.1,335.4h0M46.3,335.4h0M46.6,334.1h0M46.7,334.9h0M46.8,334.1h0M47.2,330.2h0M47.2,335.7h0M47.4,336.3h0M47.5,329.2h0M47.6,332.8h0M47.8,333.2h0M47.9,336.4h0M48,334.7h0M48.2,332.6h0M48.5,327.2h0M48.7,329.4h0M48.9,332.8h0M48.9,329.2h0M49.1,332.3h0M49.1,326.1h0M49.3,329.2h0M49.4,327h0M49.7,331.7h0M49.8,325.9h0M49.9,334.4h0M50.1,326.1h0M50.1,329.7h0M50.4,332.7h0M50.4,331.6h0M50.8,330.7h0M50.8,321.7h0M50.9,333.2h0M51,330.9h0M51.2,334h0M51.4,331.6h0M51.6,299.8h0M51.8,328h0M51.8,308.2h0M52,325.9h0M52.1,326.4h0M52.1,329h0M52.2,334.5h0M52.3,327.4h0M52.4,328.5h0M52.5,333.7h0M52.8,325.7h0M52.9,333h0M53.1,325.7h0M53.2,327.9h0M53.3,331.1h0M53.5,333.9h0M53.6,335.1h0M53.7,326.8h0M53.7,329.4h0M53.9,335.2h0M54,331.5h0M54,331.8h0M54.2,325.2h0M54.4,335.5h0M54.5,326.4h0M54.6,321.4h0M54.6,329.8h0M55,330.9h0M55.2,335.4h0M55.4,329.3h0M55.5,327.5h0M55.6,326.1h0M55.7,328.3h0M55.9,333.6h0M56.1,329.3h0M56.2,330h0M56.6,336.4h0M56.8,331.5h0M56.9,329h0M57,332.1h0M57.1,324.6h0M57.1,329.3h0M57.3,318.8h0M57.6,330.6h0M57.7,324.9h0M57.8,328.9h0M57.8,328.2h0M58,331.7h0M58.2,333.3h0M58.7,329.5h0M58.8,326.4h0M59,321.4h0M59.3,335.4h0M59.3,321.1h0M59.4,329.4h0M59.5,336.6h0M60.1,330.1h0M60.2,334.6h0M60.5,331.7h0M60.5,331.1h0M60.6,335.3h0M60.7,332.7h0M60.9,334.5h0M60.9,330.4h0M61,326.1h0M61.1,330.2h0M61.2,327.5h0M61.4,332.3h0M61.5,335.3h0M61.7,329.7h0M61.8,331.8h0M61.9,331.1h0M62.3,324.9h0M62.4,317.5h0M62.5,328h0M62.6,324.3h0M62.6,328h0M62.7,327h0M62.8,325.7h0M62.9,322.4h0M63,322.9h0M63.1,331.7h0M63.2,329.4h0M63.3,326.9h0M63.5,328.9h0M63.8,325h0M63.9,324.8h0M64.2,322h0M64.3,326.6h0M64.4,326.8h0M64.6,324.5h0M64.6,330.2h0M64.7,328.1h0M65.1,328.4h0M65.2,331.3h0M65.2,330.9h0M65.5,328.7h0M65.6,329.6h0M65.7,325.3h0M65.9,323.8h0M66,324.9h0M66.4,332.1h0M66.5,317h0M66.7,324.3h0M66.9,319.3h0M67.1,328.6h0M67.3,322.4h0M67.4,323.5h0M67.5,331.6h0M67.6,322.1h0M67.7,327.8h0M68,324.9h0M68.3,325.1h0M68.4,323.9h0M68.4,329.8h0M68.8,325.9h0M69.2,320.2h0M69.3,321h0M69.4,323h0M69.4,325.9h0M69.6,320h0M69.7,322.8h0M70.3,325.5h0M70.3,323.5h0M70.5,329h0M70.6,330h0M70.8,327.7h0M71.1,316.5h0M71.3,323.5h0M71.4,334.4h0M71.7,329.1h0M71.8,325.5h0M71.8,323.8h0M71.9,321h0M72.2,323.5h0M72.4,323.6h0M72.4,322.7h0M72.6,327h0M72.9,316.9h0M73,320.2h0M73,319.4h0M73.2,324.1h0M73.4,321.9h0M73.6,324.9h0M73.7,326.9h0M74,333.4h0M74.1,332.5h0M74.1,334.9h0M74.2,328.5h0M74.5,329.5h0M74.6,328.7h0M74.7,325.3h0M74.9,323.1h0M75.1,325.4h0M75.2,328.5h0M75.4,328.9h0M75.6,326.9h0M75.7,321.8h0M75.8,326h0M75.9,334.7h0M76,329.5h0M76.2,332.5h0M76.2,329.3h0M76.3,333.2h0M76.4,331.4h0M77.1,333.8h0M77.2,326.5h0M77.3,333.4h0M77.5,333h0M77.5,336.8h0M77.9,328.6h0M78.5,329.9h0M78.6,333.7h0M78.7,332.8h0M78.8,332.9h0M79,332.1h0M79.1,331.4h0M79.2,330.7h0M79.3,332.1h0M79.5,330.5h0M79.6,334.8h0M79.6,333.6h0M79.8,332.5h0M79.9,329.9h0M80.1,332.7h0M80.2,330.7h0M80.3,332.4h0M80.4,331.7h0M80.7,329.7h0M80.8,334.4h0M81.1,329.9h0M81.3,329.5h0M81.3,329.5h0M81.4,331.1h0M81.6,331.1h0M81.9,331.8h0M81.9,330.3h0M82.1,331.1h0M82.1,330.7h0M82.2,332.1h0M82.3,318.6h0M82.5,331.2h0M82.6,332.9h0M82.7,330.4h0M83,329.9h0M83.1,331.9h0M83.2,329.1h0M83.5,328.5h0M83.6,330.6h0M83.7,330.4h0M83.9,323.4h0M84,333.9h0M84.1,329h0M84.2,326.1h0M84.3,330.2h0M84.5,330.4h0M84.6,331.9h0M84.8,326.8h0M84.9,335.8h0M85,331.3h0M85.1,333.2h0M85.2,331.8h0M85.3,327.9h0M85.7,330.5h0M85.7,335h0M85.8,330.5h0M86.2,331.8h0M86.4,331.2h0M86.4,323.9h0M86.6,330.4h0M86.6,326.2h0M86.7,327.2h0M86.8,325.7h0M86.9,329.8h0M87,327.1h0M87.2,327.7h0M87.3,330.8h0M87.4,330h0M87.5,331.4h0M87.9,330.8h0M88.1,326.8h0M88.2,326.5h0M88.3,329.1h0M88.7,326.9h0M88.7,327.3h0M88.9,324.3h0M89,323.1h0M89.2,322.3h0M89.4,325.9h0M89.5,329.2h0M89.8,329.7h0M89.9,327.8h0M90,324.3h0M90.1,321.7h0M90.2,324.3h0M90.4,332.6h0M90.5,330.1h0M90.6,326.8h0M90.8,330h0M90.9,327h0M91,329.2h0M91.2,332.2h0M91.5,320.2h0M91.6,330.6h0M91.7,321.7h0M91.9,331.3h0M91.9,331.8h0M92,333.6h0M92.3,327.7h0M92.4,327.7h0M92.5,327.9h0M92.5,329.2h0M92.6,330.4h0M92.7,333.1h0M92.8,332.4h0M92.9,327.7h0M93,323.4h0M93.2,327.8h0M93.2,329.4h0M93.6,324.5h0M94,329.3h0M94,326.8h0M94.1,326.1h0M94.2,327.2h0M94.3,327.4h0M94.4,325.1h0M95,325.3h0M95.2,326.4h0M95.3,326.8h0M95.4,324.9h0M95.5,330.1h0M95.7,324.1h0M95.8,323.1h0M95.9,321.3h0M96,326.6h0M96.2,324.2h0M96.3,326.6h0M96.5,325.6h0M96.9,324.8h0M97,324.3h0M97.1,326.4h0M97.2,330.5h0M97.3,328.8h0M97.5,329.7h0M97.6,327.2h0M97.8,321.6h0M97.9,329h0M98,330.1h0M98,329.1h0M98.1,331.6h0M98.2,329.3h0M98.3,325h0M98.4,320.7h0M98.6,326.7h0M98.9,327.3h0M99.2,325.9h0M99.3,332.4h0M99.6,324.2h0M99.7,327.6h0M99.9,333.1h0M99.9,333h0M100,327.6h0M100.1,329.8h0M100.3,331.3h0M100.6,330.1h0M100.6,329.7h0M100.8,327.6h0M101,331.5h0M101.1,330.7h0M101.4,308.9h0M101.7,329.7h0M101.8,333.4h0M101.9,332.8h0M102,328.7h0M102.3,331.2h0M102.5,333.4h0M102.6,330.7h0M102.8,331.9h0M102.9,331.8h0M103,331.4h0M103.1,331h0M103.1,330.9h0M103.3,331h0M103.3,331h0M103.5,332.2h0M103.5,331.5h0M103.7,331.1h0M103.7,331.8h0M104.2,332.4h0M104.6,332.4h0M104.7,331.8h0M104.8,332.1h0M105.1,332.7h0M105.2,332h0M105.3,332.5h0M105.4,332.1h0M105.4,332h0M105.5,331.1h0M105.6,332.1h0M105.7,331.9h0M106.3,330.5h0M106.7,331.1h0M107,331.3h0M107.1,331.5h0M107.2,331.2h0M107.3,331.4h0M107.5,332.1h0M107.8,332.3h0M107.8,331.8h0M107.9,331.7h0M108,328h0M108.3,331.2h0M108.4,329.7h0M108.4,331h0M108.6,332.1h0M108.8,332.9h0M108.8,331.2h0M109.4,331.6h0M109.5,332.3h0M109.5,331.9h0M109.6,332.4h0M109.7,331.7h0M109.7,331.5h0M109.9,332.1h0M110.1,331.6h0M110.1,331.8h0M110.3,330.3h0M110.5,330.8h0M110.5,331.1h0M110.6,330.8h0M110.7,330.5h0M110.7,331.7h0M110.8,318.7h0M110.9,330h0M111.2,330.4h0M111.3,323.7h0M111.4,330.3h0M111.6,330.3h0M111.7,330.2h0M112,329.3h0M112.4,329.5h0M112.6,330.5h0M112.9,329.1h0M113.1,325.3h0M113.3,322.7h0M113.5,320.8h0M113.8,316.8h0M113.9,315.5h0M114,314.9h0M114.3,311.2h0M114.3,310.5h0M114.5,309.2h0M114.5,307.8h0M115,308.6h0M115.2,309.2h0M115.4,309.2h0M115.5,309.8h0M115.6,310h0M115.6,309.6h0M115.8,311.6h0M116,315.1h0M116.1,315.5h0M116.2,316.1h0M116.4,304.5h0M116.5,319h0M116.6,320.1h0M117.2,325.9h0M117.3,326.3h0M117.8,329.2h0M118.1,330.5h0M118.1,329.8h0M118.3,329.9h0M118.5,330.8h0M118.6,329.3h0M118.8,329h0M119,330.3h0M119.1,330.3h0M119.2,329.8h0M119.4,330.5h0M119.6,331.3h0M119.8,329.2h0M119.9,329.5h0M120.2,330h0M120.3,328.6h0M120.4,330.6h0M120.5,330.6h0M120.6,329.8h0M120.7,329.6h0M121,331.2h0M121.1,330.5h0M121.1,331.2h0M121.6,330.3h0M121.7,324.8h0M122,330.3h0M122.2,331.2h0M122.3,330.8h0M122.4,331.3h0M122.6,329.3h0M122.6,330.6h0M122.8,330.8h0M122.8,330.3h0M123,329.9h0M123.1,329.8h0M123.2,330.4h0M123.4,326.8h0M123.6,330.6h0M124.2,331.2h0M124.3,331.5h0M124.3,331.8h0M124.4,330h0M124.5,331.3h0M124.5,329.1h0M124.7,330.9h0M124.8,330.1h0M124.9,330.6h0M124.9,330.4h0M125.1,331h0M125.3,331.3h0M125.4,331.5h0M125.5,331.6h0M125.6,330.7h0M125.9,330.2h0M126,330h0M126.3,331.3h0M126.4,331.4h0M126.5,331.8h0M126.8,330.4h0M127,330.6h0M127.1,330.6h0M127.2,331h0M127.3,330.8h0M127.3,330.6h0M127.4,330.3h0M127.5,330.1h0M127.8,331.3h0M128.1,329.6h0M128.3,330.5h0M128.4,331.6h0M128.5,331.1h0M128.6,330.5h0M128.7,330.5h0M128.8,331h0M128.9,330.8h0M129.1,329.9h0M129.4,330.8h0M129.6,331.6h0M129.6,331.6h0M129.7,331.5h0M129.8,331h0M129.9,331h0M130,330.4h0M130.4,330.2h0M130.5,329.8h0M130.6,329.6h0M130.7,330.1h0M130.8,325.9h0M130.9,332.5h0M131.1,331.5h0M131.2,331h0M131.3,330.7h0M131.3,332.4h0M131.5,331h0M131.9,330.8h0M131.9,331.2h0M132.3,319.6h0M132.4,330.9h0M132.5,331.6h0M132.6,330.8h0M132.8,331h0M132.9,332.3h0M133,329.1h0M133.1,331.2h0M133.2,331.8h0M133.7,332h0M134,329.9h0M134.1,330.2h0M134.2,330.5h0M134.3,330.9h0M134.8,330.8h0M134.9,330.8h0M135.1,330.2h0M135.1,331h0M135.2,329h0M135.3,331.5h0M135.4,331.6h0M135.6,330.3h0M136.1,332.1h0M136.3,330.8h0M136.4,330.5h0M136.4,332.2h0M136.6,329.7h0M136.9,330.3h0M137,331.1h0M137,330h0M137.1,331.6h0M137.5,329.8h0M137.7,331.3h0M137.8,329.9h0M137.9,331.4h0M138.1,332.3h0M138.1,331h0M138.2,330.3h0M138.3,330.9h0M138.7,331h0M139,331.1h0M139.5,331.1h0M139.8,330.2h0M139.9,331h0M140,331.5h0M140,331.9h0M140.2,330h0M140.4,331.7h0M140.5,329.7h0M140.7,331.9h0M140.8,330h0M141,330h0M141.1,330.6h0M141.2,329.5h0M141.5,331.5h0M141.6,329.9h0M141.7,330.4h0M141.7,329.9h0M141.8,330.2h0M141.9,330h0M142,320.8h0M142.4,331h0M142.5,330.7h0M142.7,330.1h0M142.7,331.3h0M142.8,330.5h0M142.9,330.9h0M143,330.4h0M143.1,330h0M143.1,331h0M143.6,331.5h0M144,329.2h0M144,331h0M144.2,330.1h0M144.3,330.6h0M144.8,330.8h0M145,331.2h0M145.1,332.2h0M145.2,331.6h0M145.3,329.8h0M145.3,330.3h0M146.1,330.9h0M146.2,331.6h0M146.3,330.8h0M146.4,331.4h0M146.5,330.4h0M146.7,330.9h0M147.1,331.7h0M147.4,329.9h0M147.5,330.6h0M147.6,330.7h0M147.8,330.8h0M148,330.1h0M148,330.6h0M148.2,331.3h0M148.2,331.8h0M148.6,331.7h0M148.9,329.8h0M149,331.1h0M149.1,330.9h0M149.5,330.3h0M149.7,331.6h0M149.8,329.9h0M150,330.5h0M150.1,331.2h0M150.3,330.5h0M150.4,331.2h0M150.6,330.9h0M150.9,330.3h0M151,331.7h0M151.1,330.8h0M151.2,331.1h0M151.4,331.2h0M151.8,329.7h0M151.8,330.5h0M152.3,324.3h0M152.4,331.3h0M152.6,331.1h0M152.7,330.8h0M152.9,331.9h0M153,330.7h0M153.1,332.1h0M153.1,330.3h0M153.5,330.6h0M153.7,328.5h0M153.7,330.2h0M153.8,331.2h0M154.1,331.1h0M154.3,329.7h0M154.6,330.4h0M154.8,327.3h0M155.1,329.3h0M155.3,328.9h0M155.6,331h0M155.9,329.5h0M155.9,329.4h0M156,329.2h0M156.3,330.3h0M156.4,329.1h0M156.5,330.1h0M156.5,329.1h0M156.6,330.3h0M156.8,328.1h0M157,326.8h0M157.1,329.4h0M157.2,328.9h0M157.3,328.9h0M157.4,329.1h0M157.5,328.7h0M157.6,329.7h0M157.8,329.1h0M157.9,328.3h0M158,327.2h0M158,307.1h0M158.1,327.7h0M158.2,326.3h0M158.5,325.5h0M158.6,324.4h0M158.7,324h0M158.8,328.5h0M159,323.9h0M159.1,324.9h0M159.2,321h0M159.2,321.8h0M159.3,322.8h0M159.4,325.8h0M159.6,317.2h0M159.9,320.6h0M160.1,307.5h0M160.1,324.4h0M160.5,320.3h0M160.6,326.4h0M160.9,322.1h0M161,321.6h0M161.2,332h0M161.4,310.2h0M161.5,309.9h0M161.6,309.5h0M162,313.6h0M162.6,320.6h0M162.9,318.7h0M163.1,317.5h0M163.3,306.3h0M163.5,324.2h0M163.6,320.6h0M163.9,327.4h0M164.1,312.8h0M164.2,324.8h0M164.3,319.8h0M164.3,314.3h0M164.5,322.6h0M164.8,324.4h0M164.8,323.4h0M164.9,317.7h0M165,328.6h0M165.2,326.2h0M165.2,327.3h0M165.4,324.1h0M165.5,315.9h0M165.6,318h0M166.1,307.9h0M166.2,325.6h0M166.2,318.3h0M166.3,324.9h0M166.5,309.9h0M167.1,317.8h0M167.1,319.3h0M167.3,319.2h0M167.4,314.5h0M167.6,309.5h0M167.7,309.6h0M167.8,306.8h0M167.9,311.6h0M167.9,302.9h0M168.1,308.4h0M168.1,309.1h0M168.4,314.1h0M168.5,309.2h0M168.8,306.8h0M168.8,315.8h0M169.1,307.9h0M169.2,300.2h0M169.4,309.5h0M169.4,310.4h0M169.6,310.4h0M169.6,311.9h0M169.8,306.1h0M169.8,301.1h0M169.9,291.7h0M170,304.8h0M170.1,302h0M170.3,307.1h0M170.3,307.2h0M170.4,306.3h0M170.5,315h0M170.7,317.2h0M170.9,311.7h0M170.9,315.4h0M171,312.3h0M171.2,305h0M171.3,308.1h0M171.5,313.6h0M171.7,326.4h0M172.2,317.8h0M172.2,317.7h0M172.4,327.7h0M172.5,315.9h0M172.7,320.8h0M172.8,316h0M172.9,315.9h0M173,317.2h0M173,319.3h0M173.5,327h0M173.6,331h0M173.7,332.5h0M173.7,315.6h0M173.9,326.3h0M174,329.5h0M174.3,331.6h0M174.5,322h0M174.6,333.2h0M174.9,321.9h0M175.3,332.9h0M175.4,324.3h0M175.6,323.4h0M175.7,330h0M176,328.6h0M176,323.4h0M176.1,333.3h0M176.3,326.1h0M176.6,335.4h0M176.7,331.8h0M176.8,329.9h0M177.4,327.4h0M177.6,323.8h0M177.7,324h0M178.3,327.3h0M178.5,327.8h0M178.8,329.4h0M178.9,329h0M179,328.3h0M179.1,328.6h0M179.2,327.1h0M179.3,330.4h0M179.4,327h0M179.4,329.9h0M179.5,328.5h0M179.6,329.6h0M179.7,327.4h0M179.8,328.6h0M180,329.3h0M180.1,330.3h0M180.3,329.9h0M180.6,330.7h0M181,334.9h0M181.2,331.2h0M181.3,331.6h0M181.3,333.6h0M181.5,330.3h0M181.9,333.4h0M181.9,332h0M182.1,332.9h0M182.1,333h0M182.3,331.3h0M182.5,333h0M182.6,333.1h0M182.7,331.1h0M182.8,328.5h0M183,330.4h0M183.1,331.4h0M183.2,330.2h0M183.4,330.5h0M183.4,329h0M183.5,331.6h0M183.7,331.2h0M183.8,333.6h0M183.8,329.2h0M184,329.7h0M184,331h0M184.2,334.1h0M184.7,328.9h0M184.8,332.9h0M184.9,328.5h0M185,319.9h0M185.2,330.3h0M185.3,330.2h0M185.5,332.8h0M185.7,329.9h0M185.7,328.4h0M186,329.2h0M186.2,332.3h0M186.5,329.3h0M187,327.2h0M187,329.6h0M187.2,326.6h0M187.4,327.6h0M187.6,330.7h0M187.8,332h0M188,329h0M188.1,326.1h0M188.2,329.1h0M188.4,329.1h0M188.5,331.5h0M188.7,330.7h0M188.8,329.1h0M189,331.4h0M189.1,326.8h0M189.3,328.1h0M189.6,329.5h0M189.8,330.9h0M189.9,325.1h0M190,330.8h0M190.3,332.9h0M190.8,328.8h0M190.8,333.1h0M191,327h0M191,327.9h0M191.2,324.3h0M191.3,328.5h0M191.4,326h0M191.4,329.9h0M191.5,328.8h0M191.6,331h0M192.1,331.3h0M192.3,327h0M192.3,332.1h0M192.9,328.5h0M192.9,326.3h0M193,327.9h0M193.1,329.6h0M193.1,329.8h0M193.2,322.5h0M193.3,329.8h0M193.4,328.4h0M193.4,327.2h0M193.8,325.4h0M194,328.2h0M194.2,325.2h0M194.2,326.1h0M194.4,324.8h0M194.6,327.1h0M194.6,329.2h0M194.7,326.7h0M194.8,324.3h0M194.8,324.8h0M194.9,328.6h0M195,326.2h0M195.1,328.7h0M195.5,323.9h0M195.7,327.9h0M195.7,326.1h0M195.8,328.6h0M196.2,326.9h0M196.3,326.8h0M196.4,327.3h0M196.5,322.5h0M196.5,326.8h0M196.7,329.4h0M196.9,323.4h0M197,324.8h0M197,326.6h0M197.2,330h0M197.4,329.7h0M197.5,330.7h0M197.6,327.9h0M197.8,329.4h0M198,325.7h0M198.2,327.9h0M198.2,326.6h0M198.4,329.8h0M198.5,329.8h0M198.7,326.4h0M199,326.4h0M199.1,329h0M199.1,327.8h0M199.2,326.5h0M199.4,328.9h0M199.7,331.9h0M200.1,329.1h0M200.1,331.8h0M200.2,325.6h0M200.4,334h0M200.5,330.8h0M200.7,329.9h0M200.9,332.4h0M201.1,328.9h0M201.2,327h0M201.3,329h0M201.6,331.9h0M201.6,333.2h0M201.8,328.6h0M202,328.9h0M202.1,329.3h0M202.2,328.8h0M202.3,331.8h0M202.4,332.5h0M202.7,332.8h0M202.8,331.1h0M202.9,332.5h0M203,331.1h0M203.5,334.2h0M203.5,331.2h0M203.7,332.1h0M203.9,330.3h0M204,331.3h0M204.2,330.2h0M204.3,330.9h0M204.4,334h0M204.4,328.5h0M204.7,330.1h0M204.8,330.6h0M204.9,328.6h0M205,327.6h0M205.3,330.8h0M205.4,328.7h0M205.5,330.8h0M205.6,329.7h0M205.8,329.3h0M205.9,329.2h0M206,329.9h0M206.1,329.3h0M206.1,329.4h0M206.5,329.5h0M206.5,328.4h0M206.6,327h0M206.8,330.4h0M207.1,330.7h0M207.3,328.4h0M207.5,329h0M207.5,326.4h0M207.8,328.8h0M208,331.7h0M208.4,329.7h0M208.4,329.1h0M208.6,331.4h0M208.9,328.8h0M209.1,328.8h0M209.3,330.3h0M209.5,328.9h0M209.7,328.1h0M209.9,330.1h0M210.2,330.6h0M210.3,328.2h0M210.3,327.3h0M210.5,330.9h0M210.6,329.5h0M210.7,327.4h0M210.7,327.1h0M210.9,331.3h0M211.1,329h0M211.2,328.6h0M211.4,324.3h0M211.5,326.5h0M211.9,327.9h0M212.3,333.6h0M212.6,332.4h0M212.8,332.1h0M212.8,329.4h0M213,330.1h0M213.3,329.2h0M213.4,328.5h0M213.5,328.5h0M213.6,328.4h0M213.7,325.8h0M213.9,330.8h0M214.5,330.6h0M214.5,329.1h0M214.7,330.3h0M215.2,325.9h0M215.3,306h0M215.5,329.8h0M215.6,327.9h0M215.7,329.6h0M215.8,327.9h0M216.1,327.5h0M216.2,331.3h0M216.4,328.4h0M216.5,330.6h0M216.6,326.8h0M216.7,328.8h0M216.7,329.2h0M216.9,332.4h0M217,331.9h0M217.1,329.5h0M217.2,328.2h0M217.3,332.5h0M217.4,329.5h0M217.5,330.7h0M217.6,329.1h0M217.7,329.7h0M217.8,328.1h0M217.9,327.7h0M218.1,323.1h0M218.2,328.5h0M218.3,328.3h0M218.5,329.4h0M218.6,325.7h0" fill="none" stroke="#e8141c" stroke-width="1.4" stroke-linecap="round"/>
<rect x="42.2" y="190.2" width="203.8" height="147.8" fill="none" stroke="#9c9c9c" stroke-width="0.9"/>
<text x="36.3" y="340" font-size="6" text-anchor="end" fill="#222" stroke="#222" stroke-width="0.12">0</text>
<text x="36.3" y="311" font-size="6" text-anchor="end" fill="#222" stroke="#222" stroke-width="0.12">500</text>
<text x="36.3" y="281" font-size="6" text-anchor="end" fill="#222" stroke="#222" stroke-width="0.12">1000</text>
<text x="36.3" y="252" font-size="6" text-anchor="end" fill="#222" stroke="#222" stroke-width="0.12">1500</text>
<text x="36.3" y="222" font-size="6" text-anchor="end" fill="#222" stroke="#222" stroke-width="0.12">2000</text>
<text x="36.3" y="192" font-size="6" text-anchor="end" fill="#222" stroke="#222" stroke-width="0.12">2500</text>
<text x="42.2" y="349" font-size="6" text-anchor="middle" fill="#222" stroke="#222" stroke-width="0.12">0</text>
<text x="76.2" y="349" font-size="6" text-anchor="middle" fill="#222" stroke="#222" stroke-width="0.12">500</text>
<text x="110.1" y="349" font-size="6" text-anchor="middle" fill="#222" stroke="#222" stroke-width="0.12">1000</text>
<text x="144.1" y="349" font-size="6" text-anchor="middle" fill="#222" stroke="#222" stroke-width="0.12">1500</text>
<text x="178.1" y="349" font-size="6" text-anchor="middle" fill="#222" stroke="#222" stroke-width="0.12">2000</text>
<text x="212" y="349" font-size="6" text-anchor="middle" fill="#222" stroke="#222" stroke-width="0.12">2500</text>
<text x="246" y="349" font-size="6" text-anchor="middle" fill="#222" stroke="#222" stroke-width="0.12">3000</text>
<text x="19.8" y="264.8" font-size="7.45" text-anchor="middle" fill="#111" font-weight="bold" stroke="#111" stroke-width="0.2" transform="rotate(-90 19.8 264.8)">NH4-N (mg/L)</text>
<text x="144.6" y="358" font-size="7.2" text-anchor="middle" fill="#111" font-weight="bold" stroke="#111" stroke-width="0.2">Time (days)</text>
<path d="M195.6,198h0" fill="none" stroke="#1080d4" stroke-width="1.4" stroke-linecap="round"/>
<text x="198.9" y="199" font-size="7.3" text-anchor="start" fill="#1080d4" stroke="#1080d4" stroke-width="0.15">NH4-N Inlet</text>
<path d="M196.7,312.7h0" fill="none" stroke="#ee1414" stroke-width="1.4" stroke-linecap="round"/>
<text x="199.5" y="316" font-size="7.3" text-anchor="start" fill="#ee1414" stroke="#ee1414" stroke-width="0.15">NH4-N Outlet</text>
<line x1="331.9" y1="189.5" x2="331.9" y2="337.5" stroke="#efefef" stroke-width="0.7"/>
<line x1="371.2" y1="189.5" x2="371.2" y2="337.5" stroke="#efefef" stroke-width="0.7"/>
<line x1="410.5" y1="189.5" x2="410.5" y2="337.5" stroke="#efefef" stroke-width="0.7"/>
<line x1="449.8" y1="189.5" x2="449.8" y2="337.5" stroke="#efefef" stroke-width="0.7"/>
<line x1="292.6" y1="321.1" x2="489.1" y2="321.1" stroke="#efefef" stroke-width="0.7"/>
<line x1="292.6" y1="304.6" x2="489.1" y2="304.6" stroke="#efefef" stroke-width="0.7"/>
<line x1="292.6" y1="288.2" x2="489.1" y2="288.2" stroke="#efefef" stroke-width="0.7"/>
<line x1="292.6" y1="271.7" x2="489.1" y2="271.7" stroke="#efefef" stroke-width="0.7"/>
<line x1="292.6" y1="255.3" x2="489.1" y2="255.3" stroke="#efefef" stroke-width="0.7"/>
<line x1="292.6" y1="238.8" x2="489.1" y2="238.8" stroke="#efefef" stroke-width="0.7"/>
<line x1="292.6" y1="222.4" x2="489.1" y2="222.4" stroke="#efefef" stroke-width="0.7"/>
<line x1="292.6" y1="205.9" x2="489.1" y2="205.9" stroke="#efefef" stroke-width="0.7"/>
<line x1="298" y1="337.5" x2="457.7" y2="210.5" stroke="#8db4e6" stroke-width="0.5"/>
<path d="M380.4,266.5h0M380.4,272.7h0M354.8,294.8h0M368,287.9h0M368.3,278.6h0M369.5,276.7h0M415.4,252.3h0M362.1,286.3h0M361.9,284.2h0M358.4,295.9h0M390.6,264.6h0M359.3,286.3h0M366.3,287.2h0M387.3,268.6h0M384.7,265.2h0M347.2,303.9h0M407.5,252.2h0M374.2,274.7h0M388.8,263.8h0M375.4,272.7h0M405.3,258.4h0M360.7,285.6h0M354.8,294.4h0M377.2,288.7h0M398.3,254.8h0M368.1,278.3h0M388,262.2h0M402.3,256.2h0M337.9,304.3h0M398.4,259.3h0M393.3,269.1h0M358,287.6h0M367.5,282.1h0M358.5,288.1h0M386.6,263.4h0M355.3,293.1h0M382.7,265.6h0M398.8,257.6h0M330.8,308.8h0M378.1,279.7h0M367.2,281.2h0M358.1,289.2h0M378.4,271.1h0M366,280.9h0M335.2,304.4h0M355.6,289.3h0M368.1,281.1h0M352.4,293.6h0M339.5,300.2h0M422.1,240.7h0M400,271.9h0M396.7,256h0M370.9,277.8h0M323.6,313.5h0M362.3,283.1h0M380.1,267.4h0M358.7,287.7h0M355.7,290.8h0M376,276.8h0M414.7,243.3h0M375.5,271.7h0M371.7,281.2h0M353.4,292.6h0M402.4,255.3h0M377.2,270.8h0M369.3,278.1h0M363.9,282.7h0M358.2,288.7h0M376.2,291.7h0M416.1,254.5h0M373.2,285.4h0M383.7,271.9h0M355.6,288.1h0M379,269.7h0M341.2,300.6h0M403.7,257.8h0M361.1,291.2h0M383.6,271.2h0M375.7,282.4h0M403.9,260.9h0M385.8,271.5h0M386.8,265.5h0M338.1,305.5h0M348.9,302h0M348.2,297.4h0M349.4,292.1h0M351.7,297.4h0M389.5,268.3h0M368.5,282.7h0M369.9,277.4h0M349.4,294.6h0M349,293h0M339.8,303.6h0M392.2,262.6h0M371.3,277.5h0M384.4,268.2h0M373.8,273.8h0M348.9,290.8h0M367.1,282.2h0M322,315.6h0M383.8,268.4h0M369.1,279h0M373.2,279.4h0M370.7,277.3h0M381.6,270h0M363.3,289.4h0M369,285.1h0M353.5,289.6h0M362.9,282.1h0M375.2,279.9h0M388,261.7h0M360.1,286h0M337.8,304.3h0M327.6,311.6h0M362.4,283.5h0M352.1,293.5h0M380.9,280.8h0M403.5,273.3h0M351.1,295.3h0M396.7,260.7h0M394.8,263.1h0M347.3,297.9h0M358.5,290.2h0M384.1,280.9h0M350.8,292h0M346.5,299.2h0M385.5,265.1h0M355.7,288.3h0M354.5,289.8h0M383,267.9h0M371.4,278.5h0M374.5,277h0M401,251.2h0M398.3,265.7h0M333,309.3h0M390.7,265.1h0M370.8,278.6h0M377.8,282.9h0M388.7,269.5h0M410.3,254.1h0M388.4,263.3h0M368.4,281.9h0M380.4,268.6h0M337.8,304h0M382.5,268.9h0M375.5,282.4h0M344.7,303.2h0M339.8,301.6h0M341.4,299.8h0M352.1,292.7h0M382,270.5h0M366,282.9h0M354.8,289.6h0M363.6,282.6h0M396.6,261h0M363,287.4h0M351.8,292.6h0M416.6,241.4h0M351.3,293.4h0M379.7,272h0M388.4,266.1h0M372.6,276.7h0M364.5,284.2h0M396.7,259.7h0M372,274.4h0M383,284.8h0M368.4,282.6h0M404.9,256.3h0M350.1,293.4h0M342.7,298.1h0M351,292.1h0M366.7,282.1h0M363.9,286.9h0M372.1,278.4h0M355.4,304.6h0M379.5,269.8h0M339.4,301.9h0M342.7,300h0M363.5,287.7h0M354.1,294.2h0M351.8,293.2h0M356.6,288.8h0M353.6,297.5h0M374.8,279.9h0M384.2,264.7h0M395.6,257.5h0M372.4,289.7h0M354.2,297.1h0M346,296.2h0M346,296.5h0M335.4,307.5h0M381.7,270.3h0M405.6,254.2h0M366.9,293h0M374.3,284.7h0M321.9,316.6h0M367.6,284.1h0M355.4,291.1h0M370.3,282.7h0M351.7,294.3h0M353.2,294.7h0M350.6,296.4h0M355.2,292.8h0M412.1,245.8h0M383.4,268.3h0M338.1,303.2h0M364.1,284.2h0M361.2,283.9h0M412.8,247h0M330.6,307.1h0M382.5,268.8h0M386.6,269.6h0M414.7,243.2h0M405.4,251.9h0M365.6,289.5h0M334.8,304.3h0M347.6,301.2h0M354.5,289.6h0M364.6,281.5h0M354.5,290.4h0M340.2,302.1h0M382.3,270.8h0M371.8,276.8h0M360.5,286h0M358.5,286.8h0M355.3,289.1h0M346.9,302.5h0M423.1,242.9h0M361.7,285.6h0M356.1,299.2h0M401.4,275.1h0M361.3,287.6h0M375.7,274.6h0M347.4,296.5h0M360.4,285.8h0M329.9,310.4h0M379.4,272.1h0M413.5,243.4h0M374.8,278.6h0M377.1,275.1h0M394.7,259.8h0M394.5,260h0M350.4,291.4h0M353.1,292.8h0M362.2,284.7h0M396.6,260.4h0M344,300.2h0M357.2,288.9h0M364.2,282.8h0M369.8,289.3h0M373.9,277.8h0M361.2,289.2h0M395.6,256.7h0M353.2,299h0M413.7,242.7h0M373.6,276.2h0M384,268.4h0M342.5,302.7h0M376.3,274.1h0M342.4,299.5h0M337.4,306.1h0M385.9,263.6h0M368.8,278.7h0M343.9,297.3h0M324.8,313.7h0M384.3,266.1h0M369,280.7h0M385.8,262.7h0M389.1,275.1h0M393.3,269.2h0M319.6,317.3h0M382.5,276.8h0M327.2,310.9h0M392.2,267h0M376.6,272.2h0M367.6,285.4h0M366.2,283.5h0M333.1,306.2h0M365.6,281.5h0M363.6,282.7h0M375.8,274.2h0M410.4,247h0M356.1,294.7h0M382.3,277.6h0M406.4,252.8h0M351.9,297.3h0M348.7,302.1h0M350.5,293.2h0M342.1,298.3h0M331,310.1h0M380.8,273.8h0M400.1,252.7h0M380.2,274.1h0M355.5,290.8h0M354.3,291.1h0M373.1,276.4h0M351.5,295.6h0M364.2,279.3h0M356.2,290.2h0M387.5,272.5h0M381.6,269.2h0M371.3,276.5h0M343.7,300.2h0M357.2,290.7h0M384.3,276.1h0M407.2,256.8h0M357.1,288.1h0M424.9,231.9h0M359.8,291.9h0M359.8,284.5h0M375.8,277.1h0M354.2,291.3h0M369.2,281.3h0M371.1,280.2h0M358.8,286h0M362.6,283.9h0M380.7,268.6h0M395.6,258.8h0M417.4,248.4h0M372.7,274.9h0M337.2,307.8h0M358.8,286.4h0M333.5,306.3h0M370.5,275.5h0M353.6,297.7h0M375.8,278.3h0M362.9,287.7h0M368.6,279.9h0M359.8,284.7h0M402.1,256.7h0M328.4,311.5h0M392.5,258.6h0M393.7,265.5h0M381.8,270.8h0M374.4,273.5h0M377.8,271.4h0M359.5,290.8h0M345.5,297.8h0M386.3,261.7h0M385,275.6h0M388.8,278.4h0M366,284.6h0M392,264.4h0M382.8,266.6h0M409.8,252.3h0M369.1,277.5h0M322.6,314.9h0M345.8,303.3h0M377.3,279.6h0M338.2,301.5h0M383.9,266.9h0M352.6,291.6h0M371.3,281.5h0M374.8,275.3h0M349.5,294.9h0M376.9,285.8h0M393.6,261h0M356.3,290.8h0M360.9,288.6h0M354.6,294h0M381.7,276.9h0M389.4,262.4h0M353.4,289.3h0M358.6,285.4h0M385.5,267.2h0M368.7,282.5h0M404.7,248.9h0M366.1,289.6h0M352.9,291h0M340.2,302.3h0M352.5,298.4h0M328.6,311.4h0M372.6,275.4h0M403.8,250.1h0M332.3,306.8h0M336,308.3h0M341.3,299.4h0M362.5,281.7h0M345.8,301.1h0M384.8,266.8h0M389.4,281.3h0M352,290.4h0M361.6,301.4h0M350.7,294.9h0M381.4,271.4h0M406.7,248.2h0M345.2,299.1h0M357.1,285.8h0M343.1,299.7h0M377.8,272.7h0M377.5,269.8h0M350.3,298h0M362.4,283h0M416.7,244h0M413.3,252.8h0M348.8,297.5h0M368.5,278.5h0M359.8,287h0M378.1,272.1h0M344,296.6h0M380.9,271.2h0M391.3,260.7h0M396.2,261.7h0M336.7,302.2h0M409.7,252.1h0M348.8,295.2h0M338.4,302.6h0M394.8,257.6h0M389.3,269.3h0M368.8,279.1h0M389.8,269h0M385.1,264.4h0M377.4,272.8h0M346.4,296.8h0M362.3,285.3h0M369.9,281.8h0M396.2,263.7h0M404.2,253.9h0M366.9,278.9h0M356.9,290.1h0M352.6,289.8h0M389.8,265.1h0M355.8,287.8h0M416.7,274.2h0M374.3,275.9h0M373.3,273.6h0M385,267.6h0M369.9,280.3h0M350.7,294.8h0M372.5,278.1h0M379.2,268.4h0M359.4,294.2h0M365.6,286.9h0M369.5,280.5h0M329.9,309h0M353.4,293h0M367.4,279.8h0M345.7,298.2h0M381.2,270.3h0M382.2,268.5h0M322.3,314.3h0M357.9,292.1h0M380.1,271.5h0M363.5,288.2h0M381.7,271.8h0M383.9,268.4h0M337.3,303.8h0M375.9,273.9h0M351,297.7h0M320,317.9h0M381.5,272.2h0M353.6,297.5h0M367.7,277.8h0M385.4,262.5h0M392.3,262.8h0M364.8,281.5h0M350.4,293.3h0M356.5,290.3h0M394.1,263.4h0M363.2,288.5h0M409.4,257.4h0M404.6,272.2h0M356.2,289.2h0M410.2,247.9h0M358.1,288.5h0M368.1,280.5h0M369.5,279.9h0M348.2,295.4h0M372.9,274.7h0M384.3,270.3h0M420.8,239.6h0M400.2,256.2h0M358.6,286.1h0M377.5,277h0M395.5,259h0M368,286.8h0M352.8,297.5h0M367.9,279.9h0M345.6,302.8h0M371.9,279.1h0M358.7,287.6h0M395.7,266.5h0M364.8,284h0M342.9,299.2h0M385.3,267.2h0M364,288.6h0M349.6,292.6h0M375.7,277.8h0M351.9,291.7h0M331.4,306.6h0M342.8,299.8h0M392.3,258.9h0M400.1,255.2h0M358.4,287.5h0M375.6,272.7h0M329.6,310.8h0M386,271h0M363.9,282.6h0M379.7,274.8h0M360.6,291.8h0M366.2,279.7h0M330.7,308.9h0M375.9,273.5h0M354.7,290.4h0M372.8,275.1h0M402.1,255.8h0M388.7,262.6h0M374.1,276.5h0M372.9,288.5h0M384.8,265.9h0M356.2,288.8h0M324.6,313.1h0M352,299.6h0M356.9,293.6h0M376,274.7h0M375.2,273h0M338.5,303.1h0M365.2,281.2h0M365.1,282.2h0M364.2,283.8h0M363.1,284.3h0M386.4,265.4h0M368.4,280.5h0M408.4,258.8h0M368.8,279.8h0M392.6,283.9h0M394.8,257.2h0M330.9,312.3h0M370.3,278.5h0M374.9,274h0M377.9,273.7h0M375.3,276.1h0M392.4,265h0M384.9,270.5h0M360.1,287h0M392,267.9h0M361.6,289.2h0M374.3,278.3h0M353.8,297.3h0M336.7,312.1h0M341.2,302.2h0M398.4,257.7h0M382.7,265h0M351.8,291.6h0M381.7,273.6h0M345,299.5h0M348.1,294.6h0M327.2,309.8h0M356.9,289.8h0M377.9,278.4h0M419.4,239.6h0M358.7,286.3h0M371.4,278.6h0M374.3,278.5h0M385.3,267.9h0M350.7,296.8h0M340.9,307.2h0M384.9,270.2h0M338.3,307.4h0M377.2,271.9h0M354.7,290.4h0M366.7,280h0M376.5,275h0M327.3,311.5h0M413.6,245.9h0M336,306.3h0M341,300.1h0M378.1,274.9h0M346.8,298.1h0M371.3,279.8h0M357.9,296.8h0M363.2,285.1h0M357.8,288.7h0M358.6,288.8h0M356.3,290.4h0M407.5,253.4h0M378.2,270.7h0M341.1,299.8h0M357.6,287.2h0M383.5,265.1h0M394.2,262.9h0M334.5,309.6h0M361.8,285.7h0M349.6,295.7h0M400.6,262.3h0M378.3,279.2h0M355.6,294.4h0M337.6,304.1h0M361.3,287.3h0M363.3,282.4h0M367.7,278.8h0M378.2,274.5h0M365.2,282.3h0M322.4,317.2h0M346.8,295.6h0M352.3,292.1h0M336.7,301.9h0M392.1,264.1h0M337.4,303.3h0M373,275.9h0M369.8,289h0M366.6,288.8h0M362.3,281.6h0M343.8,300.2h0M365.7,298.5h0M383,273.9h0M340.4,301.2h0M393.9,263h0M349.4,293.3h0M384.3,264.9h0M358.1,289.6h0M400.9,253.2h0M400.2,252.8h0M401.6,252.7h0M411.6,244.3h0M358.9,289.2h0M329.6,310.4h0M336.9,304.3h0M384.4,268.3h0M384.6,268.9h0M340.3,300.1h0M378.1,274.1h0M351.6,293.8h0M349.7,305.9h0M367.1,284.2h0M331.2,308.4h0M380.1,270.7h0M375.8,274.6h0M402.1,251.4h0M384.2,270.3h0M372.4,276.5h0M390.8,272.6h0M362,283.1h0M368.6,278h0M338.4,302.1h0M349.8,294h0M364.9,284h0M388.3,278.7h0M401.5,253.5h0M402.3,251.8h0M356.7,291.7h0M365,280.9h0M346.3,298.7h0M330.2,310.3h0M386.9,269.6h0M334.5,308.1h0M381.6,270.7h0M353.5,299h0M361.5,282.7h0M389.8,263.8h0M347,297h0M379.1,280h0M346.1,296.3h0M364.8,285.2h0M363,288.3h0M369.2,277.8h0M337.5,304.8h0M359.7,287.6h0M374,282.1h0M348.7,298.9h0M378.5,271.1h0M376.9,271.2h0M363.6,284.9h0M355.5,288.4h0M369.7,283.4h0M348.8,299.4h0M374.9,276.9h0M367.2,280.6h0M394.7,257.9h0M362.9,292.2h0M342.5,298.3h0M372.5,277.8h0M356.9,290h0M397.9,273.5h0M342.9,300h0M350,291.8h0M358.7,285.9h0M358.4,290.6h0M367.5,279.4h0M419.6,237.4h0M361.6,285.7h0M395.7,260.6h0M351.9,292.6h0M352.3,292.9h0M363.5,281.9h0M401.1,259.1h0M371.7,281.2h0M375.2,274.7h0M353.4,294.6h0M362.9,284.8h0M417.8,241.4h0M338.9,301.5h0M318.4,316.3h0M360.3,284.8h0M341.5,298.5h0M333.6,306h0M372.8,274.6h0M363.3,285.9h0M357,304.6h0M383.1,279.9h0M387.9,262.1h0M367.6,285h0M384.2,272.6h0M332.2,309.8h0M372.9,274.5h0M341.1,303.4h0M361.8,284.4h0M397.2,257.5h0M362.9,287.4h0M407.2,263.4h0M392.5,259.1h0M382.7,276.3h0M338,304.9h0M366.1,281.1h0M375,274.2h0M385,273.1h0M364.6,281.7h0M331.9,315.8h0M384.7,269.4h0M329.4,310h0M347.2,296.1h0M318.6,317.6h0M364.9,285.7h0M382.8,276.3h0M385.8,268.2h0M341.2,302h0M375.9,272.7h0M370.3,279.8h0M376.9,272.7h0M385.3,277.1h0M374.1,279.8h0M404.6,258.4h0M340.9,300.6h0M376.8,279.5h0M372.3,274.5h0M338.9,305.8h0M371.1,279.9h0M362.4,284.4h0M344.9,298.5h0M378.9,278.3h0M363.4,281.6h0M388.9,263.6h0M359,286.9h0M398.5,262h0M377.2,279h0M375.4,275.8h0M390.7,269.8h0M414.5,249.4h0M367.5,280.5h0M372.3,276.4h0M367.6,279h0M375.1,273.9h0M327.1,312.2h0M403.1,255.4h0M406.7,257.7h0M401.1,258.1h0M370,278.3h0M332.4,306.3h0M345.2,297.5h0M370.8,278.8h0M357.9,288h0M333.1,305.8h0M354.8,291.3h0M331.1,308h0M336.8,304.6h0M371.9,291.1h0M348.4,295.4h0M338.2,302.9h0M347,294.1h0M350.8,293.9h0M377.1,279.9h0M386.4,265h0M383.2,271.6h0M356,294.9h0M355.9,292.7h0M407,251.3h0M369.7,280.8h0M355,292.8h0M386.8,266.7h0M343.4,300.3h0M401.2,257.5h0M406.4,251.5h0M384.1,266.9h0M374.1,279.6h0M383.2,272.2h0M375.1,273.8h0M425,239.3h0M351.9,290.1h0M356.8,286.6h0M392.6,262.7h0M369.8,281.4h0M393.3,261.8h0M369.5,278.3h0M355.7,291.4h0M345.2,297.2h0M364.9,280.2h0M359.1,300.1h0M387.8,265.3h0M377.8,275.6h0M328.3,311.5h0M391.3,271h0M359.8,290.2h0M341.8,301.3h0M414.7,247.8h0M366.5,284.2h0M371.8,276.4h0M381.8,276.7h0M342.9,306.1h0M372.1,278.3h0M374.9,275.3h0M356.2,288.4h0M376.6,272.1h0M386.1,268.1h0M375.6,277h0M324,312.7h0M361.6,286.1h0M377.1,275h0M404.4,251h0M385.4,266.6h0M379.5,269.7h0M344.1,296.8h0M384,267.5h0M424,239.6h0M370.6,275.2h0M361,284.1h0M372.7,280.5h0M383.9,275.4h0M360.1,285.5h0M372.2,276.3h0M346,295.6h0M363.1,284.6h0M369.1,292.8h0M358.2,289h0M346.7,296.2h0M407.8,263h0M370.8,277h0M387.1,266h0M336.6,302.9h0M365.2,281.5h0M361.9,283.8h0M414.5,244h0M387.9,266.2h0M366.6,283.2h0M382.5,274.7h0M372.5,274.7h0M379.5,268.7h0M333.1,308.3h0M318.5,316.6h0M366.9,279.7h0M369.2,286.4h0M369.6,277.7h0M400.9,253.7h0M364.2,286h0M370.4,280.1h0M358,287.4h0M329.2,310.9h0M342.9,299.7h0M352.5,297.8h0M364.1,286.2h0M402.8,253h0M376.3,272.8h0M364,286.8h0M328.5,311.9h0M383.6,267h0M357.8,291h0M373.7,274h0M373,275.7h0M378.3,274.5h0M374.5,277.7h0M351,298.1h0M364.1,283h0M347,304.6h0M364.2,287.7h0M376.4,270.4h0M378.3,275.5h0M350.2,293.3h0M401.4,265.6h0M364.4,279.9h0M319.9,317.9h0M398.6,253.5h0M389.9,267.5h0M398.8,253.4h0M367.3,279.2h0M361.9,289.7h0M353,292.6h0M384.6,269.1h0M387.8,269h0M386.2,271.1h0M387.7,265.1h0M353.9,291h0M374.5,274.5h0M383.9,268.1h0M367.9,286.2h0M409.2,245.9h0M322.5,315.8h0M379.4,271h0M363.1,285.4h0M370.1,279.4h0M370.1,279.1h0M365.2,283.9h0M372.2,276.6h0M366.6,280.3h0M338.4,302.9h0M383.7,269.3h0M382.7,269.8h0M343.5,298.6h0M380.3,276.5h0M368.9,283h0M378.2,274.8h0M369.6,289.3h0M350,298.8h0M377.3,275h0M329.4,315.4h0M402.8,253.2h0M350.3,292.6h0M352.2,302.3h0M383.6,276.9h0M367.6,277.2h0M386.4,263.8h0M410.8,244.7h0M384.5,275.7h0M365.5,285.7h0M346.2,301.7h0M366.5,283.9h0M345.5,297.2h0M373.3,277.8h0M351.7,291.5h0M355.9,288.7h0M346.6,295.8h0M383,267.7h0M385.8,264.2h0M323.8,314.8h0M396.3,259.8h0M359.2,285.9h0M373.8,276.1h0M379.2,275.3h0M359.7,295.7h0M370.2,277.3h0M382.1,275.5h0M354.6,291.5h0M373.5,275.1h0M389.1,265.5h0M366,282.6h0M363.7,289.5h0M358.4,287.8h0M356.3,290.9h0M362.4,281.6h0M338.9,301.7h0M367.2,283.1h0M353.6,292.6h0M375.6,278.5h0M406.4,266.8h0M388.8,265h0M358.6,290.3h0M380,270.1h0M368.6,283.2h0M351,291.7h0M381.6,276.5h0M394.5,257.8h0M383.4,272.3h0M370.2,282.6h0M347.5,296.6h0M362.4,295.7h0M382.5,268.5h0M375.2,274.5h0M386.4,265.3h0M357.7,289h0M389.4,262.2h0M385.2,265.7h0M402.6,256.6h0M401.1,255.2h0M388.9,268.1h0M358.4,287.1h0M336.9,306.1h0M353.8,289.3h0M348.7,295h0M336.9,302.4h0M358.5,289.1h0M390.1,267.4h0M354.1,290.1h0M370.1,279.3h0M383,275h0M348.4,294.9h0M360.2,286h0M352.9,291.4h0M333.7,307.9h0M379.8,270.6h0M385.5,267.7h0M385.9,268.5h0M368.5,280.9h0M348.3,299.3h0M397.1,261.9h0M325.3,313.6h0M373.1,275.4h0M360.9,283.7h0M339.4,303.1h0M390.7,265.9h0M402.2,256.8h0M359.1,287.5h0M357.7,285.2h0M371.3,275.1h0M361.6,287.1h0M411.5,247.6h0M344.1,299.3h0M348.8,294.3h0M375.8,275h0M354.4,287.9h0M353.7,291.3h0M356.3,287.2h0M363.4,284h0M391.5,259.7h0M343.8,298.8h0M386.4,262.8h0M345.6,296.6h0M344.1,297.6h0M386.6,269.5h0M377.7,271.1h0M385.9,267.2h0M387.5,272.2h0M355.6,290.2h0M347.7,295.9h0M373.2,275.1h0M347.7,294.8h0M364.7,281.6h0M406,250.7h0M338.3,302.4h0M343,299.1h0M385.2,280.2h0M389,265.2h0M363.2,283.7h0M373.4,274.1h0M358.9,295.5h0M356,290.2h0M370.6,276.2h0M384.3,265.9h0M336,308h0M331.6,315h0M372.5,282.1h0M354.5,296.9h0M383.3,268.2h0M369.5,283.4h0M360,286.8h0M368.3,278.8h0M367,288.4h0M353.2,292.6h0M332.9,311.9h0M382.2,279.8h0M402,262h0M372,275.8h0M371.2,278.2h0M366.1,285.2h0M374.9,275.7h0M363,286.4h0M377,273.2h0M376.5,281.1h0M372.2,285.1h0M407.1,252h0M357.1,291.3h0M362.1,285.6h0M350.7,294.2h0M364.2,281.3h0M371,279.4h0M406,259h0M363.5,281.8h0M363.6,282.2h0M370.7,277h0M348.5,296.6h0M365.3,281.5h0M324.1,314.2h0M382.5,272h0M383.1,267.9h0M384.8,270.3h0M404.1,256.7h0M383.8,270.4h0M395.8,260.9h0M384.7,266h0M372.8,278.2h0M377.6,277.9h0M385.1,276.9h0M383.6,271.7h0M339,307.2h0M344.7,298.3h0M353.4,288.6h0M340.4,301.6h0M353.4,291.7h0M348.9,295.3h0M342.8,300.9h0M365.8,279.6h0M393.2,263.1h0M397.9,259.2h0M402.7,254h0M397.8,260.8h0M406.3,251.2h0M374,276.5h0M335.3,304.8h0M349.6,305.2h0M356.8,286.6h0M349.7,295.3h0M390.7,260h0M362.6,289.8h0M411.1,259.7h0M404.7,256h0M329.8,308.7h0M357.3,291.2h0M387.6,268.8h0M377.4,271.1h0M367.1,286.4h0M367.1,278.8h0M359.2,288.3h0M355.2,289.7h0M381.9,282.4h0M369.1,277.1h0M350.6,296.1h0M327.8,312.1h0M374.7,279h0M364.5,283.6h0M370.9,283.5h0M341.3,304.4h0M371.1,281.7h0M364,281.3h0M392.2,258.3h0M342,300.6h0M402.8,250.9h0M371.1,283h0M413.3,242.9h0M378.7,281.8h0M371.4,277.7h0M350.6,307.6h0M410.4,261.9h0M401.1,250.8h0M376.1,275.2h0M363.6,287h0M361.2,285.7h0M364.1,300.9h0M374.1,278.5h0M350.9,292.7h0M357.9,290.3h0M377.2,272.5h0M360.7,293.3h0M358.4,285.6h0M392.8,264.3h0M402.1,259h0M380.6,272.7h0M378.2,270h0M376.6,274.8h0M369.2,280.2h0M373.5,276.2h0M380.6,275.3h0M350.5,297.5h0M341.4,300.7h0M354.3,289.2h0M353.6,290.2h0M381.1,270.5h0M387.9,264.6h0M370.3,283.2h0M344.4,297.4h0M341.3,301.5h0M330.8,310h0M367.7,290h0M383.6,266h0M354.2,291.7h0M360.4,286.7h0M371.9,277.1h0M367.7,278h0M380.7,272.4h0M360.4,288.1h0M362.6,281h0M365.2,284.9h0M397.6,257.4h0M369.7,279.3h0M391,258.6h0M365.2,282h0M390.6,265.3h0M370.4,276.7h0M345.8,296h0M336.1,308.7h0M390,260.1h0M350.9,295.1h0M367.8,282.3h0M338.5,301.9h0M374.8,275.2h0M352.6,290.5h0M405.9,258.4h0M354.7,292.4h0M385.1,270.3h0M425.2,237.6h0M401.4,256.5h0M387,269h0M345.6,297.1h0M399.9,262h0M407.5,251.5h0M362.7,284.9h0M371.6,285.6h0M359.2,286.6h0M351.7,296.4h0M371.2,277.6h0M380.2,270.6h0M378.1,274.5h0M395.2,255.8h0M383.2,273.2h0M375.4,273h0M400.1,254.8h0M351.3,295.4h0M370.4,277.1h0M380.1,270h0M390,265h0M346.9,300.2h0M397.1,259.4h0M341.7,307.6h0M355.2,288.1h0M398.4,256.9h0M327.2,312.8h0M364.3,288.7h0M403.6,252.5h0M389.9,276.6h0M373.6,273.7h0M367.5,280.8h0M381.1,269.8h0M334,307.3h0M403.7,252.4h0M360.7,283.5h0M355.8,286.8h0M393.8,262.2h0M386.1,266.7h0M377.6,273.4h0M380.3,288.2h0M372.4,292.8h0M339.6,301.6h0M328.4,309.6h0M391,274.8h0M385.3,266.2h0M370.3,276.4h0M404.9,255.5h0M359.1,287.9h0M356.9,289.1h0M387.5,264.8h0M320.8,316.5h0M312.1,324.6h0M312.4,322.4h0M322.3,313.8h0M320,323.4h0M320.3,317.8h0M313.2,322.7h0M315.6,323.1h0M311.1,326.9h0M312.6,324.4h0M305.9,326.4h0M307.7,325.6h0M318.8,315.9h0M306.3,328.6h0M321.4,317h0M317.2,319.9h0M318.4,319h0M307.7,326.3h0M319.4,318.6h0M317.4,317.9h0M312.3,322.1h0M306.2,326.5h0M322.3,314.5h0M316.5,319.4h0M317.3,320.3h0M318.9,317.5h0M318.5,319.4h0M313.3,322h0M310,324.2h0M321.6,314.5h0M421.1,236h0M425.2,258.4h0M402.3,252.2h0M402.4,252h0M411,249.1h0M428.5,244.2h0M425.3,235.8h0M430,228.8h0M427.3,233h0M401.1,252.4h0M400.7,256.1h0M407.2,250.6h0M417.9,246.4h0M425.9,235.4h0M428.8,232.6h0M409.7,245.8h0M417.7,239.5h0M409.8,249.1h0M414.9,242.6h0M425.8,235.5h0M418.6,241.2h0M427.7,235.1h0M402.9,258.9h0M425,237.2h0M421.1,236.8h0M402.6,268h0M419.2,243.2h0M417.7,246.2h0M429.1,240.3h0M410.1,250.2h0M293.3,336.9h0M299.6,337h0M325.8,335.8h0M307.5,334.5h0M307.1,332.6h0M337.5,323h0M342,323h0M338.7,326.3h0M367.9,303.7h0M361.2,308h0M347.5,309.5h0M351.2,310.5h0M347,316.3h0M351.9,315h0M352.9,317.5h0M457.7,209.2h0M439.7,220h0M450.7,219.5h0M453.9,221.3h0M444.7,228.8h0M434,226.3h0M435.2,227.5h0M432.7,237.5h0M420.3,247.5h0M430.2,229h0M428.2,231.4h0" fill="none" stroke="#1f70d2" stroke-width="2.2" stroke-linecap="round"/>
<rect x="292.6" y="189.5" width="196.5" height="148" fill="none" stroke="#969696" stroke-width="0.9"/>
<text x="286.5" y="340" font-size="7" text-anchor="end" fill="#222" stroke="#222" stroke-width="0.12">0</text>
<text x="286.5" y="324" font-size="7" text-anchor="end" fill="#222" stroke="#222" stroke-width="0.12">1000</text>
<text x="286.5" y="307" font-size="7" text-anchor="end" fill="#222" stroke="#222" stroke-width="0.12">2000</text>
<text x="286.5" y="291" font-size="7" text-anchor="end" fill="#222" stroke="#222" stroke-width="0.12">3000</text>
<text x="286.5" y="274" font-size="7" text-anchor="end" fill="#222" stroke="#222" stroke-width="0.12">4000</text>
<text x="286.5" y="258" font-size="7" text-anchor="end" fill="#222" stroke="#222" stroke-width="0.12">5000</text>
<text x="286.5" y="242" font-size="7" text-anchor="end" fill="#222" stroke="#222" stroke-width="0.12">6000</text>
<text x="286.5" y="225" font-size="7" text-anchor="end" fill="#222" stroke="#222" stroke-width="0.12">7000</text>
<text x="286.5" y="209" font-size="7" text-anchor="end" fill="#222" stroke="#222" stroke-width="0.12">8000</text>
<text x="286.5" y="192" font-size="7" text-anchor="end" fill="#222" stroke="#222" stroke-width="0.12">9000</text>
<text x="292.6" y="349" font-size="7" text-anchor="middle" fill="#222" stroke="#222" stroke-width="0.12">0</text>
<text x="331.9" y="349" font-size="7" text-anchor="middle" fill="#222" stroke="#222" stroke-width="0.12">2000</text>
<text x="371.2" y="349" font-size="7" text-anchor="middle" fill="#222" stroke="#222" stroke-width="0.12">4000</text>
<text x="410.5" y="349" font-size="7" text-anchor="middle" fill="#222" stroke="#222" stroke-width="0.12">6000</text>
<text x="449.8" y="349" font-size="7" text-anchor="middle" fill="#222" stroke="#222" stroke-width="0.12">8000</text>
<text x="489.1" y="349" font-size="7" text-anchor="middle" fill="#222" stroke="#222" stroke-width="0.12">10000</text>
<text x="267.7" y="266.8" font-size="7.3" text-anchor="middle" fill="#111" font-weight="bold" stroke="#111" stroke-width="0.2" transform="rotate(-90 267.7 266.8)">NH4-N Load removed (kg/d)</text>
<text x="390.8" y="358.4" font-size="7.25" text-anchor="middle" fill="#111" font-weight="bold" stroke="#111" stroke-width="0.2">NH4-N Load (kg/d))</text>
<text x="462.5" y="240" font-size="7.3" text-anchor="middle" fill="#222" stroke="#222" stroke-width="0.12">y = 0.95x - 260</text>
<text x="462.5" y="248" font-size="7.3" text-anchor="middle" fill="#222" stroke="#222" stroke-width="0.12">R<tspan dy="-2.6" font-size="4.4">2</tspan><tspan dy="2.6"> = 0,9637</tspan></text>
<line x1="84.5" y1="370.5" x2="84.5" y2="518" stroke="#f0f0f0" stroke-width="0.7"/>
<line x1="124.9" y1="370.5" x2="124.9" y2="518" stroke="#f0f0f0" stroke-width="0.7"/>
<line x1="165.4" y1="370.5" x2="165.4" y2="518" stroke="#f0f0f0" stroke-width="0.7"/>
<line x1="205.8" y1="370.5" x2="205.8" y2="518" stroke="#f0f0f0" stroke-width="0.7"/>
<line x1="44.1" y1="488.5" x2="246.2" y2="488.5" stroke="#f0f0f0" stroke-width="0.7"/>
<line x1="44.1" y1="459" x2="246.2" y2="459" stroke="#f0f0f0" stroke-width="0.7"/>
<line x1="44.1" y1="429.5" x2="246.2" y2="429.5" stroke="#f0f0f0" stroke-width="0.7"/>
<line x1="44.1" y1="400" x2="246.2" y2="400" stroke="#f0f0f0" stroke-width="0.7"/>
<clipPath id="c5"><rect x="44.1" y="370.5" width="202.1" height="147.5"/></clipPath>
<path d="M44.7,466.9C44.8,464 44.9,454 45.2,450.9C45.6,447.7 46,451.8 46.4,449.4C46.8,447 47.1,438.3 47.6,437.8C48,437.2 48.4,448.6 48.7,446.5C49.1,444.4 49.3,441.8 49.6,426.1C49.9,410.4 50.1,358.1 50.5,359.2C50.8,360.2 51.2,416.7 51.6,431.9C52.1,447.1 52.4,444.6 52.8,443.6C53.2,442.5 53.6,426.6 54,426.1C54.4,425.6 54.8,439.1 55.1,440.7C55.5,442.2 55.7,442.2 56,434.8C56.3,427.5 56.6,414.1 56.9,399.9C57.1,385.8 57.2,357.3 57.5,356.3C57.7,355.2 58.1,383.1 58.3,394.1C58.6,405.1 58.7,407.4 58.9,417.4C59.2,427.3 59.4,449.4 59.8,449.4C60.2,449.4 60.5,416.9 61,417.4C61.4,417.9 61.7,448.6 62.1,452.3C62.5,456 62.8,443 63.3,437.8C63.8,432.5 64.2,434.2 64.7,423.2C65.3,412.2 65.8,379.3 66.2,376.6C66.6,374 66.8,395 67.1,408.7C67.4,422.3 67.6,449.7 67.9,452.3C68.3,454.9 68.7,424.3 69.1,423.2C69.5,422.2 69.8,447 70.3,446.5C70.7,446 71,413.2 71.4,420.3C71.9,427.4 72.2,480 72.6,485.8C73,491.5 73.3,462 73.8,452.3C74.2,442.6 74.5,429.3 74.9,431.9C75.3,434.6 75.7,467.9 76.1,466.9C76.5,465.8 76.8,429.3 77.3,426.1C77.7,423 78,447.8 78.4,449.4C78.8,451 79.2,435.4 79.6,434.8C80,434.3 80.2,445.7 80.7,446.5C81.3,447.3 82,439 82.5,439.2C83,439.5 83.1,447.6 83.7,447.9C84.2,448.3 84.8,441.5 85.4,441.3C86,441 86.5,446.7 87.1,446.5C87.8,446.3 88.2,440.9 88.9,440.1C89.6,439.3 90.2,441.9 90.9,442.1C91.7,442.3 92.2,439.7 93,441.3C93.8,442.8 94.6,449.9 95.3,450.9C96,451.8 96.3,447.5 97,446.5C97.8,445.4 98.5,445.6 99.4,445C100.2,444.5 100.9,442.5 101.7,443.6C102.5,444.6 103.2,449.3 104,450.9C104.9,452.4 105.6,452.8 106.4,452.3C107.1,451.8 107.5,447.4 108.1,447.9C108.7,448.5 109,453.9 109.8,455.2C110.7,456.5 111.8,454.4 112.8,455.2C113.7,456 114.2,459.1 115.1,459.6C115.9,460.1 116.5,458 117.4,458.1C118.3,458.3 119,460.4 120,460.5C121,460.6 121.9,459.1 122.9,458.7C124,458.3 125.1,457.7 125.9,458.1C126.6,458.6 126.6,459.2 127.3,461C128,462.9 128.9,467.3 129.6,468.3C130.4,469.4 130.9,466 131.7,466.9C132.4,467.8 132.9,472.6 133.7,473.3C134.5,473.9 135.1,470.6 136,470.4C137,470.1 137.9,472.3 139,472.1C140,471.9 140.8,468.8 141.9,469.2C142.9,469.6 143.7,473 144.8,474.1C145.8,475.3 146.7,474.4 147.7,475.6C148.6,476.8 149.4,479.5 150,480.8C150.6,482.1 150.6,483.8 151.1,482.9C151.6,481.9 152.2,476.1 152.8,475.6C153.4,475.1 153.9,478.9 154.6,480C155.2,481 155.7,481.9 156.3,481.4C156.9,480.9 157.4,478.1 158,477C158.7,476 159.2,475.2 159.8,475.6C160.4,476 160.9,478.7 161.5,479.1C162.2,479.5 162.5,478.4 163.3,477.9C164,477.4 164.8,476.9 165.6,476.2C166.4,475.5 167,474.3 167.6,474.1C168.3,473.9 168.6,475.5 169.1,475C169.6,474.5 170.1,473.5 170.6,471.2C171,469 171.1,462.5 171.4,462.5C171.8,462.5 172,469.5 172.6,471.2C173.2,473 174.1,472.3 174.9,472.1C175.8,471.9 176.5,470.5 177.3,470.4C178,470.2 178.6,470.8 179.3,471.2C180,471.6 180.5,472.9 181.3,472.7C182.1,472.4 182.9,469.5 183.7,469.8C184.4,470 184.8,474.1 185.4,474.1C186,474.1 186.4,470.8 187.1,469.8C187.9,468.7 188.6,468.2 189.5,468.3C190.3,468.4 191,469.6 191.8,470.4C192.6,471.1 193.4,473.3 194.1,472.7C194.9,472.1 195.4,469.4 195.9,466.9C196.4,464.3 196.6,458.7 197,458.7C197.5,458.7 197.7,465.7 198.2,466.9C198.7,468.1 199.3,466.2 200,465.4C200.6,464.6 201.2,462 201.7,462.5C202.2,463 202.4,468.6 202.9,468.3C203.3,468.1 203.6,461.6 204,461C204.4,460.5 204.7,463.7 205.2,465.4C205.7,467.1 206.2,469.7 206.9,470.4C207.7,471 208.5,469.3 209.3,469.2C210,469.1 210.5,472.8 211,469.8C211.5,466.7 211.8,453.9 212.2,452.3C212.6,450.7 212.9,459.9 213.3,461C213.8,462.2 214,458.2 214.5,458.7C215,459.2 215.6,462.2 216.3,464C216.9,465.7 217.4,468.1 218,468.3C218.6,468.6 219.1,466.2 219.7,465.4C220.4,464.6 221,464.7 221.5,464C222,463.2 222.2,461.8 222.7,461C223.1,460.3 223.4,460.1 223.8,459.6C224.2,459.1 224.7,460.2 225,458.1C225.3,456 225.3,450.6 225.6,447.9C225.9,445.3 226.4,444.6 226.7,443.6C227.1,442.5 227.4,442.4 227.6,442.1" fill="none" stroke="#2f5f9a" stroke-width="0.8" stroke-linejoin="round" clip-path="url(#c5)"/>
<path d="M44.7,514.9C44.9,514.4 45.4,512.2 45.8,512C46.2,511.7 46.6,513.4 47,513.4C47.4,513.4 47.7,511.9 48.1,512C48.6,512.1 48.9,513.9 49.3,514C49.7,514.2 50.1,513.5 50.5,512.8C50.9,512.2 51.2,510.4 51.6,510.5C52.1,510.6 52.4,513.2 52.8,513.4C53.2,513.7 53.6,512.8 54,512C54.4,511.2 54.7,513 55.1,509.1C55.6,505.1 55.9,493.4 56.3,490.1C56.7,486.8 57,488.6 57.5,490.7C57.9,492.8 58.3,501.4 58.6,501.8C58.9,502.2 58.9,494.9 59.2,493.1C59.5,491.2 60,489.8 60.4,491.6C60.8,493.4 61.2,502.5 61.5,503.2C61.9,504 61.8,495.4 62.1,496C62.4,496.5 62.9,503.5 63.3,506.2C63.7,508.8 64,510.8 64.4,510.5C64.9,510.3 65.2,503.9 65.6,504.7C66,505.5 66.4,515.4 66.8,514.9C67.2,514.4 67.5,502 67.9,501.8C68.4,501.5 68.7,511.9 69.1,513.4C69.5,515 69.8,510.1 70.3,510.5C70.7,510.9 71,515.5 71.4,515.8C71.9,516 72.2,516.1 72.6,512C73,507.9 73.3,493.3 73.8,493.1C74.2,492.8 74.5,506.4 74.9,510.5C75.3,514.6 75.6,514.6 76.1,515.8C76.6,516.9 77.1,516.9 77.8,516.9C78.6,516.9 79.3,516.9 80.2,515.8C81,514.6 81.8,512.5 82.5,510.5C83.2,508.5 83.7,505.8 84.2,504.7C84.8,503.5 85,503.6 85.4,504.1C85.8,504.6 86,506.5 86.6,507.6C87.1,508.8 87.7,509.7 88.3,510.5C88.9,511.3 89.4,511.2 90.1,512C90.7,512.8 91.1,514.1 91.8,514.9C92.5,515.7 93.3,516.2 94.1,516.3C95,516.5 95.6,516.3 96.5,515.8C97.3,515.2 98.1,514.9 98.8,513.4C99.5,512 100,508.9 100.5,507.6C101.1,506.3 101.3,505.6 101.7,506.2C102.1,506.7 102.3,509.1 102.9,510.5C103.4,511.9 103.9,513.1 104.6,514C105.3,515 106.1,515.3 106.9,515.8C107.8,516.2 108.4,516.3 109.3,516.3C110.1,516.3 110.8,516 111.6,515.8C112.4,515.5 113.1,515.3 113.9,514.9C114.8,514.5 115.5,513.3 116.3,513.4C117,513.6 117.4,516.8 118,515.8C118.6,514.7 119.2,510.9 119.7,507.6C120.3,504.3 120.5,498.5 120.9,497.4C121.3,496.4 121.7,499.4 122.1,501.8C122.5,504.1 122.7,508.4 123.2,510.5C123.8,512.6 124.4,514.5 125,513.4C125.6,512.4 126.3,509.8 126.7,504.7C127.2,499.6 127.3,484.4 127.6,484.9C127.9,485.4 128.1,502.2 128.5,507.6C128.8,513 129,513.3 129.6,514.9C130.3,516.5 131.1,516.2 132,516.3C132.8,516.5 133.6,516.5 134.3,515.8C135,515 135.5,512 136,512C136.6,512 136.6,515.2 137.2,515.8C137.8,516.3 138.7,515.3 139.5,514.9C140.4,514.5 141.1,514.7 141.9,513.4C142.6,512.1 143.1,507.5 143.6,507.6C144.1,507.7 144.1,512.5 144.8,514C145.4,515.5 146.2,515.6 147.1,515.8C148,515.9 149.2,514.9 150,514.9C150.8,514.9 151,516.5 151.6,515.8C152.2,515 152.9,510.7 153.4,510.5C153.9,510.4 153.9,513.7 154.6,514.9C155.2,516 156,516.7 156.9,516.9C157.7,517.2 158.4,516.7 159.2,516.3C160,516 160.7,515.4 161.5,514.9C162.4,514.4 163,513.7 163.9,513.4C164.7,513.2 165.4,513.3 166.2,513.4C167,513.5 167.8,513.5 168.5,514C169.3,514.5 169.6,516.2 170.3,516.3C170.9,516.5 171.4,515.7 172,514.9C172.6,514.1 173.1,512.8 173.8,512C174.4,511.2 175,510.3 175.5,510.5C176,510.8 176.1,513.2 176.7,513.4C177.2,513.7 177.8,511.7 178.4,512C179,512.2 179.4,514.6 180.2,514.9C180.9,515.1 181.8,514 182.5,513.4C183.2,512.9 183.6,511.7 184.2,512C184.9,512.2 185.4,514.6 186,514.9C186.6,515.1 187.1,513.3 187.7,513.4C188.4,513.6 188.7,515.5 189.5,515.8C190.2,516 191.1,514.8 191.8,514.9C192.5,515 192.9,516.9 193.6,516.3C194.2,515.8 194.8,511.9 195.3,512C195.8,512.1 195.9,515.9 196.5,516.9C197,518 197.6,518.4 198.2,517.8C198.8,517.2 199.4,514.7 200,513.4C200.5,512.1 200.7,510.3 201.1,510.5C201.5,510.8 201.8,514.6 202.3,514.9C202.8,515.1 203.4,511.8 204,512C204.7,512.1 205.1,515.2 205.8,515.8C206.4,516.3 206.9,515.8 207.5,514.9C208.1,513.9 208.7,510.4 209.3,510.5C209.8,510.7 209.8,514.7 210.4,515.8C211.1,516.8 211.9,516.5 212.8,516.3C213.6,516.2 214.2,515.4 215.1,514.9C215.9,514.4 216.7,513.3 217.4,513.4C218.1,513.6 218.5,515.7 219.2,515.8C219.8,515.9 220.3,514.2 220.9,514C221.5,513.9 222,515.3 222.7,514.9C223.3,514.5 223.9,513.7 224.4,512C224.9,510.2 225.1,505.8 225.6,505.3C226,504.8 226.4,507.6 226.7,509.1C227.1,510.5 227.4,512.6 227.6,513.4" fill="none" stroke="#f02028" stroke-width="0.8" stroke-linejoin="round" clip-path="url(#c5)"/>
<rect x="56.6" y="370.5" width="6.8" height="147.5" fill="#f06464" fill-opacity="0.38"/>
<rect x="44.1" y="370.5" width="202.1" height="147.5" fill="none" stroke="#8a8a8a" stroke-width="1"/>
<text x="38" y="521" font-size="7" text-anchor="end" fill="#222" stroke="#222" stroke-width="0.12">0</text>
<text x="38" y="491" font-size="7" text-anchor="end" fill="#222" stroke="#222" stroke-width="0.12">500</text>
<text x="38" y="462" font-size="7" text-anchor="end" fill="#222" stroke="#222" stroke-width="0.12">1000</text>
<text x="38" y="432" font-size="7" text-anchor="end" fill="#222" stroke="#222" stroke-width="0.12">1500</text>
<text x="38" y="403" font-size="7" text-anchor="end" fill="#222" stroke="#222" stroke-width="0.12">2000</text>
<text x="38" y="373" font-size="7" text-anchor="end" fill="#222" stroke="#222" stroke-width="0.12">2500</text>
<text x="44.1" y="529.3" font-size="7" text-anchor="middle" fill="#222" stroke="#222" stroke-width="0.12">0</text>
<text x="84.5" y="529.3" font-size="7" text-anchor="middle" fill="#222" stroke="#222" stroke-width="0.12">100</text>
<text x="124.9" y="529.3" font-size="7" text-anchor="middle" fill="#222" stroke="#222" stroke-width="0.12">200</text>
<text x="165.4" y="529.3" font-size="7" text-anchor="middle" fill="#222" stroke="#222" stroke-width="0.12">300</text>
<text x="205.8" y="529.3" font-size="7" text-anchor="middle" fill="#222" stroke="#222" stroke-width="0.12">400</text>
<text x="246.2" y="529.3" font-size="7" text-anchor="middle" fill="#222" stroke="#222" stroke-width="0.12">500</text>
<text x="19.3" y="445.2" font-size="7.3" text-anchor="middle" fill="#111" font-weight="bold" stroke="#111" stroke-width="0.2" transform="rotate(-90 19.3 445.2)">NH4-N (mg/L)</text>
<text x="145.5" y="539" font-size="7.2" text-anchor="middle" fill="#111" font-weight="bold" stroke="#111" stroke-width="0.2">Time (days)</text>
<text x="185.6" y="453" font-size="7.4" text-anchor="middle" fill="#2f5f9a" stroke="#2f5f9a" stroke-width="0.15">NH4-N Inlet</text>
<text x="187.2" y="505" font-size="7.4" text-anchor="middle" fill="#f03a42" stroke="#f03a42" stroke-width="0.12">NH4-N outlet</text>
<line x1="330.9" y1="370" x2="330.9" y2="520" stroke="#ececec" stroke-width="0.7"/>
<line x1="371.2" y1="370" x2="371.2" y2="520" stroke="#ececec" stroke-width="0.7"/>
<line x1="411.6" y1="370" x2="411.6" y2="520" stroke="#ececec" stroke-width="0.7"/>
<line x1="451.9" y1="370" x2="451.9" y2="520" stroke="#ececec" stroke-width="0.7"/>
<line x1="290.5" y1="505" x2="492.3" y2="505" stroke="#ececec" stroke-width="0.7"/>
<line x1="290.5" y1="490" x2="492.3" y2="490" stroke="#ececec" stroke-width="0.7"/>
<line x1="290.5" y1="475" x2="492.3" y2="475" stroke="#ececec" stroke-width="0.7"/>
<line x1="290.5" y1="460" x2="492.3" y2="460" stroke="#ececec" stroke-width="0.7"/>
<line x1="290.5" y1="445" x2="492.3" y2="445" stroke="#ececec" stroke-width="0.7"/>
<line x1="290.5" y1="430" x2="492.3" y2="430" stroke="#ececec" stroke-width="0.7"/>
<line x1="290.5" y1="415" x2="492.3" y2="415" stroke="#ececec" stroke-width="0.7"/>
<line x1="290.5" y1="400" x2="492.3" y2="400" stroke="#ececec" stroke-width="0.7"/>
<line x1="290.5" y1="385" x2="492.3" y2="385" stroke="#ececec" stroke-width="0.7"/>
<line x1="318.8" y1="501.3" x2="476.2" y2="397.2" stroke="#4a90d0" stroke-width="0.8"/>
<path d="M318.5,504.5h0M324.1,497.4h0M325.3,496.7h0M331.8,491.5h0M334.1,492.7h0M334.9,490.8h0M336.5,489.4h0M338,488.8h0M339.4,487.6h0M340.4,486.1h0M340.8,489.4h0M341.8,485.3h0M342.9,486.8h0M344.1,484.1h0M345.1,482.9h0M345.3,488.2h0M345.9,481.8h0M346.7,480.9h0M347.4,483.5h0M347.9,479.4h0M348.8,478.8h0M349.4,481.4h0M350.6,477.6h0M353.8,475.9h0M354.7,474.7h0M355.6,476.5h0M356.5,473.9h0M357.6,472.9h0M358.2,475.3h0M359.2,471.8h0M360,473.9h0M361.2,471.2h0M362.4,470.4h0M362.9,472.4h0M364.1,470h0M365.1,474.1h0M365.9,468.2h0M367.1,467.1h0M367.6,469.4h0M368.8,462.9h0M369.4,465.9h0M354.5,482.9h0M354.9,481.8h0M353.3,485.3h0M354.1,486.8h0M367.1,478.2h0M366.7,480.2h0M358,470.4h0M361.8,468.5h0M364.7,467.3h0M366.2,467.1h0M367.9,467.6h0M369.5,462.4h0M371.5,464.7h0M373.5,461.8h0M375,460h0M376.5,458.6h0M377.4,460.6h0M377.9,457.6h0M378.9,459.4h0M379.7,454.4h0M380.3,461.2h0M381.5,456.5h0M382.4,458.2h0M383.2,455.3h0M383.8,460.6h0M384.4,463.5h0M385.2,457.1h0M386.2,454.7h0M386.8,451.8h0M387.4,457.6h0M388.5,455.3h0M389.7,453.5h0M390.3,456.5h0M393,446.1h0M393.5,448h0M396.5,445.3h0M398.5,441.8h0M399.7,443.5h0M400.3,447.6h0M401.5,448.8h0M398.9,453.5h0M399.1,455.1h0M395,451.2h0M403.2,441.2h0M407.1,438.6h0M407.6,440.6h0M412.1,437.1h0M412.6,438.8h0M413.2,435.9h0M416.5,431.8h0M418.9,434.7h0M413,444.1h0M407.6,463.8h0M389.1,469.4h0M379.7,468.5h0M376.8,465.6h0M378.5,464.5h0M476.6,388.8h0M449.8,405.5h0M439.7,413.2h0M446.3,413.9h0M440.2,416.8h0M456.9,422.4h0M443.9,430.4h0M434.3,431.6h0M449.1,437.9h0M432.6,422.6h0M430.8,423.8h0M428.6,424.5h0M425.6,425.7h0M424.9,426.9h0M416.9,431.6h0M418.1,434.4h0M413.8,435.1h0M411.5,436.8h0M410.8,439.1h0M407.5,439.1h0M404.4,440.8h0M401.4,441.5h0M412.6,443.8h0M407.5,463.4h0M372,497.3h0M371.7,483.8h0M373.8,475.3h0M366.7,478.3h0M367,480.3h0" fill="none" stroke="#1f7fd0" stroke-width="2.1" stroke-linecap="round"/>
<path d="M328.3,508.3h0M334,512.5h0M337,513h0M343,512h0M344.7,517.3h0M340.8,503h0M342.5,503.8h0M345,503.8h0M342.2,498.7h0M345.8,494.2h0M348,494.2h0M353,494.7h0M349.7,506h0M362,502.2h0M374.7,494h0M375.8,476.2h0" fill="none" stroke="#f03030" stroke-width="2.1" stroke-linecap="round"/>
<rect x="290.5" y="370" width="201.8" height="150" fill="none" stroke="#585858" stroke-width="1.1"/>
<text x="283.5" y="523" font-size="7" text-anchor="end" fill="#222" stroke="#222" stroke-width="0.12">0</text>
<text x="283.5" y="508" font-size="7" text-anchor="end" fill="#222" stroke="#222" stroke-width="0.12">100</text>
<text x="283.5" y="493" font-size="7" text-anchor="end" fill="#222" stroke="#222" stroke-width="0.12">200</text>
<text x="283.5" y="478" font-size="7" text-anchor="end" fill="#222" stroke="#222" stroke-width="0.12">300</text>
<text x="283.5" y="463" font-size="7" text-anchor="end" fill="#222" stroke="#222" stroke-width="0.12">400</text>
<text x="283.5" y="448" font-size="7" text-anchor="end" fill="#222" stroke="#222" stroke-width="0.12">500</text>
<text x="283.5" y="433" font-size="7" text-anchor="end" fill="#222" stroke="#222" stroke-width="0.12">600</text>
<text x="283.5" y="418" font-size="7" text-anchor="end" fill="#222" stroke="#222" stroke-width="0.12">700</text>
<text x="283.5" y="403" font-size="7" text-anchor="end" fill="#222" stroke="#222" stroke-width="0.12">800</text>
<text x="283.5" y="388" font-size="7" text-anchor="end" fill="#222" stroke="#222" stroke-width="0.12">900</text>
<text x="283.5" y="373" font-size="7" text-anchor="end" fill="#222" stroke="#222" stroke-width="0.12">1000</text>
<text x="290.5" y="532" font-size="7" text-anchor="middle" fill="#222" stroke="#222" stroke-width="0.12">0</text>
<text x="330.9" y="532" font-size="7" text-anchor="middle" fill="#222" stroke="#222" stroke-width="0.12">200</text>
<text x="371.2" y="532" font-size="7" text-anchor="middle" fill="#222" stroke="#222" stroke-width="0.12">400</text>
<text x="411.6" y="532" font-size="7" text-anchor="middle" fill="#222" stroke="#222" stroke-width="0.12">600</text>
<text x="451.9" y="532" font-size="7" text-anchor="middle" fill="#222" stroke="#222" stroke-width="0.12">800</text>
<text x="492.3" y="532" font-size="7" text-anchor="middle" fill="#222" stroke="#222" stroke-width="0.12">1000</text>
<text x="263.3" y="439.5" font-size="7.15" text-anchor="middle" fill="#111" font-weight="bold" stroke="#111" stroke-width="0.2" transform="rotate(-90 263.3 439.5)">NH4-N Load removed (kg/d)</text>
<text x="391.2" y="541" font-size="7.2" text-anchor="middle" fill="#111" font-weight="bold" stroke="#111" stroke-width="0.2">NH4-N Load (kg/d)</text>
<text x="475.3" y="420" font-size="7.3" text-anchor="middle" fill="#222" stroke="#222" stroke-width="0.12">y = 0.89x</text>
<text x="475.5" y="428" font-size="7.3" text-anchor="middle" fill="#222" stroke="#222" stroke-width="0.12">R<tspan dy="-2.6" font-size="4.4">2</tspan><tspan dy="2.6"> = 0.9</tspan></text>
</svg>
</body></html>
